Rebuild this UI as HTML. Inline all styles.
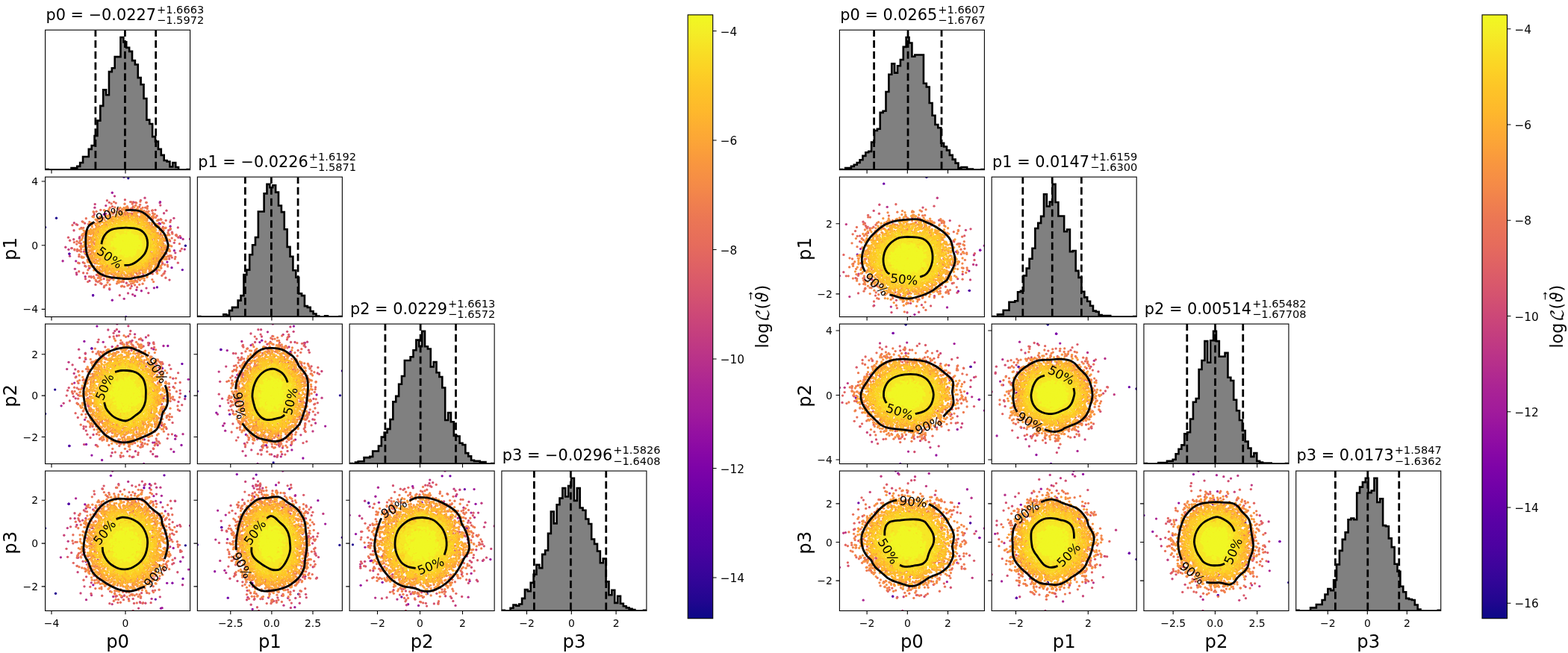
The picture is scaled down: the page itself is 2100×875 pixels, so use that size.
<!DOCTYPE html><html><head><meta charset="utf-8"><title>corner plots</title>
<style>html,body{margin:0;padding:0;background:#fff}body{width:2100px;height:875px;overflow:hidden}svg{display:block}text{font-family:"DejaVu Sans","Liberation Sans",sans-serif;fill:#000}.k0{marker:url(#m0)}.k1{marker:url(#m1)}.k2{marker:url(#m2)}.k3{marker:url(#m3)}.k4{marker:url(#m4)}.k5{marker:url(#m5)}.k6{marker:url(#m6)}.k7{marker:url(#m7)}.k8{marker:url(#m8)}.k9{marker:url(#m9)}.k10{marker:url(#m10)}.k11{marker:url(#m11)}.k12{marker:url(#m12)}.k13{marker:url(#m13)}.k14{marker:url(#m14)}.k15{marker:url(#m15)}.k16{marker:url(#m16)}.k17{marker:url(#m17)}.k18{marker:url(#m18)}.k19{marker:url(#m19)}.k20{marker:url(#m20)}.k21{marker:url(#m21)}.k22{marker:url(#m22)}.k23{marker:url(#m23)}.k24{marker:url(#m24)}.k25{marker:url(#m25)}.k26{marker:url(#m26)}.k27{marker:url(#m27)}</style>
</head><body>
<svg width="2100" height="875" viewBox="0 0 2100 875">
<defs><marker id="m0" overflow="visible" markerUnits="userSpaceOnUse" markerWidth="40" markerHeight="40" refX="20" refY="20" viewBox="0 0 40 40"><circle cx="20" cy="20" r="16.5" fill="#20068f"/></marker><marker id="m1" overflow="visible" markerUnits="userSpaceOnUse" markerWidth="40" markerHeight="40" refX="20" refY="20" viewBox="0 0 40 40"><circle cx="20" cy="20" r="16.5" fill="#310597"/></marker><marker id="m2" overflow="visible" markerUnits="userSpaceOnUse" markerWidth="40" markerHeight="40" refX="20" refY="20" viewBox="0 0 40 40"><circle cx="20" cy="20" r="16.5" fill="#43039e"/></marker><marker id="m3" overflow="visible" markerUnits="userSpaceOnUse" markerWidth="40" markerHeight="40" refX="20" refY="20" viewBox="0 0 40 40"><circle cx="20" cy="20" r="16.5" fill="#5102a3"/></marker><marker id="m4" overflow="visible" markerUnits="userSpaceOnUse" markerWidth="40" markerHeight="40" refX="20" refY="20" viewBox="0 0 40 40"><circle cx="20" cy="20" r="16.5" fill="#6001a6"/></marker><marker id="m5" overflow="visible" markerUnits="userSpaceOnUse" markerWidth="40" markerHeight="40" refX="20" refY="20" viewBox="0 0 40 40"><circle cx="20" cy="20" r="16.5" fill="#6e00a8"/></marker><marker id="m6" overflow="visible" markerUnits="userSpaceOnUse" markerWidth="40" markerHeight="40" refX="20" refY="20" viewBox="0 0 40 40"><circle cx="20" cy="20" r="16.5" fill="#7b02a8"/></marker><marker id="m7" overflow="visible" markerUnits="userSpaceOnUse" markerWidth="40" markerHeight="40" refX="20" refY="20" viewBox="0 0 40 40"><circle cx="20" cy="20" r="16.5" fill="#8808a6"/></marker><marker id="m8" overflow="visible" markerUnits="userSpaceOnUse" markerWidth="40" markerHeight="40" refX="20" refY="20" viewBox="0 0 40 40"><circle cx="20" cy="20" r="16.5" fill="#9511a1"/></marker><marker id="m9" overflow="visible" markerUnits="userSpaceOnUse" markerWidth="40" markerHeight="40" refX="20" refY="20" viewBox="0 0 40 40"><circle cx="20" cy="20" r="16.5" fill="#a21d9a"/></marker><marker id="m10" overflow="visible" markerUnits="userSpaceOnUse" markerWidth="40" markerHeight="40" refX="20" refY="20" viewBox="0 0 40 40"><circle cx="20" cy="20" r="16.5" fill="#ad2793"/></marker><marker id="m11" overflow="visible" markerUnits="userSpaceOnUse" markerWidth="40" markerHeight="40" refX="20" refY="20" viewBox="0 0 40 40"><circle cx="20" cy="20" r="16.5" fill="#b7318a"/></marker><marker id="m12" overflow="visible" markerUnits="userSpaceOnUse" markerWidth="40" markerHeight="40" refX="20" refY="20" viewBox="0 0 40 40"><circle cx="20" cy="20" r="16.5" fill="#c13b82"/></marker><marker id="m13" overflow="visible" markerUnits="userSpaceOnUse" markerWidth="40" markerHeight="40" refX="20" refY="20" viewBox="0 0 40 40"><circle cx="20" cy="20" r="16.5" fill="#ca457a"/></marker><marker id="m14" overflow="visible" markerUnits="userSpaceOnUse" markerWidth="40" markerHeight="40" refX="20" refY="20" viewBox="0 0 40 40"><circle cx="20" cy="20" r="16.5" fill="#d24f71"/></marker><marker id="m15" overflow="visible" markerUnits="userSpaceOnUse" markerWidth="40" markerHeight="40" refX="20" refY="20" viewBox="0 0 40 40"><circle cx="20" cy="20" r="16.5" fill="#da5a6a"/></marker><marker id="m16" overflow="visible" markerUnits="userSpaceOnUse" markerWidth="40" markerHeight="40" refX="20" refY="20" viewBox="0 0 40 40"><circle cx="20" cy="20" r="16.5" fill="#e26561"/></marker><marker id="m17" overflow="visible" markerUnits="userSpaceOnUse" markerWidth="40" markerHeight="40" refX="20" refY="20" viewBox="0 0 40 40"><circle cx="20" cy="20" r="16.5" fill="#e87059"/></marker><marker id="m18" overflow="visible" markerUnits="userSpaceOnUse" markerWidth="40" markerHeight="40" refX="20" refY="20" viewBox="0 0 40 40"><circle cx="20" cy="20" r="16.5" fill="#ee7b51"/></marker><marker id="m19" overflow="visible" markerUnits="userSpaceOnUse" markerWidth="40" markerHeight="40" refX="20" refY="20" viewBox="0 0 40 40"><circle cx="20" cy="20" r="16.5" fill="#f3874a"/></marker><marker id="m20" overflow="visible" markerUnits="userSpaceOnUse" markerWidth="40" markerHeight="40" refX="20" refY="20" viewBox="0 0 40 40"><circle cx="20" cy="20" r="16.5" fill="#f79342"/></marker><marker id="m21" overflow="visible" markerUnits="userSpaceOnUse" markerWidth="40" markerHeight="40" refX="20" refY="20" viewBox="0 0 40 40"><circle cx="20" cy="20" r="16.5" fill="#fb9f3a"/></marker><marker id="m22" overflow="visible" markerUnits="userSpaceOnUse" markerWidth="40" markerHeight="40" refX="20" refY="20" viewBox="0 0 40 40"><circle cx="20" cy="20" r="16.5" fill="#fdac33"/></marker><marker id="m23" overflow="visible" markerUnits="userSpaceOnUse" markerWidth="40" markerHeight="40" refX="20" refY="20" viewBox="0 0 40 40"><circle cx="20" cy="20" r="16.5" fill="#febb2b"/></marker><marker id="m24" overflow="visible" markerUnits="userSpaceOnUse" markerWidth="40" markerHeight="40" refX="20" refY="20" viewBox="0 0 40 40"><circle cx="20" cy="20" r="16.5" fill="#fdca26"/></marker><marker id="m25" overflow="visible" markerUnits="userSpaceOnUse" markerWidth="40" markerHeight="40" refX="20" refY="20" viewBox="0 0 40 40"><circle cx="20" cy="20" r="16.5" fill="#fad824"/></marker><marker id="m26" overflow="visible" markerUnits="userSpaceOnUse" markerWidth="40" markerHeight="40" refX="20" refY="20" viewBox="0 0 40 40"><circle cx="20" cy="20" r="16.5" fill="#f6e826"/></marker><marker id="m27" overflow="visible" markerUnits="userSpaceOnUse" markerWidth="40" markerHeight="40" refX="20" refY="20" viewBox="0 0 40 40"><circle cx="20" cy="20" r="16.5" fill="#f0f724"/></marker></defs>
<g>
<rect width="2100" height="875" fill="#fff"/>
<g transform="translate(0,0)">
<clipPath id="c000"><rect x="60.6" y="40.2" width="194" height="187.4"/></clipPath>
<g clip-path="url(#c000)">
<path d="M60.6 227.6V227.07H64.48V227.6H68.36V227.6H72.24V227.6H76.12V227.6H80V227.6H83.88V227.6H87.76V227.6H91.64V227.6H95.52V225.02H99.4V225.02H103.28V222.87H107.16V217.93H111.04V209.98H114.92V209.98H118.8V199.89H122.68V194.95H126.56V182.06H130.44V161.65H134.32V141.89H138.2V120.41H142.08V127.28H145.96V96.13H149.84V91.19H153.72V76.15H157.6V76.15H161.48V49.94H165.36V56.39H169.24V63.91H173.12V68.85H177V81.09H180.88V86.46H184.76V104.08H188.64V113.32H192.52V132.01H196.4V160.58H200.28V165.95H204.16V183.13H208.04V189.58H211.92V199.89H215.8V207.84H219.68V214.93H223.56V216.43H227.44V223.52H231.32V217.93H235.2V223.95H239.08V227.6H242.96V227.6H246.84V227.6H250.72V227.07H254.6V227.6Z" fill="#808080" stroke="#000" stroke-width="2.6" stroke-linejoin="miter"/>
<path d="M127.91 227.6V40.2M167.44 227.6V40.2M208.68 227.6V40.2" stroke="#000" stroke-width="2.78" stroke-dasharray="10 4.8" stroke-dashoffset="-0.9" fill="none"/>
</g>
<rect x="60.6" y="40.2" width="194" height="187.4" fill="none" stroke="#000" stroke-width="1.1"/>
<path d="M69 227.6v4.9M168 227.6v4.9" stroke="#000" stroke-width="1.1" fill="none"/>
<text x="61.5" y="26.6" font-size="20.83">p0 = −0.0227</text>
<text x="210.01" y="17.64" font-size="14.58">+1.6663</text>
<text x="210.01" y="32.34" font-size="14.58">−1.5972</text>
<clipPath id="c010"><rect x="60.6" y="237.15" width="194" height="187.4"/></clipPath>
<g clip-path="url(#c010)">
<radialGradient id="u010"><stop offset="0" stop-color="#f0f724"/><stop offset="0.17" stop-color="#f0f724"/><stop offset="0.33" stop-color="#f1f426"/><stop offset="0.5" stop-color="#f3ee27"/><stop offset="0.67" stop-color="#f6e626"/><stop offset="0.83" stop-color="#f9dd25"/><stop offset="1" stop-color="#fcd025"/></radialGradient>
<ellipse cx="169.88" cy="327.56" rx="31.74" ry="27.46" fill="url(#u010)"/>
<g transform="translate(60.6,237.15) scale(.1)" fill="none" stroke="none">
<path class="k0" d="M0 674l149-123 963-534 766 904"/>
<path class="k2" d="M1081 1874l-27-1874"/>
<path class="k3" d="M323 1029z"/>
<path class="k4" d="M640 1586z"/>
<path class="k5" d="M1498 1478l339-234"/>
<path class="k7" d="M550 978l342 377 802-140"/>
<path class="k8" d="M788 501l-159 335-89 196 357 619 645-521 91 9 181-325-275-478"/>
<path class="k9" d="M897 211l642 416 136 34 53 325-270 501"/>
<path class="k10" d="M810 492l714 129 47 536-283 369-87 67-339-87-451-379-176-1 1705-295"/>
<path class="k11" d="M679 645l-143 690 520 297 166-119 90-222 555-322-22-136-310-488"/>
<path class="k12" d="M663 410l149-26 117-127 726 514-125 358-30 122-329 323-580-353-193 11 23 75-92-247-16-88"/>
<path class="k13" d="M387 616l74 188-3 17 62 179-248-59 146 343 174 108 517 166 273-4-28-65 139-213 249-259-197-249-67-24 112-258 133 66-547-101 158-171-668 84-18 155"/>
<path class="k14" d="M430 642l53 40-99 34-3 120-30 118 125-64 57 303 505-73 50 301 68 42-159 122 667-206 63-497 56-72-6-132-96-99-167-3 28-197 82 71-315 23-146 23-91-24-90-36 201-98"/>
<path class="k15" d="M417 634l79-37 34 23 50 12 78-133 200 7 22 52-23-216-29-27 240-10 142 38 68-31-18 87 8 66-100-50 307 27-49 198 113 58 38-27 74 45 24-12 24 37-28 117-51 83 41 157 36-19 80 71 31-159-3-199-377 48-144 400 19 85-73 153-377-93-68-20-32 66-70-33 5-86 24 7-98 17-75 29-32-220 36-130 58-87-244 26-27-103-21-41 358 346 936 109"/>
<path class="k16" d="M364 645l158 110-17 37 162 47-15-363 256 16-10-97 48-46 195-15 17 155-56-7-29 21 35 23 240-45 22-88-18-50 79 108 64 69-15 24 65 22 71 17 57 20-51 425 37 41 169-107-235 329 20 60-176-53-205 107-28-21-86 63 22 45-92-87-30 0-158 91-73-18-113-35-103-39 18-69-28-46-51-3-59-20 4-111-3-90-24-74-35-13 193 214"/>
<path class="k17" d="M547 556l-14 183 31 105-98 10-42 9-3 36-33-24 5 94 37 2 50-3 0 32-39 150 103 49 74 147 29-11 70 12 18 6 16-20 54-16-98-16 20-55-1 147-19 13 33 18 52 36 25-13 202 19 39 4 142-22-1-114-41-18-129 11-62 13 14 28 8-104 389 35 13-99 59-101 105-165 51-83 22-12 68-20 6-59 46 19 8-3 5 14 37 105-55 177-6 25-96 102-59 100-20 22 11-595 38-42-59-113-109-14 4-21-7-50-2-39-81 17-16-54-60 19-11-57 3-43-52 19-54 12-7-23 18 57-19 58 1 75 110 7-39 52 13 29 186 112-74-385-436-8-34 24-4 118 41 0 56 59 9-113-246 20-57 20 2 172 70-59-96 322"/>
<path class="k18" d="M506 602l5 80-20 9 89 55 37-26-24-118 42-71 10-66 81 74 57 10 5-103 78-35 65-3 99 25 39 11 34 0 23-1 20-18-39-10 4 91-91 26-10-45-120 56-192 42-64 350-43 0-8-14-117 8-14-48 5 105-2 54 32 28-1 9 15 3 65 32-41 43 48 91 83 109 21 27 153-1-33-53-21-3-6-24 95 141 94-14 72 33 5-72 52-25-7-27 92-21 53-20 33-9-14 83-19 31-67-2 17 25-27 8-46 23 158-13 44-11 58-88 70 31 17 30-53-139 155-44 13-50 37 5 36 3-22-78 29-40 18 7 5-15 17 1-17-60 24-66 43-81-102-68 11-34 33-54-63-12-45 10 16 26 4-95-20-11-51-32-6 76-33-20-8-6-28 45-9-99 1-15 31-61-92 19-3-38 15-19-20-33-3-19-58 5-69 14-25-45-14 90-133-110 346 622-7 25 21 12 58 63 44 56 36-125-955 21 44 92"/>
<path class="k19" d="M462 697l74 34 25-4-70 55-8 136-4 28 47-16-10 147-21-2 61-16 35 40-21 39 27 58 45 8 33 43 48-9 50 4 27 11 41 45 49 4 28-22 44-33 42 10 12 44-14 51-4-1-12 66-18-15-97-35-36 47-87-39-15-19-27-2 18-45 27-9 11-99 68-15 130 4 257 93 56 5 35 45 10-8 9 62-59-4-43 14 17-48 228-110 35-63 38 26 21-66 22-48 41 11-2-27 5-121-31 4-3-22-9-15 5 55-17 13 93 3-36-163-59-13-20-31-36 1-7-33 83-66 70 94-164-194-27-42-33-11-14 3 22-19-76-32-24-15-25-15-31-10-12-6 13 34-52 3-11-44-21 12 34-39-6 125-1 45 89-74 71 115-6 17 42-3 19 456 31-12 28 15-13 24-817-2 36-78-79-24-13-1 1-136 21 3 1-84 35 1 39-39-11-27-41-100-7-6-36 22 63-57 11-16 24-5 31-11 59 46 78-26-51-114 12-22-54 15 169-27 12 47 27-16 48 39-13 36 41-122 17-12"/>
<path class="k20" d="M648 538l27 32 28 40 35-18 3-61 67-5 17-5 21 4 62 6-4 15-51-84 124 14 56-3 3-32 28-9-11-20-49 0 41 84 44-4 28 9 16-14 54 0 35-3 28-17-10-26-65 14 18-47 9 147-33 7-58-16-44 1 199 2 53-18-14-23-24-19 70 15 41-2 3 4-2 4-24 46-5 25-17 0-23 73 17 38 110 43 82-19 24 3 8 102 22 31-6 40 4 49-28 21 3 18 43-7-10 40-6 51 23 6-18 30-29-4-10 3-1 15-4 0-2-45-37 65-16 30-21 10 18 34-29 19 9 9-13 22 42 27 2 9 11-50 19 5 14-57-140-4-8 56-42-12-28-25-25 5 5-19-2 66-37-11-5 31 3 19-22 22 15 28 33 13 22-7 11 6 87-70 37-151-14-62 111-158 123 2-8 47 2-125-28-63-122-133-15-12-5-2-64-14-609 24-58 12-41 5-9 14-34-35-6 67-26 28-1 31 24 0-62 46-4 9-7 11-26 0 5 9 3 36-25 17-19 7-18-28-30-31 14-24 40 2 15-36-34-14-20-5 14-47 93-16 20-32-8-55-3 243 13 68-19 57-14 7-12-10-4 30 3 35-2 81-14 9 65 11-13 34-14 21 49-3-4 52 73 18 24-7 16 7 57 4-10-31 10-27 22-3-56-74-53-25-25 15-8-3-80-29 38-61-15-18 89 13-169-81-15 6-24 21-26-39 301-120 11 504 24 19-9 11 30-11 68-7-8-13 29-12-31 70 68 14 21 10 47-23 7-28 8-41 33 8 32-18 18-7 32-3 21-18-42 70-5 37-8-3-30-4 19 30 43-6 16 14-80-205-405 93 25 28"/>
<path class="k21" d="M593 626l26 24 45-23 31 13-8 31-4 25-12 1-22 4-5 5-8 44 33 1-63 8-7-4 1-21-20-15-15 26-6 17-11-1 61 7-32 34-9 12-14 51-31 10 0 36 41-15 45-20 15-18 1 55-7 3-19 29 23 31 17 1 0 38-11 0 5 56-24 9-28-1 4-18 7 83 22-1 5 4 55-2 14 12 8 1 24-43 4-27 8 4-46-44-2 176-4 17 21-6 27-25 11-9 27-25 65 43 31-4-1 21-18 13-11 25-27 9 60-2 5 4 58 5 23 19 17 27 28-7 16 1-24 31 95-5 7-31 12 8 24 6-7-49 38-5-14-16-56-5-23 48 109-2 50 28 9-6 18-75 51-21 10 46 36-26 17-48 12-21 11-22-7-16 21-5-15 85 27 29 15-8-24 39-43 26 5 13 107-122 14-21 11 11 22 13 3-101 2-47 20-15-13-16 38 0 15 2-18 34-23-88-14 8 97-14 15 16-3-56 13-25-62 23-21-61 5-46-22 8-36-9-12-64-21-5-43-27-33-21-12-27-10-20 19-4 20 26 55-11 11 2-19-14-23-47-20 8-52-3-11 25-9-5-15-85 0-15-23-43-36-40-60 25-22 9-20 33 46-3 5 21 17 93 63-57-229-47-37-17-24-13-19-1 3 14-21-31-21-12-38-18-32 30-19 30-30 14-50 52 29 29-55 4-34 19-20-11 32-52 55 80 34 88-11 96-96-14-35 12-141 142-19 55 76 173 265-35 119 74-137 113-15 3 69-751 166-133 12-35 64 16 376 224 20 76 24 35 21-12 20 31-3 31-107 61-81-111 28 271"/>
<path class="k22" d="M609 711l3 29 1 1 32-18 39 16 17 19-15 50-28-18-24 18-6 14 20 6-10 14 6 10-18 41 2 21 48 1 3-19 0-14-76-10-22 20-12-70 10-58 147-83-27-36 66 11 17-10 16-33-50-7 2-11 98-22-9-29 48 46-2 42 50-18-22-44 17-33 36-7-2-23-8 1-10 2 68-10 20-11 1 79-21-17-21 0 4-8 24 57 76 21 18-64-18-30 34-23 14 10 43-13 27-2-10 25 75 1 16-9 1 18 4 17-5 13-22-9 52-6 2-16 2-7 4 51 8-7-20 37 1 39-26 2 50-11 12 34-26 23 93 22 18 8 10 1 7-2 20-13-6-30-19 13-3-2-29-32-24 108-4 7-7-13 56 48 16 16 15 4-7 14 32 17-1 38-9 2 16 16 0 25 7 7 7 4 7 25 5-4-10 22 18 18-42-4-4-32-43 28-22 23-7 36 21 4 29 9 10-16 0-20 28 13 7-5 6 26-3 13-11 24-25 20-14-10-22 6 22 22-36 20-15 0 5 32-17 4-10 12 15 6-62 3-22 14-17-4-19-7-39 3-45 17-24-4-15 13-49 5 4-42-24 13 30-48 5 137-104 12 12-46-14-12-57 12 9 9 0 19-7 6 4 4-12-18-29-29-52-28 15-24-50-19-10-39-36 18-20 7 5 27-1 15-11 20-14-33-7-15-36 18-25-26-7-53 5-24-43 22-1-49-6 0 20-18 1-23-30-10-21 9 8 64 133-21 6-1 43 8 2 118 17 27-2 37 6 11 38-7-3-4-116-15-2-105-15-131-35-4-7-24 3-24-30-18-15-8 167-236 425-115 261 214 30-2 1-29 8 6 4 53 13-8 15-12 28 1-34 41-8 21 3 11 7 19 10 7 5 36 28-48-80-22-79-11-38 72-17 152-17 9-32 162-12 0-16-11-303-46"/>
<path class="k23" d="M702 647l1 48-5 10-8 12-8 8-9 22-7 27-5 14 40-14 24-14 1-44-8-26 21-10 13-17 21 16 21-15 7-10 13 9 19 5 18-20 16 0 3-11 3-34-6-11 4-24-28 10 0 29 4 9-27-3-31 12 3 72 9-8-17 21 23 22 40-25-115 91-46 49-4-1 5 16-6 33 0 3-14 41-3 22-39-2 8-36 13 10 56 39 3 14 3 35 9-6 27-10 32-2 0-15 18 50 9 60 7 35-37 0 0 29-16 2-15-13-6-20-18 33-3-88-12-6-7 12-18-5 17-26-19-30 71 46 42 131 7 10 17-32 14 52 12 3-7 30 41-17 20-24 30 9 0 23-8 4 3 8-21 11 56-25-2-12 44-29 35-9-4 32 15 0 19 16 22-10 31-2 12-11 17-23-7-14-51-2 12 87 6 25 28-21 4-17 11-14 12 9 3 6 0-24 25-20 25 11-2 31 23 2-13-68 67-5 3 31 51-7 13-14 16-3 1-20-9-23-5 2 12-15 18-8 41 3 3-7-8-12-3-6 5-17-45-2 27-47 6-18 23 8 5 6 5 3 18-11 0-23 22 16 27-3 3 4-25-28-3-25 7-16-8-14-16 15 55 8 7-51 15 1-20-29 5-8 6-23-51 21 1 16 12 28-2-110-9 1 0-25-7-13-8-6 2-21-7 42-4 14-9-1-3-23-19-16 16-44-16-17 2-4-48 1-17 13 0-31 21-15-13-31-35 1-6-8 13-15 4-3-38 0 3 7-11-22-17 3 9-21-27-2-18-8 7 24-44 1 4-18 2-13-13 0-3-3-6 4 2 7 30-15-9 54 14 30 36-10 54 51 76 43-4 71 20 52 3 9 14 6 72-72-36 273-5 45-26 57-20-9-92 8 2-19 6 35-43-43 75-120-15-18-178 297-124-7-21-27-27 13-1 26-113-118-18 11-23 15-71 37-47-339-7 6-86-79 300-243-1-17-8-3 27 13 17-7 14 20 16-5 1-21 36-8-18-23 41-1 25-2-1 27-21 14-18 20 114-11-3-19-7-2-8-21-5 1 31-8-41-27-179 35 2 5-47 2"/>
<path class="k24" d="M783 662l-3 34-11-1 35 0 19-15 41-3 12-2 13 4 14 0-5-11 1-26 24 4 0 5 13-10 11 0 0-33 23-1 6 2 6 19 10-8 23 4-7 15-12-43 3-17 38-26 12 47 14-2 18-8 31 7 5-17-11-4 26 8 6 27 22-2 18-22 12-12 4 24 4 21 24-17 4 48 46-11 17-9 4-8-8-17 17 36 31-4-4 34-25 8-5 13 8 9 26 1 6 5 13 2 7 2-12 4-10 7 13 14 20-9 2-3 16-8 6 18 14 6-2-14-37 22 2 14 15 45 25 0 10-7 8 5-5 12-15 14 39-27-13-27 0-20 23 5 26 78-19 26 6 11 7 25 8-4-42 5-18 1-2 16 1 12-22 5-3-15 13-10 38 24-3 18 6 6-2 11 5 10 0 14 2 9 1 12-66-1 0 17 13-1-26-4-7-21 28-23 28-4 9-22 44 7-19-40-100 24 10-70 22 181 2 13-3 18-12-10-21 10-18-2-1 11-15 8-6 13-2 13-4 18-6 7-11-14-3 2-2-8-9 18 4 23 20 4 10 15-47 10-23-3-13-8 0 17-16 1 5 17 34-10-1-31-1-16 9-27 15-33-53 23-5 26-5 13-32 9-1 7 10 11-26 15-12 10-3-29-8-1 18-17-34 69-38 3-19-27-18-3-7 0 30-14-20-24-44 23-9 36-30-8-2-13-5-6 7-16-12-19 26 0-49 6 7-23-34 14-15 9 4 6 14 7 22 15-72-16-8-12-10-28-3-26 4-21-27 16-5 0-20 13-9 11-17-2-7-29-4-20 25 1 0-17-12-24-1-12 7-16-23 4 2-27-10-28-12-9-20 1 8 9 6 15-17 4 12-54 5-22-30 6-7-18 13-20 7-1 0-24-4-17 1-21 27-7 29 11 2-20 36-15-13-35-19-4-8-5-2-9 7 2-19-7-17 12-9 10-12 2 5 30 23-14-8-55 9-20 13 8 24 15 40 25 38-43 9-63-15-12 26-22 39-1 40 97-7 86-159 64-26 25-7 73 34 23 20 25 18 72 54-19 18 2-139 2-30 7-8-5 7-13 10 83 75 25 2 3-15 16-116-232-14-10 18-64-12-63-4-13 619-71-15-70-21-89-96-27 204 572-6 20-1-1 75-67"/>
<path class="k25" d="M768 729l35 8 37 1 20-3 9-1-5-18 26-7 4 1 13 3 7-5 14-27 10-7-8-23 24-4 6 8 4-14 15 12 3 9 5 3 17-7 15 10-2-23 17 0-2-25 12 2 6 12 16-7 2-10 15 14 2 8 19 5 20 0 8 5 10 2 21-2 19-2 3-10-11-2 11-12-27 2-4-21-33 11-19 5-3 40-25-2-2 9 5 10-19 21 85 10-5-27 38 8 10-26 19 4 4-9 12-9-8-11 9 43 15 9 6 6 10-5-2 24 23-1 4-14 2-17-16-22-24 5-33 62 62 8 23 3-5 12 7 4 12 3 14-12 16-4 2 15-13 16-5 5 6 32 14-5 10-8-2-3 7 6 18-12 3-5 17 0-1 18 0 30-22 0-25-6-9 15 32 34 21-9 0-10 19-5 15 20 9 4-17 11-14 4-14 14 0 12 7 3-8 25-15 18 9 18-19 3 31 15-11 15-3-1-1 28-13 10 4 14 0 14-20-9-15-2-2-17-26-3 8 24-18 0-13-5-30-11-19 17 29 17-14 24 9 15 13-6 7-9 15-10 17-3 7 2 8-21 5 4 12 2-2 37-34 17-59 17-10 10-33 0-5-10 12 1-12-21-8-6-14 8-15 8-13-8-2-6 10-6-14 26 7 18-3 14-17-18-7 4-22-3-2 8-14-25-18 15-17-12 6-15-19 2-9 3-3 5-17 4-23-5-4 15-5 17 36-2 21-3 15 23 21-4-14-80-12-1-35 7-6-30-28-8-2-18-3-44-71 2-62 1-12 10-1 13-8-1 3 14 21 2-1 10 7 13 8 0 27 8-7 14 10 21 5 5 4 3 5-1-7 14 19 2 18-2-8 16-3-43 10 3 20 17-75 12-21 6 2-21-25 0-20-44 8-13-17-8-8-25-3-28 5-44 1-6-10-14 7-20 5-9 0-29-27 4-2 29-20 20-6-35-2-40-6-18 17 5-1-16 7-8-12-19 35-11-9-14-3-17 17 7 22 1 8-11 13 4-4 10 1 15-8-2-22 32-12-1 7 36-16 2 31-9 16 13 0 10 16 11-19 45-1 9-10 38-33-6 78 3 25-20 32-4 9-4-88 52 65-205-10-21 54-38 32-68-95-1-4 8-28 8-26 6 220-92 96 29 113 127 10 8 18 2 16-2-6 18-20-6 47-54 20-19 27 62-16 174-6 59-13-5-1 25 16-3 18 15 52-72 19 6 16 4-3-48 0-3-225 195-33 47-1 9"/>
<path class="k26" d="M847 756l13-4 2 16-8 15-4 14-12 0-4 9-1 21 29-2-1-14 15-12 17 23 21-2 14-7-3-12 8-9 7-16-15-10-5 4-1 12-24-5 5-14-8-13-6 4-6 6-7-27 32 5 7 16 10-31 7 7 14 2 20-16-2-28-5-3-24 17 52-1 5-5 3-24 4 4 38-2 2 17 12-5-3 23 5 5 21-3 12-7 4-1 21 5 2-13 5-3-8-12-12 3 34-10-13-21 9 57 0 12 13-2 7-3 14 6 3-10 6-20-3-21 34 8 10 27 7 9-23 2-6 10 5 9-8 12 9 16 22 3 2 11-9-26 29-5 11 2-5-9 3-12-8-5 22 12 2 53-8 8-3-14 28 17 6 11-5 15-2-1-14 0 14 20 13 12 8 0 4-4 6 17 23-9 10 0 17 2 1 6-1 15-24 4-6 9-6 14 12 1-4 8 3 11 9 1-22-2-9 2-16-1 1 24 7 18 12-3 8-5 5-16 16 20 1 17-25-2-10 28-7 6-2 12-8 4-12-2-4 4 2 14 19 4-34 19 6 20-41-6-5-2-4-6-10 7-22 1-3-2 2 13-29-5-18-1-2 9-6 9-18 5 3-17-1-3-1-15 16 1-2-18-11 1 25 2 3-8 23 2 10-4 2-10 8 4 2 17-9 0 28-23 10-4 9 2 2-8 10 11 10-2 2-23 16-15 13 2 0-7 8-3-15-29-17 14-24-2 0-9 5 21-4 8-21 11-10-42 34-43 12 0 8-15 17-6 26-10 49 11 16 5 10 30-12-87-32-5-2 1-25-24-7 5 11-30 7-4-160-28-7-13 21-23-36-6-32 12 2 23-16-3-5-31-23 15-22 8-7-18-16-6-12-12 9-12 0 47-10 1-2-11-20-9-3 17-9 1 30 18 16 10-24 64 58 5-16 20-4 95-11 29-14 10 6 36 13 1-4 23-11-5-22 8-6 0-5-9-29 5 3 14-24-8-22-2-15-9 28-5 15-5 5-12 5-23-30 7 1-29-4-9-11 1 0 4-4 19-27-8-10 0-1 12 8 11 3 9 3 9-14-5 2 16 4 18 52 19-11 17 31 3 5-5 22-2-1 29 2 12 7 7 14-29 20 0-4 8 1-18-8-5 26-11 11 8 3 9 25-8 9-2 1 18-6-2 13 0 14 2 8 14-19 14 42 0 34-7 21-16 48-7 12 7-7-63-140 13 8 27-52-12 9-17 8-14-115 69-18-7-3-136 21-6 1-11-7-10-29-19-10 6-6-1-3 23-18-2-3-11 7-1-22-9-10-12 2-17 23 6 1-26 9-24-2-22 20-1 15 13-13 16 18 9 11-2-79-3-3-7 0-11 14 0-42-8-4-3 10 36-5 38-1 2 0 16 7-2-3 20-2 10 2 7 21-12-9 47-2-1-35-85 254-266"/>
<path class="k27" d="M955 760l16 6 15 16 1 4 4 14-12-2-13 6-6 15-8 26-1 13 14 7 6-13 5-2 0 7 6 24 11-3 0-5 14-7 10 6 6-7-4-17 7-13 8-3 20-6 18-2-1 19-3-1 2 6-12 1 11 11 10 7 1 3-1 5 6 10-3 12 14-7-1 18 12 0 6 7 7 0 4 16-9 16 15 6-7 25 26 2-2-9-3 18-3 0-11 11 10 13 2-1 14 12 7-20 20-7-2-12-5-15 0-11-1-3 2-11-4-22 17-8 22 2-3 8-8 18 2 10 10-1 3 20-10 22-1 21-18 5-2 14 9 5-27 2-23 0-6 7-11-8-4 0-12-7-4-17-26 1-15 0 9-18 8 1 6-5 13-10-6-16-17 10-8-7 2-7-10-6-1 15-17-3-9-12 5-25 11 3 1-13 17-1 23-2-6 10 0 13-67 0-5-7-6-4 7-8 4-31 10-15 28-6 4 9-13 27-5-1-1-3-47 3-28 0 8 10 2 13-6 17-1 16 15 1-1-6 9 7 9 2 2-18-13-5-7 43 0 13-7-2-4 13 3 10-1 20-13-1-30-14 4-19-7-10 28-11 2-7-7-47-11 0-2-12-10 1 6-15 6 2 15-9 17-7-38-15-3-1-9-15 11-17-2-14-6 2-4-2 62 0 11 2 19-12 5-12 3-21 13-11 7 21 2 2 22-9-4-18 28 13 5 8 17 0 2-7 11 0 8 2 14 17 2 6 15-1-8-12 3-27 13 6 11 12 25 3 15 2 4-3 8 0-2 27-6 12-12 5-2-12 0-17-32 11-10 7 5 8 10 5 19 9-12 13-1 17-5 13-5-3-9 2-20 4-4-7 4-13-7-12-4-15 8-2-17 0-14 6 2 18-1 10-6 14 16 3 12 9 4 2-1 4 0 10 7 23 81-11 0-13-18-14 1-24 0-10 21 8 5 14 13 5 15-2 3-8 9 13 7 3-9 30 3 5-13 1 2 20-25-6 12-88 5-2-5-10-17 5-1-24 39 29-117-8-66 3-8-23-1-5 16-1-6-21-14-8 43 13-15-47 5-5-1-6-6-13 27-13 0 30-67-27-65 64-53-14-63 89 6 22 9 0-1 7-15 21 143 67 1 8-4 10 11 6-21 2 9 10-24 2 39 12 37 2 0 24-12 2 38-6 56 0-110-65"/>
</g></g>
<path d="M167.9 281.9C170.4 281.7 172.8 281.4 175.3 281.4C177.8 281.4 180.3 281.4 182.7 281.9C185.2 282.3 187.7 282.9 190.2 284.1C192.6 285.3 195.4 287.4 197.6 289.3C199.8 291.1 201.8 293.3 203.5 295.2C205.3 297.2 206.3 299.3 208.0 301.2C209.7 303.0 212.0 304.4 213.9 306.4C215.9 308.4 218.3 310.5 219.9 313.1C221.5 315.7 222.7 319.3 223.6 322.0C224.5 324.7 225.2 326.9 225.1 329.4C225.0 331.9 224.0 334.4 222.9 336.8C221.7 339.3 219.9 342.0 218.4 344.3C216.9 346.5 215.2 348.0 213.9 350.2C212.7 352.5 212.5 355.4 211.0 357.7C209.5 359.9 207.3 361.9 205.0 363.6C202.8 365.3 200.1 366.9 197.6 368.1C195.1 369.2 192.6 369.7 190.2 370.3C187.7 370.9 185.2 371.3 182.7 371.8C180.3 372.3 177.8 372.9 175.3 373.3C172.8 373.6 170.4 373.8 167.9 373.7C165.4 373.6 162.9 373.1 160.4 372.8C158.0 372.6 155.5 372.5 153.0 372.2C150.5 371.9 148.1 371.6 145.6 371.0C143.1 370.5 140.6 369.9 138.2 368.8C135.7 367.7 133.0 366.2 130.7 364.3C128.5 362.5 126.5 360.0 124.8 357.7C123.0 355.3 121.7 352.9 120.3 350.2C119.0 347.5 117.5 344.3 116.6 341.3C115.7 338.3 115.4 335.4 115.1 332.4C114.8 329.4 114.7 326.4 114.7 323.5C114.7 320.5 114.8 317.3 115.1 314.6C115.4 311.8 115.9 309.2 116.6 307.1C117.3 305.0 118.0 303.5 119.6 301.9C121.2 300.3 124.0 299.0 126.3 297.5" fill="none" stroke="#000" stroke-width="2.8" stroke-linejoin="round"/>
<text transform="translate(146.3,287.1) rotate(-18.0)" y="6.1" text-anchor="middle" font-size="16.67">90%</text>
<path d="M166.4 355.4C168.9 355.3 171.3 355.6 173.8 355.0C176.3 354.4 178.8 353.2 181.2 351.7C183.7 350.2 186.6 347.7 188.7 345.8C190.8 343.8 192.5 342.0 193.9 339.8C195.2 337.6 196.2 334.9 196.9 332.4C197.5 329.9 197.7 327.4 197.6 325.0C197.5 322.5 197.0 319.8 196.1 317.5C195.2 315.3 193.9 313.2 192.4 311.6C190.9 310.0 189.3 308.8 187.2 307.9C185.1 306.9 182.2 306.4 179.8 305.9C177.3 305.5 174.8 305.4 172.3 305.3C169.9 305.2 167.4 305.2 164.9 305.3C162.4 305.4 159.9 305.6 157.5 305.9C155.0 306.3 152.3 306.6 150.0 307.4C147.8 308.2 145.8 309.4 144.1 310.8C142.4 312.3 140.8 314.2 139.6 316.0C138.4 317.9 137.6 320.1 137.0 322.0C136.3 323.8 136.3 325.5 135.9 327.2" fill="none" stroke="#000" stroke-width="2.8" stroke-linejoin="round"/>
<text transform="translate(147.1,345.0) rotate(36.0)" y="6.1" text-anchor="middle" font-size="16.67">50%</text>
<rect x="60.6" y="237.15" width="194" height="187.4" fill="none" stroke="#000" stroke-width="1.1"/>
<text x="51" y="248.16" text-anchor="end" font-size="13.9">4</text>
<text x="51" y="333.8" text-anchor="end" font-size="13.9">0</text>
<text x="51" y="419.44" text-anchor="end" font-size="13.9">−4</text>
<path d="M69 424.55v4.9M168 424.55v4.9M60.6 243.06h-4.9M60.6 328.7h-4.9M60.6 414.34h-4.9" stroke="#000" stroke-width="1.1" fill="none"/>
<text transform="translate(22.4,333.45) rotate(-90)" text-anchor="middle" font-size="24.3">p1</text>
<clipPath id="c011"><rect x="264.37" y="237.15" width="194" height="187.4"/></clipPath>
<g clip-path="url(#c011)">
<path d="M264.37 424.55V424.02H268.25V424.55H272.13V424.55H276.01V424.55H279.89V424.55H283.77V424.55H287.65V424.55H291.53V424.55H295.41V424.55H299.29V421.32H303.17V422.61H307.05V416.15H310.93V411.84H314.81V411.84H318.69V402.59H322.57V396.13H326.45V368.13H330.33V361.67H334.21V341.21H338.09V328.29H341.97V317.96H345.85V283.5H349.73V283.5H353.61V259.38H357.49V246.89H361.37V251.2H365.25V248.19H369.13V257.66H373.01V275.53H376.89V284.15H380.77V307.19H384.65V330.88H388.53V343.8H392.41V362.32H396.29V371.79H400.17V393.33H404.05V396.13H407.93V410.12H411.81V411.84H415.69V417.01H419.57V420.46H423.45V423.47H427.33V424.55H431.21V424.55H435.09V423.26H438.97V424.55H442.85V424.55H446.73V424.55H450.61V424.55H454.49V424.02H458.37V424.55Z" fill="#808080" stroke="#000" stroke-width="2.6" stroke-linejoin="miter"/>
<path d="M328.42 424.55V237.15M363.4 424.55V237.15M399.09 424.55V237.15" stroke="#000" stroke-width="2.78" stroke-dasharray="10 4.8" stroke-dashoffset="-0.9" fill="none"/>
</g>
<rect x="264.37" y="237.15" width="194" height="187.4" fill="none" stroke="#000" stroke-width="1.1"/>
<path d="M308.8 424.55v4.9M363.9 424.55v4.9M419 424.55v4.9" stroke="#000" stroke-width="1.1" fill="none"/>
<text x="265.27" y="223.55" font-size="20.83">p1 = −0.0226</text>
<text x="413.78" y="214.59" font-size="14.58">+1.6192</text>
<text x="413.78" y="229.29" font-size="14.58">−1.5871</text>
<clipPath id="c020"><rect x="60.6" y="434.1" width="194" height="187.4"/></clipPath>
<g clip-path="url(#c020)">
<radialGradient id="u020"><stop offset="0" stop-color="#f0f724"/><stop offset="0.17" stop-color="#f1f525"/><stop offset="0.33" stop-color="#f2f227"/><stop offset="0.5" stop-color="#f4ed27"/><stop offset="0.67" stop-color="#f6e626"/><stop offset="0.83" stop-color="#f9dc24"/><stop offset="1" stop-color="#fcce25"/></radialGradient>
<ellipse cx="168.24" cy="529.2" rx="31.74" ry="35.53" fill="url(#u020)"/>
<g transform="translate(60.6,434.1) scale(.1)" fill="none" stroke="none">
<path class="k0" d="M131 880l-131 323 1875-234"/>
<path class="k3" d="M323 1634z"/>
<path class="k4" d="M623 328z"/>
<path class="k5" d="M1319 382l249 212 265-59"/>
<path class="k7" d="M549 1613l1192-117"/>
<path class="k8" d="M693 30l-170 203 1119 61-88 657 5 193 265 480-1064 200-137-64"/>
<path class="k9" d="M1393 259l58 79 137 661 329-257-176 799-19 172-257-123-145 284"/>
<path class="k10" d="M776 242l808 52-43 220 399 391-613 643-485-109-627-342 176-307"/>
<path class="k11" d="M962 0l27 103-93 202 406-85-761 251-11 812 148 339 763-32 57 185 62-416 284 117 27-472"/>
<path class="k12" d="M314 512l-23 93 95 58 27 46 124-310 223 38 119 52 596 44-127-355-148-41 359 936-53 551-27 151 205-98-476 29-42 78-381-338-143-247-59-91"/>
<path class="k13" d="M450 341l-48 267 41 347-37 42-160 65 341-159 57 581-124 131 375 111-14 43 219-62 341 37 314-240 29-461-143-46-114-346-67 19-114-103 78-241-260-104-51-195-181 68 27 64-117-80"/>
<path class="k14" d="M365 548l78 86 18-181 76-62 167-149 265 52-10 36-26 63 188-27 29-125-38-77 30-70-184-20-43 48 115 145 285 31 68-15 68-36 71 338-247-58 437 204 3 113 94 88-134 101-107-24-154 185 385-32-386 546-232-214-163-56-472-8-31-27-23-544-176-4 63 117"/>
<path class="k15" d="M715 210l-9 166 66 57 176 124-259 121-53-8-97 91 39 321-71 86-70 86 78 119 30 4 89-4-71 108 41 43 83 101 370-15-46 173 173-3 58-27 31-102 16-35 6-95 225 57 116-43 62-58-74-73-47-51 128-30 126-237-26-196-145-43-3-48 25-197-20-51-88-16 206 121-349 393 22 158-74-954 2-99-96 54-150 27-40 31 60 88-292-180-564 717-13 69 42 69"/>
<path class="k16" d="M524 504l55 106-22 121-52 21-79 106-66 46 9 29 71 68 0 73-35 122 186-52-18-45-3-104 172 538 249 64 54-21 81 38 75-19 102 48-57 82-202 46-38-7-69-46 59-255 91-6 399 82-40 130 5 5 197-194 15-197-81-109-97 57-51-330 74-103 51-161-72-101-63-96-130-6 46-74 119-48-4-44-6-12-191-50-85 79-80-35-38 26-47-17-92-90 219-33-332 172-60 68 1063 408-137 154 62 80"/>
<path class="k17" d="M538 455l12 149 164-51-9-39 27-90-48-24-49-26 179 14 26-46 78 0 0 49-102 73-24-13 320-57-33-51-36-29-12-67-44-92 212 26 79 14-65 123-32-15-34 20 86 67 25-10 248 110 59 24 10 192-47 68 16 28-99-70 305-5-7 65 15 114 41 76-89 26-34-11-42-19 13-14-64 162 190-28 5 51-82 97-81 136-208 46-23 135 109 3-1 35-18 8-8 18 67-29-234-4-181 44-126-3 19-27-158 16-151 17 29-98-42-67-24-149 78-17 16-10-36-59-76-59-26-33-78 61 2 42-69 99-51-290-30-157-35 9 30-62-30-49 84-9 4 82-43-158 253 14 240 729 319-89 238-101-325 501"/>
<path class="k18" d="M667 330l118 42-101 113-5 8-37 17-17-2-9 7-47 122-70-2-56 4-9 130 81-25 45 32 54 5 25-76 86 107-108 177-49 74-134 9 29-109 0-45-40 17 90-34-1 260-24 52 114 45-33 47 38 50-7 24 55 37 37-78 26 6 61 19 47-61 128 50-18 70 45 127 1 25 54-2 35-12 3-79 34-22 115-11 28-56 54-60 76 45 26-77 62 43 43 20 45-30 5-13 24 33 2 88-116-8-89 83-14 97-34-9-28 24-24 22-116-42-22-17-12 91-65-10-48 55-118-54-75-136-42 12-22 10 17-40 742-259 14-47 57-19 36 38 13-4 24 17 3-38-12 75-31-28-72-122 70-107 60-37 26-11-44-90-40 14-11-125 59-61-43-59-60 10-21-67-15-23-5-68-42 17-33 57 33 35-90-61-34-27-42-3-37-21-69-50-37-18 1-126-26-44-60 23-52-19-30-51 42-64 26 17-155 24 145 148 210 28 25 7-5-70-26-31-54-37 154 180 33 28 72-105-18 565-34-4 33 88 270-137-658-261"/>
<path class="k19" d="M607 473l15 54 36 19 0-43-13 83 4 110-1 93-93-12 11-23-107 1-4-67 7 270 84-49 23-19 65 8-34 36 65 82-30 48-97 15-36-16-4-3-21 57 5 5 109 41 43 49 89-28 12 124-41 1-12 63-61-41-39-20 183 17 34 12-1-56 20 130 46-10 12 34 13 70 4 28-60 7-5 23-74-36 6-14-38-29-13-37 231 23 73-28 50-7 28 21 11 81 2 17-50-42-24 10 154 61 56 48 31-87 7-46 91 5 60-8 69-9-33-43 19-73 36 7 12 8 46 21 9-35 10 7 1-38-28-68-82 37-182 5-124 115-54 212 392-603 115 6-37-82 51-42 8-122-32-4-18-10-40-45-57 47-34 33 20 59-57-101-2-9-11-68 11-30 64 10-40-71-13-51 32-55 7-27 21-1-95-1-4-38 58-54 82 151 5 33 50 56-322-38-19-49-4-47 35 13-39-150 3-46 0-25-17-14 47 9-5 46-136-14-42-15-35 19-55 24-34 39-76 28 7 22-98 46-12-5-33-67-1-20-52 14 6 12-9-38 110-10 17-10 99-126 154 209-369 229 950 470"/>
<path class="k20" d="M566 575l3 13 30 27-6 27 16 73 25-14 15 62-36 9-3 34-43-11-1-3-12 4-37-7 3 61 17-10-59 36-9 35 22 51 17 2 3 15 31-36 7-15 6 77 2 8 6 31-33-5-4 96-31-17-27-22 187 4-9-35-29 92 78 2 16-3-4-20-1 137-41 7-5 46-20 23 52-2 22 20 5-42 38 61 63 24 5 54-40 6-56-25-32-31-96-82 12-47 193 1 104 62 53-19 77 73 20-8 5 95-25-9-40 68-43-42-21 77-25-12-25-8 6 39 67 1 94 11 60-11 26 9 6-12-14-31 1-32 43-12 9 19-19-40 17-44-27-36 57-10 3-14 77 23 45-6 1-7 0 66 62 29 8-73 13-2-4-22-32-57 101-7 21 7-4-83-10-8 92-60-24-31-12-18 1-23 8-16 7-2 36 12-18-85-38 27-42-46 9-54 61 11 9-84 28 1 29-21-29-77-35-118-20 2 1 17-10-55-115-18-22-54-10-51 22 0 59 4-19-29-45-47-28-56-51-1-5-20-4 118 32-5-112-31-22-20-25 87-13 9-59-17-10 59-122-37-40 22 8-61 20-70 41-3 39 23 34-31 18-113-1-49-62 30-46 44-58-8-14 14 26 43-19 32-30-14-56 6-16-13-15-31 25-9-64 58-7 20-43 83-42-14-25 25 1 57-24-18-16 2 80 57 1 31-24 24 26 32 54 0 15-22 32-29 18-27-40-42 81-6-168 180-114 129 5 91-95-262 809-95-30-321-119 9 46 986-94 23 127 161-13 50 54-9 24 31-29 31 239-106 44-62-102-299 209-83-4-57 5-13-822 553"/>
<path class="k21" d="M737 461l6 25-21 12 2 80-12-1 10 29-22 0-10-2-16-4-19-1 23-16 8 56-14 27-23 6-44-1-28 40-13 33 30-3-51 65-2 2-45 21 64 35-12 45-24 20-16 4 44 26 12-12 2 75 13 11 4 32 10 9 11-8 14-6-23-49 54-55 16-60 24-29 8-93 13-40 34 5 11-59 68 5-2 38-21-107-3-104 55-90 10-35 53 7 18 31 26-40 73-11 16-25-29-7 42-16-5-22 42 7-3 17 24 40-35 13 26 28 3 23 25 93 6 8 123 5 23 24-46 11-6 71 143-7-12-16-21-24 57 15 25-19 15-33-8-14-47-3 5-44-32-42-12-24-44-1-20-35-27 6-12 0 2 23 10 33 32 28 31 25 146-6 15 81 4 51 10-3-39-12-20 19-9 13-25 32 70 26 23 30 32-29 22-22 5 48-6 77-9-3 32 46-2 4 16 17 35-9 10-16 12 85-18 12-5 82 7 54-20 21-23-2-60-34-7-12 12-9 17-57-6-24 2-7-43 31 69 19-77-122-24 1 21 240-66 13-67 2 25-31-2 149 62-1-15 83 51 12-7 22 39-32 3-9 3-24 18-126-5-9-111 229-41-32-11-19-22-20-23 10-9 38-14 10-17-10-13 43 0 35 2 15-14 3 2 22 9 0-35 3-16-10-29-16-15 56-10-8-13 19-26-8-3 28-17 15 3-71-40 23 36-90 14-5-45-49 112 22 22-29 86-64-43-52 50 200 10-5 28 14 50 0-25-27-126 116-265-87-5-34-35-5-10-5-19-13-6-3-3 5-1-40-25 9 10-40-40-23 13-30 0-19-20 12-19-19-10 4-31-7-8-16-43 22-37 5-5 10-22-8-26 10-5-21 14-17-22-11 14-19-18-13-5-40 3-47-19-3-56 6-32-48 179 26 5 27 43 39 192 2 62 103-22 45-18 31-11 108-98-50-53 0 13 16 2 3-64-10 8-19 0-30-24 20-18-48 89-20-7 179 37 8 9 8-113-547-115-78 412-335 8-44-4-55 192-64 3-52 5 5"/>
<path class="k22" d="M686 541l35 18 23 9 9 13-6 29 0 11 3 15 6 33-19 44 2 4-37-5-18-3-12-26-13-46 23-43 17-4 59-49-5-12 1-30 13-34 69 16 17 9 20 11 0-37 17 12 11-4 20 1 5 14 4 8 13-30 16 6 25 35-7 20 3 21-55 25 1 6-75 26-24-28-26 32 38-82 56-83-13-38 58 24 48-3 32-7 25 27 49-2-5-48 12-7-36-6-4-24 62 51 19-12 37-4 9-25 52 68 37 12-8 11-68 17 0 28-40-1-16-25-80 17 37 47 135 11-3-26 118 7 23 14 16 19 12 6 24-2-6 22 27 10 36 19-21 23 3 13-11-1-67-9-16-5 29-16-16-18-42-4-18 32-19-7-9-31 22 71 21 79 102-6-10-22 36 4 7 31 21-16 6-25-7-17 36 24 12 84-21 3 8 22 0 25-16-4-16 13-3-28-14 2 2-9-26-26-39 39-22 13-3 66 1 36 48 22 20-17 11 33 19-16 10 5 42 0 6-9-17-5 34-25 6-52-31-14-15 13-21 26-18-16 111 15 6 89-24 21-32 3-11 24 0 7-48-3 0-22-8 5 3-13 19 58-32 37-5 3 18 14 7 23 47 5 0-17-18 42-23 45-36 8-20-1-16 29-29 25-14 18-5-4-45 3-26-20-9 1 58-15 5 87 0 25 2 14-3 23-9 14-40 5-28-20-23 17-1-39-3 2 23-28 34-2-9 14 99-43 19 9 9 10-27 66 64-122 32 1 1-32-12-3-24-62-47-50-5-110-203 155 25 48-38 56-26 3-13 50-4 14-8 47 37-7 9 51 29 3-93 36-25 34-67-2-23-48-4-31-19-15-2-21-32 9-52 0 9-40-55 6-12 28 4 11-4-72-9 7-7-28-26 14-7-3 2 15-6-2 11-55 57-12 25 15-26-61-8-84 32 1 130 26 147-36-55 226-19-3-53-12 17 51-6 26 40 15 11-9-163 12 3 19-21 11 49-130 7 0-223-98-42-18-30-15-8-13-17-13 40 0 7-12 1-7 28 13 10-50-45-14 8-58 45 10 24 22 3-127-47-31-42 4-8-35 6-22-52-16-16-19-5-7 14-21-19-9 10-20 27 5 7-3 11-26-8-67-26 5-8 25 106 68 88-13-187 118-4 41 27 17 24 22-3 9-59-1 5 19-7 8-9 6-23-32-20 4 24-123-24-28 82 303 7 9 737-715"/>
<path class="k23" d="M749 567l3 33 15 5 7 22 7 4 9 1-14 13-16 16-10-2-22 12-1 21-18-33-7-5-13 9-4 55-2 10-14-14 44 32 14 9-14 20 29 5 24-18 11-7 9-8-1-7 11 17 12-40-47 17-33 85-9 42-10-8-22 9-29-3-5-11-12 30 45 22 37-2 41 26-68 15 2 7-10 11-17 13-10 13 0 5-39 7-20 32 9 63 52 15 15-24 4-9-24-3 3-26 67 54-3 97 14 1 0-7 23-6-3 35 15 5 15 0 18 3 17 2-19 16-36 1-1 25-36-3-4-1 14 25 0-51-21-16-22 15-19-36 0-17-32-30 160 3 27 8 31-9 47 83-13 78-39 13-2 8 15 21 8 12 31 3 21-25 21 34-9 10-3 5 10 10 14 8 17-12 9-19 24-3-35-17 10-13-6-12 0-35 87 53 28 3-20 38-15 5 9 16-13 12-10 17-13 1-10 20-11 11-11-46-24 8-58-2-1 3-76-40-24-57-8-25-16 4-23 25 19-296 10-20 23 9-56-31-17-15 61-175-136 6-55-33 255-92-41-60-1-43-3-46-17-10 2-9-29 13-4 2 75-13-4-19 20-6 13 32 19 9 13-14 6-13-9-6 12-36 10-9 5 18 4 8 4-39 22 2 9-5-21-21 24-18 24-12 1 36 14 21-3 11 14 14 9-4-48 3 13 43-16 37 68-19 8-20 20 15 38-12 0 58 2 30 69-31 26 7 32 14 25 24-6 6 10 4-10 18 51 9 11-7 16-20 47-5 3 27-27 24 9 13 15 45 28 7-7 11-12 22 34 22 11 30-1 29 19-14 18-6 12-12 17 10 5 32-13 21-24 13 4 18-16-8-21-5-37 0-41 11 28-60-7-12-69-43 32-66 74-6 27 11-27-66-69-92-52-8-19-2-15-13 6-35-8-16 2-42-33 21-2 5-22 9-18-10 10-14-15-13-23 3 1-12-2-25-22 8 7 35-62 3 14-41-38 1 15-50 134 44-17 99 3 5-28-9 65 16 72-9 6 15-9 70-275 43-126-85-16 6-41-24-5-110 623 435 9 61 30-7 5 28 1 34 9 12-36 23-4 40-8 13-34-12-14-5-17 6-12 17 15 19 47 17 11 15 10 15-21 14-8-6-7-17-12 47-11 22-8 12-11 1-15-4-1 44 19 8 7-27 32 28 4-55 10-14-116-14-6-3-12 59-8 13 8 12-38-27-12 55-22 12 4 32-6 20-21-25 44-4 27 19 6 46 17-9-54 10-60-7-44 17-5-4-5 31-27-1-1-50-9 3-17 0 45-52 19-24 12 2 2 4 8-17-24-34-8 6 71-1 8-12-19-123 157 9-33-87 115-16-13-13 8-32 7-18 14 2 14-14-62 14 15-53-48 384-213 48"/>
<path class="k24" d="M866 532l4 12-8 18-23 5-14 29 2 11 31 13 22 7 10-12 12 3-5 21-21 9-6 34-32-19-4 43 27 22 7 16-55 6-44 10-3-21 4-8 7-19 5-2-21-6-19 1-9-2-37 30 15 26 21 34 28-5-16 29 14 17-4 12-18 2-14 13-8 24-1 7-21 18 1 24 11-10 28-1 19 21-20 54 10 15 8 18 8 14 9 2 6-8 23-12 8 2 34 2-24-54-100 5-8 14-13 9 18 17-17 19-8 8 10 13 9 19 7 20 18 19 6 16 0 9 7-5 15 5-2 5 27-10 1 27-2 15-6 12-4 17-5 19 27-30 3 0 14-22 17-15 2 59 19 4 11 3 14 19 1-40 22-1-14-18 38 38 36 39 56-3 1 29-16 21-7 20 42-2 21 4 18 16 23 2-6-22 4-16-22-2 28-38 21-55-60-14-31-57-65 35-23 135 4 9-12-14-15-9-12-8-20 3-16-10 0 50 26 31 42 11-5-27 45 47 29 9 9-21 10-6 0-20 3-6 17 6 80 8 16-4 3 10-22 20-25 3 4 8-11 2 2 16 29-80 2-3-2-9 78 4 0 13 22 7 7-6 4-19 12-4 24-8 10 18-21 27-67 7-3 3-6-11-3-1 27-59 7 4-15-30-35 14 97-8 20-12 29 6 11-1-5-7-2-6 13-22-25-12-9-48 15-45 43 1 26 4 12 8-2 4 7 4 5 1 0 25-13 17 3 7 2 14 23 4 10 7 13-26-29 1-28 32 2 38 19 3 6-5-62 0 14-15 3-74 43-50 44-10 5 0 7 26 18-64-26-26-4-15 8-13 6-5-12-55-31 1-2-30 13 2 23-5 14-16 6 5 7 18-39-32-41-6-10 6 6-20-14-16-6-32 1-13-1-31 25-5-3-10-1-26-8 4-14-16-19 3-4 8-12-29 7-36 10 7 9 11 14-7 24 6 8 13-21 0-25-47-7-27-16-29-33 9 5-58-23-1-12 5 21-31-83 20-8-5-32-1-18-2-17-1-11-12 28-8 13 0-10-13 42-1 17-16 18 85-11 20 28 0-3 33-27-7-53-50-21-13-46-6 16 36-11 20-83-14-5-27-1-31 3-23 12-21 17 5 35-11 7 18 3 2 18-8-4-27-41-12 13-15-53 24-39 12 0 8-33 18-7 5 13 20-9 17-11 16-39-2 0-7-8-1-4 0 13-51 22-7 59 58-18 41 1 14-4 33-20-12-17 14-23 1-112 1-1 6-6-10-6-5-6-33 32 18-15 183-129-8 6-42-9 172-16-10 23 44-2 10 11 33 54 25 16 5 13 10 14 13 0 36 11 152 37-12 7-6 10 8 403-17-24-89 16-22 54-19 40-2 35-13-14-18 0-10 4-36-17-6 56 9 19-29-24 74 36 24 0-226-8-10 0-31 22-7-5-9 17 6-1 27 23 2-32-55-121-5-21-73-19 12-16-17-104 403"/>
<path class="k25" d="M858 617l0 56 30-7 3-1 5-13 17-11 18-10 0-16 39-3-12-14-2-12 15-13 9 20 25-3-4 16 0 26-12 21-4 8 35-10 18-17 14-6 2-17 10-20 5-2 7-17 7 0 0 45 18 1-3 18-24 0 39 12 13-6 17 20 20 7-1-25 2-11-9-3 8-27 12-7 18-9 13-3 26 3-31 31-11-1 0 9 14 10 3 13 18 23 28-11 11 13 5 17-18 15 41-2 13 5 6-17 0-13-8-1-6 3 6-31-29-9-13-18 4 119-17 6-4-4-12 51 26 8 47-6 0-22 10-4 14 9 16 7 21 3 3 6-12 11 0 7-13 10-21 4 35 21 10 9-2 10-11 28 15 12 16-14 35 4 15 26-31 55-19 2 0-15-18 7-5 24-16-7-21-7-11 4 3-15-18-15 52-25-12 80-7 11 3 51 46 4-5-16 2-8 16 6 8 13 18-24-8-26 16-3 4-7-45 5-8-10 11-15-7 119-21 2-15 11-19-8-26-13-6 57 10 12-21 1-19-7-18 24 1 22-16 0-1 17 7 5-23 14-3 11-12 8-13 0-12 4-13-2-11-6-10 7-4 1-13 2 4 23 2 13 3-2-17-7 36 1 3 21 4 22-26 2-10 12-51-31-18-24-8-2-14-3-14 15-8-2-3 15-13 12 1 10-3-33-29 3 0-14-18-3 3 10 0-33 19 5 27-18-6-26 16-9-3-10-37 6-6 9-3 14-35 2 9 16-11 15-24-2 5-14 4 28-30-21 7-23 6-9 2-9-13-1-13 3-2-6-12-33-15 2-9 13 1-27-6-29-2-30 4-20 8-14-19-7 8-13-14-7-37-3 0 7 12 13 11 20-4 18-18-13-35-7-17-34 0-11-3-26 8-50 23-9 14 1 0-13 12-4 13 2-12 21-11 17-15 5 21 37 41-15 40 5 20-1 19 19-3 33-21-1 6 17-18 21 7 10 52-17 7-48-77-51 0-119 22 2 9-21 12-18 3-32 19 13-29-43-18-10 3-13-18-11-20 0-27 10 0 24-1 5-25-4 4 16 4 7 2 16 4 4 10 14-14 11-7 11-22 1 0 11-14 11 22 18 6 23-38 13 4-89 13-54 26-44 45 26 17 39 4 24 6 12-21-16-28 34 2 34 6-212 0-22 30 13 9 7-5 27 24-12 37 0-13-18 31 3 2-10 15-7 10-4 9 23 32 14-12 18-14 10-63 18 145-21 95-9 19-14-49-22 4-25-1-73 20 8 19-56 40 10-87-16-58 0 10 11-13 11 5 21-1 4-32-16-51 58 81 219 255 8-5 20 12-118 14-14 1-15 4-11 12-7-1 20 6-55 47 150 32 1-5-27-73 345-6 10 10 6-6 7 16 3 5 14-18 19-4 15-5-1 23 6-13 16-49-4-5-4-10-6-6-7 1 31-5 45-40 12 7-33-41-23-18-5-58-1-5 1-29 6-11 21 3 12 18-5-59-22 1-27 25-13 27-13 18-18 30-27 25-30 1-78 46 115 2 40-8 1 97 2 18-26-13 90-55-132 8-16-220-4 0 67-10 7-84 6-7 29-135-92"/>
<path class="k26" d="M887 685l11 44-16 12-10 13 5 12 8 10 8 2-5 10 11 18 8 18 14 18 30-2-5-32 8-22 10-5-6-7 20-6-5 20-59-5 11-14-9-14-2-14 4-21 4-12 7-3 3 10 17 5 39 4 4 16 36 4 11 11 15 5 13-10 37 1-5-28-12-12-1-6 4-5 28-3 21 2 0-13 6-4-9-12 17-24 20 17 22 7 17 1 13 7 0 23 14-9-1 21-9 17-11 5-5-17-21 7-20 2-3-19-8-3-9 2-22 11 22 30 23 9 17 11 14-3-4-20 27 2 11 14 5 1 11 12 13-9 21-13-7 36 3 9-9 2 1 28 0 6 2 19-2 11-7-5-5 11-10-19-31 3-5 15-2-33-16 1-6-23-15 2-12-15 42-7 10-6 3 2 5 16-17 6 38 2-10 14 61 3 7 16 7 5 14-4-2 15 6 13-14 8-13 8 10 11 5 12-1 17-11 5-17-6 4-7-17-23 2-13 2 66-1 20 5 13-23 0-21-7-11 20 50 5 36 0-4 4 10 1-4 7 6 5-24 2 2 14-23 2-9-3-11 26 6 11-3 11 3 10 11-5 14 11 23 5 9 0-8-20-19-14-11-9 36-7 27 6 16-38-17-52 3-12-25-10 6-7 18-34-3-16 11-28-55-61-159-27 22 85 19 66-3 25-28 33 17 108 7 24 5-3 25-2 10 4 15-1 11-6 4-10-7-6-6-19-14 7-20 53-9 8-16 9-15 1-6 4 0 3-7-1 0-5 3 39-3 6-22-2 2-2-7-7 3 18-5 25-10 7 14 12 9 5 6-12 4-23 15 9 18 1-5-8 2-3 12-15 13 6 13-17-8-19-14 0-21 18 6-58-49-8-3-8-2-16 16 12-36 13 1 43 9 4-37 5 5 21 9 15-10 10-26 4-5 2 12 13 31 0-60 8 18 19-32 12-39-38-6-18 2-13 17-14 6-13 4-20 0-9 5-3 3-3-2-22-36 13-30-3 3 19-1 11-1 4 10-6 1 13-5 5-10 21-6 4-5 7-6-15-3-35-11-3-15-5-7-11 3-9 23-6 16-12 10-16-1-14 17 9-3 24-23 24-26 36-43-30-6-33-12 10 12-50 11-12 12-18 9-7-2-8-2-10 4-14 3-6-3-7-7-11-21 1 0-2 2 13 12 7-32-1-11-11 5-32 1-14-15-6-19 1 9 12-8 25 2 29 6 14 28 24 10-1 6-3-22 29 76 0 1 3 19-4 16-20 15-13-27-7 3-8-14 10-3 3-9-9-2-24 5-1 8-20 2-18-17-20 10-27-9-13 21 2-22-36-2-12-15 1-10-7-7-21 4-15-17-15-16-12 0-17-4 45-9-4 22 18-21 38 3 5-13 10-4 32-9-3-4 8-23-27 62 9 13-9-6 33 9 26-4 6 2 11 13-15 30 26 40 16 24-30-19-20 67 0-25-52 15-27-2-20-118 30-71-26 126-103 39-57 22-3-2 12 28-1 0 20 20-11 10-9-17-9 2-26 2-12 9-5 10 9 30 3 3-6 13-5-25 26-8 11-53-9-15-8-23 0 36-47 185 31 12 35-14 15-7-7-8 0-99 378-28 25-20 4 1-15-8-27-65 9-61 30-7-1-6 7 92 61 43 9 27-3-12-27 26-8-26 73-4-4-4 0-84 47 217 9 30-24-1-2 41-55 25-13-6-20 15-14 15 0-8-17 38 21-23 23-21 34"/>
<path class="k27" d="M940 778l22 19 16 4 1-8 14-6 0-15 23 8-7 8 14 3-6 24 9 12-1 11-2 10-19-2 2 22 9 3 10 9 4 15 8-1-20 3-18 2-19 6-8 19-3 1 9 7 20 6 4 17-13 18 10 17 5-2 10 9 10 19 5 3-2 8 9 10 12-2-7 13 22-4 0 15-2 9-11 12-29 7-3 8-2 6 7 8 26 16-7 8 10 16 0 25 18-2 15-16 15-5 12 10 15-2 6-14 6-23-3-35 5-22-10-19-9-17-15 10-14-6-13-11-17-4 2-15-14 0-17 8 9-26 2-23 19 6 8-14-2-9 4-11 4-17 5 4-21 3-9 13-18 6 1-17 6-10-29 8 9 45 64 2 14-1 5 5-3 13-6 10-12 3-4-2 22 18 27-8 13 2 2 3 19 1 2 9 0 14-7-1 14 13 4 27 20-9 5 21 19-15-10-20 17-3 13 0 13-5 14-5 3-21-21 4-9-13 5-19 18 10 18-9-12-36-15-5-18-6-8-7-4 18 2 17-31-3-11 8-12-4-3 16 13 7 13 8 6 11-5 12 9 3 21-11-51-5 28-29-6-41 14 0-1-29-8-12 2-10-4-3-2-5-3-16 9-19 1-5-23-8-17 8-9 4-9-3-1-11-12-11-3 0-4-4-11 3-3-16 1-11 13-8-2-7-5-15 14-11-11-14-11-16 16-15-44 27-12 7 1 19 4 14-6 10 1 17 7 2-8 9-9 9-13-10 1-5-7 6 3-33-11-20-8-4-19-10 58-25 24 34 10 18-2 10-9 39 2 9-9 3 0 17 15 7 1 7 0 8 20 1 11-2 0 19-23 3 2-10 0 25-3 11 3 21 6 0 12 13 9-7 10 1 0 8 19-7 4-33-11-1-22-2 9 14 17-41 9 5 21 12 24-11 8 8 12 1 23-4-6-15-19-16 32-15-12 67 16 10-117-57 10-10-32-20-16-3-1 6 17-42 7 1 26-2-2-14 17-6-20-16 34-15 9 61-34 2-113 34-2 16 3 14 6 1 4 10 12-3-9-18 21 79 43 34-17 76-8 0 5 6-7 14-11 5-14 11 2 9-12 2 3 15 7 7 17-15 5-1-3-6-19-50-4-4-69-5-26-2-16-2 3 8-4 15 7 11 12 1 13 3-2 9 0-19 15 7-43 8 16 18 8 19 10 11-30-7 43 43-7-150-10 5-5 7-16-6-5-7-6 3-17-14-6 1 10-15-6-19-11-21-11 7-7-14 6-19-13-3-23-5-13-6-6 10 17 19 4 32-10 11 41 37 5 44 6-2 50-66-9-12-4-36-8-7 0-27-4 2-11-11-8-6-11 10-3-31-10-7 28-16 26 7 0-19 4-19-12 4-15-9-17-12-4-2-7 20 79-9-38 69-71 14 273 190 57 54"/>
</g></g>
<path d="M221.2 516.0C222.0 518.7 223.1 521.3 223.6 524.0C224.1 526.7 224.3 529.3 224.4 532.0C224.5 534.7 224.8 537.5 224.4 540.0C224.0 542.5 223.1 545.1 222.0 547.2C220.9 549.3 218.9 550.8 218.0 552.8C217.1 554.8 217.1 556.8 216.4 559.2C215.7 561.6 215.1 564.5 214.0 567.2C212.9 569.9 211.7 573.1 210.0 575.2C208.3 577.3 206.0 578.5 203.6 580.0C201.2 581.5 198.3 582.8 195.6 584.0C192.9 585.2 190.3 586.1 187.6 587.2C184.9 588.3 182.3 589.5 179.6 590.4C176.9 591.3 174.3 592.1 171.6 592.5C168.9 592.9 166.3 593.0 163.6 592.8C160.9 592.6 158.3 592.1 155.6 591.2C152.9 590.3 150.1 588.7 147.6 587.2C145.1 585.7 142.7 584.4 140.4 582.4C138.1 580.4 136.0 577.5 134.0 575.2C132.0 572.9 130.1 570.9 128.4 568.8C126.7 566.7 125.3 564.8 123.6 562.4C121.9 560.0 119.5 556.9 118.0 554.4C116.5 551.9 115.6 549.7 114.8 547.2C114.0 544.7 113.7 542.0 113.2 539.2C112.7 536.4 112.3 533.2 112.1 530.4C111.9 527.6 111.8 525.1 112.1 522.4C112.4 519.7 113.3 517.1 114.0 514.4C114.7 511.7 115.5 508.9 116.4 506.4C117.3 503.9 118.3 501.6 119.6 499.2C120.9 496.8 122.7 494.5 124.4 492.0C126.1 489.5 128.0 486.4 130.0 484.0C132.0 481.6 134.0 479.6 136.4 477.6C138.8 475.6 141.7 473.5 144.4 472.0C147.1 470.5 149.7 469.7 152.4 468.8C155.1 467.9 157.7 467.3 160.4 466.7C163.1 466.2 165.7 465.7 168.4 465.6C171.1 465.5 173.7 465.7 176.4 466.4C179.1 467.1 181.7 468.4 184.4 469.6C187.1 470.8 190.0 472.4 192.4 473.6C194.8 474.8 196.7 475.7 198.8 476.8" fill="none" stroke="#000" stroke-width="2.8" stroke-linejoin="round"/>
<text transform="translate(210.8,496.0) rotate(58.0)" y="6.1" text-anchor="middle" font-size="16.67">90%</text>
<path d="M154.0 498.4C156.7 497.8 159.3 496.8 162.0 496.5C164.7 496.2 167.3 496.3 170.0 496.5C172.7 496.7 175.5 496.9 178.0 497.6C180.5 498.3 183.1 499.3 185.2 500.8C187.3 502.3 189.3 504.3 190.8 506.4C192.3 508.5 193.3 511.1 194.0 513.6C194.7 516.1 195.1 518.9 195.3 521.6C195.5 524.3 195.4 526.9 195.3 529.6C195.2 532.3 195.3 535.1 194.8 537.6C194.3 540.1 193.6 542.4 192.4 544.8C191.2 547.2 189.5 550.0 187.6 552.0C185.7 554.0 183.3 555.2 181.2 556.8C179.1 558.4 176.9 560.4 174.8 561.6C172.7 562.8 170.8 563.9 168.4 564.0C166.0 564.1 162.9 563.2 160.4 562.4C157.9 561.6 155.5 560.7 153.2 559.2C150.9 557.7 148.7 555.6 146.8 553.6C144.9 551.6 143.2 549.6 142.0 547.2C140.8 544.8 140.4 541.9 139.6 539.2" fill="none" stroke="#000" stroke-width="2.8" stroke-linejoin="round"/>
<text transform="translate(139.9,518.4) rotate(-66.0)" y="6.1" text-anchor="middle" font-size="16.67">50%</text>
<rect x="60.6" y="434.1" width="194" height="187.4" fill="none" stroke="#000" stroke-width="1.1"/>
<text x="51" y="479.8" text-anchor="end" font-size="13.9">2</text>
<text x="51" y="535.2" text-anchor="end" font-size="13.9">0</text>
<text x="51" y="590.6" text-anchor="end" font-size="13.9">−2</text>
<path d="M69 621.5v4.9M168 621.5v4.9M60.6 474.7h-4.9M60.6 530.1h-4.9M60.6 585.5h-4.9" stroke="#000" stroke-width="1.1" fill="none"/>
<text transform="translate(22.4,530.4) rotate(-90)" text-anchor="middle" font-size="24.3">p2</text>
<clipPath id="c021"><rect x="264.37" y="434.1" width="194" height="187.4"/></clipPath>
<g clip-path="url(#c021)">
<radialGradient id="u021"><stop offset="0" stop-color="#f0f724"/><stop offset="0.17" stop-color="#f1f525"/><stop offset="0.33" stop-color="#f2f227"/><stop offset="0.5" stop-color="#f4ed27"/><stop offset="0.67" stop-color="#f6e626"/><stop offset="0.83" stop-color="#f9dc24"/><stop offset="1" stop-color="#fcd025"/></radialGradient>
<ellipse cx="364" cy="528.96" rx="28.27" ry="35.53" fill="url(#u021)"/>
<g transform="translate(264.37,434.1) scale(.1)" fill="none" stroke="none">
<path class="k0" d="M1911 957l-893 900"/>
<path class="k2" d="M0 902l1940-274"/>
<path class="k3" d="M869 1641z"/>
<path class="k4" d="M315 344z"/>
<path class="k5" d="M637 528l610-153-814 836"/>
<path class="k7" d="M537 682l113 801 271 143"/>
<path class="k8" d="M737 275l126-54 428-191 306 919-182 850-348-20 26-154-839-435"/>
<path class="k9" d="M399 355l436-110 76 1272 401 33-47 138-459 186 907-504"/>
<path class="k10" d="M717 285l722-32-636 1290-430-112-29-67-42-264"/>
<path class="k11" d="M595 234l-15 245 361-372 69-107 216 308 28 1314-135 155-163-209-594-236-91-122 1311 119"/>
<path class="k12" d="M288 640l310 73 165-267 390-57-5-247 80 25 439 824-171 198 50 249-405 222-108 113-189-83-197 76-16-164"/>
<path class="k13" d="M852 76l154 86 76 168 85-10 9 157 96 137 393 20-206 358-81 43 167 243-160 209-506-1 19 141 94 121 141-2-409-58-117 17-84-803-191 99-29-229 81-202 234 89 670-557-43-64 227 203"/>
<path class="k14" d="M716 129l99-53 46 93-89 75 164 27 6 110-65 10 230-102 199-45 122 11 6 25 13 27 43 44-126 221 245 87-113 281 60 63-112 57-11 103-224 242-124 89 122 209-504-257-226-246-32-98 80-78-236-83 192-547 193 162 529-454"/>
<path class="k15" d="M606 294l-12 98-80 4 31 56 78 67-19 163-92 35 31 45-66 166-62 129 60 281 92 52-22 130 96 127 215 102 219 8-9 22 33-138 158-103 1-9 7-47 151 113 47-20-19-241-75-94 43-142 152-21 46-20 5 133-38 27 54-545-121-80 17-25-129-6 23 105-204-145 35-277-51-36 15-35-239 68-184-41 54-60-42 358-28 70 7 890 175 41 541-1117"/>
<path class="k16" d="M611 284l5 26 56 19 114 50 106-74 68-42 46-61 95 48 122-108 179 120 26 29-80 63 44 178-9 89 56 168 143 60-62 178-95 22-67-113 70 333 13 114-13 23 12 27 87-76 40-75 48-699-457-109-457 62 12 80-93 118-155 25-6 39 8-101 25-81 0-54 102-114 175-278-216 848-28-28-78 43-40-15 15 139 36-7 140-22 220 157 46 170 33 54-29 126-6 54 71 22 1-57 2-4-126 91-65-142-78-11 19-65 40-101-268 27 63 111 592 26 62 164"/>
<path class="k17" d="M646 368l-23 99-31 1-34 14-10 37 22 44-54-8 99-30 27 36 27 33-103 42-12 29 39 14-31 117-26 28-59-15-82-37 24 213 99 3-1-87-55 145-5 45 21 79 111-37 21-24-6 100-52 110 18 21 87 71 95-42 43 9-108 174-45 70 356-13 3 36-2-103-63 1 151 55 8-2 12 27 90-45 68 3-2 24-1-131 61-114 120-78 15-2 11-18 7-17 20 59 54-129 26-46 0-59 12-63-72 27 54-122 9-36 10-101-24-129-37-19-49 99-7-1-9 93-85-241-31-40-18-43-26-21 36-45-33-43-51 9-45-3-5-72-69-14-1 90 27 51 222-64 11-46-60-81-127-72-75-25-149 31-68 124 26 28-161 7-10 28 198 1371 480-302"/>
<path class="k18" d="M664 333l78-54 32 77-24 93 20 42 0 43-86 3 26 46-78-77-47-38 13 187-17 25-60-53-2-15-43 20-6 3-26 85-24 43 7 200 0 33 26-7 6-10 7 67 40-5 5 4 1 18-32 23 69 18 5-61 16-71-16-133 79 19-10-89-98 398 23 66 8 71 51 8 48 1 129 0 15 31 32-80 2 238-21 29-53 3-91-38-96-79 1-39-42 16 409 32 89 99 43 35-11 55-22-9 1 49-15 6 97 51 2-106 21-45 39-34 25 11 9-5 7 21 17-16 50 23 29-110-44-20-24-2 26-116 99 1-7 35 74-1-4 11 16-133 10-5 24-6 17-68 3-132-39-16-33-14-33 70 88-129 45-46-15-40 62-61-56-109-13-2-10-67-12-34-9-19-6-15-47-6-49-11-69-5 7-15 3-21-25 99 4 29 2 40 94 40-10 93-62-11 133-33-298-205 14-25 65-92-78-76 14-34 8-4-93-20-1-52-19-41-36 17-23-35 3 108-55 54-3 37 38 9 47-2-57 111-77-43-39-23 41-178-35 1421 326-6-18-23 192-361"/>
<path class="k19" d="M702 357l20 3-10 59 58-19 35 3 35-26 1 55 31 25 18 6 86-58-15-26-10-13 58-5 55 13-32 64 63 68 83 24 44 61-16-144 3-17 5-23 50-54 7-34-138-3-4-39-60-52-63 46-43-7 5 37-76 17-137-12-82 181-74 61-69 35 28 108 96-31 24-6 68 85 69-152 9-21-24-15-190 301-89-4-68 10 27 76 19 81 52 0-12-28-19 79 10 40 31-18 22-38 30-31 6 81 29 68-35 44-11 56 20 3 26 27-54 23-22-8-27-13-54-88 113 217 24-2-33 21 123 46-23 33 47 18 80-26-14-18 92 16-19 105 157-37 9-79 35-37 17 78 24-14 0 38 47-36 56-2 21-49 66-3-9-68-9-47-38 2-34-31-43-9 39-43 56 23 37 33 26-57-9-104 46 18 19 24 11-57 56 6-7-51-21 2 35-19-117 25 2-135 38 36 29-96 36-37 20-20 20 84 32-27 2-175-16-5-12-5-9-5 0 36-44-45-41 3 65-41 69-7-93-61-2-37-51-74-88-44-44-6 66 321-21 129 41 475-183 27 16 57-77-105-139-8-116 53-96 5 11-54 18-4 361 274"/>
<path class="k20" d="M682 433l-10 31 31 32 21 23 38 46 67 50-3-111-8-7 6-49-35-20-4 1 5-20-25-3-20 31-32-30 82-75 48 46 38-36 0-19 41 47 79 15 63-26 21-5-8-38 1-27-18-4 37 20 74 3-13 75-51 18 28 107 54-31 40-50 57 86 11 76 21 37 63-15 11 6 3-43-20 13 55 2 4-9 11 86-43 7 6 37 17 6-12 12 2 43 21 10 9-15-16 66 2 35-5 8 40 3 3 20 51-26 1-59-146 45-17-120-5-201 19-32-343 7-21-11-76-18 58-226-375 272-7 31-22 23 55 40-78 37-5 21-5 16 34 13 0 27 28 18 72-14-42 80 5 53-48 28-14 20-4 3-61 6 0 24 10 7-25 10 10 10-23 26-4-62 9-41-36 0 5-75 0-40 35-14 19-18 30 117 58 135 10 63-9 17-26 19 3 7-3 56-10 7-17-34 53 12 9 10 29-3-3-62 12-46 15 195-49 40-24 4-11 53 40 39 42 31 25-47 11-44 29-13 38-30-2 96-30 7 17 24 9 55 12 42 23 14 4 9-5-40-66 22 16 43 12 2-50-85-14-10 169-8 30-4 86-9 47 28 88 27 80-6 19 18 10 19 32-19-29-49-15-65 32-11 23-9 75 31 24-83-3-49 15 8 38-6 17-37-26-43 60 3-31-96-24-55 68-23 20 13-41-40-24-48-131 111 10 14 27 172-64 27-149 61-60 8 110 80-106 139-37 35-17-16-21-10-18-7-6 17-49 10-10-11-13 1-19 7 69-50-426-265-15-65"/>
<path class="k21" d="M758 396l48 2 20-12 7 2-7 37 1 10-1 21-16 39 31 11-74 1-49-10-20-32 27-27 11-7 21 17 19 136-27 39-11 1-9-7-42-18 21-24-21-30-25-3-6-5 0 36 4 59-22 47-2 12 1 26 37 58 30 2-141 7-14 26-4 50-10-3 30 8 4 9 29-1 2-14 28-9 1 96 5 28 21-19-59-4-43 1-8-26-21-2 54-13-34 146 40 31-4 19-15 46-9 0 52 13 44 76-1 21-54 14 7 22-7 32 39 15 20 7 5-26 43 57-18 28 2 2 39 4 15-23 7-4 6 13 51-7 20-15-16 49 42 3 36 25-18 33-11 10 1 15 46 0 3-18 36 15 7 37 27-14 8-32-28-44-16-32 26-10 8 1 52 4 62 18-7 9-17 21-14 15 21 33 20 19 20-25 19-80 21 5 27 17 29 1-8-28 30-59 62-54 27-6 12 2-17 18-8-50-9-19 2-19 31-30 49 7 38 1-3-39 0-21 1-48-30-24 6-22-37 27-11-7 21 21-48 10 21-80-4-14 40-44 31 16 5 19 53 2-9-71 6-17 16-7 19-26-35-8-61 1-18-28 64-33 11-5 4-9-162-8-9-62 38-8 23 14 26-54-34-47 0-41-23-28 8-32-24-3-9-59-37 26-42 29-5-87-21-29 2-28-30-20-21-24 5-8-90 2-4-27-71 15-16-2 25 17-11 48-28-2-32 31-9-55-27-64 144 119 51-38 35 31 2 73 41-33 102-44-2 186 16 29 126-8 24 24-361-23-73-95-143 52-249 10 3 5-56 157 100 284 85 6 14 118 11 15-13 43 115 108 22 28 33 69-8 136-28 5-66-85-60 4 1 17-29-45-90-53 519-82-3-31 22 5 33-19-8-52 27 299"/>
<path class="k22" d="M642 586l17 53 13-10 3 30-43-3-1-2 35 44 10 15 22 18-11 23-34-6-4-12-15 0-39-2 7 11-14 22-6 0 20 31 13 17 9 29 52-7-8-17-9-21 9 101 12-9-123 4-1 34-5 39 28 36 25-11 10-38 24 115 4 2 31 5 11-10-8 48-17 10-8 28-11-6 20 41-11 18 33-3 11-38-105 0-10-37 41 110-6 24 45-16 50 28-6 15-3-3 31 2 39 12 42 2 14 15 2 58-11 31-23 15-19 14-6 16-28-26 39-28-4-15 14 2-38-45-31 29-40 13 4-35-4-8 110-70 93 57 4 49-15 13 4 29-17 9 12 39 22 2-44 17 53 45 81-2 26-20-5-23-3-30 19 11 14-28 21 16 2-1 48-9 20-4 47 6 36-16 29 0-4-25 17-9-14-15-39-11-36 35-41-30 3-84 126 1 13-12 36 12-6 12 25 7-7-56 12-16 26-34 21-14-1 30 10-73 25-33 2-27 9-24-5-51-28 3 1-13 7-7 6-41 19-28 3-42-15-43-3-28-13-4 39 2-6-64-20 17-15 3-2-11 1-34-13-17-8-22-9 5-2-54 32 25-92 11-15 0-7-7 0-28 22 0-30-30 0-24-6-14 9-13 11 1 0-17-32-3-3-11 11-22 40 8 19 49 5 31-79-17-29 23-40-59-16-71-14-23-7 6-2-22 0-32 46 9 20 70 16 16-89-14-15-26-24 18-2 58-30-25-52 7-23-11-23-16-50-10-35-7-36-9-6 22-25-1-19 25-3 16-40-22 2-6-44 65 53 37-1 4 34-7 9-6 12-7-2 32-16 7-9 16-63 8-6 62 141-89 62 0 3-172 7-26-17-12-13-14-26 33-39 12 149-1-18-37 44-23 27 37 72-43 22 325 133-11 20 23 6-1 12 25 29 7 22 49 10 97 2 21-14 17-25 13 12 89 8 38-38 65 3 32-13-3-2 24-21 54 5 128 28 2-10 30-240 6-12-16-19 11-56 32 19 52-11 20-31-123 3-20 17-22-6-13-23-3-210-286 708-42"/>
<path class="k23" d="M692 607l50 0 2 0-2-4 13-6 29-1 19-11 55 1 6-28-7-12-16 1-29-11 12-52 26-4-9-14 28 10 9-3 3-12-4 28 19 10 17-7-9 36 17 19 26-17 9 3 14-14-5-24 1-34 16-4 8 10 21 2 12-13-22-16 5-32 14 5 34 10 26 17 21 28-25 18-26-12 16 64 8 8-10 11 67-1 3-21 21 16 13 15 9 34-6 10-4 59 46 2-3-15 24 10 2-21 29 4 23 8 34-2 8 2-15 25-2 9-7 11-5 12 28-13 18 11 12 32 6 2-9 15 10 9 2 23-5 10-14 18-14 9-10-19-14-19 28-21-51-7-23 13-24-23-34-64 11-62 23-52 23 2 1-8-30-31-27-3-12-2-14-37-24 0-7-7-11-3-12 0 14-32 86 38-109 104-134-2 1-34 5-17-65 45-36-21 3 56-33 7-39-3-24 26 4 33-46-4 1-33 18-17-51 19-16 28-8 16-17-10-20-10-16 45 41-5 24 13 4 15 11 37-26-2-13-4-8 7-3 3 3 27 7 32 4 25 8 36-42 24 7 20 6 5-13 30 3 14-24-2-23-22-18 2 3 30 54 21-1 19 14-8 29 19 37 7-12 43-17 13 11 16-37 15-11 22 8 25 10 23-3 7 12 15 17 10 19-14 6-37 26 20 25 23 18 8-3 22-18 16-29 4-27 22-14 8-15-26-8-8-3-11-50-67-16-50 15-28 26-14-5-8 8-17 11-9 3 1-34-1-5-26 71-72-86-58-4-27 2-18-28 0-10 28 65-62 3-28-17-58 140-1-38-52 111-211 17 8 63-65 19-2 331 243-73 136 150 20 16-9 18-2 0 5-7 18-6 42-15 6-16-23-46 23-9 54 22 11 9-22 26 20-3 26-9 14-41-1-7 53 17 33 16 19 19 15 10 17-7 7-6 2 9 6 1 12-20 1-7 16 0 14-4 1-15-2 3-10-19-34-36 37-9-5-2 43-33-6-5-56 70 71-1 14 5 12-14-2-2 45-10 11-28 10-22 16-3 26-14 9-16-2-9 11-24-2-1 22 2 11-20 14 8 26-2 12-37-44 8-20 2-11-30 40-4 5-34-2-9 13-7-28-12-12-21-14 1-41 13 5 33 17 35-59 44-2 69 8-7 18 11 8-1 9-34 3 63 24 88-143 20 7 28-22 9-14 30-92-10-56-34 9 7 9-13-42 54-77 2-13 29-38-211 85-281 311-31 41-34-5-25 1-3 21 27 3-10 15-11 31 26 13 23-34 8 1 7 11 22-10-7-13 28 45-3 16-114-121-47 12-16 3-5 4"/>
<path class="k24" d="M839 519l24 19 18-2 1-4 11-5 3-6-12-11 33 7 12 8-4-21 16-9 2-11 8 58 1 3 20-15 5 43 9 4 1 4-57-3-5-15-11-3-13-9-21 10 0 15-3 3 14 10-9 30-17 2-5 39-15 13-28-1 10-22 0-16-15-12-16 2-8 34-10-5-5 11-32 1-6 12-11 3 29 15 3 23-7 8 18 6-7 11-24 18-13 37-14-9-12 2 2 9-2 28-3 36 17-2 1 32 0 29-3 3-13 21-9-5-14-21 5-11-21 6-3-31 10-21-16-21 11-34 99 34 31-13 18 18 18 43-25 114-23-12-57-18-40 8-6 2-1 16 3 12-5 12 0 7 30 2-2 10 8-20-11-16-41 3-11-8-13-64 107 93-5 34-27 5 4 16-18 4 3 9-7 32 5 11 11 16 9 1 10 11-1 35-14 13-2-27 27-53 6-10 60 6-31 31 26 64 24 27 30 5 1 16 14-5 17 31 17 16 15 15-6 7-6 17 1 8 20-3 17-6-6-12 38 0 8 2 6 26-16 12-8-2-7 10 47 1 14-22 29-6 1-11 15 21 26 4-5-26 16 5 20 5 7-19-14-8 2-15-8-11 17-9 19 15 22 16 17 17-15 33 1-95-5 2 12-22-4-27 23-24 38-5 2 11 5-1-3 17-13-2 7 21 15-1-4 14 11 7 8-25-9-45 5-7-19-11-11-22-11-22-9-26 15-10 5-8-27-4 8-28 10-18 11 8 13-3 26 12-13 25 31 6 5-9 7-9-1-35-9-25 28 2 12 19 0-50-17-7 23-32 2-9 7 1 1-25-19 13-31-19-5-28 31-11-6-16 14 1-4-6 8-6 5 3 14-14-29-2-30-10 12-62 9 5 3-34 7-11-43 1-30 14-24 1 2 30 4-70 17 1-6-15 45-7-24-42-25-19-35-7-5 13 3 9 1 9-3 7-5 13-3 34-2 20-50 21-26-38-14-83-4-14-1-24-14-9-13-5 42-3 9 7-7 21 32-11 17 6 5 8-9 15 16 24 28-46 6-24-2-13-13 11-24-5-1-19-44 6 5-20-34 17-38-8 0-18 28-10-50-10-1-20-3 52 12 68 34 39-163 11 1 42-128 19-64 20-4 2 31-97 100-36-17-23 527 184 18 126-9 88-114-47-67 53-29 50 34 110-4 30 78-4 11-10-3-16-1-14 16-7 10 18-39 4-19 0 37 54 12 31-83 39-2 33 3 25 9-6 8 10-78-103-2-14-12-10-140 5-33 63-11 36 50 26 10-9 3 19 29-39 5-24 18 12 9 119-7 16-38 0-133-24-42-58-36 8 1-26 9-17-66-12 11-33-39 2"/>
<path class="k25" d="M777 685l-6 12 22 10 5 13-4 23 23 5-3-17-1-29 0-24 2-15 39 6-11-30 62 12 11-16 6-20 18-5 5 14 7 5 21-15 4-3 9 10 0 17 13 20 12 4-5 9-1 26 11-68-3-29 1-7-4-11 0-9 18-8-7-11-6-10-18 2 42 3 8 26 24-2-4 18-5 2 13 12 4 14 2 14 6 6-8 12-11-3 1 17-2 6 9-2 13 1-9 14 18 15 41-22 5-17-12 1-13-4-9-14-5-23 14-7 14 15 2 2 8-23 19 32 6 13 2-1 29 25-2 3 8 36 21 13 16 9 2-17 0-12 31 23-8 25-5 3-9 15 7 20-23-3-5 23 31 16 18 13 10-5 2 20 6 0-22 18-8 3-2 7 14 3 5 27 8 11-21 3 12 20 5 23 3 16 7 18 6-30-35-2-23 1-3-8 7-13 3 51-12-1-10 6 32 1-2 8 4 23-28-4-4 11-4 4-12-13-4 2-1-15-26 9-11-45-18 8 7 112 6-2 26-18 31 12 3 35 1 15 13 0 14-35 3-36-11 0 6-8 31 4-75 56-8 6-3 48-7 16-12 1-21-9-8-14-4-4-12 6-4-16 36-3 3 11-8 47-4 11-18 5-11-8-6 22 3 17 17-12 29 1 16 1 14-44 17-33-109 32-8 27-1 22-11 2-7 1 3 3-28-2 0-25-36 4-16 16-3 19 9 18 11-9 6 14-4 11 15-5 6 9-1 24-19 1 4 11-44-31 0-22-10-12-9-2-8 6 5 16-2 3 1-37 13-5 3-8-6-19-1-25-7-15-52-2-46 8 3 23 0 9 8 3 1 25 4-2-24 5-10 28 30-2 22-12 28 7-6 6 3-24 2-9 10-4-28 69-64-90-20-10-5-10-24-6-17-2-10 8-12-7 7-15 9-14 3-14-11-13 11-12-3-4-20-6-8-28-8-10 0-5 10-10 8-7 9 10 20-5-12 26 6 13 22-1-1-5 21 19 12-3-1 18-28 13-4 3-60 17-2 7-21-63 7-20 1-21 17-51 22 2 1 6-7 7 2-41-1-12-6-18-17 0-5 21-3 0-8 1-16 12-13-41 20-14 5-3 13-45 6-19-9-5 0-22-14 9-5-28-2-1 19-9 9-3 8-20 9-22-13-14 9-12 5-23 13 13 6 4 12 10 13 1 10 11 23 15 3-31 9-4 6-23 29-41 26-9 28 54 21-3 3-143 8-7-1-12 15 9-33-2-5-10-50 24-11-7 153 21 9 7 69-65 52 145 6 5 4 39-24-2-12-10-3 32 14 14 15-13 23 3 15 15 5 5 3-28 6 1 0 87-26-9 59 19 8 3-2 16 24-72 0-1 9-12 25 11-535-5-4 22 0 31-5-4 13 5 31-4 28 39-16 29-48 10-7-37-12-17-3-8-36-60-8 8-12-8 224 228-7 21 18 99-43 6-44 58 178-13-7-24-10-2 67 29-3 91 2 11 7 1 14-9 14-8"/>
<path class="k26" d="M839 693l-4 18-5 11 24 7 20-1 6 3 24 2 1 16-29 11-2 25 13 6-26 10 10 15-30-8-5 11-5 8-5 3 10 3-6 17 16 4-36 1 15 23-31 2-2 14 4 8 12 5 8 12-13 5-4 16 12 18 0 29 9 0 16 7 21-3 3-46-5-12-5-16 4-6 8-12 21-44-25-76-10-5 1-2-4-18 7-48 11 2 34 1 5-6 9-1 3-8-14-1-17-12-3 1-21-9 31-13 26-9 12 11 8-6 14-1 19-2 5 15 8 13-3 15-8-6-15-3-16-11-7 32-15 5 32 10 23 0 3 14 9 14 8-8 5-21 2-16 28-10-4-13 13 5 15 3 0-22-20 1 4-28-23-19-15 25-33 66-7 46-15 4 30 6 57-11 16-11 2-8 10-19 9 3 12-4 4-20 6 34 0 16-1 8 22 2 4 11-13 1 3-24 11-29 10-1 5-13 25-2 6 0 4 13 9 16 22 8 4 38-18-3-4 15 3 12-20 7-15 4 3 18 18 6 8 6 3-13 6 35 8 0 17-1 16 9 1 17 8-1-3 6 14 11 18-9 0-1-27 32 2 4-3 29-13 20-8 10-9-25-22-6 6-24 7-3 18 8-2-26-27-14 8-13 4-6-40-15-1-17-21-3-6-23 11-39 12 2 6-15 51 40 37-3-6 23-2 11-14-3-86 33-15 5 2 40 32-14 7 2 11 16-6 19-19 21-12 2 20 32 32 13 0 19-4-4 10-1-20 2-8 23-4 5-8-11-18-12-2 40-27 1 5 20-2 8 0 11 9-7 13 12-3 12-16 10-8-3-1 10-22 4 5 9-3 7 0 29-14-5-12 13 2 4-6 9-18 5-20-1 5 16-29 3 1 15-11-5-2-34 13 5 5-11-26-17-8 7-14-16-18 8 6 15 3 25 8 8-24-3-17-1 1-6 7-8-21-1 0 7-3-35 4-19 4-6 3 2-19 2-22 13-12-10-16 4 7 12 11 11 18 5-55-3-14-17-11-57-6-6 6-18 14 5 19-9 12-8 23 2-3 14-3 8-3-3-8-1 9 15 9 21 19-9 6-28 36-6 12-10-24-10 19-21 9-41-49-9-56 7 5 10 7 5-5 26-9-2-20 11-17 10-6-20 1-4 11-8 7-2 5-8-22-13 12-19 7-2-22-28-10-20-11-14-18-4 3-20 10 1 9-3 5-28 1-24-3-3 7-48 19 4 12-7 16-5-25-10-11 0 37 139-75 30 233-7 44 45 4 86 5 24 1 19-7 9-14-15-4 4 4 27-3 18 29-9 14-9 0-8 4 22-23 24 0 4 10 49-18 16-9 12 53-39 8 5 15-24 5-11 0-27 13-20 25-8 6 4 17-2 7-18-13-1 3-8-2-31-2-11 10-13 10 9 4 0 6-16 36-39-33 116-51-46-56-14 10 39-95-9-8-9-17 64-13-7-27 6-19 20-3-54-1 129 210-32-60-373-50 5 43-65-22-77 112-39-27-28"/>
<path class="k27" d="M889 759l24 9 10-27 32 23-2 24-6-2-7-4-1 22-3 13 14-3 25 3 3 19-1 13 0 16-11 4 18 5 8-10 6 4 7 13 7 8-4 7 13-2 0 7 14 10 1 11 11-9 8-2 5 3 16-1 6-14 14-7 6 12-3 15 5 24 13-2 1 12-13 4 9 11 3 2-1 18-7 11-12-13-3 24 2 18-3 14-11 2-14-3-6 16 5 16-2 13-9 15-6-29-17 10-13 0-8 11-4 28-26 0-5-14-8-18-9 8-15 2 6-17 16-10 15-4 9-1 0-27-12 7-3 6-21-6 1-20 10 0-1-6-10-15 11-10 17 9 9-7 4-14 14 0-5-10 9-2 11 3-4-15 9-10-5-6 20 0 17-10 8-2 2 15 7 25-21-1-7 0 0 14-5 12-3 3 8 17 4-3-11 20-12 4 0 11-4 14-22-13 2-29-3-5-13 3 32 3 59-2 29 7 15 1 13-17-4-20 37-3 0-16-30-23 8-16-17-4 2-29-8 0 41-8-61-22 4-10-3-11-4-10-18 1-2-15-5-6-9 6-7-15 12-5 19-6-5-7 26 2 18-4-14 33-20 2-5 42-24 5-8 13-7-19-3-20-9 9-16-11 12-19 5-9 7-1 4-36 14 0-8-14 10-24-36 7-17-2-9-19-7-1-19-16 8 48 12 13 6 14 9-3 4 16-7 5-2-1-16-7-1-8-15-11-15 10-4 55-21-2-4 23-5 20-2 12-3-1 14-4 10-1 12 9 12-5 20 7 11 20-22 1 3 13-13 3-1 7-6 0 0 11-7-5-22 2-12 8-11 8-8 21 2 14 1 23 1 2-11 8-16 2-7-7-2-24-16 4-1 4-7-4-13 12 14 29 3 13 4 4 19-8 13-1 0 26-18 0-28 4 0 13 46 7 33-4-5 13 12 8-17 12 39 3 3-1 18-4 22 10-6 9-10 9-34 0 6-49-18-60-5 3 10-38 2-3-13-23 21-10 4-18 25 16 21-41-35-16-24-2-25-1 9 13-30 1 2 11 6 4-19 4-4-3 2 13-15 11-10-12 8-13 7-27 2-3 8 11 11-10 4-32 7 4 1-11 5-8 5-5-4-21-16-1-3-5-4-16-13-4-28-2 8 16-2 9 10 2-7 31 18 0 8 9 31-59 5-3-5-8-1-3 7-5-3-7-16-6-2-7 97 32 1 3-4 9 15-6-1-6 32-43 65-19 7 4-80 112 3 9 37 109 19 67 30-2 18 2-40 40-17 12-9 16 3 34-38-3-4-8-146-156-50-31-6 1-2-25"/>
</g></g>
<path d="M315.6 521.6C315.9 519.2 315.9 516.9 316.4 514.4C316.9 511.9 317.7 509.1 318.8 506.4C319.9 503.7 321.5 500.9 322.8 498.4C324.1 495.9 325.3 493.6 326.8 491.2C328.3 488.8 329.9 486.1 331.6 484.0C333.3 481.9 335.3 480.3 337.2 478.4C339.1 476.5 340.8 474.4 342.8 472.8C344.8 471.2 346.9 469.8 349.2 468.8C351.5 467.8 353.9 467.1 356.4 466.7C358.9 466.3 361.7 466.3 364.4 466.4C367.1 466.5 369.7 466.7 372.4 467.2C375.1 467.7 378.0 468.5 380.4 469.6C382.8 470.7 384.8 472.3 386.8 473.6C388.8 474.9 390.7 475.9 392.4 477.6C394.1 479.3 395.9 481.9 397.2 484.0C398.5 486.1 399.1 488.4 400.4 490.4C401.7 492.4 403.7 494.1 405.2 496.0C406.7 497.9 408.1 499.6 409.2 501.6C410.3 503.6 411.1 505.7 411.6 508.0C412.1 510.3 412.3 512.8 412.4 515.2C412.5 517.6 412.5 519.9 412.4 522.4C412.3 524.9 411.9 527.7 411.6 530.4C411.3 533.1 411.2 535.7 410.8 538.4C410.4 541.1 409.9 543.9 409.2 546.4C408.5 548.9 407.6 551.2 406.8 553.6C406.0 556.0 405.3 558.4 404.4 560.8C403.5 563.2 402.5 565.9 401.2 568.0C399.9 570.1 398.3 571.7 396.4 573.6C394.5 575.5 392.1 577.2 390.0 579.2C387.9 581.2 385.7 583.9 383.6 585.6C381.5 587.3 379.6 588.6 377.2 589.6C374.8 590.6 371.9 591.4 369.2 591.5C366.5 591.7 363.9 590.9 361.2 590.4C358.5 589.9 355.9 589.5 353.2 588.8C350.5 588.1 347.7 587.6 345.2 586.4C342.7 585.2 340.3 583.3 338.0 581.6C335.7 579.9 333.5 577.9 331.6 576.0C329.7 574.1 327.9 571.9 326.8 570.4C325.7 568.9 325.4 568.3 324.7 567.2" fill="none" stroke="#000" stroke-width="2.8" stroke-linejoin="round"/>
<text transform="translate(320.9,543.5) rotate(81.0)" y="6.1" text-anchor="middle" font-size="16.67">90%</text>
<path d="M385.2 512.5C384.4 510.5 383.9 508.3 382.8 506.4C381.7 504.5 380.4 502.4 378.8 500.8C377.2 499.2 375.2 497.9 373.2 496.8C371.2 495.7 368.9 494.7 366.8 494.4C364.7 494.1 362.5 494.3 360.4 494.9C358.3 495.4 356.0 496.3 354.0 497.6C352.0 498.9 350.1 500.5 348.4 502.4C346.7 504.3 344.9 506.5 343.6 508.8C342.3 511.1 341.3 513.5 340.4 516.0C339.5 518.5 338.9 521.3 338.5 524.0C338.1 526.7 337.8 529.3 338.0 532.0C338.2 534.7 338.9 537.3 339.6 540.0C340.3 542.7 340.9 545.5 342.0 548.0C343.1 550.5 344.5 553.2 346.0 555.2C347.5 557.2 349.1 558.8 350.8 560.0C352.5 561.2 354.4 562.0 356.4 562.4C358.4 562.8 360.5 562.7 362.8 562.4C365.1 562.1 367.7 561.3 370.0 560.8C372.3 560.3 374.5 560.0 376.4 559.2C378.3 558.4 379.6 557.1 381.2 556.0" fill="none" stroke="#000" stroke-width="2.8" stroke-linejoin="round"/>
<text transform="translate(388.7,537.6) rotate(-77.0)" y="6.1" text-anchor="middle" font-size="16.67">50%</text>
<rect x="264.37" y="434.1" width="194" height="187.4" fill="none" stroke="#000" stroke-width="1.1"/>
<path d="M308.8 621.5v4.9M363.9 621.5v4.9M419 621.5v4.9M264.37 474.7h-4.9M264.37 530.1h-4.9M264.37 585.5h-4.9" stroke="#000" stroke-width="1.1" fill="none"/>
<clipPath id="c022"><rect x="468.14" y="434.1" width="194" height="187.4"/></clipPath>
<g clip-path="url(#c022)">
<path d="M468.14 621.5V620.97H472.02V621.5H475.9V619.57H479.78V618.28H483.66V618.28H487.54V613.12H491.42V613.12H495.3V611.83H499.18V604.53H503.06V604.53H506.94V597.44H510.82V585.63H514.7V579.61H518.58V574.88H522.46V562H526.34V538.37H530.22V530.85H534.1V514.74H537.98V503.99H541.86V482.94H545.74V482.94H549.62V478.22H553.5V469.19H557.38V455.66H561.26V464.25H565.14V443.84H569.02V464.25H572.9V467.47H576.78V491.53H580.66V485.09H584.54V499.27H588.42V505.07H592.3V519.46H596.18V563.07H600.06V552.97H603.94V565.22H607.82V583.91H611.7V584.55H615.58V593.79H619.46V595.94H623.34V607.11H627.22V611.4H631.1V616.77H634.98V617.85H638.86V617.85H642.74V619.14H646.62V619.14H650.5V621.5H654.38V621.5H658.26V620.97H662.14V621.5Z" fill="#808080" stroke="#000" stroke-width="2.6" stroke-linejoin="miter"/>
<path d="M515.92 621.5V434.1M563.15 621.5V434.1M610.5 621.5V434.1" stroke="#000" stroke-width="2.78" stroke-dasharray="10 4.8" stroke-dashoffset="-0.9" fill="none"/>
</g>
<rect x="468.14" y="434.1" width="194" height="187.4" fill="none" stroke="#000" stroke-width="1.1"/>
<path d="M505.5 621.5v4.9M562.5 621.5v4.9M619.5 621.5v4.9" stroke="#000" stroke-width="1.1" fill="none"/>
<text x="469.04" y="420.5" font-size="20.83">p2 = 0.0229</text>
<text x="600.1" y="411.54" font-size="14.58">+1.6613</text>
<text x="600.1" y="426.24" font-size="14.58">−1.6572</text>
<clipPath id="c030"><rect x="60.6" y="631.05" width="194" height="187.4"/></clipPath>
<g clip-path="url(#c030)">
<radialGradient id="u030"><stop offset="0" stop-color="#f0f724"/><stop offset="0.17" stop-color="#f1f525"/><stop offset="0.33" stop-color="#f2f227"/><stop offset="0.5" stop-color="#f4ed27"/><stop offset="0.67" stop-color="#f6e626"/><stop offset="0.83" stop-color="#f9dc24"/><stop offset="1" stop-color="#fcce25"/></radialGradient>
<ellipse cx="168.24" cy="730.4" rx="31.74" ry="37.06" fill="url(#u030)"/>
<g transform="translate(60.6,631.05) scale(.1)" fill="none" stroke="none">
<path class="k0" d="M0 768l139 874 1739-644"/>
<path class="k3" d="M315 442z"/>
<path class="k4" d="M630 763z"/>
<path class="k5" d="M1323 227l271-169 250 1386-367 276"/>
<path class="k7" d="M878 63l-333 1152 1158 287"/>
<path class="k8" d="M532 448l174 746-64 334 989-25-82 338 262-627-265-794-148-244"/>
<path class="k9" d="M1398 229l55 107 287 68-24 630 204 286-355 516"/>
<path class="k10" d="M410 368l491-368 427 191 230 142 49 206-419-3 752 197-1732 425"/>
<path class="k11" d="M675 491l-132 144 964-38-396-453-200 1540-362 42 876-13 414-186 5-370"/>
<path class="k12" d="M764 239l-123 279-95-16-150 134 27 88-126 41 9 178 313 722 277 120 580-442-12-86 208-241-129-795-53 0-284 193"/>
<path class="k13" d="M252 862l188 300-15 111 10 83 206-78-24 220-143 141 554 49 245 77-23 75 287-152 200-519 30-434-121-158-199 58-29-216 62-16 9-93-507-133-352 808"/>
<path class="k14" d="M394 567l57 26 12 82 37-14-163-25 14 460 199 322-26 130 196-230 225 364 78 9 33-19 61 44 59-2 92 43 75 15-53-137 84-143 153-50 245-85-51-122-53-338 134-174-65-323-265-229-57 21-118-52-135 55-91 298 105 1380"/>
<path class="k15" d="M659 311l170 27-44-138 165 24 55 50 254-85 80-12-80 299 314 10 115 16-9-100-66 240 93 44-6 152-12 84 122 141 0 21-109 165-108 85-157 75 3 198-24 159-226 8-128-105-103 6-88-61-8 162-248-132 99-151-61-89-93-151-54-42-78-48-127-10-16-110 56-295 203 146 69 81 100-101-26-292-151-42-17-13 1294 216"/>
<path class="k16" d="M654 270l115-29 83 52 132-103 76 60 64 35-20 76 98-58 11-93 86 158-8 26 151 19 26 263-7 44-20 43-14 120 20 16 63 115 99-199-26-53 2-46 77 42 1-107 60 202 103 225-211 169-196 114 35 79 16 160-109 32-82 69 32 65-8 8-86-178-1-149-318 88 33 104 41 126 77-39-288-54-159-119-88-91 25-149 38-26 15 57 164 42-183-241-73-23-63 4-60 107-4-263 40-222 36-92-7-21 314-181"/>
<path class="k17" d="M627 348l-74 120 6 78-93 28-11 22-47 85 134 31 121 110 71 10-84 65-10 242-110-50-5-34-76 49-24-151-21 0-39-16 8-80 54 416 274 88 31 80-60 134 294 6 75 41 46 4 15-75 51 103 74 115-219-7-29-38-61 18 447-109 81-87 79 46-80-218-209 102 469-284 74-175-3-30 24 6-32-46-10-132-1-2-164 29-65 121-5 15 80 53 1-374 46-65 52-5-41 126-177 4-91-130-44-6 15-67-92 19-55-98-21-39-87 12 23 53 18-138-211 29-17 111-87 6 19 32-10 127-113 34-3-124 284-26-224-227 628-34 76 190 148 15"/>
<path class="k18" d="M578 457l-7 27 28 6 127-31 24-15 9 61 5 14 26 59 45-128 9-96 78-48 40-82 210 60 75-31 36 2 16 7 107 31 24 16-37 43-48 27-95 13-19-48-73 102-55-49 58 150 141-20-19-32 88 41-10 11 89-5 4 20 30 77 71-16 23-8-16 114-18 52 13 97 60 22 44-23 8-29 8-64 26 10 29-40-111-13-32 216 115-9-28 181-50 9 6-27-82 9 37 82 59 6-17 58 1 27 31 23-70-1-31 7-23-57-62 142 24 59-104-25-82-14-13 16 2 37-50-25-104-2 24 76-2 127-4-1 31 13 28-15 39 4 16 26-34 1-114-14-9-43-28 62 27 52-177-20-1-116 20-1 46-17-5-127-91 76-75-25-86 47 1 22-57-141-36 27-11-144 45-43-72-119-36-25-10-5-27 16-120-2 6-13 39-38 16-53 28-130 51-3 52 17 35-25-64-105 35-37 17-23-26-66-142 54-35 45 76 53 147 262-173 217-38-13 85 60 826-4 27 298 57-15-6-583 9-165-5-431-45-13"/>
<path class="k19" d="M632 451l47 12 22-47 20 0-7-20 42 18 68-33-13-59 48-5 123 2 33 85 38 13 39 48 69-45 4-16 30-22 5 41-59-50-36-24 175-41 14-18-5 98 18 14 54-49 87 106 36 25 53 93 0 50 21 20 13 34 55-53-131 1-22 64-41 104 89 19 39 23-26 33 47 39 42-75-32 207-3 73 41 20 13-7 18 19 9-34-41 106-51-40 11 106-101 12-3-64-19-19-12 37 2-120-46 18-107 95-63 176 52 62-1 33 17 30 28 24-37 27-47 1-60-30 16-46 13-5-39-22-140-19-22-4-98-29-29 13-73 53-7-6 1 24-10 2-3 14-63-29-17-42-30-12-64 1 40 41 61 71 23-120-2-83-96 14-61-8-35-45-32-24 61-70 49-10 36 44-8 14-24 42-157-167-6-11-28-114 111-14 42-21 121-48-21-191-23-82-5-6-26 18-37 28-46-12-17-53 16-54 43-11 39-9 12-48 70-25 29 60 60 7 8-32 72-75 137 56 192 25-24 44 140 1-88-112-545 122-22 13-180 196-40 46 5 56 461 692 2 46 63 6-16-44 143 6-5-19 49 64 243-145-17-35 41-8 4-75 50-5 84-6-89 120"/>
<path class="k20" d="M684 476l9 30 23 25-8 10 91 0 16-1-35-44 15-20-16-72 84 11 14-5-14 35 10 15 33-79-25-28 0-2 51-16 46 10 54-31 38 24 9 47 55 0 17-16 1-8 46-31 41 7 14-12 36-13-28 61 82-14 26 9 48 39-12 22-50 18-8-6 6 39 17 28 16-11 17 47 23 31 11-56 8-54 56 96-3 35 4 77-26 8 84 1-11 48 42-3-24 36 42 38 13-7 45 83-4 59-85 5 6 97 15 45-28 26-12 72-31-12-40-24-33 14-43-27 83-74 154-26 8 53-74 167-14 60-21 56-14 40-23 49-79-1-52 38-59-10 3-31-16-9-56-15 4 142 65-32 30 68 124-101-38-203 4-41 2-465 50 3-98-176-49-22-5 66-43-158-98-24-14-20-12-9 12-27-76-7-49 45 2 12-16-19-56 9 13 16 130 76 33-11 396 18 23 31-843 18 6 16-34-4 1 54-37-74-61 11-19 22-15 5-51 27 15 16-28 9 3 54 16-2 16-25 8 7 11-6 46-1-3 110-15 5 24 22 25 19-3-68-87 1-28 13-32 31-33 85 16 23 6 50-22 30 25 26 17-14 47-52 9-59 4-20 15-12 16-6 21 114 22-15 18 16-43 33-24 75 8 45 27 28 19 34-11 31-16 41-44-4-3 24 5 28 39 68 48-36 49-8 6-3-1-21 24 50 7-3-17 36 40-6 9 29 8 33 2 3-18 4-16 2-64-10 150 18 16 47-17 18 38-38 2-59-31-28 0-32-20-27 80-63-141-20-39-161-67 5-15-3 62-73 317 322-3 126 16 16 30 9 38-9 34 8 34-12-10-26-36-43-19 16 4 119-98-14-29 20 26 59-130-52 79-89 5-25"/>
<path class="k21" d="M697 531l21 73-11 24 11 37 9 8-1 59 1 32 4 20 48-28 20-50 57-53 8-10 2-77-23-48-62-8-1-36 9 74 76-99 61-12 25-4-5-49-24-15-24 35 106-12 41 82 54 14 20 20 22-26-9-16-36-17 66-57 25 10 11-18 13 57 35-15 50 24 35-30 1 65 1 54 1 8-18 16 71-29 27 66 39 36-12 41-68-32-128 22-5-160 23 4-82 47-50 42-41-28-59-23-11-4-39 89 12 88-306 0-12 14-10 6-12 38-49-20-29-23 21-24 8-37 5 147 14 2-41-1 2 55 4 10 17 8 8 20-11 25-10 28-3 35 15-2-9 36-35-24-11-1-9-10-9-10-31-21-6 50 24-138 123-6 40 1 23 17-22 23-31 22 22 31-12 27 114-9-56 107-64 30-52-13 14-18-55 33-21 17 2 55 38-15 38 14 3 69-1 9-46-20 109-42 30 72-5 17 15 12 7 20 18 1 39-6 6-35-59-4-50 54-17 7-33 24 69 47 69-5-6 21 19 22 30 3 24 4 25 24 11 34 32-9 15-18 6-21 61 23 18 35-33 58 129-13-7-56 5-33-31-38-1-98 150 48 15 63-36 3 7 10 8 40 23 5-4 20 31-1 1-51 17-66 60-5 15 1 8 29-19 10 15 47 21 4-41 19-145 37-22 8-17-16 7-92 291-13-58-64 16-21-3-49-15-41-15 6-28-4 38-47 47-11 22-18 25 58 20-14 22 13-3 7 41 0-11-82-7-3-2-30 26-19 2-20 6-22 0-15 21 24 39 14-19-49-1-102 12-16 17 35-115 2-7-33 41-25 30-21 35-26-107 3-16-64 33-19-5-23 24-86-9-64-18 11-33-78-38 350 39 124 1 51-55 13-56 36 73 150 14 69 42 8-612 49-88-22-11 45-2 7-18 70 50-161 24-50-56-60"/>
<path class="k22" d="M706 579l16 24 0 40 21 2 41 10 13-12 0-42-6-36 9-13-28 16-7-3-1-28 9-12-23 23 122-6-6-28 1-23 10-14-10-23-33 25 65 26 18-14 19 1 16 2-9 22-10-7-4 32-17-6-17 19 90-7 24-31 45 0 1-23 29-8 29-6 37 12 14-16 24 17-4 23-12-2 52-37 7-18-3-5-11-6 43-5 10 38 48 28 31-5-6-27-4 52 0 13 37 6-20 22 32 20-1 5 31 2 18 1 27-4-4 23 11 4 4 30 8 27 16 21 5 8-11 23 0 8 31 29 14 4-12 26-46 4 7 47 8 38 29-17 14-19 32-18 8 57-27 12 6 15-22 22-11 4-13-2-12 9-13 37 0 28 16-4 17-5 22 1 2 11-13 43 23 9 0 56 5 9-19-1-19-11-23 0-27 15-9 7 11 39 8 9 26 11 23-1-45 51 24 37-48 9-10 28-30 2 1 9-26 10-24 8 1-40 12-8-18-17-43 6 16-38 12-35-52 4-5 129 12 9-20 10-8 20 12 24 18-17 18-17 12-9 4 16 8 21-4 16 1 15 22 1 22-7-5-14 3-7 4-37 38 19 28-27 8 6 22-50 0-246-80-31 193-1 2-88-59-260-13-4-31-71-74 20-1 26-33-4 2-22-55 43 13 52 80 2-150-77-4-75 7-20-49-9 12-28-21 67-35 9 8 23-82-21-38-55 2-29 20-92 35-7-111-5-11-9-10 18-19 14 9 13-58 12 15 129-109 1 42 58-82 44-52 28 4 11 9 9 4 11-30-40-32-21-10 34-20 4-22-21-20 1-43 24 33 72 5-1 13-13-1 61-30-6-45 0-9 75 62-27 39 14 23-12 41-55 11-39-41-34 96 101-47 88-113-4 8 39-27 0 44 53 26-4 1 37-2 25-26-4-14 8-27-7-17-3-25-11 47 41 8 50 41 0-1 17-23 15-2 21 34 7 26 1-2-7 5-39 13-3-5-42 19-18 22-61 11 163-2 40 54-5 22 29 1 14-12 53 49 0 41-5 8 41 19-12 29 10 17 42 31 2 3 37 7 1 17 5-14 15-3 17-19-2-6-16-24-24-67-6-22-33-22-28-49 23-25-16 1-25-15-14-17-5-2-16-23-13-2-28-73-1 19-22 0 56 5 8 16 27 69 16 19-191 51 0 85 23 5 280 141 28 20-6-6 35 49-11 8-76 12-6-24-2 54 3 9 10-8 26 70-20 26-15 2 37-1 9 14-13 40-58-172-16-12-47-35 14-41 18-2 22 14-6-32-5-13-15 27 57 12-114 102-42-44-637 181-83"/>
<path class="k23" d="M769 576l7 28 32 17 13 22 10 33-32-4 0 11-34-24-31-12 3 39-13 11-16 18-12 28 1 6-18 22 9 40-21-2 2 38 5 16 5-1 14-29 19-3 20-2-15 57-15 47-37-6 1-25-7 49 25 13-2 34-4 9 2 14-14 3-27 25-19 3-16 17-6 20 38 78 40 34-6 18 43 29 11 15 28-4-4-13-4 1-5-44-6 4 25-44-11-15-32 3 15-32-44 6 7-60 70 18 88-3-12 148 17 12 3 9 18 11 30 18 1 34 12-2 1 19-6-4-14 14-6 49-7 11-6 8-9-4-3 0 5-33 41 22 16-7 32 0-1 31-11 16 0 4 2 19 20 5 0-20 3-4 30 11 25-14 5 29-11 18-62-3-20 19-26-57-41 24-37-46-25-41 6-27-18 0-1-7-24-10-11 21-5 7 11-83-2-6 24 11 15-13 29 13 154 99 68 1 20 8 9 3 25 0-16 31-4 47 20-8 1 15-4 7 39-4 24-8 15-19 19-2-8-20-22 4-23 3 62-18 39 9 15-13-4-6-20-14 34-23 43-11 9-5 24-14 8 25 8 13-9 23-34 38-40-13-29 26-18 42-32-122 52-72 45 7 15 0 13 1 22-20 0-21 16 4 29-6 15-12-2-38-1-19-15-3-9-8 12-21 34 6 4-3-2-17-18-25-8-24 6-10 33 13 27-7 1-31 1-19 14-32-15-29-15-24 3-65-2-32-4 3 22-14 0-3 30 3 0-28-29-22-32 1-5 12-11 5 2-52 19 6 24-10 5-3-16-8-15-29-24 8-6 2-13 32-18-17-11-49 4-5-29-8 1-19 15-23 7-20 29 27 3 31-75 12 1-52 12-44 11-13 12-24-67 17-7 5-8 22 13 9 11-9-31 20-19-19-4-34-19-22 26-26 19-6 11 31-39-57-32 18-21 21-10 0-6-29-23-18-24 27 1 16-28-8-10 1-2-4-11-1-22 12-12 11-14-10-13 2-14 1 7-10-15 1-1 36-39-7-13-12 8-29-44 10 5 25-7 10-25 34-39-12-9 18-23-13-2-15 4-20 21 1 46-45 1-16 7-20 147 22 35-19 17 109 37-6 25-7 10 16 15 17 41 22 29 26-28 41-40 36-120-82-61-21-25 40-9 28-28-73-34 21-98 141-57 145-6 10-111 35 748-11-12-62 8-16 29-9-14-34-51-27-9-15-8 6 112 108 49 2 8-12 33-13 4 92-14 78-9 46-5 2-1 38-1 23-14 15-19 0-7 7 13-34-17-25-6-54-9 143-2 17 10-1-93 5-29 13-21 27 101 13-138-99-205 144-22 60-7 1 13 7 17 95 124-1052"/>
<path class="k24" d="M888 539l15 26 10 3-17 18-7 19-16 6-11 5 3 14-15-1-2 28 2 20-7 12-13 16-2 15 12 4-3 9-22 16-15 10 2 10-16 1-27-7-17-5 3 28-10 13 11 19 20 3-1 22-14 17 26 20-2 31-12-1-45-6 3-28-19-18-3-56-8-6 24-9 59 8-2 6 26 8 3 16-16 2 50 17-11 17-28-131-1 1 13-49-7-15 30-26 57 8 7 1-4 12 18 18 45-4 1-32 15-31-8-21-8-18 7-15 17 15 10 1 19-5-6-12-12-33 66 31-9 19 12 14 4 13-18 3-27-7 58-13 9-16 4 43-17 30 2 34 29 1 7 31 19-5 4-39 52-6 2-42 3-6-30 20-20-23 6-21 68-11 8 0 12 18 20 2 3 9 6-12-13 33 20 16 28 12 17 6 8 15-9 18 1 33 26 3-5-11 5 40-14 23-20-1 5 8-3 28 51-12 16 0-1 18-2 0 24 20 16 28 26-7 24-25 12-1-21 69-10 28 11 12 13 1-2-10 14 2 8 30-16 28-17-7-5 17 12 13 10 29-18 11-23-4-21 31-23-15 6-30 3-50-25 1-2 12 46-5 4 10-14-37-11-23 14-22 1-21-3-5 22 23 9 31 14 4-92-18-74-64 114-87 12-5 19-12-7-34-24 1-4-9 1-12 1-4-17 13 7-45-42-68-22 18-13-37-56-44-48 4 55 132 17-13-94 84-193-12-15-22-47-6-65-1 5-23-105-8-8 19 106-117 19-15 54 10-6 15-8 23 28 163-84 202-2 82-10 25-49 15 6 23-24 27-7 12-3 12-5-19-1-9-7-35-5-3-12 5-34-1 14-24 42 2-31-38-5-11-4-27 17 3-31-20-12 8 7-33-13-9 3-21 14-1 39 1 6 5-85-4-4-14 1-44 21 150 16 18 2 95-15 4-13-20-8-13-24-22 91 78 16 25 22 7 1 19 5 1 11 0 6 25 22 13 12-6 4-18-11-20-5-28-5-7 28-27 16-9 53 66-39 44 1 17-5 14-3 6 4 29 5 19 12 3 10-31-7-37-46-11-2 46-7 39 88 2 13-4 8-2 0-13 7-16 19-3-12-17-14-5 36-3-2-25 19 54 9 29 1 12-17-3 15 26 0 20-14-1-40 5 9-61 74-21 1 44 25 5-4 17 11 5 14 19 16 13 7 0-2-3 30 4-3-12 31-2-1-9 9-2-5-23 11-7 3-4 4-1-3-18-5-12 10-10 15 6-2 24-4 28 6 22 14-4-4-6 21-26 9-9 22 2-1-8-8-8 3-12 18 2 3-9-4-24-7 7 30 7 4-1 23 2 2 8-31-34-15-10-26-13 38-32 26-19 18 2 6 9 31-7 8-3 7-12-5-38-12 0 34-6-12-21-12-24 37 3 25-23 7 82-13 9-39 63-43 33-34-93-40 0-35-33 61-17-4-61-90-11 10-24-2 264 0 31-34-40-96 18 10 31-2 32 19-13 62 83 79-45-222 33-311-231"/>
<path class="k25" d="M890 626l19 35 8 1 14-3-1-16-1 33-9 8-7 16-27 1-1 5-4 29-4 8-24 8-11 10 12 15-2 21-12-6 3 18-6 17-23-4-1-8-3-27 5-29 36-28-6-25-11-5 17-22 97 13 7 38-2 15-9 20-10 31 41-4 44-4 13-16-48-23 25-38 2-6-3-15-13-12 14-16 25-13-10-12-11-14-3-9-12-12-17 16-8 12 4 22-15 2 70 28 21 3 20 0-1 24 27-4 24-21 4-26-14 0-7-11-23-2-10-12-23 5-2-16 1-31-21 1 67 6 5 21 16 3 4 9 12 11 12 11 8 1 5-9 16-14 15-2-1 17 16-1-9 21 3 22 11-5 13-18 3-6 25-3-5 33 19 24 28-5-4-15 0-5 20 1 21 5-29 28-19 9 7 23 10-4-1 12 17-9 5-6 1 31 17-13 25 10 1-20 22-8 1 23-16 28 4 8-14 26-4 13 13-3 13 26 7-2-32 7-27 13-14 47-58 0-2 60 18 45 15 58 10 16 13 2 7 10 5 19 2 4 6-8 16 16 13-3 1 21-21 9-1 7-23 1-12 5-10-20 6-9-16-20-8-2 12-8 38 41 19 35-3 6 30-10-2-76 8-6-3-16 12 0-32-4-5 2-11-11 8-14-7-8 8-36 20 2 2 2 9-27 20-1 2 21 25 1-5 7 17-13-8-28-1-8-9-11 13-9-23-13-2 0-45 1-14 3 1 24 1 13-18 11 52-15 0-65-9 3-5-1-3-15 18-3 6 5-15 160-153 20 5 10 20 86 0 15 16 7 2 15 18 15 4 18-17-2 4 12 17 10-1 14 20-25-71 0-6 11 3 21-25-1-23 0-9-16-25 9 11 13-4 32 16-1-45 3 0 8-20-3-23 1 4-25 9 5 13-16-26-9-26 7-7 7-4-16 6-15-38-2-16-2-12 6-19-5-21-9-24 7-23-19-1-18-5-3-9-16-7-19 21 0 28 0-6 12 17 12 59-19 42-4 36-1 45 42 4 27 8 51 7 40-16 5 8 13-89-34-12-6-8 6-8 8-1 6-25 3 0-14-18-14-15 5-8-5 48-15 13-11-4-14 25 9 15 23-149-26-19 12-9-22 13-28-2-8-26-50 13-20-30-8-18-7 4-10-18 2 0-33 11-14 6-20 5-16 31 12 14-17 1-27 21 11 2 5-10-36-87 36-22 10-10-17-2-25-11 0-1-14 17-2-10-12 7-11 13-9 9-8 7-22-30-2 0-18 0-3-27-25-8-9-7-22 20-6 17 3 17-9 2-18 14-2 2 7 23-11 13 19-19 21 5 54 39-19 77-8-47-54-30-47-109 4 18 32 3-63-53 140 10 41-1 32 21-3-7 63-33 6 2-36 43 66 38 6-14 22 4 16-10 36 11 16 6 36 16-4 10-19 69-37 15 13 150-133 23-241-33-107 110 31 13 18 16-28-5-35 39 21-7 43-2 40 45-41 23 7 0 100-26-4-22-221-64-36 1-2 26 637 33-3 18 22 8 7-25 67 18 21"/>
<path class="k26" d="M898 717l11 18-2 3 14-5 1-4 16 17 15 6 2 4 1 5 27-6 23 7-2 25-11 14 5 7 17-4 24-9 10 3-5-31 31 0 17 1-10-22-2-3-1-23 18-7 20 7 4 5 11-11 18 1 9-11 9-1 4 1 10 3 17-2-2 14 15 8 6 0 29 2 3 7-17 12-3 2-13 15 0 3-12-11-19 7 1 17 2 18 10 4 8 9-11 13 21 1 10 3 1-23 7-7 15 12 8 14-1 9 29-6-5-12-12-9 1-12 21-2-21-21-16 6-15-6-68 0-1 27 13 12-19 30 4 17 33-12 12 23 17 4 2 8 0-28 46-1 5-6 16 8 20-6-3 15 11-4 5 1 3-20-9-15-11 7-6 49-22 6-5 3 13 6-5 6-7 12 15 11 3 17-10 7-12-9-4 27-34 1 1-49 21-18-2-20 7-5 55 32 29-1 7-8-9 30-5-3-18 19-4 29-14 0 10 12-4 9 5 17-10 10-20-6-7-4 2-20-14 6-26 18-1 44 15-1 5 20 11-1 21-3-1-13 19-2 3-14 7-2-17 5-7-10 16 37 2 2 1 0 31-10 18-38-25-18 3 111-16 31-11 17-20 12-16-15-13 4-6-1-8-14 0-4-9-10-14 19-7-2-8 7 1 14 8 14 11 23 23-4-53-2-9 6-7-9 9-23-8-15-4-22 12-12 9-7-33-4 5-15-28-2 4 32-38 1-6 24 19 0-38 8-4 28 12 11 15 9 22 9 9 5 3-3 2 13-12 8 3 18 20-4 8-2 3 17 20-1 12 12 14-28-2-18-4 0-26 9-15-18-5-14-16-10 10-18-61 47-10-3 1 13-1 11-5 14 1 12 22-6 0 16 15 7 15 1-25-44-35-16-28 5 2 15 10-1 4 5-24 22-24-14-9-11-8-3-5-19-13 5-3-17-4-8-5-21 8-3-26 2 8-20 11-4-28-4-9 14-9 5-1 8-11-17 5-11-12-6-5-11-14-8-10-2 6-12-6-13 5-17-2-13 19 11 16 11 13-24 5-7-12-10-18-15-12-1 7-14-23-13-4-19-28 1-1 20 4 8-8 3-19 3-3-16-5-14-14 1 0 20-4 22 8 7 22-4 11 42-1 9 20-7 7 3-3 33-3 3-17-7-17-5 44 42 14 51 9 0 58 9 6-1-17 18 28 6-4 16 68-12-4-5-10-28 27 4 25-12-9-11-33-8 2-10-9 3-10-6 26-7-99-35 20-32-11-13 9-10 61-36 37 5 3-11 68 39 49-51-3-23-10-90-20 3 9-16 26 0 12-9 20 23-76-31-61-42 17-20 15-14-30-8 52-13 4-11 19 3-13-29-5-24 15 2 11 7-45-13-52 3-13-6-4-13-8 3-13 4-8-2 3-12 6 4 21-11 8 7 14-24 28-10-51-17-21 3-21-8-17 30-14 13-10 12 12 11-15-38-44 70 7 12 0 7-21-4-6 8-5 8 18 6 6 23-2 13-7-5-18 13 5 12-17-4-9 5-2 11-9 8 3 18 15-1 1 5 3 13 23-6 4-6 17-2 9 2 1 13-2 4 13 11-1 23 11 24 35-7 22 0 28-9-37-39-90 10-7 43-15 15 16 16 11 18-58-22 0-8-13-6-15-7 7 22-26 6-9-2 7-53-1-16 5-21-2-11 14 19 20-9 0-15 8 41-6 12 11 10 4 10-77-19 56-130-7-11 46 3 2-45 3-11 53 61-1 13 4 2 33 0-3-17-20-11 32-19 57-35 140-53-15-25 51 1 23 39 5 385 7 14 15 6 2 6 23-7-2 23-3-1-367-281-7 4"/>
<path class="k27" d="M1013 754l37 24 18 6 5 8 10-14-6-9 33-4-8 24 2 8 8 15 11 24 11 1 3-14 19-5 14 11-1 13-7 21-4 2-5 20 14-3 0 12-6 3 17-3 15-20 13 10 0 18 13-10 18 11-4 14 3 6-10 3 1 15 4 15 28 2 3-1 13 14 1-38-7 4-74-4-9 10-3 10 12 6 4 12 8-5 8 11 0 22 22-3 2-2 4 16 12-7 13 12 7-4-8 38-6-5-13 8-11 5 1-15-12-11-4-7-17-6-13 3-2 18 16 16-6 7 10 5-14 20-5 3 11 6 2 13 31 12 13-4-16 22-45-2-27 9 5 22 7-6-3 19-17 2 0-12-9 8-9 5-30 2-4 3-6-4 20 14 4 5 20 11 0-74-20-5-16 1-5 6-1-12-4-2-13-9 4-20 24 2-1-14-9-14 0-14 9 3 9-13 14-10-1-13 9-6 15-5 6-6 0-5 14-1-6-23-4-27-2-8-32 6 3 23 9-1-25-5-16 14-13-5-16-2 4-8-1-21 7-12-18-1-8 9 1 2-6-3-3 14-2 29 12-5-3 19 0 10 16 2 10-2-3 13-5 2 20 10 14-6 4-28 18 9 18-10 2 42-7 12-3 15-10-1-1 6 26 6 7 2-1 7 9 6 11-19-7-12-6-17 28-53-61-72-11 1-13 7 5-21-18-5 2-8 4-26 6 0-23 0-4 11-17 7-10 3-2 3 10-19-25-2 1-2 5-18-6-7 17 3 3-30-15-4-1-1-33-1-8 4 13 10-22 9 9 17 2 14 10-5-7 20-23-7-7-9 6-7-18 23-4 10-13-9-17-14-8-1 19-10 13-16 12-21 17 81-1 29 16-3 18 2-5-13 18-2-1 21-2 36-19-6-5 11 3 18-11 3-14 6 30 1-11 12 3 4 27 4 10-4 0-23-8-3-6 42-5 6 11 3 10 16 9 5-17 14-10 13-12-3-13-1-2 8 2 26 5 11-2 4 5 5-10 8 6 21-20 1-16-25 5-13 18-5-13-20-6-17-8-1 2-22-9-4-9 17-17-14-9-7 8-11 1-5-8-14 30 9 20 4 7-1 4 2 17 5-7 15 17 10 13 49 16-7 0 15 8 15 1 16-12-2-6 3 39 6-1-18 13-6 4 3 22-32 28 3-6-14 20 2-83-17-14 11 4 20 3 72 9-3-2 14-49 10-67-67-30-13 12-19 1-6-49-52 2-50 4-28 27-5 9 8-4-29 1-27 0-26-29 27-13-2 10 17-17 9 76 4 20-12-1-20 4 43-2 8-18 17-12 14 22 18 12 4 100 28 9 12 17-118-27-43-13 7-40-16 76-47-1-20 22 20 16 7 4 9-10 14 97-34-9-11-46-75-18 3 44 422"/>
</g></g>
<path d="M220.4 749.2C221.2 746.5 222.1 743.9 222.8 741.2C223.5 738.5 224.1 735.9 224.4 733.2C224.7 730.5 224.7 727.9 224.4 725.2C224.1 722.5 223.5 719.9 222.8 717.2C222.1 714.5 221.3 711.7 220.4 709.2C219.5 706.7 217.9 704.4 217.2 702.0C216.5 699.6 217.1 696.9 216.4 694.8C215.7 692.7 214.8 690.9 213.2 689.2C211.6 687.5 208.9 686.1 206.8 684.4C204.7 682.7 202.3 680.7 200.4 678.8C198.5 676.9 197.5 674.8 195.6 673.2C193.7 671.6 191.6 670.0 189.2 669.2C186.8 668.4 183.9 668.5 181.2 668.4C178.5 668.3 175.9 668.9 173.2 668.9C170.5 668.9 167.9 668.5 165.2 668.4C162.5 668.3 159.9 668.1 157.2 668.4C154.5 668.7 151.7 669.2 149.2 670.0C146.7 670.8 144.3 671.9 142.0 673.2C139.7 674.5 137.6 676.1 135.6 678.0C133.6 679.9 131.7 682.1 130.0 684.4C128.3 686.7 126.8 689.2 125.2 691.6C123.6 694.0 121.7 696.3 120.4 698.8C119.1 701.3 118.1 704.1 117.2 706.8C116.3 709.5 115.5 712.1 114.8 714.8C114.1 717.5 113.7 720.1 113.2 722.8C112.7 725.5 112.3 728.1 112.1 730.8C111.9 733.5 111.8 736.3 112.1 738.8C112.4 741.3 113.0 743.7 114.0 746.0C115.0 748.3 116.9 750.3 118.0 752.4C119.1 754.5 119.5 756.5 120.4 758.8C121.3 761.1 122.1 763.7 123.6 766.0C125.1 768.3 127.2 770.5 129.2 772.4C131.2 774.3 133.3 775.6 135.6 777.2C137.9 778.8 140.4 780.5 142.8 782.0C145.2 783.5 147.6 784.8 150.0 786.0C152.4 787.2 154.7 788.3 157.2 789.2C159.7 790.1 162.5 791.1 165.2 791.6C167.9 792.1 170.5 792.5 173.2 792.4C175.9 792.3 178.7 791.5 181.2 790.8C183.7 790.1 186.3 788.7 188.4 787.9C190.5 787.1 192.1 786.6 194.0 786.0" fill="none" stroke="#000" stroke-width="2.8" stroke-linejoin="round"/>
<text transform="translate(208.1,770.8) rotate(-48.0)" y="6.1" text-anchor="middle" font-size="16.67">90%</text>
<path d="M155.6 695.6C158.3 694.8 160.9 693.5 163.6 693.2C166.3 692.9 169.1 693.5 171.6 694.0C174.1 694.5 176.5 695.3 178.8 696.4C181.1 697.5 183.2 698.8 185.2 700.4C187.2 702.0 189.2 703.9 190.8 706.0C192.4 708.1 193.7 710.7 194.8 713.2C195.9 715.7 196.7 718.5 197.2 721.2C197.7 723.9 197.7 726.5 197.5 729.2C197.4 731.9 197.0 734.7 196.4 737.2C195.8 739.7 195.2 742.0 194.0 744.4C192.8 746.8 191.1 749.5 189.2 751.6C187.3 753.7 185.1 755.6 182.8 757.2C180.5 758.8 178.1 760.3 175.6 761.2C173.1 762.1 170.3 762.7 167.6 762.8C164.9 762.9 162.1 762.7 159.6 762.0C157.1 761.3 154.7 760.1 152.4 758.8C150.1 757.5 147.9 755.9 146.0 754.0C144.1 752.1 142.5 749.9 141.2 747.6C139.9 745.3 138.7 742.8 138.0 740.4C137.3 738.0 137.5 735.6 137.2 733.2" fill="none" stroke="#000" stroke-width="2.8" stroke-linejoin="round"/>
<text transform="translate(139.9,713.2) rotate(-51.0)" y="6.1" text-anchor="middle" font-size="16.67">50%</text>
<rect x="60.6" y="631.05" width="194" height="187.4" fill="none" stroke="#000" stroke-width="1.1"/>
<text x="69" y="839.9" text-anchor="middle" font-size="13.9">−4</text>
<text x="168" y="839.9" text-anchor="middle" font-size="13.9">0</text>
<text x="51" y="675.4" text-anchor="end" font-size="13.9">2</text>
<text x="51" y="733.2" text-anchor="end" font-size="13.9">0</text>
<text x="51" y="791" text-anchor="end" font-size="13.9">−2</text>
<path d="M69 818.45v4.9M168 818.45v4.9M60.6 670.3h-4.9M60.6 728.1h-4.9M60.6 785.9h-4.9" stroke="#000" stroke-width="1.1" fill="none"/>
<text x="157.6" y="868" text-anchor="middle" font-size="24.3">p0</text>
<text transform="translate(22.4,727.35) rotate(-90)" text-anchor="middle" font-size="24.3">p3</text>
<clipPath id="c031"><rect x="264.37" y="631.05" width="194" height="187.4"/></clipPath>
<g clip-path="url(#c031)">
<radialGradient id="u031"><stop offset="0" stop-color="#f0f724"/><stop offset="0.17" stop-color="#f1f525"/><stop offset="0.33" stop-color="#f2f227"/><stop offset="0.5" stop-color="#f4ed27"/><stop offset="0.67" stop-color="#f6e626"/><stop offset="0.83" stop-color="#f9dc24"/><stop offset="1" stop-color="#fcd025"/></radialGradient>
<ellipse cx="363.44" cy="728.88" rx="28.27" ry="37.06" fill="url(#u031)"/>
<g transform="translate(264.37,631.05) scale(.1)" fill="none" stroke="none">
<path class="k0" d="M1905 994l-552 656"/>
<path class="k2" d="M0 989l1940-98"/>
<path class="k4" d="M324 756z"/>
<path class="k5" d="M788 50l446 191-595 1176-230 284"/>
<path class="k7" d="M529 45l127 1443"/>
<path class="k8" d="M1052 189l-190 244 753-37-207 446-673 661 3 350-505-506"/>
<path class="k9" d="M835 239l474 94 404 377-1310 204 902 912"/>
<path class="k10" d="M273 530l106 60 334-49 51-195 37-149 343-197 168 327 132 1085-1079-79"/>
<path class="k11" d="M750 101l-162 500-16 23-328 296 140 445 567 333 52 27 210-22 367-598-334-622"/>
<path class="k12" d="M743 202l14 28 117 0-35 171 303 88 73 52 306-52 164 85-137 713-392 514-481-108-371-489"/>
<path class="k13" d="M643 144l-39 242-286 284 10 124 65 17 239 516 93 140-56 136-133-128 464 17 88 131 45 48 181 33 55 68-119 62 146-559 57-226 89-79 80 185-143-590-312-266"/>
<path class="k14" d="M447 464l66 402-222 98 199 217-54 261 305 109 19 171-98 5 56 65 104 81 52-158 149 29 52-46 384-2-7-43-74-195-12-233 55 9 1-25 55-108 9-214 64-5-98-246-207-59-155-420-246 27-4 21-29-66 389 1061 400 231"/>
<path class="k15" d="M784 184l3 17 14 44-62 56 299 109 205 164 286 22-72-132-34-141-170-136-45 11 283 674 115 7 9-44-39 278 14 20-137-67-31 348-9 8 179 19-227 210 9 35-82-81-32 165-203-29-90-87-201 60 35 113-196-339-102-94 1-21-89-93 154-55 30-361 4-183-92-111"/>
<path class="k16" d="M635 280l57 43 31 72-91 49-166 89-40 26-36 243 89 19-2 122-81 22 31 148 93 9 17-46 89 23 18 3-25-178-22-51-3-166 75 33 68-99 90-355 7-36-2-11-8-48 18-23 214 100 48 167 169-31-16-179 193 316-16 89 4 101-53 14-20-5-19-10 40 268 191 34-9 47-4 131-68 160-43-22-13 96 4 133-68 29-131 16-34-30-65 58 90 80-234 25-16 21-57-1-84-60-155-3 101-142 99-125-399-31 22-23-2-134 1009-358 25-346"/>
<path class="k17" d="M532 452l20 12-9 24 38 11 75 25 0 49-83 60-30 45-24 5-8 50-81 0-12 39 29 4 10 63 116-28 124-112 27-238 24-85 22-90 85-1 25 62 103 39 23-120 165 72 15 116-99 39 148 94 87-164 139 58 37 36-20 42-7-5 90 160-64 119-54-23 31 98 84 11 24-1-11 17-9 110-32 36-64-40-30 96 58 50-115 18-38 44 50 60 23 77-110-5 54 82-3 24-27 31 62 94 149-226 26-107 13-28-666 237 49 96 37-3-6 178 69 4 24-34 45 25-342-107-74-9-2-8-50 25-59-117-68-288-38-78 77-52-166-64 221-627 303 221"/>
<path class="k18" d="M551 420l49 88-44 107 20 33-72 10-20-18 62 93 0 18 38-20-19 157-40 3 13-25-60-7 5-28-24-34-11 184-15-13 54 57 29 8 73 54-1 16-56 102-67-1-8 0 1-52-34 4 0-71 93 270 87 47 27 4 53 1-2-92-51-4 15-39-9 250 108-66 111 4 62 10 145-5 22 100 66 25 28 5 66-36 64-25-7-56 97 10 96-55 17 7 4-180-39-27 7-44 24-5-41-36-1-45-36 29-64 10 68-151 21-3 34-7-25-46-31-24 6-130 45-18 25-33 31-42 19 106-55 9-107-127-9-127-19-30-1-33 52 23 1-63-97 74-13-4-76 91-39-153-41-18 83-79-122-63-43-6-14-24-134-2-38 6-24-7 3 52-47 49 8 18 53 45 80 31 12-91-52-145-191 110 145 283 334 728-32 106 157-92 112-58-200 358-2-2-25 34-70-15-82-11-45-51-22 9-28 0-27-3 22 29 27 89 17-4-145-37-58-22-44 12-34-2 33-43"/>
<path class="k19" d="M593 474l11-9 54 23 24 6 32 38-48 45-89 94-46 50 31 61-21 27 57-5 15-26-7-30 55 11 42-30 90-40-12-209 20-92 23-11 32 32 7 2 42 42 75-32-13-18-33-31 8-47-42-4 102-18 20 17 133-25-17 116-11 63-24-22 101-69 60-10 47 24-26 91 58 48 1 54 47-34 34 15 16-9 3 151 67-56-3 182-48 56 21 45 15 14-32 111-34 27-21 21 24 51 42 35 0 43-6-5-7 1 0 54 16 3-14 15-32 36-62 36-44-5-12-35 8-60 2-23-36 26 26 127-11 76-28-2-17 1 4 46-28-9-36 23-62 3-35-13 1-40 77-19 18-61 142 86-22 32 86-59 82-84 35-206-120 38-278 37-48 356-60-34-56 5 22 22-119-2-1-22-21-59-23-7-28 8-13 47-83 27 6-65-37 24 7-107-22-9-42-21 1-30 31-18 67-11 6 21-3 45 77 38 12-105 112 151-26 169-79-3 349-17 68-40 171-727-43-77-20-166-112-27-35 133-505 95-111 27-65-3-9 18-24-41 13 101 50 25 29 49-5 46-52 63-13 23 66 109-3 66 78-87 38-72 12-777 51-19 11-46"/>
<path class="k20" d="M744 364l46-45 22 11 26 42 6 41-3 24-64-2-24 12 9 39-8 51 34-8 4-12-101-12-27-33 51-9-3-33-52 112-79-8 24 54 91 79 60-31 29 26 27 10 107-18-31-48 7-56 34-14-1-73 8-30 31-13 41-14 51-11-26-29-18-18-16-9 2-11-31 26-10 4-40-23-5-6 12-8-8 62 63 78 41 18 19-40 35 23 1 30 46 40 41-43-3-9 0-75 21-9 10-37 56 3 25 78 16 10-63 0 24 47 1 11 3 23 6 0-35-2-4 36 18 96 63 19 16-44 36 30 26-16 13 66 29 20 28-25 7-23 19 16-48-104-78-23-40 173-23 98 130-19 36 70 47 14-6 20 6 59-66-6-21-24-35-41 6 103-19 26-27-11 29 56 9 0 36-20 3-2 56-6 8 60-14 144-32-17-6 1-11 23-10-8-8-42 6 129-31-8-14 20-73-10-8 27-57-25 103-52 3 115-5 32 8 32-73 52 2 15-4 1-21-15-74-2-3-8-10-25-42 8-28-6-35 14-25 7-2-36-40-43-59 5-56 59-70 24-14 41-10 39 155-8-13-38 26-12 123-3 12 17-4 10 21 33-67 19-59 45 199-83-35-131 9-11-335 2-19-44-41 0-34-11-9-5 1 33-12-7 8 27-43 8 4 29-12-81-7-12-33-29-4-15-8-8-8 10-3-32 82 6-5 12 1-49 41 27 6 50-25-134-51-20-1-31 26-9-1-21-42-17-62 17-19-26 2-89-17-25-24 31-11 5 1-60-10-8 37-44 52-25 28 13 6-24-29 67 33 26 6-4 79 0-40-151-8-51-75 8 11 23-8-54-1-19 14-17-44 43-9-1 15 81-49-15 32 385 7-2-7 16 90 19 219-193 497 82 113 248-373-1082-12-25"/>
<path class="k21" d="M641 523l48-9 6 64 40-8 6-14 45-8 12-85 5-51 15 8-54 7-27 55-12-12 128-24 57-16-7-28 53-4-12-14 41-18 58 4 13-4 13-2 3 73-18 17 54 3 4-41 50 12-1 29 11 33 8-2 21 29 3 23 10-68 29-29 37 61 11 42 36-10 3 1 42 73 18 1-7 9 23 29-50-3-8-6-4 16 5 14-27 57-27 6 31 38 63 38 31-9 11-17-8-61-19 114 57 7-25 41-21 35-1 4-38 1-60 29-108 18-22-211 47-109-95-126-117-11-13-3-39 22 33 37-129-37-1 97-70 25-160-36-23 10-8 15-36-2 8-57 44-8-5 26-26 96-27 9-19 6 21 33-12 23-3 39-6 34 6 28 9 7-23 34 12 71 21 23 19 51 12 25 7 18-13 5-47-8-8 2-21 14 25-55 87-12 40 94 23 27 1 79-27-1-4 27-13 31-25 35 77 10 3-27 45 32-13 45 1 37 14 13 5-30 27-27 13 43 34-9 61 8-31 75-30-4-13 34-50 17-16-21 30-33 26-23-102-17-10 0 215 64 6 22 33 0 0 11 25 3 10-36 4-19-33-21 68 54 9 26 41 6 8-42 1-24 12 8 29-18 14-23 3-20 25 36 62-14-7-20 3-25 54 11 6-5 60 3 4-79 9-29 43-8 18 2-21-93-29-26 0 55-44-72-16-47-33 26 2 176-67-15-28-28-43-20-11-10-12-43-158 80 113 138 9-3 168 41 18 3-307 122-318-394-20 10-87-28 105-282-2-11-23-179 35-13 789 248 4 9 33 31-16 20-32 12-18 23 36 144"/>
<path class="k22" d="M748 480l10 15 17 21-30 7-8 5-13 14 1 22-15 5 1 7-25-6 17 64 3 5-10 12-11 5-23-7-24 4-6 14 27 14-5-52-1-8 86 29-27 40 65-6 31-44 13-11 78-15 62-18 5-59 20-28 14-8 7-14 23-2 18-13 37-14 28 6 22-8-12-17 17-38-78 1-25-10-24 24-15 36 0 11-24 17 4 9-46 16-21-26-19 4-27-15-18-21-13 30-20 22-22-8 44 50 30-26 22-83 11-26 38 46 1 9 149 67-3 4 50 29 12 14 22-24 24-12 31-32-9-13 3-16 76 28-4 55 20 4-2 25 39 5-55 24-23 86-6 37 62-20 7 4 25-14 0 39 37 10-2 25-17 2-16 9 6 8-1 16 0 28-29 4-61 5 35-64 11-6 12-8 80 5-18 50-15 42 25 25 6 31-10 38-24 20-4 8-5 25 8 18 27 7-1 36-16 31-45 7 3 10 23 49-10 12 53-21-91 58-2 64-2 38 30 21 27 19-71 25-24-3 10 27 2 30-20 6-19 6 1-25-8-13-13-4 11-23-18-17 22-17 18-44 0-20 16-1-11-23 3-10-9-19-41 34-11 40-10 109 4 31 1 17 17 26-41 9-27-22-25-3-14 43-60 6 0-15 3-19-38 5-15-2 7-26-56-6-24 5 8 46 15 9 6-4 7-25-68-1-10-10-4-7-11 2 5-27-33-8 14-23-52 27-28 18 14 15 7 15 20 4-56-79-20 14-20-23-24-41 5-8-21 19-28-43 19-61-1-13 11-20-27-5-7-35 0-30 20 2 44-6 7-21 4 55-6 9-7-11-8 65 35-10-10 34 8 12 49 93 119-25 53 46 26-22 108 20-12 25 98 6-128 93-47 18 151-442 129-35 5-147 133 84-280-333-392 63-89 106-37 4-27 7 16 27-3 24-3 12-18 4-30 8-11-8 30 47 45 2-8 18-17 15 14 32-55-10 94-36 18-4-3-23-26-29-28 4 30-35-72-65-4-31 42-134 27 417 4 10 29 2-9-19 35-15-69 77-18 19-4-39"/>
<path class="k23" d="M775 509l-3 46-1 25 9 15 13 2-25 10-17-4-7-18-2 35-13-4-7-4-11 0-28-10 5 29-7 10-8-13 1 56-5 5-23-1-2 33 9 40 8 34-4 18-6 25-6 9-5 0-13 11 3 27 41 26 21 10-16 34-28 7-10 11-14-7-35-2-3 14-2 50 28-3-1 21 14 5 9 7 12-32 56-43 5 109-30 8 18 28-29 7-35 12 6 16 23 27 3 1 10 16 31 41 15 0 4-5 23-6 16-38-24-18 9-20 72 49-2 125-16 28 1 8 12 22-1 10 22 9 26 2 17 10-33-41-4-23-73-11-32-9-11 8-15-17-4-35 2-23 22 3 21 40 20-7 5 3 0 70 29 50 20 14 10 15 1 7-17 7 24 14 89 7 25 12 25-36 9-9 3-3-2-37 8-11 12 23 20 34 10 10 11-22 27 1 6 4 11-17 10-5 0-20-14-10-26-17-19 12-11-33-76 12 7 10-41-2 11 63 20-11 9-98-13-19-83-38-197 12-71-185 20-317-17-24 79 1 21-5 11 14-5-50-20 6-5-36 38-24 0-12 21 14 19 0 12 5 12-34-5-8 9-7-49 14 22 105-6 11-80 64 208-202 26-5 9-12 9-60 15-14-2-13-5-2-22-15-17-10-11-2-4 10-9 14 26 2-41-25-15-7-22-4-7 8-4 29 1 2-1 21 7 4 17 18 143 24 22-3 71-13 7-35-15-14-8-19 13-5-6-17 35 10 13 53 2 29 27-32 40-1 8 9-4 6 6 22 21-3 6 23 11-9 27 11 10 5 11 3 3-14 3-11 8 46 5-4-15 20 15 33-4 5-49 11-24 10-54 9-65 3 175 64 3 45 48 1 9-2 14 33-13 20-8-1 11 19-2 17 3 33-12 21-18-8 30 24-1 19-1 7-5-2-13 4 41 20 3-54 6 0 1-18 2-12 22 13-34-75-61-12-86-14 15 202 82 7 29 2-13 14 10 13 8-2 17 25 5 3-3 38-17 38-6 6 20 16-10 35-20-13-29 12 1 30 1 28 31 1-76 15 6 18-30 11-17 29-2 2-23 4-16 1-9-18-19 4-17 15-4-4 26 21 3 14 35-3-4 20-63-5-24 34-19 18 53-145 5-18 40 8 4 31-18-62 5-15 22 1 46-3 0-19 27-32-1-15 14 26 33-74-9-39 2-21-42 11-72 85-25-13-34 64 94 56-1 94 21 10 5-27 98-641-160-246-11-6-4 10 1 10-17-6-127-77-16 8-52 34-14 13-9-17-16-6"/>
<path class="k24" d="M793 572l25-1 2 15 14 10 21 0 0-18-2-23 14 1-4-18-33 9-5 71-21-6-13 3-9-1-22 32-13-10 12 60-32 1-4 34-4 21-14-10-23 24-7 9 0 22 23 0 20 0-4-6-3 15-21 9 8 16 4 25 10 10-28 10 8 12 8 10-27-1 8 24 0 18-11 11-11 7-6-11 10-17-2-52-28 1-1 108 9-7 22 35 2 20 25 11 3-21 12-7 4-14 13-12 10-23 8-18-13 88 10 21-24 9-13-6-17 3-13 12-7-4-8-5-1-4 27 50 13 10 24 6 20 5 15 15-7 33-1 26 29 11 24-7-9 35-10 12-6 16-15 11-17-6 11-11 6-30-41-5 2 48 60 21 4-4 20 8 7 5-7 28-2-1-8-2 14 25 26 9-11 21 36-6 0-2 27-1 12-5-8 22 16 13 18-6 13 1 21 1 9 0-17 22-25-6-32 6-1 8 81 18 56-7 4-26 8-12-10-7-14 11-12-32-17-11 5-6-7-18 4-15 9 3-2-21 32-8 32 16-6 51 41-2 11-3 13 4 0-10 23 9 10-9 18-5 0-16 7 2 11 2 3 41-34 13-32 29-24-35-47 30-89-59-5-11-11-6-32 13-9-22 26-22 29-16-34-70-115 22 11-62-119-8 8-28 6-67-3-6 84-20-118-63 55-218 15-53 26 21 31 2 14-7-33-36 39-57 26-15 4-10 38-32 7-15 4-7-14-10 8-12 39 14 12 4-18 11-3 14 37 14 51-1 12 0-3-19-29-6-20-16-11-12-8-36 68 13 15-5-1 12-20 13 76 10-3 5 8 11 5 3-2 7 15 9 21 12-7 8 23-12 3-22 14 13 18 0-13 17 25 7 9 21-5 7-27-2-5 23-20-15-1-18 9-5-5 63 37 2 21-17 24-1 14 0-7 7-16 38-14-7 48 7 8 28 16 15 2 36 23 23-6 20 2 16 7 0-19 1-22 16 8 10 13 21 17-5 12-5 0 49 26 17-1-38-31 68-24-8-4 28-27-20-78 14 24 61 5 71 3 13 4 32 22 17 9-1 4-9 21 1 0-10 20-6 10-17-6-11-12-12-1-15-6-19 10-39 30 3-5 7-48 71 11 69 0 14-5 12-28-5 45-13 6-10 19-15 4 27-59 73-13-6-26 12-19 12-51 2-20-8-9 26-35-44 11-63 10-5 43-19 18 30 15-5 34 40-152-175 5-58 119-153 12-58-27-20-9-20-9-7 28-12 4-20-30-16 79 32-1 12-1 27 24 46 52-70 18-26-59-99-24-19-155-14-21 1 5-30 28-38-18 135-146 69-65-81-16 680-29-11-2-6"/>
<path class="k25" d="M769 688l-19 25 31 7 8-2 1 17-12 1 40 1-11-21-1-15 6-9 15 8 5-17-4-23 25 1-1 10 20-13 16 13 15-19-3-13 14-1-29 0-41-9 7-10 24-30 1-7 61 6-1 15 5 0-8 18-5 1 19 7 13 14-7 13-4 30-20-11-13 6-5 41-30-2-11-25-13 39-3 60-54-4 2-19-21 4-13 1-14 18 3 12 5 10-17-14-10-13-6-20 1-4-1-9 2 73-1 13-7-2 28 0-5 24 2 14 6 21 8-6 30 0-7 15-4-33-5-21 29-3 14 61 10 2-82-6-6 23 10 8-39-7 5-8 4-10 7-26-16 70 0 12 7 7 11 26 6 17 17 3 4 32-5 22 6 14 8 20-20 9-6-14-11 3-10-5 7-22-9-21 4-8-2-20-5 5-14 1-7-3-3-92 80 55 42 3 0 18 2 12 17 55-42 5-19-22 1 71 12 3 0 30 1 20 6-5-30-10-1-3-5-38 40 94 7-6 10 10 27 2-1 8-2 12 5 13-23 5-8 9-19 11 7-29 37 26 10 8 0 4-13 6 28 4-5-27 39-11 24 5 19 16 11 4 16-1 11-7 1-6 23-2 9 11 3 13 2 11 1 10 6 20 4-1 2 7-8 18 39-17-11-17 2-13-4-9 10-15 11-5 8 2 5-27 28 6 6-6-7-8-14-29 33-17 23-11 20 7 4 24 1 24-17-4-5 17 18 21-11 14-35 0 1 11-14-5-5 14-15-6-1 23-12-4-4 27 42-14 2-58 83-10-3-22-2 2-6-21 18-8-4-9 9 0 17 0 3-17-9-10-16 0 35-33 11-6 6-21-3-10-7 2 0-15-8-14 13-4 11 7-6-38 13-12 3 0-7-17-20-7 5-5 2-16-10-17 8-17 23 9 0-24 13-4-9-22 6-13 4-4-27 9-18 4-4 14-11 10-30 23 4 28 37 31-6 36 5 7-21 2-12 9 9 19 10 5-40 7-36 55 125-5-1-30 28-103-16-20-18-116-5-7-9-3-5 20-28-17-27-25 11-29 27-15 22-5 9 12-17 21 21 19 32 2-6-64-16-6-4-8-18-4-17-6-18 8-3-33-11-2 2-30 2-17-32-6-1-15-8-22-23 4-13 1-3 6-2 29 5 0-1 30-13-12 38-3 13 71-2 15-14 31 0 7-18-20-20-6 2-162 13-15 7 3-8-19-8 2 3-18-26 17-22 1-14-4 2-8-19-6-11 14-13-13-19 0-15-1 0-11-4 18 1 20 7-4 18 4 19 12 13 18 47-23-11-59-20 9-2-17 3-25-29 7 7 8-31-3-39 41-12 167 282-28 4-11 25 19-58-86-9-20-9 5-52 361-42 14-15 25 25 23-94 151 22 43 2 3-104 38 5 23-6 31-11 2 36-2-70-16-8 4-13-15 15-17 13-14 15 14-25-124-10-9-7 12-25 4 392 39-3 14"/>
<path class="k26" d="M853 697l3 1 12 4 37-3 0-8 7 5 2 16 14 15 10 7 8 11 11-22 10-5 20-1 6 10 12 10 3-29-10-15 25 3 10 12-2 15 8 11 12 11 24-1-2 5 18 1 23 0-2-4 8 8-12 11-1 23-24 3-6-3 8-6-3-10-28-3-13-6-1 15-23 14-3 16-20 10 2-27-11-10-56-9-22 1-2-22 10 1-27-7-10-4-3 9 6 7-23 7-10-4 5-8-24 8-6 12 10 18 1 18 15 4 7 0 8 13-8 16-32 1 2-18-20 12-20 0-1-7 7-2-1-22 14 7-33-17-25 68 51 6-1 16 3 36-17-8-7 3 1 10-3 14 19 11-1 14-11 8 26 8-2 9-5 12 3 24-12-2-10 3 11 14-11 16 10 10 5-3 6 8 1 10 0 24-11-9-11 20 17 22-11 16-3 16 21-3 8 8 12-2 4-16 1-13 10 3 17-8 1-21 1-13-27 1-3 9-12 4-4 4-1 30 41 12 13-7 15-10 10-14-8 40 5 9 8 1 0 13-1 12 15-5 27 3 14 15 11-4 3 5-8 10 7 23 6 12 13-2 12-3 0-10 5 4-1 19 23-7-3-19 13-12 12 2 7-9 29-1-6-16-7-13-6-1-11 1-2-13-26 21 5 10-35 0 0 14-5-4 16-30 0-29 2-2-28-11-14 0 1-26-8-5-23 16 7 8 11 23-28 13-6 47 4 6-15 8-6 14 21 8 17 8 10 6 2 19-44-3-43-36 9-10 0-13-13 0-16 14 0-52 1-14-15 3 55 40 56 22 37-60 6-6 48-39 61 27-1 7 11-17 17 7 10-15 12-8 10 2 0 10 6 2 17 18 15-14 15 8 1-26-26-10-8 2 9-11-1-14-17-4-19-4-2-14 1-29 11-15-1-8 14 10-3 19 16-3 4 8 18-13 0 33 4 3 8 10-40-11-37 27-14 10-4 4 1-29-23 12-18-17 7-11-17-54 58 4-12-29 38-4 0-11 10-16-5-10 13-6 2-24-20 0-8 6-11-15-3 28-29-9 9-30 6-20 19-23 6-25 30-7 13-21 15 10 14-8 14 36 7 6-51 6 0 6 4 18-5 11 0 17 19 3 11-8 8-4 1-4 11 18-23 9-11 8-11 26 39-2 22 3 1-28-20 57-20-10-3 18 11 16 9 12-35-5-16-5-3-9 0-6-8 5-6-107-1-15 3-27-12-57-12-5-4 4-1-15 2-12 13-8 13 0-6 13 15 13 32-17-1-14 1-26-16-34-29 19-4 16-3 1-5-2-12 16 1-72-13-6-25 2-16 6-9 4-6-3 2 12-9-4-3 14 18 8 21-14 13-4-34-37-15-21-26-7-2-6-20 4 7 32-26-4-31-3 9 24-28 10-20 88-28-6-11 3 8 8-20 3 1 81-1 11-20-19-3 37 0 33-18-13-19 9 8 24 8-8 14 43 44-1-31 35 4 31-13 2-7 14 2 11-74-50 0-24-9-16-8-15 6-20 177-61 22-7-13-33-16 15 158 47 8-97 18 15-82-92-188-34 266 485-1 4 11 9 28 2 0-9-6-10 17 29 0 8-10 13-11 10-55 2-4-4-7 7-13 3-11 11 14 10 17 8"/>
<path class="k27" d="M869 812l35 1-7-17 30 2 3 13-10 15-1 24-22 2 1 16-4-1 13 14 8 13-8 13 5 12 9 10 15-9 0 19 1 15-8 11-3 14-2 15 18 8-1 16 9 4 1 8-1 25 21-7 8 13 11 11-3 12 4 7 11 12-16 7 2 5 10 10 7 3-10 8 20 18 6-34 12 8 5-13-12-14-7-13-5-6 16-1 11 7 9-4-2 13 0-31 9 8-16-23 4-18-17 5-28-3-10-5-5-17-6 1-9-10-8 4 1-24 8-3-8-20 15-5 11 4 14-1-3-8 2-9 11-1 3 10 22 5 24-3 5-15 8 4 0-17-16-6-12-2 0 9-6 1-11-12-14 2-11-6-6-21-12-2 0 14-14 5-5 11 4 12 22 0 5 42-5 21 17 5 6 18 23-10 23 4 1 4 2-16 9 2 23-3 1-11-2 22 6 24-1 7 11-10 13 4-14 25-7 8 13 3 1 11-3 14 1 16-19 2-12 1-19 7-15 16 28 7 11 0-3 8 18 0-28 8-12 4 2 4-10 5-19 0-17 17 3 21-51-6-6-5 6-11-14-15-17 6-2 4-12-9-1 20-10-33-24-1 7-20 6 4 3-18 4 1 8 7 21-6 18-6-2-23 2-19-28-13-11-14-13-4-5-4-2-18 0-18-2-4-24 13 1 15-15-4-12-17 0-12 0-14 1-13 0-14 18-2 7 0 1-10-2-17-16 8-15-12-3-11 13-4 2-21 21-6 15 17-2 14 15 25-7 10-5 17 15-4 1 13-31 8-55-9 8 51 3 28 34 15 1 5 10-15 7-7 5 16 2 13 8 3 13 0 7 14 6 4 8-6-43 3-16-2-5 29 22-6 1 1 33-98 20-55 2-24 0-59-3-10 5-9 4-10 4-1 12-4 11-8 4-13 8-4 14-11 29-7 12-8 8 18 13 10 5 28-12 3-9-10-11-13-20 1-18 16-20 13-14 5 50 0 5 1 15-5 10 8 13 7 0 17 26 1-3-8 8-25-2-17 17 8 7-6-3 20-5 5 30-10 2 37 5-1-18 4-9 3-3 20-2 6 9-4-15 35-15-5-4 8-23 5-7 10-5-2-8-6-21 6-19 64 13 14 53-14 14 8 10 0 36 45 4-106 0-9-6-7-3 16 40 2 1-58-7-49-56-69-23-15 7-42-26-14-20-2-16 7-16 10-19 9-10-11-14-16-7 28 5 9 7 21-12 6-6-4-1 24-14 7-47-7-25 18-8 2-30 9-5 26 188-1 25 7-12-95"/>
</g></g>
<path d="M316.4 737.2C316.3 734.5 316.0 731.9 316.1 729.2C316.1 726.5 316.4 723.9 316.7 721.2C317.0 718.5 317.5 715.9 318.0 713.2C318.5 710.5 318.9 707.9 319.6 705.2C320.3 702.5 321.1 699.9 322.0 697.2C322.9 694.5 323.9 691.7 325.2 689.2C326.5 686.7 328.1 684.3 330.0 682.0C331.9 679.7 334.1 677.6 336.4 675.6C338.7 673.6 341.2 671.3 343.6 670.0C346.0 668.7 348.4 668.1 350.8 667.6C353.2 667.1 355.6 667.5 358.0 667.3C360.4 667.0 362.8 666.3 365.2 666.0C367.6 665.7 370.1 665.3 372.4 665.7C374.7 666.1 376.7 667.1 378.8 668.4C380.9 669.7 383.1 671.7 385.2 673.2C387.3 674.7 389.5 675.7 391.6 677.2C393.7 678.7 396.1 680.1 398.0 682.0C399.9 683.9 401.3 686.1 402.8 688.4C404.3 690.7 405.8 693.1 406.8 695.6C407.8 698.1 408.4 700.9 408.9 703.6C409.3 706.3 409.3 708.9 409.5 711.6C409.8 714.3 410.3 716.9 410.5 719.6C410.7 722.3 410.7 724.9 410.8 727.6C410.9 730.3 411.0 732.9 410.8 735.6C410.6 738.3 409.9 740.9 409.5 743.6C409.1 746.3 408.7 748.9 408.4 751.6C408.1 754.3 408.3 756.9 407.6 759.6C406.9 762.3 405.7 765.1 404.4 767.6C403.1 770.1 401.5 772.7 399.6 774.8C397.7 776.9 395.5 778.7 393.2 780.4C390.9 782.1 388.5 783.9 386.0 785.2C383.5 786.5 380.7 787.5 378.0 788.4C375.3 789.3 372.7 789.9 370.0 790.5C367.3 791.0 364.7 791.3 362.0 791.6C359.3 791.9 356.7 792.3 354.0 792.1C351.3 791.8 348.4 791.1 346.0 790.0C343.6 788.9 341.5 786.9 339.6 785.2C337.7 783.5 336.4 781.5 334.8 779.6" fill="none" stroke="#000" stroke-width="2.8" stroke-linejoin="round"/>
<text transform="translate(324.4,757.2) rotate(62.0)" y="6.1" text-anchor="middle" font-size="16.67">90%</text>
<path d="M357.2 694.5C359.1 693.4 360.9 691.4 362.8 691.3C364.7 691.2 366.5 692.7 368.4 694.0C370.3 695.3 372.0 697.4 374.0 699.3C376.0 701.1 378.5 703.0 380.4 705.2C382.3 707.4 384.0 709.9 385.2 712.4C386.4 714.9 387.1 717.7 387.6 720.4C388.1 723.1 388.2 725.7 388.4 728.4C388.6 731.1 389.0 733.7 388.7 736.4C388.5 739.1 387.7 741.9 386.8 744.4C385.9 746.9 384.8 749.3 383.6 751.6C382.4 753.9 381.1 756.1 379.6 758.0C378.1 759.9 376.5 761.8 374.8 762.8C373.1 763.8 371.2 763.9 369.2 763.9C367.2 763.9 364.9 763.5 362.8 762.8C360.7 762.1 358.5 760.8 356.4 759.6C354.3 758.4 352.1 757.1 350.0 755.6C347.9 754.1 345.5 752.5 343.6 750.8C341.7 749.1 339.9 747.1 338.8 745.2C337.7 743.3 337.2 741.6 336.9 739.6C336.6 737.6 336.9 735.3 336.9 733.2" fill="none" stroke="#000" stroke-width="2.8" stroke-linejoin="round"/>
<text transform="translate(341.2,713.2) rotate(-53.0)" y="6.1" text-anchor="middle" font-size="16.67">50%</text>
<rect x="264.37" y="631.05" width="194" height="187.4" fill="none" stroke="#000" stroke-width="1.1"/>
<text x="308.8" y="839.9" text-anchor="middle" font-size="13.9">−2.5</text>
<text x="363.9" y="839.9" text-anchor="middle" font-size="13.9">0.0</text>
<text x="419" y="839.9" text-anchor="middle" font-size="13.9">2.5</text>
<path d="M308.8 818.45v4.9M363.9 818.45v4.9M419 818.45v4.9M264.37 670.3h-4.9M264.37 728.1h-4.9M264.37 785.9h-4.9" stroke="#000" stroke-width="1.1" fill="none"/>
<text x="361.37" y="868" text-anchor="middle" font-size="24.3">p1</text>
<clipPath id="c032"><rect x="468.14" y="631.05" width="194" height="187.4"/></clipPath>
<g clip-path="url(#c032)">
<radialGradient id="u032"><stop offset="0" stop-color="#f1f525"/><stop offset="0.17" stop-color="#f1f525"/><stop offset="0.33" stop-color="#f2f227"/><stop offset="0.5" stop-color="#f4ed27"/><stop offset="0.67" stop-color="#f7e425"/><stop offset="0.83" stop-color="#fada24"/><stop offset="1" stop-color="#fcce25"/></radialGradient>
<ellipse cx="565.09" cy="729.42" rx="36.55" ry="37.06" fill="url(#u032)"/>
<g transform="translate(468.14,631.05) scale(.1)" fill="none" stroke="none">
<path class="k0" d="M1041 1645l-998-657"/>
<path class="k3" d="M255 429z"/>
<path class="k4" d="M1576 763z"/>
<path class="k5" d="M1348 68l194 178-157 1168-688 275"/>
<path class="k7" d="M1240 68l-960 1138 160 287"/>
<path class="k8" d="M84 845l213 357-147 331 635 254 824-311 278-291-198-742-720-22-124-216"/>
<path class="k9" d="M0 593l393-170-45-81 170 365-310 316 1375-105 86-673-745 1559"/>
<path class="k10" d="M383 222l88 364 656-215 299-34 203 223 1 814-352-1374"/>
<path class="k11" d="M134 602l135-124 170 666 136 244 63 332-293-20 1245-9 194-487 156-465-266-116-221 8-377-511"/>
<path class="k12" d="M205 402l47 603-107 245 0 30 172 57 151-50 353 362 598 155-162-1172 271-140 196 68 44-128-291-180-78-11-548-14"/>
<path class="k13" d="M167 637l-11 177 113 209-64 190 212 55 7-112-191 312 356 129 174 200 160-118 42-51 223 141 97-92 431-198-19-422-126 85 325-98-93-293 15-60-220-277-161-100-172 94-196-243 277 653"/>
<path class="k14" d="M583 197l154 43 279-49 100-35 347 520 131-9-12 440 30 96 22 19-1 70 25-129-142 20-14 204 104 72-14 45 111-42 92-270 39-31-32-153-457 417 21 279 21 40 118-60-373 95-72-230-201 95-106-35 0 264-254-176-66 12-218-430 549 62-308-654 31-39"/>
<path class="k15" d="M682 241l136 119 121-41 110-125 33 8 15 11-23 211 281 190 30 222 88-18 65 49 15 10 148-13 79 117-66 216-187-69-113-64-62 326-113 104-72 149 185 40-330 90 12 37-156-89-32-94-125-44-47 77-98-240-160-96-52-79-101-80 52-91-25-105 120-84 41 30-84-98 24-64-116-28 312-48-3-170-4-9-51 39-376 678 13 23-19 63 844 101 628-708 33-97 7-36-240-296"/>
<path class="k16" d="M331 442l172-22-35 139 160 177 63-308 28-174 68-31 23 90 166-34 60-28 125-67 147 122 81 37 101 40-227 82 322 228 3 57-40 1 85-22 17 154-23 46 36 46 90 7 21-36-132 112 21 68 8 213-163 25-112-76-96 117-179 39 61-174 56 318 32 26 157 29-444 52 2 73-236-21 9-19-24-24 35-38-72-84 173-54-364-104-100 10-24-49 14-74-68-22-52 45 46 91-127-151 264-39-108-150-106-194-87-1 9-77 84-56-42-54 396-420 805 721"/>
<path class="k17" d="M314 494l36 152 14 67-49 11 15 141 26 54-22 50-46 31-29-37 26-47-134 2 266 20-98 186-20-4 7 315 365 8 35 96 36 33 102-5-39 51 195 1 153-28 132 29 11-91 81-74 36 32 28-94 47-57 12 12 73 32-8 77-32-222-19-39-49 33 4-169 66 64 200-133 0-31 23-41-102-84-81-39-19-160-30-74-1-36 69-2-18-66-58-74-150 61-31 14-35-13-12 36-33 24 60 35 19-5-175 11 25 35-88-71-4-39-22-115 138-55 105 10-362-43-10 205-385-24 1-43 0-43-58 115 2 102 36 69 91-62-40 234 48 226-95 576 402 129 10 4 239-10-6 36 146-499 89-445-30-47 18-109"/>
<path class="k18" d="M359 546l24 9-26 30 111-57 63-6-25 39 98-19-3-74 61-58-15-28 58-15-37-43 87-42 59 11 84 19 117 9-7-54-24-53-38 220 16 87-35 21-38-52-28-10 281 6-40 51 112-87 127 2 5 13 26-30 36-33-11 138 55-4 47 2 41 41 21-20-9-56-50 121 114 8-18 134 58-20 19 10-42 64 96 39-15 17 51 163-172 31 9 29-18-136-178-104-7-99 2-25 10-38-3-34-50-17 15-24-216-256 56-88-683 112 116 190-36 42-25 147-46 15-27-56-21-1-6-11-111 41-44 9-27 51-42-18-20-29 67-62 51 235-12 139-66 36-29 28-1-127-51-59 355-108 24 458 31 20-34 73-7 35-94 21-43-14-39 0-3 2-24-18 3 44 48-137 8-6 29 10 35-30-170-2 403-4-57 156 15 107-87-15-16 64 15 27 126 10 66 51 89 4 3-86 36 8-4 13 19 4 38 26 29 15 16-70 99-11 131 14-1 4 32 23-60 35 1-223 66 54 62-61 34-53 75 15 6 21 60-26 66-139 25-3-196-15-30 21-2 308 10 27"/>
<path class="k19" d="M404 504l-29 72 0 10-12 92 47 71 1 25 32-23 19-5 47 79 12 7 42-126 35-34 45 6-45-67-17-42 35-16 15 0 2 12 83 23 31-2-12-70-43-2 33-91 13-2 82 20 6 41 95 27 2-154 23 22 41-69 97 17-24 65-21 28-18 4 68 34 11 34 29 44 27-70 46-37 28-22 11-70-109 41 212 19 136 47 5 174 43 8-93-42-104 54 9 49-66-96-96 0-332 72-125 100-201-102 17-65-41-22 30-45 34-26-3-22 11-44 26-27-95 59 285-138 46 13 56-19-296 687-178 26-26-48-13 90 78 48 43 42 56 23 20 51-10 47 89-15-27-71-203 49-44-16-36 69 80 34 39-43 36 32 15 109-9 33-13-1 4 7 112 0 64-18 32 47 47-56 5-19 76 80 13 26 23-15 39-18-12-49-9 108-56 6 28 71 18 1 75-26 10-95 66-9 108 14 9 43-49 102 187-84 39-23-21-25 46-34 4-10 27 3-98-27 209-32-37-42 57-87 18-17 38 10 20-52-95 0-2-23-88 21 30-75 4-40 25-42 63-34 12 3 12 60 39-98-32-49-91 18-8-176 18-63 90 80 14 30 19-48 15-1 24-4 19 58-48 41 102 102-45 45-1381-21 0-36 89-135-18-82 309 807-10 21 59 6"/>
<path class="k20" d="M545 460l30 3-4 11 57 3 2 16 0 125 9 20-6 31-4 41-11 15-42-50-82-36 2-23 7-6-71-30 22-27-70 164-44 3-21 78 4 47 56-33 64 7-24-52 93 23 13 58 54 167-128 56-52-23-15 37-35-45-21-33 20-53 23-22 22 42-81-47 9 191 9 77 14 13 28 14 48-3 24 23-44 9 27 27 29 18 63-30 0-67 13-33-61-32-111 38-44 54 214 104 3 43 15 33-25 54 21 23 54 35 5 11 12 11 62-43 21-23 21 4 0 32 80-8 18 22 62-15-22-60-13 2 28-18 50 154 96 1 30 24 46-10-4-29-4-40-30 9-11-40-20 5 4 143-84 22 176-62 38-43 24-29 4-13 16-13-8 37 18 17-8 63 14-174-3-13-9-37-26 24 107 33 9 39 21 45 33-13 7-9-30-73-36-54-24-31 119-36 17-107 59 49 3-98 5-15-5-41 19 7 38-11 1-23 61 8-23 24-18 19 2-119 67 35 20 37-2-137 35 24-61-131-18-61-43-1-22 40-18-7-13-97-10-45-1-13 45 4 47 69-99-154-56 25 9-78-40 1-22 13-57-8-38 6 13-56-18-22-19-35-28-6-7 25 17 48-59 48 7 55-50-23-99-9-103-14 8-38-4-11 14-43 8-13-29-42 11-44 5-30-54 12 5 30-47-24-27 50-19 47 15 29 3 24 35 31 22-49-9-26-71 94-41 56-78 5 147 77 261-1-40-234-5-73-12-18 6-40 13 7 17 3-1-16 18-20 38 61-12 57 23 3-151-39 26-54-262 49-35-4 12 48 692 65-93 137-8 211 20 5 11 102 131-28-47 129 26 362-729-70-53 20-196 86"/>
<path class="k21" d="M476 576l-2 7 14-4-17 35-1 32 4 43 9 55 9 11 28 19-45 27-43 17-18-3-4 14-5-3-2 19 1 26-16-82-36-13 77-20 16 1-1 172-20 26-25 26-23-4-3 23 20 30-5 47 2 68-18-12 85-24 17-23-5-19 31 13 27-60 57 10 8 105 8 11-34 7-117 14 1 39 36 1 14 99-3 3-21 42 50-4 16-16 40-4 1 10 32 23 14 64 55-11 19 2 6 48 18 16 14 8-29 24-5 38 29-13 4 24 32-35 15-18 17-47-26-16-19-91-33 4-28-49 4-45-25 1 57-9-176 26-19 174 25 13 83 43 19 2 8-25 183 10-5 14 14-31 81 10 3-36-1-39-44 12 91 48 32-16 9 27 1 52-57 2 12 69 175-41-7-18-10-81-35 11 74 6 7-3 21 1 29 21-6-78-30-17-49 10 18 27 33-102 81-28 42 0 29-25-2-23 18-13 15 14 17 8 40-21-16-49 53-4-2 19 20-10-7-23-34-54 11-13-71-1-42 2-6 52-58 105 54 126 37-24 34-42 9-264 94 9 2-17 0-44 49-12-4-7 13 48 26-5-53 47 6 11-68-112 5-37-69 7 25-51-4-76 35 10 27-10-3 30 61-28 22 91-224-19-21 16-29 4 2-36 16 67-32 17-22-160 48-31-21-64-11-28 1-39 46 7-6-25-6-125 50 9 9 5 15 21 74 67-10 95 43 5-57 65-44 21-205-231 0-22 22-24 25-24 28-31-45-13-79-20-7 3-27-7-8-23 40-25 29 0-126-17 3 77-7 35-11 50-3 34 70-33 53-10-211-89-56 16-11 29-54 20-36-18 15-33-40-32-6-16 2 108-12 2-15 34-63 7-24 19-27-10-17-28-14-51-37 67-32-9-16 83 9 15 74 92 103-120 60 15 35-53 74 93 65-32 48-251-284 92-199 415 9 18-173 115-3 22 484 510"/>
<path class="k22" d="M442 690l7 4 33-21 41 8 4 2 6 11 16-20 30-6 8-12-6-19 17 1 16 11 41-4 2-36 16-21-4-7-11-33 11-44 13-1 23 3 14 14 2 11 0 8 42-16 35-2 22-13-18-26 7 70 30 11-17 27 26 12-4 41 54-54 33-34 17-26 24 6-1 5 13-19 3-39-11 1 14-32 41 0-1 5 33 6 13 8-1 6-17 20-19 5-9 14 4 31 85-27 16-19-2-10 42 24 23 6-14 25 1 5 18 10-11 24-36 19 14 25 32 14 0 12 26 7-6-26 69-3 3-28-7-4-12-2 1 12 18-33-9-35-10-28-29-17-11-12-10-4-47-15-9-20-78-19-4-12-54 3-19-16-70 10-21 47-54 78-132-42-28-14-9 132 56-6-15 47 13 20-41-2-16 33-57 22-74 16 1 17 25 35-55 41-11 36 18 15-5 16-3 30 6 17 19 18-53-2-18-6-16-17 28-9-37-33-22 0-7 60-6 31-53-12-4-41 31 5 18 107 50-18 31-4-1 15-11 59 26 2 31 2-20 55 5 35 0 12 13 13-4 6-53 23 6 63 39 32 20 8 52 28 25 0 3-19 2-17 19-24-14-38 7-52-13-54-16-2-12-41 8-106-125 115-1 2-19 7-7-10-46 15 50-310-3-9 8-11 20 4-1-31 19-56 12-9 4-75 15-44 12 3 66-20 165 92-357 84 264 517 4 52 6 42 12 52 8 13 5 19 41 2 0 44 69-10-1-15-25-14 0-2 2-32 24-12 34-42 17 8 9 16-6-42 11-49-27-6-8 10-89 32-1 46-7 5-116-6 10 22-35 2-27 10 2-23 86 69 171 26 16 12 38-18-11-12 4-5-15-15 20-23 37-24 1-46 69 11 9 18 18-28 15 9 5-29 25-44 104 11 1 50 11 0 24-5 3-62 42 27 16 27 29 1 10 30-61 17-70 11-25 34 9 17 26 18 26-23-89 12-22 18-20-37-9-27 48 2-16-32-77 46-12 38-5 14 21 18 18-39-34 102-41-23-50-31 229-15 27-250-53-13 124-22 27 4 1 20-8 5-16 18 49-13 18-31 9-5-15-35 52-20 26 5 41-1 6-31 17-48-36-16-8-23-3 44-36 25 25 88-3 25-34 10 21 32-45 24 5 11 19 17 84-117 12-183 18 10 21-37 15 11-10-34 0-4-13-8 39 15 5 69-100-36 6-97 3-59-36-20-5-83-15 1 39-2 5-70-28-2-14-18-1 37-33 8 1 29-12 7-25 28-29-1-12-53 8-48 25-2-80 5-16-132 105-10 29 47 12 11-5 201-5 4-22 76-12 50 24 118-28 21-62 63 4-315 232 72"/>
<path class="k23" d="M603 599l75-21 5-1 45 10 24 13 0 2 27 1 32-1 20 17-4 44 51 20 46 51 76-93-3-12-3-26 13-63 19 2 6-18 14-11 2-5-3 51 57 13-4 20 47-3 29 21 13-9 17 22 23 12 7 9-3 26 31-2 23 2 11 21 39 1 11 16-6 12 18-4-3 13 18 4 1-28 5-22-18-13-34-10 0-42 30-25 23 37-105 18-35-29-4-10 13-9-16-13-36-28-1-51 10 4 25 7-80-6-9 17-19 2-24-15 8-8-107-34-33-24-18 5-3 61-41 18-15-5-1-10-5-7-23-25 43-3-69 41-16-15 2 32-16-5-36-6-9 13-2 10-15-23 40 38 5-4 59 15 14-7 7-12-173 79-8 39 39-6-14 38 13 30-42 11 8 19-54 21-68 15-3 9-6-30 14-15-5-50-37 25-19-12-10-9-5-21-12 73 3 4 39 10-8 10 21 46 2 6-34 6 1 12-27 20-2 21 31 15 18 1-8 41-32 28-20-15-16-2-1 8-12 3 32 25 18 40 5-1 3 40 11 21 4 25-5 6-28 20-15 15 77 27-3 46 32-2-7-7 6 31-2 12 21 10 8 13 10-25-12-24 8-10-1-37-1-21-16-23-30-26 1-2-7-18 2-49-28 2 2 3 50 18-24-98 44-49-25-44-96 47 218 90 25 95-53 14-23 21 1 98 7 14-5 32-15 20-56-4 90 47 36-10-6-17 52-23 11-4 0-29-26 3 26-44 34 28-25 80 56 14 20 1 13 11 3 30-7 0 29-19 21 1 10 5 11 8 6-16-9-24-3-45-46 4-13 8-12 8 7 8-46 57-6 13-37 25-39-42-22 11-18-166 305 48-19 45 14 64-11 32 18 7 10-7 6 25-1 20-17 9-66-10-9-28 18-2 18-25 122 18-8 20 28 4-4 4 54 7-4-22-11-24-35-32-22-5 16-16 68-7 7 16 10-8 10 13-5-42 9-55-26 3-9-14 34-24 5-2 9-1 26-16 23-7 23-2 1 30-7 2 23 15 17 10 2 32-11 39-34 12-4 14-21 5-3-9-10-2 28-25 3-25 72-62 18-24 7-1 11 33 15-66 11 0 11-18-26-9-10 9-13-14-20 18-32 16-39-19-21-24 33-29 31-22 13-18 29-16 22-1 14 7 27-11 16-2 20-2 33-7 2-39-45-5 14-26-12-17 10-33-2-6 11-2 18 12-7 10 30-25 11-63-7-16-27 14-26 2 2-20-25 13 10 26 3 24-15 15-13 12-26-11 16-18-35-32-35-3-3-11-35-24-24-21 101-7 2-10-15-15-5 5 15 45 45-46-10-38-47-18-145 1-22-99-111 0-12 26-272 165-168-153-67-38 883 181-62 158-16 4 33 37-99-10-9-27 39 154 27-8 39 30 42 14-3-34 11-24-256 108-5 225 27-16"/>
<path class="k24" d="M651 653l16 23-3 16 10 1 10 7-15 28-22-1-3 20 12 5 10 12 10 25 20 22 28-10 9-23 17 3 3-40 4-13-27-4-22 37 6 72-53-11-53 13-18 27 0 23-14 7-5-21-9-11-7-38 5-5 1-6 2-14 8 0-12-5-20-1 10 12 46-2 13-15-5-19 0-16-1-16 0 140-14 35-38-11-2 33-1 48 30 10 0 4 10 8-38 25-15 14 6 25-3 18 13-6 12-20-21 49-21 18 6 14 2 14 18 3 41 13 13 2-4 20 3 18-19-7-7 11 20 21 22 5 0 15 18-2-3-19 13-6 12-4-9-14 16-27 50 4 7-19 12-22 3-23-22-6 4-28 27-12-83-9 3-22-16-12-1-13-1-13 5-26-5-56-13-2-119 35 6 36-25-3 17 41 68 88 7 0 16 28 22 9 6-22 6-17 45 6 8 23 12 93 4 20-25 54 11 23 46-4 26 43 18-14 19 9 12-13-6-10 14 0-7-19 19-1 25-1-1-7 43-9-4 36 14-6 15 18 18 2 6-1 5 2 4-27 54-7 14-28 29 7-5 13 13 27 19-4 17 21 9-8 25 8 1 10 17 7 1-36 12-5 9-7 23 8 2 12-15 18 45-31-10-19-18-21-29-11-18-7 14-58 56 20 17 19 7 6 23 2-17 35-12-12 36-82 5-2 28 3 7-9 10 13 3 7-22-43 8-21 22-17 20-22-21-21-21 0-32 8-15 9-1 43-8 14 0 17-45-20-58-25-38 16-7 224-23 10 6 31-11 12-26-10 4-19-57-6-4-17 1 46-21 1 5-13-18 6-4-12-29-26-9 8 6 48 57 16 154-39-12-12-284-17-10 2-11 6 5 17-27-21-20-3-7 23-68-39 141-2 27-18-76-52-35-15-14-71 56 9 7-186 72 58-177-97 65-192 113-17-40-67-2-26-35 6 8 11-13-46-3-23-14-2-17 22-17 7 33 10 8-76-4-12 1-10 34 43 45-7 4-13-10-13-11 6 47-12 17 18 3-41 6-9 11 8 0 4 11-17 29-5 18 10-8 8 21 0-5 15-4 5 13 20 11 24-12 31-29-13-37-9 0-13 11-31 9-1 78-10 11-1 24 6 7 7-4 14 7 17 18-4 4-10 13-9 26 7-9 21-10 9-27 17-38-20 21-75-5-21 26 32 91 14 19 11 33 15-2 2 4 21-5 7 15 11 22-2-9 32-11 2 15 11 12 23 10 7 4 27 13 28 10-9 16-16 11 8-22-24-18-52 12-18-111 31-21-44-7 1-27 6 7 16-22 6 31-69 14 171-57-13 132-10 23 26 11 39 13 12 21-6 23 8-7-28 46 38 26 4-24 30 9 16 15 11-26 15-10 21 3 13-5 21 5 12 0 17 9 12 23 16-37 25-6-6-15 7 22 13 1 13-7-2 24-3-44-57 1-19-24 12-7-32 18-13 17-20-9-23 15-38 10-18 2-8-88 11-22 13 0 10-30 7-47 14 33 81 45 28-12 16 44-49 2-48-4-16-59-114 206 165-552-315-7-25-10-88 11-13-24-27 144 13-290 68-2 2-6 24 0 32-22-7-178 197-16-12 114 429"/>
<path class="k25" d="M655 709l-3 27 27 3 24 6 10 0 6-15 1-7-24-2 54-2 14-9 7-20-16-11-23 17 47 26-3 18-2 25 22-17 26 5-21 27 6 17-6 59-35 9-69-16-19 1-12 3-9-4-9 8-2 11-3 10 26-6 4 11-11 10 5 20-23 4-25 0-10-14 17-8-7-34 2-15 10-6 3-29-7-5-18-4 0 11 34 2-2-41 9-7-15-7 28 28 4 3 43 4-5 16 36-22-51 108-24 46-14-9-5 18-3 7-11 4-19 6-3 18-3 3-14-17 3-41 10 0 5 11-40-2 0-34 29-57 51 119 22 2 28 6 29 7 24-23 28 79 26-14-99-1 4 9-13 36 13 32-1 10-22 3-18-23-29-7-11-21-11-22-2-31 15-11-62 34-14-4 48 45-11 13 22 3-7 16-23 8 51 5 11-2 0 17 2 11 23 3 0 26-5 7 9 10-1 6-3 2-13-5 23 17 12 4-1-27 15 13 24 12 8 3 1 26-17 2-11-12-5 20 10 20 18 16 33-20 2-9-7 0 11-22 1-23 16 30 11 13 30-1 4-13-9-4 6-8 6-7 7-1 9 31 13 28-6 20-19-1-1-10-22 4-3-8 9-7-31 3 5 22-41 13 86 8 34 25 22 4 13 10 4-53 14 6 9 12 30 3 3-12-2-10-12-7-21-13-8-1-18 4-14-3-14 3 101-13 26-2 4-10-12 27 43-4 5 12 11 2 20 0 13-11-3-17-13-4-8 12 47 2 6-21 9-6 5 2 25-22 10 1 15-18 24 13 6 1 0-7 10-14 5-10-28-3-5-21 6-27-4-21 26-1 23 1 12-7-7 21-22 3 33 27 9 10-2 4 18-32-17-56-9-17 21-7-4-14 32 2 0-28 0-13 9-1 1-15-12 0-10 17 28 16 9-2-1 36 23-15-52 30 10 19-71-56-13-7 3-15 19 3-7-13-2-36 9-8 7 6 14 18 23-32 26-4 12 10-16 8 46-3-9-13-42-43 2-3-26-1-7-24-10-3 0-14-8-7-5 0 8-5-13-14-10 1-12 23-20 2-2-33-11 11-4-57 29-1 1-14 25 9 11-1-4 16 8 11 33 28-7 9 27-13 3 40 5 3 29-24-86 77-57 34-13-9-28-12 7-10-24-14 16-23-11-93 20-49 0-14-12 1 11-25 1-8 13-13-6-13-19-7-2 19-28 8-10-11-15-12-27-1-15 3-20-4-5-13 5-27-23-12-13 2-12 28-3 4-15-5-13 6 12 23-27-3-60-2-26 10-18 4-3-24-13 9-15 2 3-22 16-34 34 1 8-2 10 4 13 7 16-2 16 3-12 13 26-31-2-19-14-5-6 0-2-2-8-15-18-9 59-6 13 4 31 12-10 10 19 1 24 18-64 7-95-3-87 0 0 14-19 22-19-17 94 94 65 11 18 23-4 11-53 31 207-64 9 8 32 5-47-45 17-59 26-7 11-1 12-3 8-19-5 45 37-1 8-4 21 5 19 26 1 12-13 6-4 11-4 12 16-3 11 11-4 12 9 7 3 4 31-7-10-26-5-5-15-11 5-18-45 71 0 264-54-13 10 92-6 43-51-5 7 52 10-3 23 7 22 79 39 2 7-7 10-4-3-13-20 36-61 14-16 5-14-8-9 33 30-6-65 16-12-5-20 4-1 12-14-3-11 6-6-17-17 4-2 0 6-19 31-12 34-4-19-83-84-4 12 139-129-242-76-23-9-12-29 2-14 48-8 17 31 3-61 68 3 8 576-12"/>
<path class="k26" d="M710 782l-16 40-17-1 17 39-3 9 12 3 4-6 10-1 5 4 19-4 3 34 5 10 9 14-28-3-6-6-9-11 4-11-24-2-7 31-15 5 26 6 9 0-4 18-10-7 4 20-20-7-4 35 5 9-11 3-18 0 12-23-2 49 19 4 8 3 4 30-15-1 4 13 6 7 26-19 25 8-3 16 40-5 0-9 3-14 11 2-9-15-28 9-24-14-2-34-11 4-20-6 19-31 11-24 9-3 14-3 59 0-1 18 26-16 7 6 5 4 2-26 18-10 15 6-8 21 16-43 2-11-27-5-25-19-27-5 4-19-5-31 23-1 16 13 13 8-5-28 2-6 2-17-10-19 2-30 4-4-27 6-27-14-25 7-14 33 8 18 6 18-18 5 2 12-22 2 6 8 15 16 27-7 20-47 2-4-7-4 22-3 4 6 51-21 15 2 9 11 10 6 3 17 8 6-27 2-15 13 5-81 12 3-14-18 5-10 15-4 3 5-1-15 14 3 13 12 9-1 6-9 1-3 6 19 14 13 0 16 14 2-2-10 19-1-5-11 12-10 3 0 4-1 7 4-1-15 12 3 2-16 3-9-11-22 8-12-57 3-24 14-25 14-14-18-6-12 66 44 11 12 17-2-6 47-2 23 24-13 14-11 8-7 20-13 0-11 24 7 18 16 6 18 17-2-1-27-2-14 22 4 12 14-5 18 4 27 12 0 12 10-25 2-8-5-11 18 22 7-10 17-10 22 12 17 13 11-9 20 34 4 0-9-1-9 9 4 9-7 8 8-10 8 7 15 9 7 7 17 4 15-12 0-18 1 5-12-39 5-5-15 34 46-3 14 15 9 1 13 2 17 1 8-19-3-4 32 3 13 10 12 16-6 3 18-8 1-1 7 15-3 18-4 3-28 2-28-18 7-3 10-22 0-22 43-11 1-5-13-10-4 4-5-5-3-3 29-6 15-22-6-23 5-8 19 8 10-20 12 3 14-28-12-5-5 8-22 11-13 10-22-15-15 0 111-19 2-27-5-21-5-15 7-5 7-10 8-13-5-6-6-13 3 0 11-11 2-2-6-24 2-15 8-2 5-4-18 8-12-7-16 19 0 13 4 21 4 23-9 33-2 7-11-19-9 8-11-12-28-13-4-73-6-10-20-29 8-31 21-12 20-9 6-3 7 0-16-5-21-12-10 4-11-14 30-9 7-6-12 13 24-8 11-8 19 0 23-21 0 45-5-3-8 15 1-7-12 32-2 6 14-6 12 13 0 9-20 3-20 0-5 26 37-30 32-38-9-4 28 59 12 23 3 18 6 4-10 3-7 14 5-5 12 15 1 12-22 12 11 12 1 13 13 4-2 14-12 7 3 1-16-5 1 28-11 12-5 25 10 2 12-4 14 18 1 26-11 6-11 6-10 25 1 2-4-3 13 8-25-14-25 16-19 6 1 1-7 1-11 15 5 19-1-1 20 2 15-1 9-30-22-22-33 59-14-43-84-14-19 44-20 57-12 18-2 8-31-12-4-22 5 50 5-9-27-5-4-10-9 14-8-33-14-11-11 1-34 10 0 8-2-5-12-24-27-5-4-13 5-6 16-17 2-5 4 7-12 11 36 28-72 7-9-111-7-19 18-13-8 5-23-19-1 2-12 1-5 5 73 18 3-4 17-24 4-18-38-11 10-13-4 0-26-51 0 2 46-5 40 70 48 45-20-156 51-108-28 7-24-33 9-23-28-47-45 23 158 9-1 11-10 14-7 10 20-32 18 91-2 20 37-59 11-163 6 13 32 298 181 8 10 46 7 25-17-2-7-16-20 59-26 22-19-12 78 181-263 27 19-120-328-68-12 23-31-187 70-5 20"/>
<path class="k27" d="M756 869l38 7 1 22-26 3-3 16 7 29 13 17 10 2 4-29 25-33 11 2 15-6-10-16-7-7 21 0 3-6 6 7 16 2 12-2 5-12 10-1 12 7 16-6-3-14 1-16 13-12 3-11 30 9-2 16-1 9-6 17-14 1-10-8-5 41-20-2-15-4-7 16-6 5 13 3-7 9-3 20 17-1 8 0-4 8-5 11-26-7-7 6-11-5-9 4 4 18-15-4-1 20 20 6 4 6-2 7 7 4 15-3 11 12 10 5-2 15 2 13 21 8 2 7 8-11 16-6 2-16 5-18-2-11 7-9 4-13-7-2 15 0 0 21 20 0-6 8-1 17-6 5-3 25-20 8 7 21-5 8 8 7 9-16 11-6 3-3 11-6 12 10-4 9 3 13 10-4 8-8 7 23 3 9 1 12-24 7 2-22-14 1-9 5-3 10 1 4 8 16 23 15-5 6 16 4-7 16-36 17-40-32-18-19-11-5 1-11-11 15-29-2-21 4-10 5-1-11 14-9-11-21-7-3-31 4-18-17 4-20-21 7 3-17 19-28 4-1 9 12 3-1 18-7-3 18 15-2 5 4 3 4 23-7-8-24-2-3-11-16-35 4-17-8-13-19 3-13 0-8 16-3 7-27 3 52-52 5-6 1-18 14-9 2 24 13-26-51 1-18 141 6 6-3 7 15 20 1 4 11 2 25 22-8 2-36-7-10 4-9 0-5 2-5-6-14 20 5 9 13 11-9 9 0 20 0 0-8 19 1 4 19-17-4 6 21-22 2-7-13-2-51 0-5 12 2 9-8-1-18 15-5 3-3-3-5 22-2 2-1 4 6 14 3 4-16 24-9 0-8-5-2 8-16-9-15 24-11 23 13-10 18-5 7 8 28-25 6-10 14 4 30-4 7-18 1-5-8-12 10 7 19 4 11-14-6-3 10 14 23-1 20-4 18 18 0 3 5 9-5-4-22 7-12 15 4 20-3 10-3 11 3 0 11 7 8 4 29 13 6-1 8-32 8-6 1-13 11-15-7 1-16-8-7-25 4-7 0-6 24 9 4 8-1 5 22 12 2 1-13 14 13-6 11-18 8-6 2 35 7 19-32-13-71-3-2 2-58 2-8-2-15 5-2 1-33-7 5-1-10-11 14-17 30-2 12 7 11 45 2 24 16 2-2 4-28 30 58-158 7-2 19-7 14 16 8-31-19-14 4 12-26-2-16 25-11-12 36-28 63-19 30-33-8-8-2-12 0 4-8-15 5-15-6-1 20 4 6-7 7-16-25 32-31 30 0 7 67-60 43-44-5-19-88 90-122 20-61-8-8 34-9 14 4-10 14 8 11 36-3 21-17 15 2-15-60-15-11-8 4-5-17-11 3-4-14 2-17 1-43 3 3-18 0-11 14-14-11-6-13-31-3-19 59-6 9 12 19-32-4-3 12-10-23-27 18 6-51-23 98 62 44 94-44 21-12 4-4 0-15-8 5-5 4 63-31-4-19 0-8 3 0 20-3-22-26-11-6 5-16 108 141-56 270 8 18"/>
</g></g>
<path d="M548.4 671.0C550.9 669.8 553.4 668.1 555.9 667.3C558.4 666.6 560.8 666.4 563.4 666.3C566.1 666.3 569.0 666.4 571.8 666.8C574.5 667.3 577.3 668.2 580.1 669.0C582.9 669.8 585.7 670.7 588.4 671.9C591.2 673.0 594.0 674.5 596.8 676.0C599.6 677.6 602.6 679.2 605.1 681.0C607.6 682.8 610.0 684.8 611.8 686.9C613.6 689.0 614.9 691.0 616.0 693.5C617.1 696.0 617.4 699.2 618.5 701.9C619.6 704.5 621.4 706.8 622.7 709.4C623.9 712.0 625.2 715.0 626.0 717.7C626.8 720.5 627.2 723.3 627.7 726.1C628.1 728.9 628.8 731.8 628.5 734.4C628.2 737.1 627.1 739.7 626.0 741.9C624.9 744.2 623.1 745.7 621.8 747.8C620.6 749.9 619.7 752.1 618.5 754.4C617.2 756.8 615.8 759.5 614.3 762.0C612.8 764.5 611.1 767.1 609.3 769.5C607.5 771.8 605.6 774.1 603.5 776.1C601.4 778.2 599.2 780.2 596.8 782.0C594.4 783.8 591.9 785.5 589.3 787.0C586.6 788.5 583.7 789.9 580.9 790.8C578.2 791.7 575.4 792.4 572.6 792.5C569.8 792.6 566.9 792.1 564.3 791.5C561.6 790.9 559.2 789.4 556.7 788.7C554.2 787.9 551.9 787.5 549.2 787.0C546.6 786.5 543.5 786.5 540.9 785.8C538.3 785.1 535.9 784.1 533.4 782.8C530.9 781.5 528.2 779.8 525.9 777.8C523.5 775.9 521.3 773.5 519.2 771.1C517.1 768.8 515.2 766.3 513.4 763.6C511.6 761.0 509.7 758.1 508.4 755.3C507.0 752.5 506.0 749.7 505.0 746.9C504.0 744.2 503.1 741.4 502.5 738.6C502.0 735.8 501.7 733.0 501.7 730.3C501.7 727.5 502.1 724.7 502.5 721.9C502.9 719.1 503.5 716.3 504.2 713.6C504.9 710.8 505.9 707.9 506.7 705.2C507.5 702.6 508.5 699.5 509.2 697.7C509.9 695.9 510.3 695.5 510.9 694.4" fill="none" stroke="#000" stroke-width="2.8" stroke-linejoin="round"/>
<text transform="translate(527.5,681.0) rotate(-29.0)" y="6.1" text-anchor="middle" font-size="16.67">90%</text>
<path d="M595.1 743.6C596.0 740.8 597.1 738.0 597.6 735.3C598.1 732.5 598.3 729.7 598.1 726.9C598.0 724.1 597.6 721.4 596.8 718.6C596.0 715.8 594.8 712.7 593.5 710.2C592.1 707.7 590.4 705.6 588.4 703.6C586.5 701.5 584.1 699.2 581.8 697.7C579.4 696.2 576.9 695.4 574.3 694.7C571.6 694.0 568.7 693.7 565.9 693.5C563.1 693.4 560.4 693.6 557.6 694.0C554.8 694.5 551.9 695.2 549.2 696.4C546.6 697.5 544.1 699.2 541.7 701.1C539.4 702.9 536.9 705.2 535.1 707.7C533.2 710.2 531.9 713.3 530.9 716.1C529.9 718.9 529.5 721.6 529.2 724.4C528.9 727.2 528.9 730.0 529.2 732.8C529.5 735.5 530.0 738.5 530.9 741.1C531.7 743.7 532.8 746.2 534.2 748.6C535.6 751.0 537.1 753.5 539.2 755.3C541.3 757.1 543.8 758.4 546.7 759.5C549.7 760.5 553.4 760.8 556.7 761.5" fill="none" stroke="#000" stroke-width="2.8" stroke-linejoin="round"/>
<text transform="translate(576.8,758.1) rotate(-22.0)" y="6.1" text-anchor="middle" font-size="16.67">50%</text>
<rect x="468.14" y="631.05" width="194" height="187.4" fill="none" stroke="#000" stroke-width="1.1"/>
<text x="505.5" y="839.9" text-anchor="middle" font-size="13.9">−2</text>
<text x="562.5" y="839.9" text-anchor="middle" font-size="13.9">0</text>
<text x="619.5" y="839.9" text-anchor="middle" font-size="13.9">2</text>
<path d="M505.5 818.45v4.9M562.5 818.45v4.9M619.5 818.45v4.9M468.14 670.3h-4.9M468.14 728.1h-4.9M468.14 785.9h-4.9" stroke="#000" stroke-width="1.1" fill="none"/>
<text x="565.14" y="868" text-anchor="middle" font-size="24.3">p2</text>
<clipPath id="c033"><rect x="671.91" y="631.05" width="194" height="187.4"/></clipPath>
<g clip-path="url(#c033)">
<path d="M671.91 818.45V817.92H675.79V818.45H679.67V818.45H683.55V814.8H687.43V810.5H691.31V811.79H695.19V809.43H699.07V801.91H702.95V790.09H706.83V792.24H710.71V780.86H714.59V769.69H718.47V756.8H722.35V761.09H726.23V742.83H730.11V737.46H733.99V714.91H737.87V685.48H741.75V701.37H745.63V676.24H749.51V667.65H753.39V654.11H757.27V665.5H761.15V651.11H765.03V640.79H768.91V670.87H772.79V654.11H776.67V680.54H780.55V683.76H784.43V695.57H788.31V702.02H792.19V722.43H796.07V728.87H799.95V738.54H803.83V754.22H807.71V748.63H811.59V779.35H815.47V797.18H819.35V790.74H823.23V807.92H827.11V798.69H830.99V808.78H834.87V812.22H838.75V814.37H842.63V815.87H846.51V816.95H850.39V818.45H854.27V818.45H858.15V818.45H862.03V817.92H865.91V818.45Z" fill="#808080" stroke="#000" stroke-width="2.6" stroke-linejoin="miter"/>
<path d="M715.36 818.45V631.05M764.41 818.45V631.05M811.73 818.45V631.05" stroke="#000" stroke-width="2.78" stroke-dasharray="10 4.8" stroke-dashoffset="-0.9" fill="none"/>
</g>
<rect x="671.91" y="631.05" width="194" height="187.4" fill="none" stroke="#000" stroke-width="1.1"/>
<text x="705.5" y="839.9" text-anchor="middle" font-size="13.9">−2</text>
<text x="765.3" y="839.9" text-anchor="middle" font-size="13.9">0</text>
<text x="825.1" y="839.9" text-anchor="middle" font-size="13.9">2</text>
<path d="M705.5 818.45v4.9M765.3 818.45v4.9M825.1 818.45v4.9" stroke="#000" stroke-width="1.1" fill="none"/>
<text x="672.81" y="617.45" font-size="20.83">p3 = −0.0296</text>
<text x="821.32" y="608.49" font-size="14.58">+1.5826</text>
<text x="821.32" y="623.19" font-size="14.58">−1.6408</text>
<text x="768.91" y="868" text-anchor="middle" font-size="24.3">p3</text>
<linearGradient id="g0" x1="0" y1="0" x2="0" y2="1"><stop offset="0" stop-color="#f0f921"/><stop offset="0.03" stop-color="#f4ed27"/><stop offset="0.06" stop-color="#f8df25"/><stop offset="0.09" stop-color="#fcd225"/><stop offset="0.12" stop-color="#fdc527"/><stop offset="0.16" stop-color="#feb82c"/><stop offset="0.19" stop-color="#fdac33"/><stop offset="0.22" stop-color="#fba139"/><stop offset="0.25" stop-color="#f89540"/><stop offset="0.28" stop-color="#f58b47"/><stop offset="0.31" stop-color="#f0804e"/><stop offset="0.34" stop-color="#eb7655"/><stop offset="0.38" stop-color="#e66c5c"/><stop offset="0.41" stop-color="#e06363"/><stop offset="0.44" stop-color="#da5a6a"/><stop offset="0.47" stop-color="#d35171"/><stop offset="0.5" stop-color="#cc4778"/><stop offset="0.53" stop-color="#c43e7f"/><stop offset="0.56" stop-color="#bc3587"/><stop offset="0.59" stop-color="#b32c8e"/><stop offset="0.62" stop-color="#aa2395"/><stop offset="0.66" stop-color="#a01a9c"/><stop offset="0.69" stop-color="#9511a1"/><stop offset="0.72" stop-color="#8a09a5"/><stop offset="0.75" stop-color="#7e03a8"/><stop offset="0.78" stop-color="#7201a8"/><stop offset="0.81" stop-color="#6600a7"/><stop offset="0.84" stop-color="#5901a5"/><stop offset="0.88" stop-color="#4c02a1"/><stop offset="0.91" stop-color="#3f049c"/><stop offset="0.94" stop-color="#310597"/><stop offset="0.97" stop-color="#220690"/><stop offset="1" stop-color="#0d0887"/></linearGradient>
<rect x="921.2" y="19.9" width="33.5" height="808.8" fill="url(#g0)" stroke="#000" stroke-width="1.1"/>
<text x="964.7" y="47.74" font-size="15.3">−4</text>
<text x="964.7" y="194.25" font-size="15.3">−6</text>
<text x="964.7" y="340.75" font-size="15.3">−8</text>
<text x="964.7" y="487.26" font-size="15.3">−10</text>
<text x="964.7" y="633.77" font-size="15.3">−12</text>
<text x="964.7" y="780.28" font-size="15.3">−14</text>
<path d="M954.7 41.44h4.9M954.7 187.95h4.9M954.7 334.45h4.9M954.7 480.96h4.9M954.7 627.47h4.9M954.7 773.98h4.9" stroke="#000" stroke-width="1.1" fill="none"/>
<g transform="translate(1028.7,466.6) rotate(-90)">
<text font-size="22.2"><tspan x="0" y="0">log</tspan><tspan x="36" y="0" font-family='"DejaVu Math TeX Gyre","DejaVu Sans",sans-serif'>ℒ</tspan><tspan x="52.2" y="0">(</tspan><tspan x="61.6" y="0" font-style="italic">ϑ</tspan><tspan x="76.2" y="0">)</tspan></text>
<text x="75.6" y="-8.8" font-size="22.2">⃗</text>
</g>
</g>
<g transform="translate(1063.8,0)">
<clipPath id="c100"><rect x="60.6" y="40.2" width="194" height="187.4"/></clipPath>
<g clip-path="url(#c100)">
<path d="M60.6 227.6V227.07H64.48V227.6H68.36V225.02H72.24V225.02H76.12V222.87H80V220.73H83.88V217.93H87.76V214.28H91.64V208.91H95.52V204.18H99.4V202.9H103.28V190.65H107.16V174.97H111.04V172.82H114.92V150.91H118.8V148.76H122.68V122.98H126.56V99.78H130.44V85.39H134.32V97.63H138.2V88.18H142.08V80.02H145.96V62.83H149.84V49.94H153.72V57.46H157.6V75.72H161.48V73.57H165.36V73.57H169.24V73.57H173.12V111.81H177V116.54H180.88V138.02H184.76V154.78H188.64V167.02H192.52V171.32H196.4V191.73H200.28V196.45H204.16V201.39H208.04V207.84H211.92V213.64H215.8V218.58H219.68V225.02H223.56V223.95H227.44V223.95H231.32V226.53H235.2V226.53H239.08V227.6H242.96V227.6H246.84V227.6H250.72V227.07H254.6V227.6Z" fill="#808080" stroke="#000" stroke-width="2.6" stroke-linejoin="miter"/>
<path d="M106.78 227.6V40.2M152.22 227.6V40.2M197.22 227.6V40.2" stroke="#000" stroke-width="2.78" stroke-dasharray="10 4.8" stroke-dashoffset="-0.9" fill="none"/>
</g>
<rect x="60.6" y="40.2" width="194" height="187.4" fill="none" stroke="#000" stroke-width="1.1"/>
<path d="M97.3 227.6v4.9M151.5 227.6v4.9M205.7 227.6v4.9" stroke="#000" stroke-width="1.1" fill="none"/>
<text x="61.5" y="26.6" font-size="20.83">p0 = 0.0265</text>
<text x="192.56" y="17.64" font-size="14.58">+1.6607</text>
<text x="192.56" y="32.34" font-size="14.58">−1.6767</text>
<clipPath id="c110"><rect x="60.6" y="237.15" width="194" height="187.4"/></clipPath>
<g clip-path="url(#c110)">
<radialGradient id="u110"><stop offset="0" stop-color="#f0f724"/><stop offset="0.17" stop-color="#f0f724"/><stop offset="0.33" stop-color="#f1f426"/><stop offset="0.5" stop-color="#f3ee27"/><stop offset="0.67" stop-color="#f6e826"/><stop offset="0.83" stop-color="#f8df25"/><stop offset="1" stop-color="#fbd524"/></radialGradient>
<ellipse cx="152.88" cy="346.8" rx="34.76" ry="30.2" fill="url(#u110)"/>
<g transform="translate(60.6,237.15) scale(.1)" fill="none" stroke="none">
<path class="k1" d="M1165 0z"/>
<path class="k3" d="M1739 1522z"/>
<path class="k4" d="M711 1580z"/>
<path class="k5" d="M238 1039l355-949"/>
<path class="k7" d="M1883 980z"/>
<path class="k8" d="M1590 1531l-270-214"/>
<path class="k9" d="M1564 1001l171 258 205-339-499 828-436 96"/>
<path class="k10" d="M919 1528l-637-565"/>
<path class="k11" d="M638 402l336 142 826 502 33 133-1144 560-227-17-462-398"/>
<path class="k12" d="M89 634l165 667 218 153-338 150 813 270 845-701-483-892"/>
<path class="k13" d="M382 748l53 628 914 58-78 162 377-293 103 75-61-666-212-128-377 70"/>
<path class="k14" d="M534 371l-76 82-51 235 104 107 205-165 549-21 68-30-23 283 223 3 223-168-173 668-7 185-514 88 38 77-38 96-156 5 46-123-10-137-131 28-115 230-642-539 1062-866"/>
<path class="k15" d="M316 601l-44 188 0 76-56 489 114-2-79 206 204 171 305-77 70-155 88 70 304 161 287-302 76-415 225 14-4 88-133-325-407-398-379 140-31 37-326-76"/>
<path class="k16" d="M382 512l-43 108 11 33 11 20 17-4 77 2-244 53 88 100-15 331 12 62-46 104-161 6 95-164-129-120 426 546-20 79 309 89 88-95 598-126-35-65 7-111 99-505 88 40-247-280-152-25-141-33-196 31-72-15-52-207"/>
<path class="k17" d="M230 673l8 120-61-26 192-78 14-151 27 1 76 102 111-13 46 7 49 18-31 49-1-183 390 27-30 64 42 32 96 11 73-5 129-62 246 68-77 81 6 114 54 45 8 4 29 72 49-9-21 43-26 30 15-234-250 296 136 323 40 58-89 37-133 17-124-17-28-9-40 278-237-92-86-69-85-77-259 3 19-86 18 171-199-103 14-29 5-11 7-101 46-42-97-58-68 76-115-38 53-229 181 1-10-67 1305 338"/>
<path class="k18" d="M322 633l28 133-21 22-9 57-15 100-69-10-70-48-30 200-4 121 90 25-42 126 135-1 8 26 0 50-57 3 140 47 21 2 56-30-26-62 66 181-20 50 105-45 102 22 4 22 46 97 87-77 55 4 68-17 90-62 30-33 66 34-9 107-23 72 145-133 110-9 47-57 2-8 33 21-110-77-12-31 32-8-74 42-14 6-479 24 65 288 49-1009 49-70-65-96 8-83-136-79-63 113 29 54-107-34-59 63-48 44-116 1 92-94-164 483 53 75 1111 5 47 8 33-21 9-35 9 4-81-1-36-83 17-139 75-11 96 14-2-51 34 152-23 95 27 106 4 27-17 38-38-62-66-509-184 75-47 114-25-252 65-30 0-18-14-13-148 23-54-22-40-76-31 5-13-58 57-23"/>
<path class="k19" d="M220 824l79 6 58 17 7-92-24-47 97-24 40 41 13 34-14 20-20 8 0-21-24 27 48 168-101 13-140 81 9 34-45 47-30 32 8 25 44 111 7 86 104 14 1 15 7 20 36 21 18-101-68-32 98-91 55 177 42 64 44 13-10 56 58 26 13-10 58 81 87-68 55 39 18 57 53 16 49-31 94 13 4-22 18-5 45-21 5-13 10-92-102 23-19-7 16 84 10 115-125-238 409 47 131-22 36-177-27-30-19-50-2-50-61-38 174-30 98 16-5 58 9 52-107 55-30-81-54-240 209 19 37 11-48-127-80-148 13-33-145 26-30-10-10-89-29-51-21-37-137 33-133 3-15 6-97-19-53-30 3 134-9 21-14-5-55-40-29-40-45-65 64-58 7-50 134 3-3 13 19-2 86-21 39 413 257-34-540-86-234-45-8-4-19-5-50-81 148-20-24-108-181 1043-57 44"/>
<path class="k20" d="M314 763l56 24-6 38 83-16 56-76 8-14-25-32 78-14-8-16 45-10-17-92 74 3 98 13 49-24 52 25-6 25 33-73-1-17-8-33 107 35 13 0-16 26 61 47 3 56 82 47 19-19-3-90-14-29 85 14 24 32 2 35 30-12 69 22 79 25-15 42 51-19 10 76-40 137-41 75 115 17 85 37 67-19-1 79-52 55-13 91-36-6-93-22 26-47-41-59-115 1 76 78-48 80-11 27 20 36-46 1 14 66 12-4 1 32 31-17 50-6 69-60-17-25-8-36 99 67-28-261 67-146-377-154-42 6 22-37-7-30 88-5-226-205-292 134-149 116-44-5-12-9-154-36-33 23-7 188-15 68 34 13-13 33-13-1-60 4 5-25-31 55-19 27-5 74-15 42-29 58 75 26 83-22 6-22 18 3-14 93 55-18-7 92 8 18 152 25-22-82 7-57-24-15-93-186-66-27-54 27 10 27-52-273 474 520-36 122-58 30-63 77 119 59 102-45 68 8 26-12-3-79-66 1 19 39 19 105-34 20 170-91 29-29 38-29 20-28 28 18 11 21 48 20 11-31-1-41 54 4 63 33 19-7-105-124-75 51-129 60"/>
<path class="k21" d="M426 736l-60 89-3 31-20 14 31 51 0 68-29 12-23-27 5 86-22 14-32-30-16 8-3 71 1 26 53 20 14-32 17-10 24 34 4 28 57 30 45 26 15 69-7 42-14 30-2 36 12-5 5 31-57-8-45-33 1-71 29-13 23-23-71-21-45-10-29-25 5-9 110-135-2-25 9-45-7-13 64-58 40-11 2-108 14-11 76-7 15 11-40 32-1-121-6-79-6-44 46-6 47-26 1-3 124-14 22 83 6 40 45-1 46-92-35-62 103-17 50 9 9-7 25 56 33 47-9 51-52 14-22-57 5-16-21 6-19 7 175-10 9 28 57 14-24 30-7-107 47 28 78 57-13 40 2 15 9 26 49 7 19 44 2 37 23 3 22 22-14 21-9 51-15 63 53 33 29-46 28-88 52 44 43 44-22 89 14 22 13 34 6 12-43 15-25-50-13-22-38 45-10 56 64 30 0 24 8 26-41 68 5 25-2 18-14-12-33 35-54 15-31-50-5-12-6-32-30 28-32 29-28-6 22-54 15 100-18 19-8 8-28-1-1 7-15 7 8 31 3 36 14 14 7-23 38 3 6-9 9-26 19 9-159 36-34 32-43-36 3-21-34-1 0-11-44 21-47 7 13 13-28 25 3 76 24 27-85-21-43 10-42-16-8-34-25-4-21-9-26-13-12-13-26-12-10-25-24-12-15 27-32 19 30 67 145-51 9-21 31-46-12-49 43-12 32 94-9 41-141-81 4-31-31-71-41-17-85 1-4 45-25 3 2-16-20-16-20-6 29-69-12-17 15-63 17 5-23 232 564-16 0-29 317-97-7-42-49-67 9-82-19-17-30 5 6-48-20-373 74 1-184 72-133-45-342-24-63-13-29 81-118-110-10-23 1031 180"/>
<path class="k22" d="M377 857l35-12 11 2 16-8 10 5 2 14 21 9 10-17 29-13-16-18 6-33 36-12 63 4 9 40 12 11-75 11-13 21-6 26 26-12 40 32-99-14-12 28-58-2-31 2 6 13-27 72-26 14 10 38-27 2-44 5 25 81 19 11 7-22 56-10-17 66 14 28 46-4 14-2 0 45-9 27-4 9 20 40 50 2 9 4 10 8-2 28-10 20 4 38 32 62 30-6 31-3-12 40 31-3 0-2 31 13-1-39 27 4 57-6 42 42 1 8 6 53 66-7 26-35 8 8 19-29 11-38-27-7-51 5-8 7 12 10-8-56 147 8-10 45 25 32 6 29 24-1 24-21 16-11-6-43-22-9 60 19 41 0 5 12 16-20 13 2-3 38-56 22-19 3-10 18-6 5-130 25-13-7-16 0-21 34-203-73 8-11-33-153-44 26 6-73-59 36 1-93-20-7-32 23 58-62-172-54-102-237 138-135 53-91 53-23 57-3 30 15 39 17 10-28-3-29-8 7 28-13-5-15 16-21-45 10 116 11-8 10 49-12 18-3 49-7 5-8 13-6 30 2-6 57-12-1 43 3 37 16-4 25-13 16 51-69 49-13-1-34 12 9-15-35 45-2 6-4 15 31 12 40 37 1 34 26-6 7 1 43 6 14 35-20 38 2 2 25-12-44 28-6 42 48 16 42 17-7-54 15-28 5 9 29-60-22-113-13-44-79-12-43 4-121-77-3-16 5-84-7-23 25-22 7-26 2 6-26-45 16-18 4 1 12 83 69 10 42-49 40-100 30-49 13-43-34 398 169 225 35 87 3 20 30 24-21 18-7-5-40 14-35 15 5-21-29 58-14-1 86 19 37-15 21 11 50-35 1 35 40 40 14-20 42-37-2-7 16-3-41-32 18-37 44 2 53 26 6 1 34 20-2 5 8 5-79 57 14-153 7-16 5-28 24 41 42 19 42 26 24 11 38-46-14-20 38-18-66-25 15-22 91-49 9-9-15-32 4-14-23-18-2 8-31 54 9-27-58 55-215 100 13-8-54 16-56-29-7-22-9 6 25 45-157-79-241-58-34"/>
<path class="k23" d="M476 792l9-3 45 6 1 5-4 46 51-2 19 17-30 23-55 8-8 12-35-5-4-12-1-5-13 17-23 14-7 33 1 20-24 1-10-12 29 39 6 26 30 19 22-5 11-11-25-41-7-7 2-17-11-20 32-14 56 26 5-1 24 33-16 28-50 74-12 64-47-7 6-7-22-18 7-15-24-12 3-33 10 9-47 8-12-9 6-42 36 122 14 11 11 19 21 9 9 8-58-20-29 10 26 50 4 38 19-6 12 21 22-7 11-9 24-9 12-18 23 22 23-4 9 19-17 34-13-12-15 2-7-3-4 84 41 11 5-19-4-19 36 15 13-10 0-22 5-18 17-14 20 20-2 29-7-4-8-8 15 30 9 6 9 1-20 9 2 30-31-2-20-15 30 45 3 36 13-6 45 3 13 15 32 3 1-9 23 30 47-21 13 9 39 3-9 24-15 4 48 0 5-14 14 31-2 2 4 21-25 13 50-59 40-10 15-15 12-4 4-9 25 8 13-24 24-7 30 5 40 11 24-2 4 17-15-1 22-30 13-40 15 0 17 20 5-48 8 5 26-12 14 23 21-12 15 3 16 24 29-44 43-3 0-44-24 1-29-4 37-27 13-13-10-16 31 3 10-5-11-11 5-12 20-10-6-7 7 29 8-85-6-23-10-17-14-3-8 3-11-11-6-19 30 10 27-27 30 17 17-2 10-5 0 11 12-18-35-19 3-62 6-40 2-30-28 12-47-22-38-15-5-18-44-6 28-35 17-10 1-31-15-30 0-21-9-18 31 30 28-12-107 19-43 9-27-5-38 31-17-48 14-25-2-40 6-6-19 3-14-18 28-8-1-15 34 24 21 30 18-6 4 42-4 84 43-139-188-17-13 3-18 13 5-49 24-9 10 2-16-12-20-27-38 35-10 14-29 6 1-31 5-7 22 66 0 4-1 64 7 6 22-16 48 9 7 30-38 27-76-71-84-2-21 2-30-5-15-35-8-13 6-17-1-21 1-21-17 9 47-22 13 34 1 13 21-3 20-11 21 7-5 10-46 48-9-8-106 7-4-38-18 1-6-3 0-17-21 1 0-5-12-3-40 8-34-4 2 61-19 0 13 14 0 49-27-18-27 15 99-2 22 0 7-9 7-14-3-29-5-24-30 40 54 30 4 30 31 6 52-29-19-26-112 71-35 1 56 64-94 29-178-41 102 280 2 72 120 120 13 16-5 77 52-5 61-16-6 62 39-15 22 1 10-2 3-36-4-63 114-22 57 65 15-11 84 13 35-59 13 0-2-31 80 3 20 35 127-2-54-104 1-42 2-38 0-15 5-6-39-12 5-125 26-2 32 12-18 21 37 10 19-11 52 122-2 27-2 1-30-312 6-17-238 185-4 449-3 6-102 10-32 10-12-11 1 50-76-95-27 12-29-17-14 7 4-19-164-122"/>
<path class="k24" d="M482 868l62 3-3 32-6 20-10 12-20-2-15 4 1 35 12 1 22 2 1 13 5 28 22 4 18-14-9-41-3-37-9 2-38-10-16 73-19 28-27-5 3-14 6-25 1 75 15 7 6 12-10 18-12 11-6 11-25 7 0 12 10 17 20 10 1 16 11 5 16 5 4 25-14-4-9 16 26 4-14 16 20 12 10 22 15 10 29 1 36 4 4-21 2-11 14 24 41 20-9 17 28 21 30 10 9-12 9-8-4-13-18-14-17 2 2-11 50 66 29-21 30 9 20 3 25 18-5 67 30-14 13-15 17 18 4 15 8-7 14-7 2 21-1 6 2 16 27 12-1 4 7-7 3-30 34 7 22 8 7-6 6-7 27 2 10-11-1-20-27 2 43-16 9 7 9 17 20 2 20-9-1-16 31-3 10-37 21 11 2 5 30 8 5-18 7-5-5-15 23-12 11-1 21 4-5-33 26-11-12-20 4-27 25-13 28-5 4-33 2-12-4-20 11-40 39-13-3-31-2-5 1-40-4-5-4-20 30-1 11 46 1 66-2 34-51 45-72 16-8-35-24 0-16 6-29 1 1 66 5-3-13 5-5 2 40 6-2-20-16 40-1 24-56 13-33 14-23-10 0 38-58-51-72-17-11 92-10 12-4 84-29 37-71-15-7-30 16-7-26-19-76 1 2 11 11 8-41-2 1-25-6 1-2-12-15-15 11-17-53-4-19 5-7 4-9 3 5-21-23 7-4-11-35 14 4-48-14 1-3-5 2-7 15-5-55-6 11 41-9-151-22 3-7-14 14-30 38 29 98-31 14 0-55-105-114-16-12-8-1 39 15 22 21 3-53 0-4 10-32-56-16 14-3-2-26 3 17-27-1-16 14 141 175-244 13-19-4-27 11-17 3-20-8-3-5-29-14-9-22 1-7-17-4 32 7 5 13 21 5 25 62-31 15 13 19-1-4 27 41 1 9 17 14-58-15-29-27-6 5-21-1-12 0-8-14-15 46-10-8-12 43 2 9-2 15 1-5-12-4-11 8 0-18-12-5 20 59-5 10 1-4-8 0-11 3 46 30-15 1 36 1 16 24 3 2 37 8-88 29-16 2-17-14-8 35 0 7-8-6-19 12 71-6 22-30-1 41 44 10-7 34-20-8-33 10-26 21-24 36 62 27 1 20-1 9-10 5 1-10-10-18 3 5-12-2 41-20 18 7 8 14 15 41 4 10 4 15 3 29-1 23 4 2-8 11-4 2-9-9-28 1-21-50 27-3 3-21-22-4-7 8-29-22 66 1 60 20 7 35 6 30 1 6 25 27-1 1 30-10 5-7 19 37 1 0-15 21-3 10 5 2-25-3-19-17-4 8-12-18-2-11-27-9-20 19-1 13-21-21-8 40 33 12 48 38 27 3 18-37 24 1 27-7 7 7 13 2 5-3 23-13 4-11-17-19-24 20-21 8-3 67 9-32 74-56 16 13 37-51 1-11-63-49-47 17-77-43-1 65-63-139 4-51-49 3-10-231 4-12-118 63 1-239 76-1 19 21 30 7 13 7 20-32-14-15-3-91 5 104 627 32 9-2-26 19-7 8 9 2 18 12 13-3 17-2 8-25-10 388-9 0-15-7 1 27 6 11 0 141-54 103-128-223-41-13-22"/>
<path class="k25" d="M565 906l19 2 5 10 3 15 1 24-3 14 16 4 6 7 9-7 3-7-13-14 17-17-2-25 23 0-5-17 15-5 12 8 20-4 18-14 4-24-16-6 3-9-26 5-15 15-23 0-6 23-58 36-4 18 3 20 8 2-10 9-17 8 0 39 5-5 30 2 6 2 0-21-10 40-12 1-6 11 17 6 7 19-15 8-14-13-13 0-16-5-1-9-7-20-9-7-6-16 6-8-13-30 23 117 22 5 14-1-5 13 21 12 11 5 30-5 15-10-31-7 25-33-4-8 3-14-1-13-11-7 21-22 18-30-2-12 88-39-3-48 12-17 15 8 22 1-1-17-4-9-16-17 21-14-14-20 21-8 22 12 19 8-7 20 22 2 3 16-19 20-24-13-78-8-10-23 26-41 19-17 14 2 34 2 43 6 7-1 19 6 12-4 14-3 23 2 20 4-11 21 6 11-3 5-32 4-11-5-28 8 41 56 23-15 19 0 25 8-6-30 7-10 15 10 42 8 13 5 39 1-3-18-15-5 33 1 9 16-7 26-9 4-21 0-16 19-20 15-4 13 32 2 14-16 29-18 33-17 13 3-7-14 12-3 26 2-7 14 28 4 3-10 3-1 21 18 20-19 20-2 18 21-22 20 4 25-36 0 2 21 20 5-10 20 7 14-2 21-13 0-16-7-6 16 25 19 19 4-2 23 0 19-19-2 34-9 16-7-5 30 17-4 20 9 2 29-31 5 0-12-9 1-11-1-3 38 11-4-4 13-12 36-17 1-10 9-11 0-5-8-7 25 2 5 11-1 12 9 2-19 25 0 18 7-9 17 3 20 17 4-37 19-10 0 0 17-20-11-14-1-1 3-10 13-21-2-8 0 0-15-15-3-8-17 31 7 23-1-19-19-1-22 6-20-7-8 7-10-24-9-7-27 18 3 20 6 20-8 21-19 55 57 2 4 26-2 6-26 12-113-35-24-17-20-7-17-1-8 11-7 25-3-34-22 9-19-82-8 3-4-2-18 2-15-20-11-13 34 10 60-33 11 12 89-25 229 23 30 8 10 11-10 19-8 13 1-43 41-26 3-18 15-25-21-1-19 0-12-6-4 20 6-32 12-20-4-2 10 5 27-15 6-4-9-19-4-8 3-18-9 10-10 10-30 3-46-55 1-28 12-21 23-24 1-1 37-14 9-1-24-12 46-12-3-7 12-12-6-10 16-8 11-5-20-20-6-5-14-4-20-11-5-12 1-16-9 1-38 19 5 25 19 29 17-28 82-35-34-12-5-8-15-8-4-7 12-23-3 5-18 14-2-18-46-26 7-9-12-28-8-23-3-27 12-14-32 0-15 34-13 14 0-4-7-10-13-13 4-7-21-24 3-8-30 3-19 1-4-11-26 3-15-27 6 0-15-29-2 11 17-5 24-23 1 14 30 42-2-2-5-15-14 81 5-6 7 1 2-6 8 51 27-15 52 10 11 24-3 41 1 23 0-10 18-9-50-21-63 169 7 83 165-2 33-6 11-9-6-11 12-14-7 3 19 40-7 5-7 8 17 17 0-3 16 19 0 1-23 15 0 6 12 18-8 31 12 4-27 31-19-5-60 3-5-3-13-5 2-6 9 22-24-109 27-10 70-38 50-13 17-8 11-9-728 17-24 15 12 45 42-3 5 17-4 14 15 7 0 21-3 16-27 19 37 48 2 9-6-1 38 12 3 50 2 17-14-46-43"/>
<path class="k26" d="M658 912l12 3 8-1 14 11 5 15-4 7-7 17-7-4-23 2-3-5 8-25 10 47 16 11 19 0 20 16 9-25-6-19-11-2 3-17-3-12 12 5 17-11 6 18 14 15 32-9-9-9-3-9-9-10-5-17 0-11-10 3-22 0 4-12-41-5 1 36 83-10 19-12 8-14-5-5 9-23 27-3 2 9 1 20 2 14-8 3-3-4 22 0 10-24 7-10 5-6-11-1 13-18 7 41 10 18-1 22 21-10 10-1 19-8 2-8-30-2-7-35 10-8 24 6 5-18-14-5 33 16 22 18-4 14 8 3-11 18 23 3 10 2-8 17 12 12 0 10-31 0-19-31 61-25 12 1 4 0 12-13 6-7 24-7 16 16 22 17 7 1 6 0-1 10 16 2 2 12 9 4-1 19 15 11 15 5 6 9 20 4 6 14-43 5-2 2-21 3-15-14 3-13 18 2-38 1-2-24-9 5-20 4-27 11-15-3 10 26 42-2 15 15-1 6 15 18 13 3 16 8 8 7-6 7-16 21 32 5 17-2 17-2 0-15-11 3-7-16-5-21-10 6-9-14 34 3 32 39-2 6 13 29-12 16 9 16 11 7-38-1-8-7-13-14-11-4-4 5-14 1-1 9 19 13-10 20 3 7 20-3 7-2-2-2 16-3 26 24-49 9 0 11-46 1-8-23 0-31-8 2 1-30-9-9-9 18-18 25-8 11 5 7 8 19-9 14-11-5-14 15 7 26-4 13 16-5 9 19 18 1 9 11 11-7 4-11 24 1 13 16 4-44-26 3-12-9-18-7-6-4 7 21 36-17-1-61 11-64 40 1-95-50 12-103-21-16-31-11-8 20-29 0-13-58-17-9 7-12-13-9 0-25 9 4 17 10-76-35-103 7-36 15-12-1-2-13-17 17-19 38 1 16 46 39-3 6-5 17-3 12 8 22-7 83-10 0-6 25-54-38-62-16-17 6 0 11 9 14 4 25 1 14-29-1-3 14 1 6 9 12 7 9 10 17 2 17-8 0-8-8-25 0-7 9 21 7-12 21-8 9 0 32-12-11 36 6 18-10 14-2-5-8-19-4 14 40 10 8-6 17-2 12 40 0 16-3 17-1 20 5 1 11-5 14 17 1 10-6 6-21 10-1 3 11 20-7 0 20 4-4 11 20 0 19 6 0 2 19 9 20 3 10 6-19 16-30-1-16 11-2 1-17-23-1-10 16 13 10 1-54-4-20-17-1-46 8-32 5-11-7 0-23-19 16-17 6-11-5 3-13-14-8-13 1 24-25-10-10-8-12 30-9-8-60-14 0 44 9-120-1-12 2 2 7-22 9-23-1-13-1 6-22-15-17 3-39 7 1 17-17 24-17 26-1-2 16 4 4 0 7-10 2 28 7-50 9 4 18-1 11-13 57-7 11 63 88 92 47 1 36 3-1-10 0 60-8 16-9 5 59 93-5 9-23 41 2 3-11 8-12-16-5 6-12 13-7-3-19-5-8-12 3 20-13 7-2 6-25-17-5 61 8 23 2 16 20-7 12 5 7 22 0 21-2-2-14-17-7-49 15-9-5-26 0 2-2-3 23 8 24 6 14 16-4 4 0 12 7-9 26-34 5-14-10-17-6-6 2 9 20-20 11-12-9 44-43 46-30 32 13 46-6 17-18-66-137-45-155-87-32-22 4-7 115-13 16 32 172-260-274-25-7-45 1 607-76 4-19-26-22"/>
<path class="k27" d="M695 1016l16 19-9 13 16 9-8 12-3 15-10 2 9 20 3 20-7 1 0 21 0 13 15 2 12-11 9-15 7-4-9-5 0-36 18 9 10 3 7 7 11 11-8 31 1 9-5-1-6-6-20 14 0 8 8 10 8 8-2 10-18-5 6 23 35-10 12 8-4 8 27-8-1 26-10 2 26-15 22-16 7 5 8-5 1-9-22 2 1-8 0-17 8-15-14-5 0-10-8-13 27-5 4-15 16-10 20 4-3 13 14 8-11 17-1 16 1 3 8 7 16-3-1 14-10 8 0 15 24 1 5 5 0 13 13-2-3 20-3 3 4 7-14-3 30-3 1-34-4-17-3-5-5 3 4-20 8-5-4-18-18-2-3-1 2-10-9-12 27 4 0-14 23 1 0-17-7-8 3-6-9-6-11 10-5 4-9 13-28 3 1-8 15-16 2-18-6-1 16 8 1-22 23-2 6-11 3 2 1 22 13 19 21 0 3 7-3 13 0 21 7 5 24 0 13 2 8 4 10-10-4-20 7-5 14 12 5 5-1-37-7-5 17-4 3 15-8-31-11-6-5-18 7-6 8-6 6 7-3-29-17-8-3-4-1-13 6-14 5 3 6-36-22 6-52 13 4 10 3 11 21 9 0 7 20 19-14 17-14-2-8-9-13 2-2 18-2 2 2 15 15-5-1 17 4 8-3 14 14 3 10-8 6-12-8-6-3-19-57-3-8-1-15-14 2-13-9 3-10-5 5-23-22-3 1-5 3-24 9 3 23-1 3-6 2-17 16-13-5-17-19 7-8 0-11-15-6 34-10-4-11-8 6 26-21 0-9-18-9-1-12 2-15 3 2-27-18 9-23-1 11-14-6 42 2 18 25 1-9-12 31-1 13 22-2 11-20 1-1 15 0 18 2 17 6-4 7-3 15 3 9 7 5 16 14 1 2-14 3-12-13-20-4-17-10 4-22 9-33-12-6 3-8-8-3 20 2 7-11 13-6 7-10-5-19-5-11 0-1 6-18-6-8-13-13 6-1-13 5-13 6-10-1-7 5-5 29-5 3 11 14-3 5 7 8 18-1 10 7-3-31 2-1-6 7-6-23 5-11 55 29 3 3-4-7 12-10 16 9 13 22 0 7 15-4 6-10-3 1 27-10 12-7 31 5 16-17 0 43 4-2-18-5-10 52-17 16 10-2-23 3 51 13 8-5 25-7-5-10 7-4 29-4 5-21-2-2 23 22 10 0 1 20 1 31-5 6 5 14 1-24 13 0-31-11-4-10-26 18-2 8-5 2-79 25 14 42-11-6-13 20 7 7-3 23 9-8 11 12 15 11-6 11 7 4 13-5 9 6 18-21 6-4-11-7 17-13-3-11 14-13-21 0-22-8-15 17 0 8-5-12-5 21 26 12-8 39-6 6 7 0-29-15-1-9-8-7-43 3-15-34-43-15-51 13-19-1-6-17-7 20-17-52 73-66 15 7 12 1 1-25-1 8 17-19 13-6 3-21 2 2 13 1-40 7 0-21 5 4-25-2-8 28 6-1-19-123 15 2 5 5 19 20 9-3 10-71 25-27 0 1-5 6 20 6-67 50-38 3-4 66-89-84 270 320 68 84-74 35-1-14-23-1-19-19 2-2 6 22-86-5-15 16-15 10 33-2-95-12 7"/>
</g></g>
<path d="M94.8 364.0C93.7 361.6 92.3 359.3 91.6 356.8C90.9 354.3 90.6 351.5 90.5 348.8C90.4 346.1 90.7 343.5 91.1 340.8C91.6 338.1 92.2 335.5 93.2 332.8C94.2 330.1 95.7 327.3 97.2 324.8C98.7 322.3 100.1 319.9 102.0 317.6C103.9 315.3 106.3 313.2 108.4 311.2C110.5 309.2 112.5 307.3 114.8 305.6C117.1 303.9 119.5 302.1 122.0 300.8C124.5 299.5 127.3 298.5 130.0 297.6C132.7 296.7 135.3 296.2 138.0 295.7C140.7 295.2 143.3 295.0 146.0 294.7C148.7 294.5 151.3 294.3 154.0 294.1C156.7 293.9 159.5 293.5 162.0 293.6C164.5 293.7 166.8 294.1 169.2 294.7C171.6 295.4 174.0 296.6 176.4 297.6C178.8 298.6 181.2 299.6 183.6 300.8C186.0 302.0 188.4 303.3 190.8 304.8C193.2 306.3 195.7 307.9 198.0 309.6C200.3 311.3 202.5 313.2 204.4 315.2C206.3 317.2 208.0 319.3 209.2 321.6C210.4 323.9 211.0 326.4 211.6 328.8C212.2 331.2 212.2 333.6 212.7 336.0C213.3 338.4 214.4 340.8 214.8 343.2C215.2 345.6 215.5 348.0 215.3 350.4C215.0 352.8 214.1 355.3 213.2 357.6C212.3 359.9 211.1 361.9 210.0 364.0C208.9 366.1 207.7 368.5 206.8 370.4C205.9 372.3 205.7 373.7 204.4 375.2C203.1 376.7 200.8 377.7 198.8 379.2C196.8 380.7 194.5 382.4 192.4 384.0C190.3 385.6 188.3 387.3 186.0 388.8C183.7 390.3 181.3 391.6 178.8 392.8C176.3 394.0 173.5 395.1 170.8 396.0C168.1 396.9 165.5 397.7 162.8 398.4C160.1 399.1 157.5 399.8 154.8 400.0C152.1 400.2 149.5 400.0 146.8 399.7C144.1 399.4 141.2 398.7 138.8 398.1C136.4 397.5 134.3 396.5 132.4 396.0C130.5 395.5 129.2 395.3 127.6 394.9" fill="none" stroke="#000" stroke-width="2.8" stroke-linejoin="round"/>
<text transform="translate(110.0,380.8) rotate(41.0)" y="6.1" text-anchor="middle" font-size="16.67">90%</text>
<path d="M168.4 371.2C170.8 370.1 173.6 369.5 175.6 368.0C177.6 366.5 179.1 364.5 180.4 362.4C181.7 360.3 182.8 357.7 183.6 355.2C184.4 352.7 185.0 349.9 185.2 347.2C185.4 344.5 185.3 341.9 184.9 339.2C184.5 336.5 183.8 333.6 182.8 331.2C181.8 328.8 180.5 326.7 178.8 324.8C177.1 322.9 174.8 321.1 172.4 320.0C170.0 318.9 167.1 318.5 164.4 318.1C161.7 317.7 159.1 317.7 156.4 317.6C153.7 317.5 151.1 317.4 148.4 317.6C145.7 317.8 142.9 317.9 140.4 318.7C137.9 319.5 135.5 320.9 133.2 322.4C130.9 323.9 128.7 325.9 126.8 328.0C124.9 330.1 123.2 332.7 122.0 335.2C120.8 337.7 120.1 340.5 119.6 343.2C119.1 345.9 119.0 348.5 119.3 351.2C119.5 353.9 120.3 356.9 121.2 359.2C122.1 361.5 123.3 363.5 124.4 364.8C125.5 366.1 126.5 366.4 127.6 367.2" fill="none" stroke="#000" stroke-width="2.8" stroke-linejoin="round"/>
<text transform="translate(147.1,374.1) rotate(5.0)" y="6.1" text-anchor="middle" font-size="16.67">50%</text>
<rect x="60.6" y="237.15" width="194" height="187.4" fill="none" stroke="#000" stroke-width="1.1"/>
<text x="51" y="304.8" text-anchor="end" font-size="13.9">2</text>
<text x="51" y="399" text-anchor="end" font-size="13.9">−2</text>
<path d="M97.3 424.55v4.9M151.5 424.55v4.9M205.7 424.55v4.9M60.6 299.7h-4.9M60.6 393.9h-4.9" stroke="#000" stroke-width="1.1" fill="none"/>
<text transform="translate(22.4,333.45) rotate(-90)" text-anchor="middle" font-size="24.3">p1</text>
<clipPath id="c111"><rect x="264.37" y="237.15" width="194" height="187.4"/></clipPath>
<g clip-path="url(#c111)">
<path d="M264.37 424.55V424.02H268.25V424.55H272.13V421.33H276.01V421.33H279.89V415.74H283.77V415.74H287.65V404.79H291.53V404.79H295.41V403.28H299.29V391.25H303.17V389.75H307.05V369.34H310.93V359.67H314.81V346.79H318.69V332.82H322.57V305.97H326.45V298.88H330.33V289.86H334.21V260.21H338.09V276.54H341.97V270.52H345.85V246.89H349.73V270.95H353.61V289.43H357.49V289.43H361.37V310.27H365.25V307.47H369.13V337.12H373.01V336.04H376.89V362.9H380.77V371.92H384.65V390.82H388.53V398.34H392.41V403.71H396.29V409.73H400.17V416.6H404.05V417.68H407.93V421.97H411.81V423.05H415.69V423.05H419.57V423.05H423.45V424.55H427.33V424.55H431.21V424.55H435.09V424.55H438.97V424.55H442.85V424.55H446.73V424.55H450.61V424.55H454.49V424.02H458.37V424.55Z" fill="#808080" stroke="#000" stroke-width="2.6" stroke-linejoin="miter"/>
<path d="M306.01 424.55V237.15M345.46 424.55V237.15M384.56 424.55V237.15" stroke="#000" stroke-width="2.78" stroke-dasharray="10 4.8" stroke-dashoffset="-0.9" fill="none"/>
</g>
<rect x="264.37" y="237.15" width="194" height="187.4" fill="none" stroke="#000" stroke-width="1.1"/>
<path d="M296.7 424.55v4.9M393.5 424.55v4.9" stroke="#000" stroke-width="1.1" fill="none"/>
<text x="265.27" y="223.55" font-size="20.83">p1 = 0.0147</text>
<text x="396.33" y="214.59" font-size="14.58">+1.6159</text>
<text x="396.33" y="229.29" font-size="14.58">−1.6300</text>
<clipPath id="c120"><rect x="60.6" y="434.1" width="194" height="187.4"/></clipPath>
<g clip-path="url(#c120)">
<radialGradient id="u120"><stop offset="0" stop-color="#f0f724"/><stop offset="0.17" stop-color="#f0f724"/><stop offset="0.33" stop-color="#f1f426"/><stop offset="0.5" stop-color="#f3ee27"/><stop offset="0.67" stop-color="#f6e826"/><stop offset="0.83" stop-color="#f8df25"/><stop offset="1" stop-color="#fbd524"/></radialGradient>
<ellipse cx="151.2" cy="529.36" rx="34.76" ry="27.74" fill="url(#u120)"/>
<g transform="translate(60.6,434.1) scale(.1)" fill="none" stroke="none">
<path class="k0" d="M887 7z"/>
<path class="k3" d="M1756 573z"/>
<path class="k5" d="M221 991l593 881"/>
<path class="k6" d="M717 123z"/>
<path class="k7" d="M1869 1012z"/>
<path class="k8" d="M1578 1413l-283 346"/>
<path class="k9" d="M1537 265l-59 492 233 172 229 231-951 349"/>
<path class="k10" d="M903 250l18 1460-646-582"/>
<path class="k11" d="M0 854l440-366 178-45 269-52 69 95 853 30-36 461"/>
<path class="k12" d="M541 258l616 234 645 223-587 940-782-75-203-542-162-186 41-57"/>
<path class="k13" d="M428 725l-59 729 712 112 49-34 198 105 301-251 13-52 112-491-291-289-111-160"/>
<path class="k14" d="M409 675l42 497-40 316 80 60 307-11 206 177 265-346 33 20 196-177 80 26 180-481-178-304-1544 601"/>
<path class="k15" d="M228 581l-32 389 77 405 3-1 235 229 76-58 160-110 91 78 162 25 198 44 360-253 243-224 23-398-161-113-160-120-195-110-157-80-82-19-261 33 5 59 57 110 36 46-281-207"/>
<path class="k16" d="M347 439l-40 45 133 12 15 222-72 31-38-5 22-70-31 187-62 59-28-96-62 136-143 0 26-45 131 387 103 35 157 14 406 9 266 57 56-45-47 142 13 42-105-41 415-93 120-100-74-180-90 4 20-472-84-142-89-70-226-168-99 54-65-32 1 179-34 15-29-65-244-107-29-23"/>
<path class="k17" d="M307 529l34 15 22 160 12 65 5 58-61-2-154 35 1 36 35 137 74 41-62 85 21 91 129 48 19-85 81 56 3 177 154 95 197-6-4 50 59-45-29-41 47-14 70-32 22 61 264-13-66-224 136-111 53-204 79-116 78 10 3-148 116-40 60 12-33 99-11-189-84-25-174 60-48 60 7 66-40-305-82-56-63-27-36 85 79 48-191-24-108 37-106-11-88-22-54-19-31-11-45-13 27 74 42-8-170-112 39 306-46 69-32 318-362-15 778-716 697 665 13 14 31-20 18 56-39 63-99 200"/>
<path class="k18" d="M394 487l32-21 9 107 74 84 107-74 8-57 52-76-19-57-37-15-57 25-11 16 196-54-34-37 144 14 21-10 43 64-31 32 10 146 101 11 146-62-31-55 64-26-25-57 173 31 31 180-73 8-96 30 96 166 178-69 41-6-29-66 92-41 15 0-11-23 11-37-7 254 50 102 32 98 1 7 29-7-1-24 17 49 2 72-47 75-164-55 0-56-7-1-3 162-111-52 2-12-69 89 24 43 15 40 15-10 3 41-62 39-87-81-5-61-75 207-33 19 0 32 40 0-98-70 15-53-87 34-42 7-121-31-85 126 240 31-481-84 26-151-56-16-52-85-25-2-73-46 25-108-3-36-24-25-20-78-58 21-55-124-3-6-28 16 169 9 8-80 9-25 9-26-81 53-1-123 133 246-260 147 517 152 121-728 211-124"/>
<path class="k19" d="M381 586l-9 94-38 29-1 73 26 33 78-3 15-43 26-34-41-20 0-6 15-88 49-17-9-25-31-16 40-59 46-71 20 15 40-12 2-4 60-26 59 3 104-15-36 80 64 71 128-10 61 19 38-30-5-44 131-16 27 20 37 33-26 33 9 73 33-20 134 20 29 28-58 19-12 12-48 56 31 41 51 213-46 93 119-1 81-23-14 73-24 66-22 57-21 18-74-1 17 69-277 3-59-5-70 17-28-55-10 152-6 33 89 21 27 34 10-66 4-37-63-5 99 55-241-82 3-11-77 80-58 3 16 22-7 12-42 5-42-35-9-10-38-10-24 16 34 16-41-76-22 16-9 6-42 1 34-99-12-45-29-6 0-11 51 0 42 79 76 35 56 37-301-60-5-53-17-33 33-54-102-33-6-79 14-14-48-17-28 45-106 32-7-249-24-16-8 1 64 4 9 2 63-7-11-47-81 4 12-23 88 151 52 43 112-188 47-21 26-110 11-97 104-98 24-13 334-113 396 166 13-10 212 260-26 80 56 19-37 50 12 19-10 12-1216 429"/>
<path class="k20" d="M543 447l40 31-12 58-17 27 7 41 31-31 58 36 90-36 97 57 70-148 40 6 31 26 23-7 11 12 1-45-10-5 51 10 20-10 32 44 40-25-19 70 64-19 72 33-24 55-27 47-65-25 199-33 2-9 4-1-7-45 57 85 0 89-1 11-56 63 90 58-21 28 116-9 36-2 6-48 16-41 17-34 27 76-118-40 1-57 29-45 36 250 53 51-160 114-31 13 11 79 9 8-55 6 31 39-38 56-73 17-63 32-48 12-6 19 26 19-94-5 4 56 3 5-39-19-20 33-92 8-29 37-19-79 2-31 30-1 8-20-32-5-39 3-20-62-4-29-64-26-46 13-22 87-81-2-2 53-56 8-2-32-43-2-12 2-27-2-29-17 9-18 44-15-12-80-93-20-19-7-19 32-27 13 3 4-13-11 72 43-89-143-12-62-7-8 8-15-11-67-14 4-31 6-11 20-11 59-4 8-49-107-33-76 70-13 38-43 20-76-49 8 8-54 93 19 34-23-11-31-7-20-29-1 22-63 55 28 10-73 0-21 23-28 24-22 140-116 58 28 105-20 92 1 30 20-502 372-33 138 102 48 108 184 16 9 161 300 9 5 99-63 155-5-30-93 112 24 41-53 48 4 91-124 71-27-11-186"/>
<path class="k21" d="M563 508l-2 22 17 1 14-6 24 11 5 0 0 33-25 16-19 16-53 9-9 10 2 18-33 4-2 22 7 24 14-4 52 16-16 75 41 9 83-46-14-144 31-2 22-20 98 5 14-3 0 83-36-15 128-9 18-12 17 15 48-54 2-5-9-6-1-38-7 2-14-34-21-11 69-4 21 12 3 20 38-13 16 15-9-42 27 106 38-9-2 41-20 42-54-37 167 1 28-13 17 15 12 38-5 35-15 8 92-12 5-50-28-17 0-2 30-25-11-30-71-6-31-1-39 18 146 185-3 21 112 3 56 27 3 8 36 7-8-66-25 145-21 0 43 35-72 15-9 42 26 6-4 32 3 14 29 10 3 18 17 4 31-20-128 0-15 99 43 20-89-43-17 16-16 68-7 1 9 24-18 4 11 14-2 17 20 19 28-41-99 64-87-3 9 23-22 6 1 26-38 3-14 6-11-41-30 0-33-3-13 36-27-19-56 22 31 43 1 13 41 1-67 15-56-18-55-6-2 23-17-41-21 19-49-17 0-36 25-24 7-39-52 15-32-50-59-1 6-36-38 5-17 77 28 14 44 39 4 6-10 8 18 33-175-63-46-25 19-37 59 17-11-58-90-2-8 2-53-30 5-21-18-21 8-10-31-30-26 8 2 33-17-5 1-76 11-70-46 15-27-7-22 8-4-55 2-27 47 10 16-33 36 3-7 13 73-31-19-55-16-46-6 0 16-27-15-21-36-14-30 31-25 47 74-120 41-5 25 3 3 51 41 29-2-170 16-24 13-22 50-36 93-95 227-20 31 75 17 30-476 108-26 418 13 14 13 38 14 11 734 92 48-14 52 9-11-30 0-22 5-54 86-26 53-153-72-44-76 4 179-186 5-5-262 632"/>
<path class="k22" d="M484 595l-4 25-22 24 33 18 9 19 44-8 5-39-2-47 7-9 23 2 18-29 75-15 9-51 12-8 24 6 16 7-6 16 9 5 21-6-8 25-12 18 5 13 4 2 25-7-4 42 46-12 18 16 2-48 22 0 32-9 50 2-1-28 19 53 6 39 15-11-26 30-35-13-18-12-98-74-1-11 0-17-90 108-15-8-5 30-20 3-11 30-15-5-28-5-8 26 6 38-14 4-34 26-47 5 21 29-49 6-32-61-90 48 13 79-22 10 3 41 48 7 16-15-2-3 15-12-22-17-79-27-18 100-18-10-30 74 26 32 60-25 16 2 3 49 43-30 8 4 8 41 22 50 10 54 11 16 29 6 14-13 6 23-5 26-17 4-2-13-23 10 58-7 33 5 9 32-5 32-17 14-45 0 23 28 71-35 4-2 53-1 12-4 16-8 29 53-13 25 52-7 14-4 2 21-23 23 56 23 22-25-11-17 35-7 1-26-9-3-18-7-15 1-38-24 85-33 12-20-3-49 11-13 35 75 8 20 29 20 26-2 10-6 25-26-11-11-10 86-17 2 3 35 30 6 15 6 22 7-48 1-36 16 2 8-67-27-23 9 16-60 32 3 91 5 15 6 46 2 52-25 25-24 33-15 22-30 33-12 8 17 2-65 72-13 19-1 1 52 12-97 24-25 8-47-44-11-8 39-44 21-21-14-29-10 180 1 18 2 6-36 26 14 43 4 11-105-19-9-31 1-17-14-7-22 21-32-13-24 12-27-35 5-29 5 5-16 6 59-18 75 30 14-4 14 34-13-99 11-54-52 25-156 20-36-31-12-22-13 28-33 13 11 42 3 19 21 20-13 3-22 9 82 71 10 3 0 14 36-27-88-231 24-31-24 6-79-17-42-2-18 8 3 5-38-20-33-12 5-19-6-12 21-7 10 27 24 82 2 39 13 8 26-12 26 17-85-190-45-22-10-2-17-73 10-5 21 77 78-581-40 28 244-71 198-6 12-76-60-6 154-57-8 89 51 1 27 198 35 20 120 460-65 23 5 304-126"/>
<path class="k23" d="M500 659l35-2 46-6 4 25-14 1 3 6-4 22 33-10-11 36 46 8 16 29 13-67 41-9 41-53 13-19 23-2 29-23 54 1 7 39-18 7 58-45 6 1 31 7 8-21-26-19-36-5 84-18 42 20 3 16 12-10 20-4 4 17 14 10-6 7-18 7 9 34 3 81 11-2 124-13-10-43-7-22-21 12 8-42-21-4-16 4 32-24 8-6 15 19 27-12 22 22 3 44-2 6 29-1-7-9 4 55-25 22 69-32 12 0 4 4 12 64 4-1 34-29 52 19-6 15-13 21-4 20-29-1-3 19 7 27 23-5-4 14-41-15 3 37 13 22 15 3 4 46 6 27-3 4-32 6-8 27-10 6-9 7 31 30 5 60 14-1 3 7-26 14-23-4-5 0 5 15 1 29-28 18-14-9-28-16 6 57-3 4-18 3-33 9-16-7-21 11-25-8-13 1 7 23-14 22-7 3-11-3-1-27-26 21 0 18-25 17-15 34-21-6-63-6 10-11-25 18 6 18 3 15-32-35-5-5-22 13-1 12-24-18-12-9 13-16-36-1 8-20-2-15-40-7-5 0-5 28-37-21-3-6-23 39-24-15-12 2-10 6 7 18-13 18 28 2-47-17 4-8-20-3-15-16-1-18 18-10-8-19-26-6-9 0-1-16-13 23-10-7-2-3 2 20 22 10 13 60-61-33-17-59-1-29-6-31 0-41 12-6-4-12 5-7-17-13-6-30-17-5-26 2-4 26-13 29-28-18-4 3 6-50 2-27 9-24-7-34-22 12-18 16-18 14 18 18 6 21 3 12 3 3-20 11-24-92-19 4-1-22-7 6-3-19 36-4 4 5 30 2-20-33 40-15-22-24 40-7 2-17 7-46 0-26 26 3 10 14 11-1-2 14 3-50-20-8 14-20 14-4 29 10 21 71-48 46-7 37 39 84 13 4-61 28 7 134-22 24 111-23 47 11 7 10-18 29-9-6 103-24 25 6 7 14-54 54 73 90 45 26 22 12 56-95 67-40 55 35 54-48 64-42 23 2 56 9-37 87-48 39-19 1-6 20 210-119-22-106 14-26-38-4 15-34-67 10 37-132 10-15 12-14 40-47-75-26-67-10 251-29 34-11 8 67-22 32-18 27 8 31-12 15-6 2 11 6 7 5 7 17 5-5-10 30-30 85-269-544-3-5-13-20-129 72-200-57-1-3-23 3 2 15-14-42-23 12-22-4-16 17-17 15-16 36-32 10 4 7-6-31-30 22 14 26-41-9 138-28 5-16-231 137-22 14-40 85-1 8-6-11 0 29-32 26-6 6"/>
<path class="k24" d="M609 640l22 41 12-2 19-4 1-12 27 2 0 7 22 4 12 6 20-6-8-10 31 0-16-35-19 5 5-25-7-3-14 10-8 27-10-47 86-1-2-11-3 39 30 2 10-1-4-14 7 32 17-7-6 23-17 21 11 71 155 7-5-22 1-7 29 15-20-82-36-14-5-4 23-18 36-12 15-5 21-1 2-17 34 19 3 0 4-3-2 25-3 30-20 2-18-9-15-11 103-1 1 4-9 6 11 15 17 15 28 3 6 5-13-33-5-27-6-6-45-41-4 107 16 43-5 23 31-2 56 28 31 9 13-21 8-8-2-27-11 8 2-48-7-5-15 11-9 7 42-30 9 3 43 58 7 12-9 32 0 16-2 2 11 17 0 36 19 7 11 6 6 0 30 15 9-30 9-26-55-1-9 12-39 2-6-6 1 46 11 8 25 9 6 30 4 17 10 3-6 22 1 9-8 18-28-4 10 46 4 10-9 22 9 15 23-11 1-12 36-4-10-25-9-12 24-14-3-5-5-49 27 3 3 5 4 14-10-66-29 8-1 4-62 4 6 19-61-55-44 10-2 31-8 135 24 32-3 8 4 27 0 6 15-2 5 5 0-14-1 29-1 26-4 9-1 2-30 4 0 6-24 0-4 6 7 2-20-8-2 17-6-3-5 1-3 53-9-4-13 7-8-15 1-17-21-16-10 9-15-11-26-9 2 32-8 22-14-3-27-3-9 3-50 1-16-4-10 8-23-6-4 12-12 29 47 1-7 11 29 13 9 0 31-18 15 3 6 5 25 9-7-26 8-9 25-5 28-7-1-23 102 0 21-27-14-44-86-20-10-29-46-3-189 58-14 35-2 2-13 22 3 4 31-8-65 13-6 20-15-11-14-16-11-3-11 4-8 38-18 4-22-18-10 6-2-24-8-8-12 6-13 8-27-9-12-46-20-5-10-7-5 25-18-3-11-15 0-30-5-8 19 4 30-15 16 19 28-15 28 0 7-29 4-4-26 11 7-30 35-8 7-9 2 98 15 9-32 4-7-11-21 27 51 11 26-11 62 4 24 75-21 31 150-46 296-205 15 10 14-15 14 21 4 25 44 7-80-70-666 0-6-59 20-1-28-18-33 1-30-8-6-1-7 14-35 2-15 1 0-18 1-22 9 6 17 0-8-19-8-29-12-18-2-32 5-4 17 6 9 16 12-7 1 31 35-7 0-11 12-16 5-21 15-3-4-37-18-4-13-17-25 4-8-23 32-30 42-12-2-6 12 28 24 1 5-9 2 32 12 10-26 5-25-6 17 32-59 18-61 3-12 0-18 17-37 33 6 40 8 10 2 2 24-2 6-11-3 26-10 15-29 17 8 27 10 7-3 9 28 20 9-6 1 22 6 5 15 19 0 15 22-8-2 23 9 14 17-1-1 13 13 15-17 13-9 1-23-3-2-21 6-95 12 0 8-26 6-84 34 8 14 163 19 8 53-360 8-22 7-10 7-25-48 7 267-65 38 21 11-57 3 0 5-29-26 0-28-9-12 3 0 17 100-8"/>
<path class="k25" d="M601 735l4 36 4 30-7 2-8 9-6 6-7 4 2 4 11 6-23 12-10 9-11 4-12 2-18-1-10-3 9 45 19 12 17-2-1 12 6-29 0-16 6-5 2 12 36 5-4 10 4 24-23-10-19 44 2 16 28 6 8 3 10 8 23 11 3-26 3-13-22 73 0 19 6 16-6 19-3 15-7 1-11-1 3 17 14-8 2 24 14 15 13-1 10-11 5-5-9-9-7-19-4-21 29-2 24 37 17 21 0 8-5 4 13 7 1 21 16-8 19 1 22 5 6 28 8-4-23 4 13 16 12 17-2 4 9 14 37-14 10-3-3-8-18-2 14-19 10 2-14-14 0-18-43-42-25 14-20-27-44 45-40 5-5 6 7 21 7 18 4-4 21-4 4 1 6 8-8 20 61-2 94 14 41-15 8-17 0-8 5-2 1-20 45 1 24 13-38 10-1 17-14-11-3 34-7-2 26 19 45 2 2-29 12-11 29-2 1 12 22-10-3-32-10 2 0-31 22 3 2 8 12 4 14-13 1-3-10-24 43-5 11 3 3-21 22 2 9-9-1 26 17 1 16 12 2-28 12 0 12 15-3 5 1 25-45-1-1 2-11 0 1-13-9 1-18 6-21 9 5 9-9 10-10 5 1-12-9 19 29 6 17-9-29-89 51-26 25 5 13-1 5 4 1-14 15 0-4 8 29-6 19-6 4-32 8-20 10-9 0-20-15 4-12 6 2-19 8-14-2-26-5-7 12 0 14-1 1 23 33-10-9-13-14-27-12-5-1-3-6-30-5 2 2-26-13 3 26 5 5-16-9-11-2-11-28-6-2 15-32 10-5 10 27 17-1 18 4 5-20 8-3 11 2 14 14-2 4 28-20-7 15 54 5 27 7-1-9 27 53-12 16-26 8-31-11 98-54 43-68-14 3-36-10-16 13-68-65-9 29-76 17-118 12 8 16 5 17-6 1-15-14-22-12-19-22-3-3 2-11 3-4-11-5-6-5 4-12-19-1-23-4 3 16 1 13 16 20 7 8 2 26 12 22 9 0 68 44-7-1-8-1-20 12-2 44 59-166-70-17 12-29 16-48 16 3-71 27-1 0-18 1-17-13-13-8 6-3-3-1-13-10 3-23 2-18-4-17 5-11 1 1-17-7-14-15-4 23-19 26 13 11-1 50 7-28 52-19 5-25 2 9 13-18 6-33 16-7 6-4-29-1-5 19-17-16-17-24-5-12-2 3 11-15 1-7 6-14-4 8-10 3-9-6-1-1-11-9-5 4-23-17 40 1 6-12 4 1 18-16 10-1-22-8 6 0-16-12 9-30-1-2 6 1 10-26 0-12 16 2 10-35 1 10-16 6-21 7-48 7-7 26 5 1 9 9 19 32-20 30 4 14 75 31-6-6-12 26 0 19-10 2-36-31 79-54 10-3 16 48 42 20 8 6-27 86-1 14 265 10 88-104 31-83-61-140-52-109-26-27 6 3 4-20 7-15-10 1-15 4-3-2-7 22 7-47-3 4-13-11-5-17 14-2-31 2-34-15-6 3-7 9-7-8-40 38 63-9 101 7 10 19 2 13 10 6 5-1 21 6 6 19-14-1-24-3 74-4 11-57-64-4 0 55-321 64 17-1 42 40-13 8-10 4-34-6-7-5-23 22 10 9-20 0-15 2 2-16 2-29-27 4-14-17 27 47-45 28-11 15 94-46 97 370 427"/>
<path class="k26" d="M731 698l20 35 8 20 8 5-7 18 10 4 2 2 19 7 2-30 5-4 8 0 2 11 1-22 14-5-9-17-11 4-3-15 17-3 20 7 0 7 16 4 34-15 24 1 19 15 19 0-14 23 5 19 8 13-12 12 25-29 7-6 1-9 4 19 20 12 9-1-5 28 31-5 17 12 17-8 4-32 21-2 10-3 11-6 6-16-36 0 2-17-31 5-7-9-6 1-25 2 4-8-13-15 21 41 9 6 9 3 15-6-30 19-1 72-9-1-16 1 55 21 43-6 1-17-4-14 5-22-8-9 3-5 25 9-8 10 28 7 9-3-3-18 8-10-10-8-12-5 37 1 13-10-11 44-7-3 21 18 11 2 14 1 6 5 9-3 25 0-37 19 1 27 0 5-12 5-6 10-9-4-2 9 0 11-5 9 4 8-3 8 1 19-13-4 5 18-14 3-7 0-3-11-23 7-20 12 4 29 2-1 22 10-3 6-11 20 4 22 19-7 11-11 14-7-5-11 3-7 6-1-1 4 9 5 6 12 8 10 0 11 10-23 7-5 6 14 22-21-18-23-10-13 1-9-12 0-15-3 12-14 4-16 29-10 8 20 9 13-18 8-27 37-28-14-5-10-28 0 2 5 5-72 21-11-5-21-2-15-7-7-6 15-11-2-8-7-8 2 2 17 10-35 29-8 6-9-19-11-27 0 64 26 60 33-218 17 51 51-24 52-45 14-12 70-19 26 2 5 10 11-1 16 6 6 7 12-4 7-8 9 21 1 7-18 3-29 4-13 10 23 18 13 5 9 0-50-9-5 20-8-5-9 19-2 0-14 17-1 5-6 9 14 10-5 7 10 4 20-12 1 35-2 2-42-12-1-3 6-56-20-9 3 15-27-17 83-5 20 9 4 8-8-108 33-6-6-8-7-15-2 5-7-15 4-1 10-26 1 7-13-27 5-5 12 3 10 9 5-23 10-3-2-12-2 0-25 8-6-17-1-8-9 1-12 4-8-3-5-20 16-27 5-10-17-7-10-14-4-5 15-6-5-15 12 1 11-12-7-3 3-18 8 7-23-29-24-1-1-1-4-9 15-3 0-6-28 7-17-3-21-19 5-23-5-4 27 1 3 8-2 11 2 51-1 18 0 18 5-10-31 2-30-17-3 8-28-32 5-6 8-12 10-11 5 1 7-4-27-12 5-2-21-10-33 0-18 11 5-28 3-20 6-3 23 16 2 3-54-8-9 31 3 11-17 4-7 9 7 17 10 1-23-13-23 8-8 0-9-6-5-21-6-9 9 4 4-7 11-2 29-6 7 16-11-32-11-10-4-9 2-14 9-2 45-3 21-17 16-8 6 2 52 8 10 26-4 46 2-28 58 41 52 144-36 41-2 4 13 30-17-9-39 30-4 32 70 4 5-17 14-10 11-51 28-21 0 0-4 2-4-29-2 0 20-12 1 10 12 15 3 46 3 80 0 33-10-7-7-3-6 16 38 5 12-19 7 45-14 17-6-259-256-52-4-43-5 36-52-1-46 6-12 4-18-2-16 11-7 6-5 10 11 13-18-28-10-12 8-13-7-26-7-3 22-6 14-30-6-17 30 112 2 13 16 14 9 6-34 56 0 0-16 6-11 4-20 20-7 5 30-3 11 33-50 11-4 1-11 12 14 4 8-10 10-34-107-73 26-10 20 1 2 1 25-51 17-27-12"/>
<path class="k27" d="M761 808l6 8 7 2-6 11 17 3 16 6 14 7 11 0 0-18 17-10 19 2 3-1-2-7 1-17-1-18-18-2-21-7-28 49-43 0 4 44-7 15 11 15-2 9-6 4 2 22-18-8-7-7 1-16-22 1 0 15 3 10 2 14-22 5-7 11-2 9 10 15-2 11-15-1-23-14-4-19 3-26 12 2 17-8 11 2 27 42 9 12-4 8 17 4 4 11 13-4-3-16-7-2-13-7 2-22 9-2 31 5 4-7 21 7-7 15-4 16-3 21 13-5 21-11 15 1 7 8 5-15-6-17-16-1 10-12 13-15 2-13 16-1 0 10-4 13 0 16 14 6 2-11 12 9 3 13 12 7 6-16 18-4 18 0-2 19-10-6 27 5-2 12-6-3-6 16-18-2-23 13 4 7-2 9 10-1 4 12-1 9 19-5 12 4 3 11-1 4-18-1 6 25 7 25 12-11 7 17 27 0 9-32 0-19 23-4-3-9 18-2 0-23-11-13-4-9-8 3-5 7-20-5-5 0-11-2-10-5-2 19-5 4-19-5 37 20 7 11-14 12 3 16-57-3-3 13 5 15-31 4-14 5-23 11-36-6-4-26-11-21-12 5-17 6 1 9-14-4-28 1 1-29 12-12 12 9 19-1-2-13 19-1 4 2 27-3-6 14 13 1-4 7 0 6 20-4 10-3 1-27 5-8-2-17 21 0 0-12-3 0-8-1 21-3-5 30-4 35 18-3 3-2-6 11-14 21-15-1-29-68-5-12-18 11-30 2-6-1-24 7-13 3-16 7-3-11-6 2-22-8 55-7 23-46-1-57 0-12 16 17 13 10 15-3 2 1-10-13-5-21 7-11 9-2 8 9-1 12 23-7 0-2 17-6 1-6-11-7-16-11-32 0-20-6-4 17-14-26-42 11-1 5-23 4 168-11 0-11 0-4-18-6 47-1 3-8-8 16 22-5 13-1 16-1-1-16 12-3 5 12 6 15 7 3 3 24 11 2 3 7 8-9 2-2 22 1 8 7-18 8 5 6-10 8-5 19-10-3-11-12 1-11-23-4-9-4-5-6-1-10-4-9-5-10-16 21-5 16 12 2 2 25-13 4-16 2-7-18-12-5-6 6 3 32 13 7 26-2 10 4 12-5 8-1 16-16-6-12-11-6 6-7 22 51 15 2 6-5 28-3 0 15-4 9-14 4-19 1 9 10 6 13 20 0 8-6 20 3 8-5 6 14 4 10 14 9 10-9-6-23 5-23 2-17-5-11-18 14 4 5-16 1-8-13-7-16-23-5-5 5 21 28 9 20 17-60 19-6 14-3 7 6 5-12-35-1-19 0 9-18 4-19 9-5 4-9 8 14 1 16 33-30-63-19-13 11-14-12-12-1 2-10 12-14 15-19-48-12-25 26-6 3 13 8 8 5 5 17 15 2-61-29-8 3 4-19-1-31-42 21-14 16-4 4-1 20 36 1 9 0-26 49-5 1-32 109 106-14 9 35 14 36-1 9 42 35 13 11 0 10-27 6 42-43 2-27 43 5 6-94 16-10-4-10 8 36-200 180"/>
</g></g>
<path d="M199.6 558.4C201.5 556.3 203.3 554.0 205.2 552.0C207.1 550.0 209.5 548.4 210.8 546.4C212.1 544.4 212.9 542.3 213.2 540.0C213.5 537.7 213.0 535.2 212.7 532.8C212.5 530.4 211.7 528.0 211.6 525.6C211.5 523.2 212.2 520.7 212.4 518.4C212.6 516.1 213.3 514.0 212.7 512.0C212.2 510.0 210.7 508.1 209.2 506.4C207.7 504.7 205.5 503.2 203.6 501.6C201.7 500.0 200.0 498.4 198.0 496.8C196.0 495.2 193.9 493.5 191.6 492.0C189.3 490.5 186.8 489.2 184.4 488.0C182.0 486.8 179.7 485.6 177.2 484.8C174.7 484.0 171.9 483.7 169.2 483.2C166.5 482.7 163.9 482.3 161.2 482.1C158.5 481.8 155.9 481.8 153.2 481.6C150.5 481.4 147.9 481.1 145.2 481.1C142.5 481.1 139.9 481.3 137.2 481.6C134.5 481.9 131.9 482.4 129.2 483.2C126.5 484.0 123.7 485.1 121.2 486.4C118.7 487.7 116.3 489.3 114.0 491.2C111.7 493.1 109.6 495.3 107.6 497.6C105.6 499.9 103.7 502.4 102.0 504.8C100.3 507.2 98.8 509.6 97.2 512.0C95.6 514.4 93.7 516.8 92.4 519.2C91.1 521.6 90.1 524.0 89.5 526.4C89.0 528.8 88.9 531.2 89.2 533.6C89.5 536.0 90.2 538.5 91.1 540.8C92.1 543.1 93.4 545.1 94.8 547.2C96.2 549.3 97.9 551.6 99.6 553.6C101.3 555.6 103.3 557.3 105.2 559.2C107.1 561.1 108.9 563.1 110.8 564.8C112.7 566.5 114.3 568.3 116.4 569.6C118.5 570.9 121.1 572.0 123.6 572.8C126.1 573.6 128.9 574.0 131.6 574.4C134.3 574.8 136.9 574.9 139.6 575.2C142.3 575.5 145.1 575.7 147.6 576.0C150.1 576.3 152.8 576.9 154.8 577.1C156.8 577.4 158.0 577.4 159.6 577.6" fill="none" stroke="#000" stroke-width="2.8" stroke-linejoin="round"/>
<text transform="translate(179.6,570.1) rotate(-22.0)" y="6.1" text-anchor="middle" font-size="16.67">90%</text>
<path d="M162.0 554.4C164.4 553.9 166.8 553.6 169.2 552.8C171.6 552.0 174.3 551.1 176.4 549.6C178.5 548.1 180.5 546.1 182.0 544.0C183.5 541.9 184.5 539.3 185.2 536.8C185.9 534.3 186.5 531.3 186.5 528.8C186.5 526.3 185.9 524.0 185.2 521.6C184.5 519.2 183.3 516.7 182.0 514.4C180.7 512.1 179.1 509.7 177.2 508.0C175.3 506.3 173.1 505.0 170.8 504.0C168.5 503.0 166.1 502.4 163.6 501.9C161.1 501.5 158.3 501.3 155.6 501.3C152.9 501.3 150.3 501.5 147.6 501.9C144.9 502.3 142.1 502.8 139.6 503.5C137.1 504.3 134.7 505.1 132.4 506.4C130.1 507.7 127.7 509.3 126.0 511.2C124.3 513.1 123.0 515.3 122.0 517.6C121.0 519.9 120.3 522.4 119.9 524.8C119.6 527.2 119.6 529.9 119.9 532.0C120.3 534.1 121.4 536.3 122.0 537.6C122.6 538.9 123.1 539.2 123.6 540.0" fill="none" stroke="#000" stroke-width="2.8" stroke-linejoin="round"/>
<text transform="translate(141.2,551.5) rotate(18.0)" y="6.1" text-anchor="middle" font-size="16.67">50%</text>
<rect x="60.6" y="434.1" width="194" height="187.4" fill="none" stroke="#000" stroke-width="1.1"/>
<text x="51" y="448.08" text-anchor="end" font-size="13.9">4</text>
<text x="51" y="534.6" text-anchor="end" font-size="13.9">0</text>
<text x="51" y="621.12" text-anchor="end" font-size="13.9">−4</text>
<path d="M97.3 621.5v4.9M151.5 621.5v4.9M205.7 621.5v4.9M60.6 442.98h-4.9M60.6 529.5h-4.9M60.6 616.02h-4.9" stroke="#000" stroke-width="1.1" fill="none"/>
<text transform="translate(22.4,530.4) rotate(-90)" text-anchor="middle" font-size="24.3">p2</text>
<clipPath id="c121"><rect x="264.37" y="434.1" width="194" height="187.4"/></clipPath>
<g clip-path="url(#c121)">
<radialGradient id="u121"><stop offset="0" stop-color="#f0f724"/><stop offset="0.17" stop-color="#f0f724"/><stop offset="0.33" stop-color="#f1f426"/><stop offset="0.5" stop-color="#f3f027"/><stop offset="0.67" stop-color="#f5e926"/><stop offset="0.83" stop-color="#f8e125"/><stop offset="1" stop-color="#fbd524"/></radialGradient>
<ellipse cx="346.16" cy="529.76" rx="31.04" ry="27.74" fill="url(#u121)"/>
<g transform="translate(264.37,434.1) scale(.1)" fill="none" stroke="none">
<path class="k0" d="M751 7z"/>
<path class="k1" d="M1940 869z"/>
<path class="k3" d="M360 576z"/>
<path class="k4" d="M333 925z"/>
<path class="k5" d="M1842 846l-1048 1026"/>
<path class="k6" d="M865 131z"/>
<path class="k8" d="M395 1389l203 365 631-509"/>
<path class="k9" d="M114 770l-45 729 847-1239"/>
<path class="k10" d="M1149 1703l-775-1462"/>
<path class="k11" d="M146 476l7 342 1219-326 146-28-234-80"/>
<path class="k12" d="M614 265l182 240-527 287-269 117 457 636 45 94 1139-693"/>
<path class="k13" d="M449 389l-106 258 168 62-220 392 326 267-95 138 377 154 350-112-89-108 29-109 138-759"/>
<path class="k14" d="M62 571l-11 79-1 13 130-112 47 34 103-35 202-101 329 119 374 103 46 358 213-98 52-86-90 328-118 224-227 119-239 207-522-199 2-291-173-130"/>
<path class="k15" d="M396 348l114-43 60-51 60 28-160 192 76 84 322-48 190-159 90-76-24 339 304 24-35-161-40 485-41 100-48 288-144 21-216-41-56 85-131 121 6 57-137-29-42-57-103-10-166-70-105-390-6-13 1359-125"/>
<path class="k16" d="M216 496l-24 204 212-25 119-191 114-42 59 34 61-116-42-64 145 34 21 103 198-117 174 184 46 49-29 45-21 74 5 78 51-5 48-121 202 229-154 182-53 137 16 170-27 37-10 11-156 112-86-164-342 87-187 66-122-94-112-52-177-135 707 363-356-1269"/>
<path class="k17" d="M259 486l78-16 21 20 54 90 53-2 38-55-9-66 13-124 110 175-33 173-351 46-4 207 135 23-256 122 364 405 63 45 71-35 4-3-4-57 268 130 44 47 137-90 115-41-37-55-12-173 150 3 29 151-62-373 48-186-6-87-47 7 96 1 70-9-18 71-3 59-13-348-82-18-14-51 1-17-44-4-17 59-86-76-11-62-111 54-88-65 4 136-185-95 441 327"/>
<path class="k18" d="M298 515l-3 67-24-17-25 20 46 53 9 108 19-7-81 35 18 37 31 80 40-6 19 42 62 20-182-46-91-83 22-64-50 264 165 272 18 38 64-10 34 63 81 26 2-92-16-8 3-18 44 48-28-145-58 41 215 229 77-23 2 82-27 37 207 5-34-72 168 16 8-70 5-34 74-36 95-32 4-91 57 19 40 15-3-40-12-56 17-13 23 6 47-63 57-9 6 51 21-117-72-40-107-16 33 76-32-195-93-38 182-94-60-135-31-92-153 66-60-131-53-32 10-36-58 4 6-46-59 4-101 5 5 43-32 41 2 12-37 45-15 10-32-139-83 72-59 47-34 56 32 46 47 18-226 4-9 8 122-224 384 72 5 16 254-83-3 1096"/>
<path class="k19" d="M349 518l40-38 65-11 12 12 9 95-25 41-53-28-73 106-10 33 32 28 93 15-64 107-97-1-15 10-21 14 62 28 23 103-149-76 94-136-34-35-5-11-44-64 62 518-11 30 54 19 49-2-1 5 81-7 83 32 15 14 3 43-28 12 98-36 13-10 16 119-28 27-20-4 141 0 1 27 19-8-3-50 22 8 20 56 24-18-16 62 65-19 20 17 23-6 7-40-17-9 95-15-5-54 56 3 8-38 53 14 25 2-5 15-33 1 61-100 14-27 12-51 95-2 6 58-36 2-21 45 1 12-32-14 122 0 35-19-10-76 114-100 15-82-38-36-55-12-51 13 130-75 30-4-10-60-101-29-22-113-19-1-3-55-9-129-74-32 3 90-3 5-94-9 21-64-56 14-17-16-22-59 12-73-51-21-38 4-3 30 32 98-4 10-115 1-58 19-89 3-20-35-88 29-33-61-4-27-30-9 71-8-9-61 166 2-18 57 381 226 35 55 28 137-215 443-66 23-262 67"/>
<path class="k20" d="M280 643l54 27 50-13 33-41 1-23 44 31 30-53 3-16-27-62 52-21 57-18 41 23 66-9-6-40 20 0 49 34 2 60 21-3 23-34 96-9 10-27 43-38 133 4 62 37 14 27 23 68 16 28 61 3 0 96-76 5 17 128 69-4 14 22 0 27 22 11 54 2 9 39 42 7-2 11-3 43 49 1-90 27-11 41 46 13-35 129-9 7-12 4-5 51 44-27-104-21-36 47 13 37-30 21-53 13 1 23-25-1-15-14-16 60 48 5-156 27-12 7-44 9 7 21-17 27 32 4-77-20 1 62 18 14-5-132 21 7-15-37-33-9 5-70-75 24-17 139-11 65-106-55-54-17-18-38-9-35 4-9-9-2-37 11-46-3-25 10 14-66 31 5 7-32-7-83-169 2-22-5-48-8-12-7-13-6 10 38 26-58-29-40 86 15-3-37 8-71-7-20-19-28-2 56-47-23-60 18-9-31-13-92 109-67-11-22 1-39 55 36-14 27 50-17 48-13-21 51-42 308-5 106 266 19 32-15-23 96-7 21 523-200 156-57-111-141-11 2 34-49 183-73-13-94-21-5-88-44 38-60-233-91 10-32-45 13-54 54-118-95-19 13-37 38-226 82 486 122"/>
<path class="k21" d="M380 617l3 6-5 40 17 0 31 31-16 52-21 16-28 23 14 27-40-6-1 49 20 39 15 3 15 71-12 29-98-4-26-26 40-56-16 149 39 9 11 43-22 10-48 4 12 47 47 11-4 35 24 2 20-4-13-21 9-37 22 17 25 24 13 13-4 38-6 20 10 11 10 32 26-61 32-26 4 57 24 50 21 21 37-11 6-15-13-17 16-17 81 49 19 1-9 21-10 15-28 5-15 23 22 17 20-4 42 11 23 2 41-15 20-86 42 10 23 44 69 9 4-3 29-11 18-13 15 9 25 1-24 36-33 17-21 2-18 22-79 21 73-168-2-7 140 48 37 5 24-18 10 6 15-28 33 17 39-72 22 19 74-3-19-57-25-5 7 19-77 0 15-84-53 12 18-45 105 31 56 26 5 42 18-166-20-28 4-23-39 8-62 37 152 22 8 10-4-97-5-37-77-38-25-1-13-35-21 7-16-21-17-24 89-16 5-12-29-61-47-3-20-21 16-30-51 1-24 2-15-40-11-15-19-14 6-22 44 5 2-36 15 69 24-13 27 3 49 27 12 14 6-29-210-9-33-7-17 0 8-29-8-34 30-6-13-29-1-28 28 21 12-53-112-1-36-2-11 43-17-5 12 70-43 15-37-2-73-20-65 10-4-75-37 32 0 88-28-27-53 35-66-18-18-2 12-14 12-20 15-39 9-13 4 2 1-18 7 7-15-27 2-13-45 67-52 41-16-8 77 91-24 138-184-77 4-5 64 390 109-11-24 73 252 122 251-696 34-22-7-45-145-82"/>
<path class="k22" d="M424 604l12-9 19 4 6 71 16 1 2-17 10 6 9-18 27-2 12 9 43-18 19-21 21 14 41-37 15-22-9-25 32-25 49-17 35-4-1 9 7 23 21 23-31 14 10 33 43-1 65 40 33-26 59 5 6-1 3-27-32-22 6-29 13 6 10-19 5-26 44 10-10 13 3 15-2 20 17-5 0-6-5 30-30-26-90-19 7-23-43 0-40-3-122 85 35 92 200-31 131-42-1-3 14-17 32-16-2-17 26 50-4 8-9 31 48 17 7 7 14 45 11-7 13-1 2 27 21-6 16 72-4 27-12 29-19-13-8 77 76-11 6-15 9-1 3 20-10 15-26 26 16 21-44 14-9 52 43-12 33-1 7-12-47 54-47 20-13 47 3 16-11 6-10-12 23 23 9 19 26 4 10-6 19-34-28-16-49 72 10 12-25 7-10 21-34-14-40-13-4-21 40-29-1-22-18-3-43-1 82-47 14-42-53-33-7-140 58-86-11-22 28 5-35-64-72 41 224 32-11 17-127 379-20 126-44-20-40 19 4 17-6 38 30-14-68-1-4 8-1 20-20-19-30-5-7-11-5 21-6 6-7 34-44-33 10-13-87 3-3 50 34-1-5 16 37 15-67 13-74-8 1-29 24-2-18-42-34-22-21 3 11 36 5 45-67-22 6-8-11-44-52-2 7-18-20 2-24-34-23-9-43-13-2-53-48-14-32-7 0-12-5 28-5 0 11 35-69-36 6-85 25 15 32 1 29 23 35-48-82-32-29 10-45-10 0-27 6-10 24-13 13-24 4-26-28-21-1-33 12-17 25-10 1-13 20 20 21-26 36-36 16-36-21-58 3-56-33-17-15 3-29 4-11-14-13 25 27 26-8 13-47 5-10-4-8 59-24-5-3-13 18 57 11 15 33-11 7 6-4-41 25-12 47-77-4-83-30 10 137-112-6-14 52 2-7 7 15 16 35-36 13-6-225 517-94-42 11-27-45 44 22 69 313 185 15 8 5 14-11 14-53 72 318-93 109 36 33-10 21 14"/>
<path class="k23" d="M379 701l-7 29 25-10 22 5 1 19 37 3 8-8-20-32-19-8 1-38 8-8 51-37 64 5 10-21 13-4-9-18 13-25 28 6 39 2-7-16 1 41 7 22-4 28-19 16-13-9-24 5-20-3-18 4-9 22-17 30-25-5-5 69-72 23-30 4 11 27-3 25-12 16-32 17 4-55-26-39 93 66 13-10-26 52-5 0 18 18 24-3-16 24-3 32-31-10-4-31-15 12 0 1-40 14 1 3-16 10 58 25 22 17-4 61 8 12-4 17 24 2 22 2-12 46-13 10-39-4 11-13-4-27-10-8-6-11-10-12 17-18 0-4 117-4-18-49 3-57 3-62-17 260 21 34 30 15 23-5-9 55 17 21 7-6 23 8 14-3-6 37 47 21-3 8 10 1 42 18 20 4 4-27 19-1 4 16-20-41-30-3 3-5-50-16 2-44-30 1 20-26 10-34-50-27-13-31-122 71 5 14 22 16 5 38 310 41 24 24 20 12 21-14 13 31 13 9 21-10 6-22 11 1 9-11 35 5-14-29 26-4 20 2 3-15-14-24-17-8-11-7-8-11-9-19-12 46-5 29 25 68-32 31-113-16-20-6-8 5-10 11-6 12 28 19 3-57 256-9-1-50-15 0 4-26 13-18 28 2-14-18-29-8-32 11 2 6 93-35 25-29 35-15 27 3 8 36 14 9 4-24 0-50-13-25 30-3 16 3 11 3 2 15 1 16-17-61 4-24 0-14 6-5-6-15 18-12 25 5-37-27-7 3 13-12-1-7 13-13 2-21-25 0 4-11 29-7-1-12-34-12-15-14-35-2-10 9-23-64-4-1 53 0 2-15 8-3 20 8 3-30-39-8 7-12-12-4-42 2-15 12-41-4 0-66 9-15 3-24-9-16 20-7 10 38 5 20 15 5 34-21-14-29 44 62-141-3-3-43-9-67 5-19-7-41-50 16-11 2-21 18 5 22-38 3-6-14 6-8-3-28-11-2 5-24 20 10-54-16-14 38 2 16 13 23-35 5 4 43-47-37-23-35-19 14-25 2-17 2-14 11 21 8 17-45 14-19 15-3-73-5 7 18-10 5-40 2 15 36 36 65 24 48 37-75 80-86-236 124-23-2-85-86 627 369 0 57 18 25 23-8 17 22-23 17-60 11 20 50 17 58-61 93-20 26 125-326 9-3 15-16 59-94"/>
<path class="k24" d="M471 668l12 29 0 31-9-4-15-2 11 18 36 9 2-18 13 8 4-20 12-11 13 10-5 14 12 2 17-25 14 9 20 0-10-30-23-8-12-24-6 4 22-15 18-3 30-13 11 11 21-31-7-13 28 8 0 15 20 15 5 23 17 2 6-13-9-33-16-22-21-21 53 1 30 59 40-14-7-18 16-4 30 12 1 2 3-34 35-3 3 17 3 39 20-18 27-17 11-26 12 53-20 9-6 8 7 28 26-22 12 5 49-14 14 10 10 21 8-8 12 2 14 23 9 6-28 6-11 14 14 31 2 2 5-2 11 3 17-5 14 0 16-7 10 15 18 0 2 39 19 15-27 17-24-1-1-29 0-17-13 22-14-5-3 25 7 34 3 13 14 0 25-9 30 6 22-1-3-5 12-17 18 3-14 68 1 22-13-4-14 22-13-13 4-24-13-5 12-20 2-4 7 0-48 16-36 9-15-1 10-13 34 77 27 12 13-12 29-3 0 19-10 3-2 10-2 11-20 2-14 41 3 20 13 2 0 3 5 0 18 11 16-25 10 6-52 34-31 0-13 3-1 12-7-41 16-13-7-22-9-26-12 6-36 24 1 79 29 28 2 33 5 36-18-5-1 36 23-7 13-38 36-4-15-25 44-44 9-1-135 61-15 12 13 29-22 6-1 9-21 17-33-3-23-8-18-1-9-11-20 8-9 11-23-1-21 8 1 7-12 20 0 9-17-10-18 34-29-7-4-21-8 2-21 7-12-10 10-12-18-14-9 1-2-4-11-11-34 9-9-5 9-22-19 0 1-30-18-2-38 6 2 5-17 4 1-15 1-11-6-12 25 5 5-10 4-27-6-7 20 1 54 9 8 13 10-1 83 64 10 16-10 13 4 6-24 3-8 59-50-9-70-68-2 0-29 8-7-15-3-12-26 5-5-10-1-26-11 10-19 1-8-39-5-13-26 1-7-2 3-19 16-10-6-18-35 2-7 4 1 7-6-17-15-24-7-11 4-9 11-6 11 11-27-19 1-18 1-16 0-25-10 6 21-15 11 7 7 19 0 13 5-53-14-9 11-12-7-29 7-12 16 10 21 6 18 0-18 29 0 18 7 70 19-6 0 30 31 0 46 28-15 26-7 7-101 54-12 4-16-31-49-175-14-8 41-35 10 1 9-44 1-11 35 16-24-57-28 5-13 5-11-24 14-14-13-19 39 1-5-8 23 10 18-12 12 23 50 23-15-148-5-1-6-3-6 7 3 6 15-56 160 69 84 14 21 5 13-47-2-29 25 2 1-11 17 3 34 31 73 61 17 16 9-8 17 2-17 34-32-9 83-8-1-80 0-71 7-4 1-13-46 10 0 1 126 110 123 213 0 53 0 6-238 199-53 16-20 0 33 22-18 45-17 18 8 18 11-1 8 11-47-15-12-10-3-1-33 37-3 16-8 14-12-135"/>
<path class="k25" d="M555 695l-7 39-7 15 24 7 14-6 23-7 3-9 11 27-28 15-12 14-18-4-10-6-13 0-8-13-5 26-15 10-11 19 0 21-31-3 1-6 8 27 8 2 11 35 8-4 1-2 3 4 6 8 7-28 3-23 5-26 3-9 13 13 11 7 14-30 9 6 12 14 17-2-10 20-24 34-21 3 9 43-37 4-16 21 4 8 4 23 9-7-15 36-7 5 16 8 12 28 8 29-27-1-11 9 19 6 8 26 9-9 17-5 3 1-1 23-22 4 2 19-10-4-23-27-1-4-23-36 11-20-1-23-14-9-10-5 1 20 24-49-3-61-14-3-6-35-13 70-10-7 143 79-6 6-2 16 3 7 2 3 31 5-4 19 2 9-6 21 32 10 11 9 4 21 15-2-2 17 13 13 25 1 0 7 4 9 5 2 34-1 5-10-12 29 9 11 16-1 12-19 12-15 6-5 7 14 32 4-6 29 11 4 18-5 13 17 7-32 26 4-4 11 10-26 8 6 9-20 5-18-26-15 6-29-1-21 29-20 31 64 15-12 17 14-5 7-9 15 20 1 6 9-5 6-22 7-6-3 55-20 9-18-25-15 26-26 6-16 8-13 10-3 27-4 4 14 8 6 13 8 31-19-14-65 8-9 8-6 37 0-42-38-11-5-11-5-6 0 10 22-18 3-23-12 0 45 4 29-10 12-29-32-2-44 12-31 30-39 19-6 11-2 8-14 16 8-10 17 7 7 9 30 16-6 9-33-24-71-2-22-19-21 2-28-47 11-7 17-4 18-4-1 27-7 12 8-1 33 11 2-13 25-1 4-3 4-30-4 10-33-30 2-5-13-7-5 6-40 8-2 9-2-9-16 8-12 2-7 9-12-3-7 1-13-32-3 2-30-23 5-8 5-3 8-7-4-16-13 6-15 7 0-5-19 13-3-4-17 12-2 6 12 5 4-3 10 5 3-56 2 2-16 3-4 12-7-1-19-67 2-13 14-15 3-4-13-25-4-6-16-6 47 10 6-1 18-25 10-18-10-6-14 8-8 2-26 16 11-51-3-15-13-24 8-5-1-3-9-4-14-41 9 2 15-8 15-19-4-5 10 0 17-21-3-12 6-15 5 2 3 9 21 36 15 22-1-7-15-7-13 25-21 11-9 14-3 4 5-2 6 5 11-8 3 0 29 2 29 52 3-14-42 3-11 0-28 28 8 5 6 92-14 30-4 17-6 13 19-1 8 10 11 1-28-44 15-3 15 8 15-23 8 8 10-40 0 114-11 40 19-11 12 44 1-27 42-32-9-9 10-316-22 1-19-12-2 19-126-181 141 78 368-13 20 23 9 32-6-3-9 22 34 48 33 18 15 20 5 26 16 44 15 10-7 8-16 17 17 30-72 9 4 28 0 163 0 25-21-9-23-12-11 24-7 20 21 13-111-402 117-24-23-6 120-16-15"/>
<path class="k26" d="M532 799l20-7 12-2 15 10 4-4 15 15 21-4-5-6 4-17-13-4 33 0 6 28 13-5 0 13 12-10 10-28 7-22 7-4 14-4 0 33 26-2 0-24 13 1 8 5 36 3-11 17-9 23 1-68 6-3 6 3 22-7 3-22 5 0 14 16 16 6 5-15 26 0 2 5 7-15 16 16 1 34 24 3 24 0-2-3 1-6-13-9 12-33 1 74 2 10 13-7 11 3 0 11 3 6 7 5 2 16-3 6 10 2 3-6 29 2 9 15-16 10-1 7 8 5 12 4-1 6 3 7 16 7 6 4 8 23-22 2-23-2-5-24-13 3-6 6-10-14 14-10-7-12-26-46-10-10-14 16-49 21 12 46-1-106 7-14-21 6-10-5-5 0-4 12-5 13-13-15-15 5 5 21-19-35 12-23 25 0-1 15-2-30-44 9 17-68-91 49-4 5-15-23-14 9-40 29-9 4-8-4-2-11-10 6 0 6-12-3 15-37-67 51-4 97 24-1 14-13 12 17 20 17 1-33-18-20 63 20 24-7-136 44-5 11 12 14 14 14-27 4 8 16-9 22 12 8 9 7 16 15 5 6 13 11 13-6-25 21-9 15-1 15 3 14 13-8 2 21 3 31 3 0 2 11 11-9-2-14 18 2 23 3 5 7 13 18 15 7 20 10 16 2-1 10-7 10-4 12-8 15-10-31-46-2-3-30-23 2 5-9-3-60-7-9 23 3-5-19-33 1-34 4-3 0-30-6 5-21-24-3 2-9-23-9 14-21 19-5 3 7 14 8 13 17 11 8 14-61 16-4-1-14-71 22-19-4-5-21-3-10 10 0 12-16-20-7 5-20-17-14 36-1 18 224 13-5 122 6 11 14 5 3 17-30 38-25 17 52-8 25 26-7 26 3-11 23 1 12 12 13 7-1 10-7 10 6 10-9-6-8 16-12-5-14 45-2 2-10 2-10 0 30 14-4 7 5-6 7 16 9 16-9 13-2-2-14 12 1 6 13 25 2 10 3-16-16 6-20-8-26-13-11-21-3 1-30-16-14-14-3 8 30-9 29 6 19 2-1 13 3 14-7 6-2 8 3 35-18 2-11 15-5-4 21 22-2 9-13-2-3-56-5-4-13-5-22-3 3 5-10 0-26 18-4 3-22-9-15-1-10 28 1 11 8-5 20 27 3 25-1-3-11-14-12-10-12-5-10 33-19-44-55-14-11-14-45-26 7 2-24 4 1 1 1-36-5 18 174 3 16 53 35-4 23-11 4 43-18 6-15-33 115-100 7-35 38-12-8 2 24 7 6 14 0 6 6 3 9-61 4-6 2 4-13-16 1-9 3-21 0-15 2-10-9-16-4-5-7-2-8-14 7-20 4 2 13 19 9 26 12 14 26 8-4 18 11 21-18 13-6-1-5 19-47 8-4-150-10 5-6"/>
<path class="k27" d="M634 840l14 24 10 4 12 0-1-21 1-15 9 4 11-11 17-7 6-2 5-21 21 4 22-1-7 10 9 10 4 12 8 0 6 8-9 4-4 5-6 8 1 14-2 7 19-3 4-22 23 2 7-2-4 10 6 2-13 6 0 25 0 5 17 0 0-2 18 5 5-13-10-5 18 13 0 13-5 11-4 23 8 4-28-1-11-5-24-2 2-3-19-2 2-4-5 16 0 7 27 3 7 6 1 21 11 1 3-1 8-10 10 4 6 12 13 5 11 3 3-10 9 8 12-8 2-18-7-8-5-11 12-18 5-4-6-12 0-25-3-8-1-15-1-11-12-6-3 18-2 19 7 6 25 6 14 3 7 5 7-6 2-6-2-28-3 2-8-5-14-2 25-10 20 0 23 6 9-3-8-29-33 5-22-3-17 1-17 2-5 0-2-15-21 4-16-4-7 1-2 1-1 22 17 5 0 9 15-14 30-38 17 6 18-8 4 13 3-33-30-13-20 20-43-15-16 15-27-6 4 24-3 17-13-3-32 12-19-8-1 20-2 1 6 16 4 18-17-1 5 7 4 15 20-7 2 25 1 4-8 11-7 3-25 8 0 14-15-9-8-1 8-14-10-15 6-7 1-14-10 1-14 3 6-12 10-6 9-6 6-12 4 26 0 25 9 5-51 1 3 20-8 4-3 9-3-1 9 13-15 12-19 2-10 0 2-14 1-17 13-26 5 1-2-24 9-8 8-11-40 3-8-8-12 4 17 22 68-48 3-51 67-28 19-4 41-16 9 162-23-5-15-11-11 1 6 76 3 3-25 6-15-6-12 3 1 13 12 8 13 2 14-4 22 6 8 8 13 1-5 12-3 3-5-1 22 1 2-5-6 13 25-6 7-4-4-9 10-11 7-6 1 24 0 9 13-11 12 7 6-10 8-8 20 1-7 9 12 12-5 14-28-3 10 17-23 0-23-1-6-10-9 19-16-7-4 24-20-3-3-5-16 10-16-1-5 25-20-3 2-15-17-1-4-14 2-17 6 0-3-11 10 3 7-13 11-17 9 4-2 27-2 4 16 7 24-12 38 40 12 1 13-13 29 2 8 4 0 11-11 5-14-2-5 16-27 5-13 12-15-12-24 10-92-44-15-4-5-1 3-13 1-14 8-11-11-14 13-11 0-13 15-1 2-12-3-16 11-6 14-13 15-2-55 13-2 5-9 4-14 20 2 8-17 5-17 2-2 11 17-33 2 83 58-24 13-25 100-36 39-33 7-37 45 5 7 0 11 13-6 21-18 3 4 6-1-23-4 47-18 6 54-3-4-8-1 25-1-1 22-6 3-23 13-5 22-1 3 1-2-12-8-6-1-27-5-8-4-7 8-3-14-12 4-11-21-17-22-10 13 37 7 16 5 5 9 7 2 18-11-6-6 14-1 12 39 35 8 15 11 9-15 10-27 12-12-7-3 3-4 13-11 11-8-1 0 13-1 7 86-155-2-11-5-54"/>
</g></g>
<path d="M298.4 552.0C297.3 549.9 296.0 547.9 295.2 545.6C294.4 543.3 293.9 540.8 293.6 538.4C293.3 536.0 293.0 533.6 293.1 531.2C293.2 528.8 294.1 526.4 294.1 524.0C294.1 521.6 293.1 519.2 293.1 516.8C293.1 514.4 293.3 511.9 294.1 509.6C294.8 507.3 296.2 505.2 297.6 503.2C299.0 501.2 300.7 499.3 302.4 497.6C304.1 495.9 306.0 494.3 308.0 492.8C310.0 491.3 312.4 490.0 314.4 488.8C316.4 487.6 318.0 486.5 320.0 485.6C322.0 484.7 324.1 483.7 326.4 483.2C328.7 482.7 331.2 482.6 333.6 482.4C336.0 482.2 338.4 482.2 340.8 482.1C343.2 481.9 345.6 481.8 348.0 481.6C350.4 481.4 352.8 481.1 355.2 481.1C357.6 481.1 360.0 481.3 362.4 481.6C364.8 481.9 367.3 482.3 369.6 483.2C371.9 484.1 374.1 485.6 376.0 487.2C377.9 488.8 379.2 491.1 380.8 492.8C382.4 494.5 384.0 496.0 385.6 497.6C387.2 499.2 388.9 500.5 390.4 502.4C391.9 504.3 393.3 506.5 394.4 508.8C395.5 511.1 396.4 513.6 397.1 516.0C397.8 518.4 398.4 520.8 398.7 523.2C399.1 525.6 399.3 528.0 399.2 530.4C399.1 532.8 398.6 535.3 398.1 537.6C397.5 539.9 396.6 542.0 396.0 544.0C395.4 546.0 395.2 547.6 394.4 549.6C393.6 551.6 392.5 554.0 391.2 556.0C389.9 558.0 388.1 560.0 386.4 561.6C384.7 563.2 382.8 564.4 380.8 565.6C378.8 566.8 376.5 567.9 374.4 568.8C372.3 569.7 370.0 570.4 368.0 571.2C366.0 572.0 364.3 572.7 362.4 573.6C360.5 574.5 358.8 576.0 356.8 576.8C354.8 577.6 352.5 578.2 350.4 578.4C348.3 578.6 346.0 578.4 344.0 578.1C342.0 577.8 339.9 577.0 338.4 576.5C336.9 576.0 336.3 575.6 335.2 575.2" fill="none" stroke="#000" stroke-width="2.8" stroke-linejoin="round"/>
<text transform="translate(316.0,565.3) rotate(30.0)" y="6.1" text-anchor="middle" font-size="16.67">90%</text>
<path d="M374.1 520.0C374.5 522.4 375.3 524.8 375.2 527.2C375.1 529.6 374.3 532.1 373.6 534.4C372.9 536.7 372.4 538.8 371.2 540.8C370.0 542.8 368.3 544.9 366.4 546.4C364.5 547.9 362.1 548.6 360.0 549.6C357.9 550.6 355.9 551.7 353.6 552.5C351.3 553.3 348.8 554.1 346.4 554.4C344.0 554.7 341.6 554.7 339.2 554.4C336.8 554.1 334.3 553.4 332.0 552.5C329.7 551.5 327.5 550.3 325.6 548.8C323.7 547.3 322.1 545.2 320.8 543.2C319.5 541.2 318.7 539.1 318.1 536.8C317.5 534.5 317.1 532.0 317.1 529.6C317.2 527.2 317.8 524.8 318.4 522.4C319.0 520.0 319.7 517.5 320.8 515.2C321.9 512.9 323.2 510.5 324.8 508.8C326.4 507.1 328.7 505.7 330.4 504.8C332.1 503.9 333.6 503.7 335.2 503.2" fill="none" stroke="#000" stroke-width="2.8" stroke-linejoin="round"/>
<text transform="translate(357.6,502.4) rotate(27.0)" y="6.1" text-anchor="middle" font-size="16.67">50%</text>
<rect x="264.37" y="434.1" width="194" height="187.4" fill="none" stroke="#000" stroke-width="1.1"/>
<path d="M296.7 621.5v4.9M393.5 621.5v4.9M264.37 442.98h-4.9M264.37 529.5h-4.9M264.37 616.02h-4.9" stroke="#000" stroke-width="1.1" fill="none"/>
<clipPath id="c122"><rect x="468.14" y="434.1" width="194" height="187.4"/></clipPath>
<g clip-path="url(#c122)">
<path d="M468.14 621.5V620.97H472.02V621.5H475.9V621.5H479.78V621.5H483.66V621.5H487.54V620H491.42V620H495.3V620H499.18V617.85H503.06V617.85H506.94V615.7H510.82V608.18H514.7V601.74H518.58V596.37H522.46V581.33H526.34V579.18H530.22V561.57H534.1V538.79H537.98V534.07H541.86V494.97H545.74V482.94H549.62V457.16H553.5V485.73H557.38V456.3H561.26V443.84H565.14V457.16H569.02V477.79H572.9V477.79H576.78V472.85H580.66V505.71H584.54V510.01H588.42V535.79H592.3V550.18H596.18V563.07H600.06V577.03H603.94V591.64H607.82V600.66H611.7V611.83H615.58V607.11H619.46V617.85H623.34V619.57H627.22V620.43H631.1V620.43H634.98V620.43H638.86V621.5H642.74V621.5H646.62V621.5H650.5V621.5H654.38V621.5H658.26V620.97H662.14V621.5Z" fill="#808080" stroke="#000" stroke-width="2.6" stroke-linejoin="miter"/>
<path d="M525.98 621.5V434.1M563.72 621.5V434.1M600.95 621.5V434.1" stroke="#000" stroke-width="2.78" stroke-dasharray="10 4.8" stroke-dashoffset="-0.9" fill="none"/>
</g>
<rect x="468.14" y="434.1" width="194" height="187.4" fill="none" stroke="#000" stroke-width="1.1"/>
<path d="M507.35 621.5v4.9M563.6 621.5v4.9M619.85 621.5v4.9" stroke="#000" stroke-width="1.1" fill="none"/>
<text x="469.04" y="420.5" font-size="20.83">p2 = 0.00514</text>
<text x="613.35" y="411.54" font-size="14.58">+1.65482</text>
<text x="613.35" y="426.24" font-size="14.58">−1.67708</text>
<clipPath id="c130"><rect x="60.6" y="631.05" width="194" height="187.4"/></clipPath>
<g clip-path="url(#c130)">
<radialGradient id="u130"><stop offset="0" stop-color="#f0f724"/><stop offset="0.17" stop-color="#f1f525"/><stop offset="0.33" stop-color="#f1f426"/><stop offset="0.5" stop-color="#f3ee27"/><stop offset="0.67" stop-color="#f6e826"/><stop offset="0.83" stop-color="#f8df25"/><stop offset="1" stop-color="#fbd524"/></radialGradient>
<ellipse cx="151.84" cy="727.84" rx="34.76" ry="33.09" fill="url(#u130)"/>
<g transform="translate(60.6,631.05) scale(.1)" fill="none" stroke="none">
<path class="k3" d="M1752 698z"/>
<path class="k4" d="M713 1680z"/>
<path class="k5" d="M254 429l560 166"/>
<path class="k7" d="M1875 895z"/>
<path class="k8" d="M1600 434l-816-403"/>
<path class="k9" d="M751 0l959 247 230 522-364 461-137 256"/>
<path class="k10" d="M1198 34l-289 1304-591 393"/>
<path class="k11" d="M671 300l-231 680-440 312 963 241 865-725-61-446"/>
<path class="k12" d="M556 72l240-25 215 30 149 127-604 475-67 492-205-11-204-335-27 7 790 1042 935-441"/>
<path class="k13" d="M408 284l-32 378 984-62-81-279 474 290-79 224-2 475-192-47-355 176-267 248-85 4"/>
<path class="k14" d="M400 486l302-254 260-105 43-4 87 306 497 481 16 230 136-8-408 102-106 245 32 45 230 38-353 122-204-126 10-144-826-142"/>
<path class="k15" d="M320 390l-12 217-43 83-61 88-13 9 62 149 233 225 138 181 24 272 200-32 182 82 102-242 367-457 157-104 151-20-5 362-226-647-668-266 9-123-285 15"/>
<path class="k16" d="M296 358l-45 157-54 186 153-10-68 89 12 210 77 23 70-15 12-30-77 215 17 147 25 3-193-176-115 71-30-236 724 370 21 117 58 15 175-2-13 171 47 2 307-157 72-102 28-85 121-140-262-422 76-193 72-140-233 5-518-172-51 1311"/>
<path class="k17" d="M182 583l171-79 117 49 13 43 32 96 9-308 19 2 40 43 14-202 237 42 112 159 385-35 26 7 50 18 119 109-21 57 116-19-39-83 2 373-17 139 59 18 43-82-5 213-28 141 0 26-46-72-61-6-20 75-171 130 2 175 71-61-231 95-25 17-221-21-6-68 119-91-13-88-338-55-19-77-154 31-113 35 23 34 74 70 91 59 70 100 101 111-328-555-80 48-18-3-83-16 27-211 31-52 40-42-143 6-8 47-43 68-54 13 1179-740"/>
<path class="k18" d="M350 449l-22 146-24 80 118 151 147-110-57-207 47-78 41 33 132-36 61-100 44-4-30-90 94 25 15 9 70 19-69 106 21 151-38 14 200 31 75-34 15-11 48-98-5-95-57 56 189-7 124 22-4 104 17 7-30 6 66-57 44 320-18 126 9 31-22 6 94-17 41-2 7 17 6 146-34-2-92-2-112 80-53-19-7 42-65-15-58 34 4 188 21 60 52-86 130 46 198-124-15-60-203-251-87 19-3-263 329 21-527 753-98-19 2-34-78 18 6 48-3 22 19 44-69-17-82 41-121-33-115 1 26-41-117-21 43-53 227 43 75-37-91-93-93-132-264 36-46-35-39 26 5 41 9-125 77-3 7-99-45-20-3 53-71 23-64-18 28 86 10-198-91-39-60-31-12 106 26 11-50-262 489-546 380 1430 76-31"/>
<path class="k19" d="M257 620l-12 21 74 28 107 13 13 41-14 15 46-120-3-151 36-31 88 67 19 49 87-61-4-24 31-107 45 33 97 32 22-10 117 16 1-43-43 98-44 59 72 119 216 111 158 3 53-41 9-103 24 9-60-8-28-54-37 29-27 1-33-88 88-26 15-91-10-25-55-19-91 38-98-60-13-2-19-33-247 17 10-60-213 20-32 702-166-45-21 4-45 8-65-1 10 57 47 50 10 49-39 61 41 63 53-36 4 75 74-2-33 96-26 0-16-10-26-30 218 34 51-68 137 54 28 23 0 54 74-44-10 155-81 34-28-64-63 18-38 5-27-32-46-18-69-15-15 39 69 53 4 4 32 17 82 40 169 62 123-43 0-132 140-6 20-40-52-38-13-19 31 164 47 2 83-47 31-15 36-44 83-75 70-14-100-71 19-50 38-20 32-73 67-7 18 47-29-168-75 50 57-190 47 34 94-68-2-18-14-12 23-79-32-19 44 257-434 339-748-205-282 17 4-100 5-5-42-1 19-124-7-58 125-16"/>
<path class="k20" d="M488 447l11 85 37-16 30 41 72 22 15-89-7-30 39-73 36-15-11-38 13-32-96 21 247 7-1 61-30 15 0 21-9 32-19-47-64 108-6 27 234-49 31-24 35-11 25 10-10-49-11-72-70 47-38-58 100 181 122-7 90-11-7 43 35 21-1 2 74 14 37-32 33-43 13 6 53 102 47 56 39 16 3 80 23-12-72 34-83 23-4 77-29 77-37 47 49 66 58 16 27 67-28 33-15 57 7 74-34 71-139 5-16 8 26 30-11 42-49-1-60-7-26 44-31-10-62-25-4 51-48 32-88 28-21 8 68-118 48-51 21-1-65-83 125-52 151-69 20-18 13-6 52 27 15-4 30 6-28 31 195-249 1-47 67 12-12 22-260-190 16-111 33-47-133 72-154-125 107-165-8-87 83 32 28 6-15 93-829 154-39 5-58-7-16-6 1-20-14 105-18 16-20-46-5-11 89 31 56 33 94 15-192 38 18 146-83-1-16 21-15 78-58-42 164 62 53-12 48-33 81 1-126 124 2 40 25 8 3 66 28 14 16-18 40 19 50-36 44 87 8 24-37 61 21 80 4 48-43-25 88-7 77-38 46 28-20-122-6-40-300-20-31-2-22-3-15 9-36-14 54-30-10-11-72-37-16-2-13-81-31 24 178 227 31 33"/>
<path class="k21" d="M410 598l0 30 21-1 1-50 62-15 19 13 12 24-4 12-6 10 38-30 48-34-32-61 13-33 3-15 59 28 5 15 14-54 15 2 22-50 55-7 19 31-4 23 39 0 9 41-28 16-56-9-3-10-40 79-152-35 7 164 25 0-53 50 38 42-67 16-2 66 46-21-128-4-17 24-47 0 5-20-19-40-27 26-27 29-29 7 4-46 17-22-14-20 51-14 5-45 62 24 3-50-1-28 32 21 38 32 6 312-61-36-64-4 2-4 17-45-60 74 102 58 25 19-45 14 5 11 33 46-21 47 70 30 14 12 58-4-16-49-4-96-25 3 119-98-3 214 1 55 9 39-33-8-2 30 8 7-14 3-10 2 4 17-16 9 56 4 39 19 46-20 58 9-2-29-32 67 24 33-17 23-5 1-15 36 44 22 1 7 52-14 1-12 40-26 7-24 40 56 11-2 6 16-38 9-8 34 130-4 44-28 21-22 34 0 42 0 9-2 64-20 18-26-28-20-6-27 12-19 19-47 61-36 34-31 54-7-4 46 37 24 38-25 91-81 15-38 15-15 6-55-18-12-32-23 50-23 4-43-14-35-31 0-11 5-15-67 1-4 32-8 61-74-129-30 32-36 9-44-46-55-14-4-60-7-12 34-4 10 18 2 10 0-15-94-40-19-8-36-59-5-23 14 26-49-39-17-41-13-11-6-50-12-20-30 55-22 53-43 40 50 38 13 37 1-1-8 4 31 120 74 11 86-153 29-33-42-149 28-21-95 38-26-106 4-9-3-82-33-27-47-46-4-15-4 3 15-58-94 111-36 39 50 72-1 29 6 47-11-94 45 371 415-6 44 23 64 19 60 1 46-23 102-10 47-50-19-9-24-27 10 8-29 27-13-50-61-2-108 182 233-223 236 0 6-190-5 9 49 4-1-30 5-8-8-84 5-4 37 38-122-108-23 197 195 4-4-556-249-9-20-32 37"/>
<path class="k22" d="M595 451l58 23-1 8 13-61 10 7 63 1 4-6 20-16 37-9 22 48 7 8 10-2 28-1 36-9 58 2 8 25 8-46 12-3 27 22 29-3-4 48 30 11 20-31 20-32 16-8 22 6 8-16-56 4-20-23 42 102 11 18 17 50 12 24 52-5-3 26 25-8 16 22 22-19-19-43-5-40-38-46-13-2 24-29-29 114-100-11-10-3-17 27-85-11-28 1-13-3-19 4-14-39-14-27-41 4 1 12-11 6-1-21-38 9-21 10 0 9-25-40-38-17 1 84 3 36-32 5-45 6-47 5-14-2-2-14 19-1-57 3 25-41-5-8-44 6-1 98 8 26-22-2-17 30 8 11-14 56-30 20-20-24-16 9-27-8-24-2-7 54-33 21-8 37 14 11-56 34 29 52 20 0 52-31 27-6 35-18 43-3 58 3 8 60-49 37 32 57-55 55-26 35-13-8-20-3-10 25 32 62 24 15 12-22 23-14-12-14 41-19 21-7 31 2 25 33-18 46 37 5-22 63-21-21-31-27-6-48-27 22-31 20-7 0 128 96 44 12 10 10 38 22 18 26 23 18 32 1 29-1 17-23 17 14 9 25 6 3-1-8 9 19 27-19 51-5-7-23 56-6 77-9 14 0 12-13 26-6 12-40 4-18 8 28 20 3 9-13 9-31 36 9 17 14 22 50 54-36-9-30 8-18 26 2 22-47 3-34 32 25 14 51 70-37-29-43 7-57-27-10-42 8-13 16-57 9 34-56 22-27-12-15-24-5 41-29-2-20 52 14 7-31-11-15-23-26-50 2-42-39-39-15 67-39 60-1 91-9 16-14-3-10-26 0 27-26 22-9 4 106-27 16 15 85-48 37 17 34 5 34 5 4-11 44-55-78-139 24-47 90-21 28-69-58 0 227 16-9-39 34-38 7-53 27-61 32-45 10-120-19-60-113 121-18 54-25 133 50-388-77 39-44-9-569-97-5-11-74-9 5-98-28-3-6-26 48-29 11 2 3 10 31 9-7-31 35 43 104-132 229 489-582 60-71 62-9 70 102 317 6 14 17 13 41 4 4-24 14-7 102 12 17-25 2 58 16 35 61 8 7 36-2-11-35 18-83-35-35-187 39-39 49 90 130 53-41"/>
<path class="k23" d="M445 708l3 0 0 2 6 5 17-19 5 35 23 6 35 7-1 3 34 10-4-55 6-12 25 0 0-30 13-31 22 11 21-26 14-3 18-5-5-29-5-16-7-14-11 7-5-13-23-8-5 30 23 14 73 8 27-20 24-15 34-1 2 9-15-34 1-51 34 19-72 7-29-22-17 29-11 15-19-43 215-2-1 36 7 7 21-12-1-14 18-1-1-18 18-4 49 11 5 54-11 12 34 3-19 20-33 1 3-47 68-11 41 0 3 12 13-1-3 6 12 2 22-19-3-4 12 42 77 4 13 6 9 13-12 36 7 32 16-4 28-16 1-5 22 2 8 31 10 27 6 3 2 44 50 2 20 3 21 19-30-63-22-19-87 0-44 24-15 34 11 34 55 19 21 12-2 15 68-4 12 37 14-1-3 15 46 4 15 26 7-5-24 33 6 8-40-6-19-2-30 20 0 23-7 16 2 33 37 3 38-23 3-9 17-9 10 16-16 67-17-1-11 49-6-1-15-5-8-12-35 2-24-2 6-13-9-22-6-85 17-7 19-85 3-2-224-3-42 163 38 173 88 17 20 8 9-22 18 50 2 27 9 18 1 27-24-12-20-11-37 26 0 19-6-5 3 14-19-6-25 1 3 18 4-36-31-5-10 48-32 4 0 10 1 7-16 1-11 12 26 20 15 13 26-25 16 12-120-2 33-64 24-49-115 67-12 11-20 1-1 12-24 3-9 4 5 21-20-2-1 11 6 25 9-5 20-6 21-9 7 7 15 61-101-52-43-11-9-15-22-32 26-23 32 11 8-19 27-24 56 21-136-22-39 19-35-2-1 14-19-1-22 7-5-40-1-6 3-8 25 6-5-21 19 5 7-15 1 44 14 44 7 33-23 8-87-66 8-47-3-8 21-2 4-19-1-22-8-22-19 7-9-22-9-6-16 22-17 4-16 7-14 0 11-19-30 1-13-36-14-2-12 5 56-2-10-34-8-17-14 10-27-23-32-10-19-16-15-6 4-45 18-7-24-31-12-12-3-18 35-1 13-11-17-53-36 0 1-21-12-2-10-7 14-19 26-16 10-19 17-20-3-14 0-16 15-14-17-30 2-2-30 40-12 17 22 5-29-32-22 45-20 1 30 21-46 24 14 108 10 10 11-11 15 56 13 35 102-7 23-1 28 26 31 48-11 41 22 0 4 17-5 97-27 25-5 4 264-12-57-63-102-108-88-148-89 49-20-130-3-34 58 13-22-64-5 0-5-145 21-5 19 14 0 20-11-63 2-4 18-32 51 118 105-11 59-93 72-25 75-9 2-27-5-5 148-102 33 6 99 48 20-11 12 14-4 10-3 114-8-7-25-1 4 39-27 0-26-29-27 12 195-74 41 551-3 38 0 16 50-6-9-30 8-15 20-7 9-6-5 127-27 9-17-9-3-3-11 14-23-1-2 37 16 0 10-4"/>
<path class="k24" d="M648 543l36-13 21 33 16 9-1 28 5 6 13 8 15-6 16-9 2 17 17-9 11-14-15-14-1-21-17 12-13-18 38-38 30-7 3-8-8 37 14 26 2 20 17-9 20-13-7-14 2 52-8 7-20 12 38-27 15-15 4 28 9 11 28-16 36 13 19-3 21-6-7-21-8-12-38 0-2-46 21-2-6 12 31 2 33 16 16 9 16 25 11 2 6 9-9 15 26-1-6 15-7 18-21-1 5 35 9-7 26-4 16-36 4-6 33-1 3 9 8 20-17 8-13-56 3-12 7-17-19-13-41 7 4 11-43 21-14 10-7-21 40-57 113 42-4 23 13 4 22-20-9 60 22-3-1 20 0 11 36 19 1 8-4 14-20 18-19 19 45-3-2 15-4 22-14-3-9 7-34 38 45 38-9 14 36 15 30 16 8-2 7-11 8-3-5-26 19 1 21-9-1-30-13 0-29 4-11 9-16-8 15-40 30 2-9-31-14-8-12 2-5-15 15-29 27 38 60 86 2 46-3 29 28 16-39 37-2 0-22-11-35-5-6-6 27-22 15-31 15 106-16 20-2 11-6 12-5 1-43 2 0-11-13 21 0-52 24 2-42-15-23 2 6-66-39 137 29 38 22 35 2 24 4 19 18 5-6 20-53 1-5 43 1 12 8 18 20 1 33 4-5-16-77-15 2-19-17 7-29-29-8 81 1 5 2 6-20-2-2-13-8 3-11-12 5-20-2 62-4 22-22-12-4-17-4-10-24-11-4-20-22 7-1 25 12 11 14 14 6 16-21 5 9 27-21 12-22 2-3 10-12 9-6-18 4-15-10 0 7-37 16 4 12-11-8-17-11-14-27 6-30-5 0 31-13-1 1 7-19-5-17-8-14-9-13-13-23 4 2-21-18 10 15 36 3 18-9-1-21-12-40 1-2-33-28 12-11 16-7-5-25 6-22-27-1-2-7 5-9 1-28-24-9-16 30-8-3-45-5-10-7 3-18-18 11-15-25 1-38-23-19-5-10-16-21 1 4 11-29-11 19-20-8-24-12-17-22 1 1 19-18-8-20-3 10-14 13-10 23-2 11-6 33-6 15 29 10 9-10 12 3 13 9 7 57-2 34-15-21-24 50-19-2-98-70 61-79-30-39-2-4-14-14-4-5-26-10 9-15-31-12-1-4-10 17-27 24 0-1-19-12-8 6-35 9-8 2-7 37-2 9-24-4-20-10-5-28 8-47 46 80 41 41-1 17-11 0-17 0-8-9 4 23-3 17-14-9-27-22 19-20-3-2 9-14 78 30 28-72-10-5 32 16 18-17 78-21-10-31-27-25-15 30 80 112 143 32 21-7 15 57 3 71 17 9-9 12 13 20 47 7-7 58-45 108-19-13-26-1 86-8 96-8 19 41-12 0-4 35-30 16-18 48 21 73-4-94 79-11-177 34-9 187 36 118-116 28 11 11-39-23-13-39-2 5-37 54 0 26 10 1-44 31 4 3 1-17-45-1 126-308-417-26 10-48-15-20-7-13-10 20 35-68 1 37-98-74-81-91 114-68-1-5-24-16-10-28 11-15-14 20-13-28-22-4-3-5 5 20-15-37 39-19 4-5-21-20-1 1 9 12 28-14 11 4 9-3 8 0 14 6 18 21 15-31 14-32 0 4-11 10-54-50 21 145-2-25-25 60 5 12 46-100 66 171 588 18 32 22-16"/>
<path class="k25" d="M612 688l26-2 12 16 20 3-2 14-14 11-7 11-8-3 2 19 14-7 14 15-9 10-26 15-33-5-9-5 7-7 10-11 0-18-1 1-31 3 8 18-4 54-2 2 6 13 7 19-10 7-11-5-24 22 4 8 5 32 20-4 2-10 26-6-7-19 17 2 2-18 9-14 22 4 15 20-20-51-30 7-9-17-68-1-4 7 11 10-25 36-14 5 6 29-11 44 1 17 19 1 25 5 5-3 26-1 20-5-3-23 27-2 0 34-1 42-51-3-3 0-4-24 4 53 6 7 2 10-9 16 20 1 30-4 25 1 12 42-3 5 8 5 14 7 3-25-50 4-20 1-14-7 18-10-9-44-56 9-32-3 12-28 17-1-25-12-3-11-16-9-9-17 47-35 183-4-7-125 3-17 5-28 8-69-1-10 5-19 6-8-1-8 37 1 1-10-8 22-2 9 6 19 14 1 7-14 4-7 22-16 14-8 6-18-21-17-12 7-2 18-14-47-20 1 3 10-15-2 83-16 13 0 24-11 40 7 26 3-1 27 3 11-14 7-10 7 6 8 17 0 30-1 12-4 23 6 0-13 3-6 24 15-11 20-14 4-6 10 3 13 32 7-10 12-22 25-36 5-17-14 3 33-17 34-1 2-46-59-2-48-30-1 10-18 2-16 2-10 29-1-4-19-14-8-33 42 81 20-2 10 34-28-2-62 7-2 64-10 20 38 13 15-5 24 24 7-4 29 25-13 15-4 14 8 18 10 9 7 1 16 18 6 7-12 15-1 7-23-23-7 0-6 7 69 0 13-8-6-6 12-4 26 10 1 17-12 13-18-3 43 21 8 7 9-6 13 12 18 32 5-5 7-6-31 10-3 0-8-6-23 7-14-2-26-26-19 6-10-28-14-92-4-16-4-11 11 34 25 7 31-25 4-39-10-32-12-17-10 7-71 81-40-23 217 2 49-24 25 27 96 69-18 33 9 9 12-2 20 24-1-1 7 24 2 19-6-3-21 16 2 0-18 32 5 4 42-13 18-25-7 4 27-11 20-7 3-17-8-6 4-25-1-20-2-1 10-8 12-4 8 37-2 7 1 3 18 18 11-3 12-4 2-29 5-9-20-9 31 6 9-20-3-11-5-25-1-2-2-17-6 6-18-44 12 6 28 14-5 6 24-2 14 14 1 28-2 0 17 20 1-2-26 14-8-41-4-4 50-47 6-25-1-8 3 2-31 20 9 3-22-6-12-24-2-16-13 8-11-2-18-24-8-9 23-6-2-59-17 10-23-34 43-15 7-3 10-6 20-11 22 7 16 1 11-8-3-18-6-17 0-27 3 0-14-8 7-11 17-14-9-7 6 6 13-12 3-15-1-25 4 6 8 11-33 12-13 0-19-8-15 13-6-18-21 3-7-24 30 2 8-7 7 10 23-24 6-4 8-9-48-31-1 7-14-20-2-21-7-12-15-23 7-17-37-2-22 19-2 19 22 16-2-2 8 19-4-1 23 18 8 25 1-13-18-4-21 8-24-26 111 147-3 9-1 6-25 36-1 6 10-19 14 10 66 9 9 13 1 30-11 5 2-6 23 27 7 11-25 15 13 8-40 21-10 22 11-12 20-5 2 9 11 16 0-30 28 1 6-46 16-39 11-74-33 6-11 9-8-56-1 9-11-6-50 111 1 8 8 22 9 26-33 63 9 6 10 8 2-132-86 243-106 43 15 23-14 25 3-2-59 16-26-6-27 11-13 3-36-2-4 5 0-1-3 14 6 5 5 2 13 17-4-12 39-69 22-26-34 14-22 4-12 6-11 7-2 2-14 21-6 55-14 13-15-33-61-43 2-16-5-88 67 44 48 5 5-166-75-38 4-198-104-12-33-41-7-44-16-3-2-13-23-13 10-10 10 3-38 14 0-59 74-48 397-9 10 19 26 715 8-29 46"/>
<path class="k26" d="M672 743l27-2 6 7 33 0-1-18-12-1 2-13 20 5 16 0 8-9 4-3 17 16 10 0 25-2 12 4 13-9 8-31-27 1-7 8-19-4 23-17 20-39 36 14 7 1 11 13 1 36 10 4 7 7-11 4 19 6 0-24 15-2 12 15 7 0-2 4 22 11 1 4 0 24-9-9 28-1 17 15 21 4 12 16 14 5 3-11 4 29 23-8 18-5 7-2-4 13 19 10 11-5 1 19-6 12-19 6-13-6-9-21 27 5 50 1-2-8-14-16 0-30-14-11-9-3-22 8-19-1-2 6 10 12-7-33 10-4 0-11-34 3 1-30-21-1-6-4-4 4 2 12 10 2-16 20 0 55-4 31-20-6 13 39 6 90 0 35 43 30 28-23 22-16 3-14-15-8-7-4-7-7 8-23-5-7 6-32 2-2 10 2 5 6 7 12 14 9 14 4 3 21-14 4-15 6-9-15 44 23-1 6 14-11 18 0 0-15 6-2-3-16-8-10-24-7 12-12 23-2 8 6 2-31-17 11-8-14-17-1-23 1 2 22-1 9 9-11 6-3 40-37 1-3 38 70-15 51 0 25-9 8-25 1-4-3 3-8-27 8 7 11-19-4-16 14-8 11-3 9 25 8 9-1 5-4 12-2 11 7-5 10 6 13-8 21-13 0 10 15-13 22 3 9-7 8-8 3 7 14-1 23 7-5 15 6 7-2-5 15 26-26-71 1-12-11-15 7-2-13-13 6-24-3-5 4-3-14-13-11-6-1 4-37-27-5-49-26-18-21 1-17 12-82-26-108-6-6 14-14-11-21-23-4-1-27-2-7-3-1 12 11-43-5 10-14-19-26 6-7 2-7 64-21-7-12 23 25 12-7 6 5 19 9 104-4 36 32 16 19 59 198-20 76 38 4 16 24-29 15 39 26-115 4 2 14-26-4 11 20-37 4 0 44-9 15-8 10-13-10-5-21-1-5-12 11-10-9-32-8 0 33 4-3-4 12 0 12-13 8 15 12 14-1 25 1-9 22 16 10 30-44 10 5 27-39-135 14-20-10-8 6-24-5-9-9-8-29-12 4-5-7 50 4-6 8 1 74-1 18-1 9 8 13 14-3-1-7 9-28-7-13 25 21 8 38-81-44-39 16-10 3-14-2 5-33-4-5-1-9-6-11-28 0 2-13-11-3-19-6-1 17-4 14 4 11 21 3 2 9 8-15 11-38 12-6 21 5 14 22-62-48-10-12-10-2-11 25-18 6-3 20-22 3-12 0-7-10 16-11 3-12-25-6 5-16 0-8-12 0-13-11-19 5 2 5 1-19-3-21 11-3 3 11 19-21 0-12 13 9 13-13-6-20-23-20 3-30-42 1-10-1-7 0-6-4-5-1-5 9-10-13 2-15 3-2 4-25-12 1-12-10-9 9-9 9 0 15-14 33-5 38-15-13 27 30 19-17 15-18 4-1 12 5 24-3 11 18-21 10-18-1 8 10-9 17-14-5 2-2 30 20 16-1 0 37-31 31 39 26 23-6 18 37 14 2-1 4 8-6 9 1-37 13 66 9-10-103-18 3-22-24-36-46-7-1 12-14-10-93-11-22-13-16-28-9 3-11-18 6-34 21-26-17 19-19 13-31 36-38 5-11 32-3 6-9 11 3 3-7-6-8-2 28-20 13-2 13-6-1 15 12 11 5 19 4 11-2 12 5 2 5 12 12 12-5-4-18-3-14 7-16 15 8 5 17 9-38-6-6 2-6-13-3-18 3-18-7-1 40-33 7-28 33-3 2 5 4 9 6 25 16 43 12-17 27-68 9-90 2-8-2 239 54 25 3-2 17 44 48-9 44-29-243-30-44 3-38 6-11-29 0 2-19 13-2-32 8-8 8-10-62-45 26 137 20 31 20 0 10 11 30 33-17 207 246 52 21"/>
<path class="k27" d="M693 851l9 5 1 14 0 24-3 16 14-2-24-5-8 5-27 0 5 39-5 14 40 11-2 5 6 21-9 10-16-2 59-3 11-1 18-3-3 17 12 4-12 15-3 19 14-5-6 20 19 6 15-10-3-13 12-13 12-11 14 5 8-6 16 3 10-16 10 1 8 11 9 1-2 12-12 1 5 14-12-2 0 6 19 5 17 2 4-6 6-18 8-18 0-15 3-24 8 2 17 5 4-6 11-5 3 12 7-5 23 0 12 5 21-5 5-2 15 8 2 16 4 5 7-10 15 1 0-6 4 0 10-4 9 6 16-6 11-2-1-13 6 0 6-26-53-7 6 21-22 2-13-11 9-23 1-25-9-17 19-4-6-7-12-17 3-21 5 1 14-13 4-3-20-9-6-16-28 3-6-2-27-3 2 13-2 12-19-2-11 0-1 14-8 0 9 11 7 9-1 15 26 0-11 11-1 5 18 0 3 8 0 7 13 1 3-4 7-9 3-18-11-3 6-8-8-5-17-12-18-33-20-6-2-5-6 13-16 11 2 20-16-12-18 4-4 18 15 7 13 4 14 3 4 24 11-4 4 32-21 7-3 15-1 21 15-5 18-7 16 13 14-12 12 2 11-23 18-6-1-8 48-11-8-49-38-25-39-53 6-8 5-7-20 10-4 4-29 2 11-17-33 4-8-1-14-2-24-8-30 6-8-24-24 4-5 13 4 8-7 2-15-11 3 30-1 14-4 6 4 16 12 6 2 11 8 13 9-3 15 3 6 13 15-4-2-13-5-12 5-14-17-9-5 5-5 7-4 1-3-32-4 3 40-7 9 1 3 7 14 16-3 65-13 0-6 10-14 5-9 12-5 12-8 0-13-1-15-11-10 4-8-7-5 9 4 7-18-6-5 12-13-1 0 19-2 7 23-4 12 3 14 9 5 4 7-6 0-16 8 4 13-4 6-3-7 13 4 9 13-4 13-2 5-14 7-10 9-8 0-9-6-3 14-16 20 4 9 8-3 13-9 15-1 25-14-2 11 17-35 4 2 3 0 16 10 3-32-7 5-11-5-10-18 2-1 8-14-3-14 3 4 12 17 7-8 45-9 19-15 1 11 18 0 16 3-3 15-10 20-2-7-12 32 14 5 3 15 0-9 9-12 4-8 20-6-1-6 6-3-10-24-2 1 17-19 27-18-43-1-4-4 8-20 6 3-26 18-14-48-4-2 17-8-1 0-36-23 9 5 5 0-51-3 0 10-51 8-3-14-6 1-16 17 5 12-13-4-20 14-8-11-14-3-3 4-19-22 6-5 45-26 25 64 23 25-8 2 32 4 23 145 3 1 28 13-2-2 9 0 5-14 10 1 12-10-3 16 15 11-2 28-1 5 1 6 5 3 20 13 3 25 5-7 20-3-41 2-14 12 7 2 6 2-20 3-23 1-5-3-11 15 3 9-5 7-1 0 21 22-5-1-22 17 14 20-15-2-22-7-4 11 54-29 19 6 9-5 23-20-32-14 8-66-9-7-6-15 2-6-7-11-18-2-13 12-26 24 0 7 11-9 10 4 18 20 1 10-32 7-15-13-2-37-6-35-3 49-66-11-23-147-19 7-18-19 3-3-4 3-5-20 12-34 6-7-17 14-4 6-7-4-23 8-2 5 5 3 4-30 4 16-50-71 38 187 274 4 19-2 9 9-3-20-3 32-8 14 2 10 15 26-3-6-19-9 2 9 50 10-8 9 0-17 30-35 10-36-29-22-1-6-19 185-124"/>
</g></g>
<path d="M180.1 675.5C182.3 676.7 184.6 677.8 186.8 679.2C189.0 680.6 191.2 682.3 193.2 684.0C195.2 685.7 197.1 687.6 198.8 689.6C200.5 691.6 202.1 693.7 203.6 696.0C205.1 698.3 206.3 700.8 207.6 703.2C208.9 705.6 210.6 708.0 211.6 710.4C212.6 712.8 213.4 715.2 213.7 717.6C213.9 720.0 213.5 722.4 213.2 724.8C212.9 727.2 211.7 729.6 211.6 732.0C211.5 734.4 212.6 736.8 212.7 739.2C212.9 741.6 213.0 744.0 212.4 746.4C211.8 748.8 210.4 751.3 209.2 753.6C208.0 755.9 206.8 758.1 205.2 760.0C203.6 761.9 201.6 763.3 199.6 764.8C197.6 766.3 195.5 767.7 193.2 768.8C190.9 769.9 188.3 770.6 186.0 771.5C183.7 772.5 181.6 773.3 179.6 774.4C177.6 775.5 176.0 777.1 174.0 778.4C172.0 779.7 169.7 781.3 167.6 782.4C165.5 783.5 163.5 784.3 161.2 784.8C158.9 785.3 156.4 785.5 154.0 785.3C151.6 785.0 149.2 783.9 146.8 783.2C144.4 782.5 142.0 781.6 139.6 780.8C137.2 780.0 134.7 779.3 132.4 778.4C130.1 777.5 128.0 776.5 126.0 775.2C124.0 773.9 122.3 772.0 120.4 770.4C118.5 768.8 116.7 767.2 114.8 765.6C112.9 764.0 110.8 762.5 109.2 760.8C107.6 759.1 106.3 756.9 105.2 755.2C104.1 753.5 104.1 752.1 102.8 750.4C101.5 748.7 98.8 746.8 97.2 744.8C95.6 742.8 94.3 740.7 93.2 738.4C92.1 736.1 91.3 733.6 90.8 731.2C90.3 728.8 90.1 726.4 90.0 724.0C89.9 721.6 89.9 719.2 90.5 716.8C91.0 714.4 92.1 712.0 93.2 709.6C94.3 707.2 95.7 704.7 97.2 702.4C98.7 700.1 100.3 698.1 102.0 696.0C103.7 693.9 105.7 691.7 107.6 689.6C109.5 687.5 111.2 685.2 113.2 683.2C115.2 681.2 117.3 679.3 119.6 677.6C121.9 675.9 124.4 674.4 126.8 673.3C129.2 672.2 132.3 671.4 134.0 670.9C135.7 670.4 136.1 670.6 137.2 670.4" fill="none" stroke="#000" stroke-width="2.8" stroke-linejoin="round"/>
<text transform="translate(159.3,672.0) rotate(5.0)" y="6.1" text-anchor="middle" font-size="16.67">90%</text>
<path d="M120.9 717.6C121.0 715.2 120.8 712.7 121.2 710.4C121.6 708.1 122.1 705.8 123.1 704.0C124.2 702.2 125.8 700.5 127.6 699.5C129.4 698.5 131.7 698.3 134.0 697.9C136.3 697.5 138.8 697.5 141.2 697.3C143.6 697.0 146.0 696.5 148.4 696.3C150.8 696.1 153.2 696.1 155.6 696.0C158.0 695.9 160.5 695.9 162.8 696.0C165.1 696.1 167.2 696.3 169.2 696.8C171.2 697.3 173.2 698.0 174.8 699.2C176.4 700.4 177.5 702.3 178.8 704.0C180.1 705.7 181.6 707.6 182.8 709.6C184.0 711.6 185.3 713.7 186.0 716.0C186.7 718.3 187.2 720.8 187.1 723.2C187.0 725.6 186.4 728.1 185.5 730.4C184.7 732.7 183.0 734.7 182.0 736.8C181.0 738.9 180.4 740.9 179.6 743.2C178.8 745.5 178.4 748.4 177.2 750.4C176.0 752.4 174.3 754.1 172.4 755.2C170.5 756.3 168.1 756.6 166.0 757.1C163.9 757.6 161.7 757.7 159.6 758.1C157.5 758.4 155.3 759.0 153.2 759.2C151.1 759.4 148.8 759.5 146.8 759.2C144.8 758.9 143.1 757.8 141.2 757.1" fill="none" stroke="#000" stroke-width="2.8" stroke-linejoin="round"/>
<text transform="translate(126.0,738.4) rotate(59.0)" y="6.1" text-anchor="middle" font-size="16.67">50%</text>
<rect x="60.6" y="631.05" width="194" height="187.4" fill="none" stroke="#000" stroke-width="1.1"/>
<text x="97.3" y="839.9" text-anchor="middle" font-size="13.9">−2</text>
<text x="151.5" y="839.9" text-anchor="middle" font-size="13.9">0</text>
<text x="205.7" y="839.9" text-anchor="middle" font-size="13.9">2</text>
<text x="51" y="680" text-anchor="end" font-size="13.9">2</text>
<text x="51" y="731.6" text-anchor="end" font-size="13.9">0</text>
<text x="51" y="783.2" text-anchor="end" font-size="13.9">−2</text>
<path d="M97.3 818.45v4.9M151.5 818.45v4.9M205.7 818.45v4.9M60.6 674.9h-4.9M60.6 726.5h-4.9M60.6 778.1h-4.9" stroke="#000" stroke-width="1.1" fill="none"/>
<text x="157.6" y="868" text-anchor="middle" font-size="24.3">p0</text>
<text transform="translate(22.4,727.35) rotate(-90)" text-anchor="middle" font-size="24.3">p3</text>
<clipPath id="c131"><rect x="264.37" y="631.05" width="194" height="187.4"/></clipPath>
<g clip-path="url(#c131)">
<radialGradient id="u131"><stop offset="0" stop-color="#f0f724"/><stop offset="0.17" stop-color="#f0f724"/><stop offset="0.33" stop-color="#f1f426"/><stop offset="0.5" stop-color="#f3ee27"/><stop offset="0.67" stop-color="#f6e826"/><stop offset="0.83" stop-color="#f8df25"/><stop offset="1" stop-color="#fbd524"/></radialGradient>
<ellipse cx="346.64" cy="726.4" rx="31.04" ry="33.09" fill="url(#u131)"/>
<g transform="translate(264.37,631.05) scale(.1)" fill="none" stroke="none">
<path class="k0" d="M751 1495z"/>
<path class="k1" d="M1940 1184z"/>
<path class="k3" d="M383 689z"/>
<path class="k4" d="M332 1701z"/>
<path class="k5" d="M1842 1102z"/>
<path class="k8" d="M391 453l833-409"/>
<path class="k9" d="M46 843l88 636 527-1238 437-241"/>
<path class="k10" d="M1085 46l75 580-205 1123-569-421"/>
<path class="k11" d="M178 322l-10 644 704-604 640 781-150 355-103 1"/>
<path class="k12" d="M781 54l20 140 122-98 192-25 549 721-1387 20 153 373-430 203 718 486"/>
<path class="k13" d="M315 345l223-48 7 319-67-10 696 45 87 19 54 553-92 454-847 10 137-243"/>
<path class="k14" d="M192 426l82 46-206 197-1 58 12 110 238 59 11 230-118 278 156 129 353-146 146 297 178-150 1-10 252-45 196-55-40-162-126-62 219-52-307-674 49-219-296-124-355-17"/>
<path class="k15" d="M362 299l204 91-142 262-11 40-166 244-106 240 398 174 304 291 9 5 493-81-90-151 129-231 37-62 101 24-198-549-453-332-43-62 36-37-705 365"/>
<path class="k16" d="M129 716l107-17 65 254-88 135 149 293 52-21 125 130 32 163 170-63 305 46 296-170 1-107-80-20-17 3 80-71-5-155 92-118 164-54-214-365-88-24-26 127-52 12-12 9-136-252-295-19 11-88-196-66 33 233-160 62"/>
<path class="k17" d="M227 498l131 47 50-31 99 25-12-112 67-18 32-8 9-4 2 17 2 96 30-230 110-39 245 62 18 201-125-2 291 79 106 1 12-149 0 318 110 108-41 209 12 74-99-21-102 7-20-150 72 327-31 36 62 111-1 28-104 108-234-31-95 79-82 27-8 58-95-62 4-96 11-90-88-88-50-5-78-69-40-82-16-20-36-2 22 223 84 85 69 105-73-604 73-221-170-48-75-18-19-59-160 246 1223 332 67 19"/>
<path class="k18" d="M562 269l-40 99-17 28-23 26 101 25 44 62 85 24 20-50 12-59 127-10 25-111 48-39 19 18 55 19 92 55 75-18 27 131 43-35 76 121 8 7 37-12 17 37-72 165 133 19 20 149-143-12-40 111-10 27 14 105 2 19-12 4-27-14-53 49 182 83 81-168-190 342-165-9-2-42 62 126-234-20-24 69-46-4-6-41-43 28-44 52-45 56-176-43-15-13-15-110-62 21-90-40-17-25-24-3 64-64 17 9-6-92-11-45 54 3 40 81 61-39 208 70-160 160 384 99-545-529-107 47-51-12-23-6-5 66-60 32-19-184-75-58 38-57 134-40 45-19 9 96-14 96-44-265-14-88 9-32 70 20 5-43-71-102 80-64 189 163 462-126"/>
<path class="k19" d="M295 535l10-1 44 22 7 51-4 61 16 38 34 36-83 24-47 8-25-86-27-34-68 99 96 261-23 70 9 127-34-7 42 118 23 12 76-10 47 74-14 77 53 37 46 23 89 13 2 20 15-52 10-20-2-26 62 35 15 34 29 38 55-1 57 4 4 54-54 32 109-66-23-65 16-18-119-14-22 19-124 97 23-270-110-81 4-30 4-220-96-30-14-83-74 64 30 168 125-623-21-25 14-105 63 32 55-7 6 34 38-25 54-29-13-65-73 18 140-51 57 2-28-36 24 107 80 17 15 54 51 85 52 30 16-59 31-12 24 77 188 3 6 73 105-40-51 177-6 3 1 114-40-36 197 18-1 31 14 20-42 151 17 39 9 44-59 100-57 36-48-28 19-45-95-10-23-58 1 144 19 59-9 16-2 39 23-1 8 10 5-58-33 131-153-166-92 245 333-517 11-6 37 12-259-332-44-364 167 53-607 120-33-3"/>
<path class="k20" d="M363 519l2 62 19-2-24 20-45 73 5 121-59-21 9 82 10 33-70 6 143 20-48 114-37-20-17 70 56 8-108-37-21 13 73 188 30-12 34 48-5 47 18 16 25-3 0-7 24-29 29-39 56-9 10-26 32-25 15 92-104 76 31 86 98 3 8 35 12 14 10 82 18-183 45 13-9 21 99-2-15-68 116 30 53 15-1 74-32-4-15 22 37 18-63 14 127 0-12-50 49-11 5 33 56 41 24-59-33-43-3-85 75 4 57-36-24-25 64 8 5-58 16-13 48-47 29-8-9-44-9-35-27-41 2-73 78 55 76 3 3 23-5 42-4-2-66 40 16 136-73 18-47 37 39 49-124 81-10-252 108-358 105-35 22-25-15-41 3-67-104-15-12-72-2-20-30-34-9-2-26-17 1 71-49 59 67 43-8 63 218 61 20-13-40 50 6 89-16 8 57-6 38-17-190-440-176 5-48-52-52 12-7-107-1-20 32 13 17 41-124-3-1 7-74 30-28-12-72-36 22-45-2-40-25 14 114 16-188 51-18 20 8 20-102-8-30-32-44 36 11 44 1 8 16-3-58-1 1-3 30 47 55 2-3 15-84 120-65 101 122 25 74 247-132 87-103 81"/>
<path class="k21" d="M530 420l-8 31 45 7 51 0 19-11 63 3 8 39 19 2 44 1-12-47 58 17 11-5 7 25 46-14-1-15 1-42-20-25-20 7-34-23-76-2-9-1-19 34-105-16-53 131 22 73 16 8 20-27-93 39-14-13-41-11-6 5-16-26 31-23-22 100 34 28 48 31-106 3-69-8-5 5-30 49 38 50 42-29-4 88 17 19-8 39-3 1-33-11-37 50 20 22-42 8 4 35 12 26 22-19-72 9-9 23-16 8 3 94 59-9 54-9 7 4 22 19 5 23-49 5-61 11 79 63 2 40 28 33 6 14 51-8 11 17 67-2 25 22 57 1-10-22-2-33-7-19 50 67 4 45 30 13-5 14-22 24-35-2 17 27 37-2 13 33 14 0 12 19-26 7 45-31 0-12-16-43 45-11 50 54-14 24-6 5 23 9 14 28 32-26-15-30 38-32 12-24 47 56-29 33 105-62 7 4-10-17 12-36 10-28-46-11-25 26 94 34 63-26-41-68 5-28-52-14 111-36 23 10-1-31 52 9 10 0 5-18-7 58-4 37-32 14 85-69 5-160-41-6-20 54 105-18-1-69 0-38-55-14-90-9-30 43-69 113 25 30 273-83 10-63 15-129 15-32-69 2-11 65-26-7-1-116 8 5 2-19-33-24-20-67-17 3 10-20-15-19-11-20-39 25 8-64-9-40 21-18-15-26 0-14-44-37-6-33-14 0-2-12-7 0-11 54-28-21-23 14 20 43 0 31 7 70 66-66 142-30-3 74-57-144-178-48-47-19-16 65-67 25 3-187-167 237-31-21-46 118-316-43-6-10 30-29-5-10-81 54-78 208 29 75 220 48-4 32-40 166 107-21-63 121 59 185 23 51 106-155 173 53 390-519-48-66 184 25"/>
<path class="k22" d="M464 530l50 34 2 16-8-1 18 16 31 15-20-52 46-6 3-19 43-5 8-8 13-27 40-8 1 20-20-46 6-18 31-16 27 0 30-14-8-10 18-17 13 12 18 15 21 6 28 20 1 6 3 10 4-20 33-14 13 29 9-1 22 9 9 15 9 13 14 16 0 20-8 14 34-18-8-39-63 1-7 23 14 1-35 1 4-35-55 15-25 15 8 21 0 24-63-19 103 69-12 44 65-15 54-21 55-42 11-52 24 10 18-12 15 46 7-5 25 12-19 21-21-6-8 68 0 18 4 41 46-1 42-30 29 15 8 20 11 30 12 9-31 14 1 65 0 25 40-16 41-7 10 12 36-3 14-7 5 38 17 8-25 28-42 1-18 8 9-29-3 84-40-5-14 66-51-3-23 42-33 1 44 41 49-7 13 8 2 10 24 32-46 34-24 39 11 67 21 30 39-58 5-17-133 38-1 49 10 30-32-2-36-6-1-31 13-1 12-4-52-27-15-21-49 34-2 29-3 74-8-5 35-8 61-2 29 12-33 26-15-12 1-49-41 92-20-3-12 7-4-16-12-12-10-10 2 56-32 19-19-93-36 15-24 19-21 12-19 24-13-9-43-9 0-32-5-16-27 5 0-46-19-2-6 3-21 33-37-45-22-13-22-1-11 13-9-20-52 9-13-7-1-25-39 3 22-29 3-54-5-11-32 16 4 19-26 17-31-21-39 2 17 30 20-105 4-15 17-4-7-44-11-45-1-46-6-27 10-17 11-43 4-35-40 23-24-8-38 5-6-15-5-2-7 2 31-29 3-1 43-30-10-16 2-18 15-24 24-11-4-20 5-28-41 2-20 41-3 17 67 49 39-67 12-94 14-11-69-17 14-31-39 61-32-17-80 177 41 123 53-4-9 80-16 5-4-8-4 1-25 75-12 20 56 34 107-215 4-24 12-2 238-236-76-103-7-22-82-66-12-4 42-37 393-34 96 25 107 113-13 37 14 13 11-2 11-13 33 25 26 33 10 39-5 12 38 35-14 33 39 8 2 4-6 13 22 160 1 33 10 6-34-5-2-7-33 85-56-171-18-2-32 43-70-186 34 407-53 47-223 61-28 41-107-16 0-29-140 27-34 111 8 34 51 15 24 11 15 53 141 0-20-99"/>
<path class="k23" d="M404 668l4 45-7 10 45-18 28-1-1-22 11 8 21 35-19 22-9 44 5 11-2 8-39-9 0-5-17-28-27 37-7 21-5 18-8 3-7-4-26-1 64-8 23 12-14 22-4 18-4 79 0 13-24 11-32 1-24 24-15-5 14-65 40 6 17 4 4-1 62 22 10 44 71-1 4 41-2 78-14 33-33 8-1 8-9-8-21 13-8 18-18-8-23 9 14 21 3 11 15-9 0 47 4 16 40 13 16-27 11 1-14-23-13-20 61 0 18-7 6 2-34 31-3 39 18 4 19-3 11-16 10 36 37-13 24 20 12-2 40 0-18 18-6 12-22 20 3 9-16 13 7 37 16 4 6-26 44 7 25-33 27-14 52 10-12 46-17 7-26 14-13-6 79-10 38 2 3 6 17 10 2-25 16-11 7-20-5-10-24-3 6-15 43 6 8-16 1-20 35 11 2 5 3-23 26-1-2 8 3 24 41-6 12 8 4-32 12-1 10-6 25 12 3-33-26-23 7-19-18 3-6 26-5-48 0-43-14-7-42 52-3 55 14 14 15 29 1 46 5 7-74-16-39 30 32 36-98-50-3-57 3-9 27-10-47-35-17-63 107 19 212-9-5-15-8-5 26-19 17-1-9-25 26 4 43 3 3-7 6 19-17-34 6-9 35-6-11-21-1-9-9-1-40-3-2-7-7-10-9-12 2 32-3 14 15 8-52-19-22-7-8-59 10-10-40 39 21 82 27 107 29-14 9 1-10-15 5 60-16-4 41-241 16-18 4-18 47-3-3-10-2-28-32-4 4-40 9 3 9-23 9-12 11 4 2 11 14 5 2 20-11-4-2 10 10 48 17 3-42 38 8-151-1-7-7-28-18 3-19-11-2-39 20 7 20-8-15-21 41 34 25 102-104-37-22-30-40-37-3-68-4-29 16-35 5-4 1 8 38 8-72-24-17-6-11-18-4-2-12-24-26 4 7-31-3-29-12 4-25-7-24-1-6 28-7 20 17 22-12 14-6 27 46-19 4 54-12 23 58-42 27-72-1-17 20-4 1-3 10 5 2 12-19 20 22-58 7-4-12-4-37-28-57-7-31 5-54 12-28 4-23-5-22 21-39-38-6-15-6 1 20-5-51-5-17 2-15-20-11-6-23-1 1-9 2-15 41 7 13-18 10 38 9 71-80 6-2-22-31 2-8 29-8-5 28 21 27 51 5-126-17-2-64-1 8-13 0-10-6-14-4-6-35 41 5 37-13 17-11 6-35 14 1 12 19 14-10 29-15 8-8 7-14-15-8-41 3-43 18 4-3 11 5-29 74 63-45 53-5 8 21 20 29 35-94-6-22 70-163 8 0 297 1 8 25-4 6-3-18-13 42-12-2-5-6 57 1 30-10 11-12-16-15 54-3 37 74-56 18-17-30-54 171-69 52 217 62 56 3 55 23-18-128 22-17 27-43-29-20 13-4-39 316 164 320-536-32-38-223-270 61-77 7-5-80-89"/>
<path class="k24" d="M459 705l6 14 20-9 7 7 14-6 11-21 21-13 6-12 1-10-2-21 18 38-3 23-1 42 12 14-1 24 8 44-9 22-59 31-26-10 1-30-13 8-23-6 5-15-21 4-9-7 14-7-26-13 34-38 6-8 40 26-1 12 30-31 97 33 0-86-8-21-17 1 14-28-7-12 4-26-3-16 19 10 15-11 16-1 39-4 4-24-22 1-17-26 9-21-46 36 105 23 19 12 34 7 14 11-12 22-12 12-48-31-41 33-5 51-22 28 95-175 15 11 22 1 8 10 7-28 6-18 8-19-23-7-14 37 35 56 18 2-3 24 24-30 1-9 19-4-2-13 4-10-7-10 18-19 2-15-7 2 28 0 4 27-3 25-6 13 4 11 6 27 20-19 4-20 11 1-1-7 14 10 5 23-7 4-10 31-2 17 8 10 17 10-6-30 16-6 6-10 18-25 6-3 4 11 13 5 5-28 8 7 15-10 2-22-30 9-56-20 81 72 9 0-7 9 24-34 50 46-3 56-16 6 1 27-6 2 15-10 20-12 12 3 11-7 14 16-1 45 0 25 8 7 7 7 10-8 5-6 15-26-65 9-14-32-2 70 1 32 10 28 1 15-4 2-29 6-6 28 9 7 9 32 26 29 13 4 0-10 19 3 0 8 19-11 4 2 13 6 32 6-2 18 4-41-13-35-2 0-22-2-14 5 0 17-3 9-10-9 5-50-22 3-18 2 28-21-6-13 5-25 3-21 49 19-2 53-12 15-22 92-20 22-19 32-4 9 5 4 27 1-1 42-1 18-18 0 4 9-13 16-30 2 6 8-1-20-17-2-10-30 21-6 7-13-42-11 17-60 12-22-47-26 20 187 15 24 18-2-51 7-21 18-7 5-11 17 23 12 23 23-49 8-21 3 0-18-1-11-22 19-22 10-11 20-2 3 2 6-6 3-14-2 11-15-26-5 8-17 17-12-59 6-23 13-44-12 7-35 18-2 6 2-12-16-10-32-25 16-55 5-21 41-27-1-4 12-8 16-2 19-14 0-1 14-12-10-3-17-23-5-13 4-14-12 1-25-3-21 10-7 21 11-5-30 25 11-82 16 11 18-4 28-21-13-4-6-13 1 1-10-8 32 42 28 59 2 7 2 81-11 32 1 3-9-7-16 3 57 19-5 5-15 16 2 16 32 10 18-17 6-26-8-14-4-26 6-9-7-3-19 1-7 55 63 21 10 33-17 4-8 3-34 25 18 19-30-1-3 26 2-9 11 22 13 33-8 28 12 30-45-114-11 122-136 81 65 7 8 1 8 61-42 42-154-151-307 5-49-45-21 6-6-17 43-51-12-33-12-17-32-339 305-9 34 11 32-29 9 19 42 30-11-82 4-32-27-13-17-27-6-24-2 3 9 1 14 8 5-11 15 25 13 9 21-6 15 13 1 1 9-28 12 66 24 11 23-17 10-16 5 6-18 36 25 13 4 1-13 7-28 18 9 5 30-62-224-12-21-3-23-23 21-7 34-9-3-10-14-10-6-8-20 7-20 15-33 12-14-21-21-8-8 17-13-69 208 10 45"/>
<path class="k25" d="M633 607l5 22-14 6 7 20 26-5 9 5-7 23-14-3-5 19-5 7-4 23-3 21-8 14-23 12-2 18-35 1 3-20-10 4-7-10-11-27-17-7-3 23-16 9-7 39 16 9 13 13-6 7-4 20-5 9-13-5-8 22-17 6 7 26 4 5-18-4-27 7 65 1-1-15 16-5 24-2-3-20 7-60-4-18 35 12 12 30 16 44-11 15 2 77 13 36-6 26-44 7 0 26 12-8-26 22-1 28-25-8-11-5-12 2 4 6 7 13-19-2-9-18-6-14-17 3 1-32-12-12 44 0-4-7 19-5 2 17 11-6-16 22 3 21-6 51 10 8-1 18 20-24 40 6-7 11 27 5 3 3-2-18-5-31 28 3 3-34-4 83 11 18 4 17-14-1 35 5 18-14 18 6 15-3 10 30 30 0-1-4-4 30 20 6 2-16 7 28 7 2 2 12 2 16-22 5-10 11-26-8-20-2-14 0 2-16-2-23 17 0-17-18-8-23-20 43 2 13 1-1-19-20-6 1-40-35-12-33 56-18 13 0 109-14 54 40 8 56 14 11 1 12 17-1 12 23-6 13-9 16-14-10-11 4-16 0 0 6 17 13-29 13 4-50 16-11-14-19-8 4-15-15-3-9 90-9 13-9-4-18 34 13-9 13 9 16 10-8 4-2-1 28 14-4-10 22-23-13-8-15-11 36 23 33 54-51 9-14-4-20 14 5 15 4-8-21 7-14 17-11 20 6 7 13 9 15-26-2 8-48-11-10-20-18 1-7-13 16 66-2-7-15 26 1 12-12 10 4 2 7 6-6-16-25-2-7-7 12-13 3-5-7 2-32 19 4-1-22-2-10 18-11-1-10 19-9 13-25 10-5 21 7 12-8-14-24-29 0-3 1 27-29 1-6 0-3 23-4 42-1-12-34-42-1-24-28-4-33-1-8 8-9 19 3 1 6 9 24 18-11-73 8-11-16 9-22 2-4-13-10 0-12-9-9 20-2 19-3 4-4 10 5-18 18-40 8-13-5-18-7 7-18-9-15 22 0-8-19-5-24-4-10 2-16-9-25-12-4 10-22-30 6-16 21-6-4 7 22-20-3-8 7 9 18 10 18 21-18-74-5 2 21 6-50 6-26 0-15-1-4 8-13-12-17-62 4 4 7-2 19-14-7-1 23-23 3 10 17-2 16 22-13 19-11-1-15 14 26-49 44-2-114-19 4-1-11 7 18-17-1-3 16-35-8-28-15-8 8-13 21-5 19 11 1 4 6 16 6 12 6-57 5-4-25 3-10-11-2-7-8-4 15-7-24 4-5-5-5-14 11-12-15 45-22-13-18 92-8 1-4-6-2 21 13 13 2-5 12 17-23 46 12 190 87 9 15 5 5 27 39-10 47-52 61 24 78 15 12-3 7 15-20-6-19-26 68-3 15-12 15-13 54-11 11-16-9 38 16-9 32 71-8 5 29-4 18 36 8 1-37 9-41-45 131-65 15 4 15-86 16-24-84-411-139 14-21-32 0 2-7-6-8-2-18-21 0-1 3-19 7 10 45 22-8 27-36-22-30-3 0-40-84 83-138 17-3 21 4 2-17 12-15 0-6 2-22 18 31-12 34-10 6 3 10 70-16 11 27 27-11 6 55 23-19-67 8 12-108"/>
<path class="k26" d="M661 690l20 24-5 9 32 3 12 0-3-15 0-12-8 1 0-23 38 7 13 1 13 10-7 8-30-1-3 0 14 30 3-2 30 8 6-11 14-3 2-20-3-14-9 0 3 3 21-3 9-9-6-12-11-7 2-23 9 4 20-9 4 23-9 35 35-1 9 3 0 9 23 0 8 7 6-2 9 9 0 24-8-1-2 11-18-2-22-2 2-16-6 0-5-3-22-6-4 12-10-5-3-6-14 13 0 44-39 24-43-1-34 1 2 5 1-21-18-2-10 1-5 7-21 2-13 8 2-24-14 2 4-17 4-9 20 8-6 6 20-18 23 6 9 14 17-15 0-11 7-4 10 24-90-41 15 97-24 7-10-10-10 2-7 11-8 1 18 15-8 14-9 8-8-3-5-8-16 5 2-13-2 32-17 11-1 15 3 21-19 4-1-17-9 7-2 18 22 5 23 0 0 21-8 10-22 22-7-1 3-39 54-1 12-6-5-18-15-1 1-26 12 5 19 0-1 20 21-8 0 32 28 3 7-40 26 1-16-29-18 9-14-41-27 10-76-9 2-25 21-36 7-5 3 12 13-8 18 175 5 8-17 14 4 5-28 16-2 10 18 22 0 3 20 8 7 0 11-2 7-9-12-8 8-21 11-29 14 63-9 23-11 3-6 19 7 9 2 21-5-1-16 8-12-1 2-5-5 13 1 32 29-21 24-1 4-13 10-16-2-13-4 1-3-16 19-10 10 45 9 11-6 18 3 5-9 10-12-13-11 8-16 41 42 3 22-7-3-8 17-15-2-11 3-18 11-4 30-8 13 10 5 0 31-1 9 23-8 23 26 9 5 7 10-4 22 5 26 3 19 0 5-16 4-18 3-14 0-7-5-1-13 14-15-12-2-9-23 5 4 23 9 11 18 4 42-12 4 21 12-12 19 3-3 22-43 13-7 3-77 9-37-6-23-1-8 3-1-20 0-6 13 3 2 43-15-76-26 0-9-11-12 16 7 16 3 7 20-12-14-75-36 1 10-24 68-33 55 95 1 15 7 5 54-51 25-8-3-8 18 0 20 2 16 12 7 5-3 7 17 9 8 5 10-19 12 9 16-6-13-22-16-1-14-7 26-7-11-21-6-20 3-6-19 7 4 5-8-36-6 0-7 1 8-17 38 4 17 0-5-7 21-4-7-9 16-13-3-5 12-6 18 0-5-20 4-15 13 12 7 44-18 10-14 23-26 6 5 29-13-1 44-1 4 5-79-77 18-29-2-20-5-18-3-10-9-16 7-18-6-16-2-14-18-5 27-16 14 12 25 3 0 6 2 5 3-13-10 31-13 0 6 30-5 6 4 12 10 25-53-22-25 13-1 24-21-8 10-45-17-36-9 7 7-55 16-1 7-29 5-8 15-9-2-23 18 0 16-4-1-9 0-9-8 36 1 31-19 5 35-14 6-5-83-16-4-2 12-11 12-15 3-8 1-17 7-3 12-17-47 38-5 10-23 10-3 13-13 2 26 7 9 23-43-4-24-23 1-6 5-45 19-39 8-27-138-5 116 348 25-9 15 1 26 101-6 6 2 43 10 6 0 11-9 4-250 87-100-153-31-11-7 24 2 9-23 9-36-68 13-15 555-161 17-22 37 32 1 21"/>
<path class="k27" d="M621 841l-3 21 6 11-5 21-1 22 26-1 4 15 9 10 5-1 18-1 3-17 16-13-4-13 20 4 0-9 4-16-2-12-2-3-10 13-24-6-2 17-10-6-18 10 5-27-6-26 14-7 9 2 0 11 10 0 16-8 11-8 6-6 1 15 13 3 15-12 1-6-5-23 21-1 9-4 10 0 9 4 6 5 6 22-4 13-6 9 2 8-14 5 1-22 4 3-7-13-16 6-13 26-6 10 15 20 17-6 5 3 21-1 10-1 4-14-7-10 16-7 9 6 12 14 8 12 12 6 18 5 4 5 3 0 4-3 9 1-9-14 0-13 25 2 7 2 10-6 18-3 8-9-17-5-16-6 8-13-4-25 0-3-26 1-3-2-5 0 8 14-1 13-15 1-15-8-1-9-4-9-7-15-2-8-5 1 14-1 1-18-15-8-16 0-17 1-17-4-1 16-21-11-2-4-21-17-2 33-13-5-13-4-9 50-46 0 142 1 3 4 5 18-9 5 28 1 5-14 12 11 9 12-5 16 39-10 9 8 11 41 3 5-9 9-2 20-25 0-2-5-2-23-10 9-15 9-13-8-8-7-15-4 5-13-32 0 5 13-12 20-7-1-7 7 3 7-12 4-7-11 6-20 3-4-10-5-22 13-6-20-14 27 16 19 8 5 13 24 16-3 1 9 17 8-1 17-17 5-11-8-10-1-1 6 10 22-19 2-16-5-6-12-10 1-17-2-4-8 2-11-8-9-20-5 8-9-4 27-18 8 2 2 2 2-19 10-3 5-9 11-11-7 36 14 20 12 10 16 0 27 16 7 3 5-12 10 35 7-1-33-16 0 4-11-9-3 30-3 4-20 5-5-9-3-20 3-12-8 1-8-21-1 9-15 19-20 7-9 4-24 17 8 6 14-34-41-16 8-41 21-14 20-28-38 48 116 103 2 4 20 6 6-3 10-13-1-5-9 11 24 32 1 15-8 3-5 5 4 11 12-2 26 27 4 2 6 0-12 0-4 18-5 30 8-13-29 5-23 12 3 17 7 0-19-4-3 10-15-5-15 1-13 11-3 7 7-2 15 0 33 12-12 21-17 9 7 10 18-18 24-13-70-2-19 0-9 0-6 16-14 2-22-9-4 14-10 28-1 5-20-20-19-2-18-6-9-6-10 8-13 15 8 4 21 13-4-2-49-17-27-4-4-13 19-16-39-2-17 5-1-64-10-73 3 6 18 7 2 3 8-34-63 1 193 5 6 4-12 21 7 13 14-4 12-12 1-2 10 6 2 8 19 12 2-7 19 6 6 3 21 21-6 3-16 5-10 5-19-1-13 7-10-21 5-19-5 7-19 57 7-1 8 7-3-1 12-2 18 12 1-10 14-13 26-12-5-7 24-21 13-10 6 18 6-12 13-9 9-13-7-3-8 2-22-20-22-1-6-8 13-22 2-1-13-17 8-11 3-8 1 0 20 13 18 4 7 2 15 30-17 4-7 4-10-14 3-2-10 19 31 12 17 8 6 15-6-50 75-21-5-10-19 35-144 8-4 2-26-13-2 2-9 2-2-19-6 10-17-5-9 150-5-10-18 9-9 2-10 42 88 22 2-10 18-21 39"/>
</g></g>
<path d="M330.4 672.8C332.8 671.9 335.2 670.7 337.6 670.1C340.0 669.5 342.4 669.0 344.8 669.1C347.2 669.2 349.7 670.0 352.0 670.7C354.3 671.5 356.3 672.7 358.4 673.6C360.5 674.5 362.7 675.3 364.8 676.0C366.9 676.7 369.1 677.3 371.2 678.1C373.3 678.9 375.6 679.7 377.6 680.8C379.6 681.9 381.5 683.2 383.2 684.8C384.9 686.4 386.5 688.4 388.0 690.4C389.5 692.4 391.0 694.5 392.0 696.8C393.0 699.1 393.0 701.7 393.9 704.0C394.9 706.3 396.5 708.3 397.6 710.4C398.7 712.5 400.2 714.5 400.8 716.8C401.4 719.1 401.5 721.6 401.3 724.0C401.1 726.4 400.2 728.9 399.7 731.2C399.2 733.5 399.0 735.3 398.4 737.6C397.8 739.9 396.9 742.5 396.0 744.8C395.1 747.1 393.9 748.9 392.8 751.2C391.7 753.5 391.1 756.1 389.6 758.4C388.1 760.7 386.0 762.9 384.0 764.8C382.0 766.7 379.7 768.1 377.6 769.6C375.5 771.1 373.3 772.1 371.2 773.6C369.1 775.1 367.1 777.0 364.8 778.4C362.5 779.8 360.0 781.2 357.6 782.1C355.2 783.0 352.8 783.5 350.4 783.7C348.0 783.9 345.6 783.4 343.2 783.2C340.8 783.0 338.4 782.7 336.0 782.4C333.6 782.1 331.1 781.9 328.8 781.1C326.5 780.3 324.4 778.9 322.4 777.6C320.4 776.3 318.5 775.1 316.8 773.6C315.1 772.1 313.7 770.4 312.0 768.8C310.3 767.2 308.3 765.7 306.4 764.0C304.5 762.3 302.5 760.4 300.8 758.4C299.1 756.4 297.3 754.3 296.0 752.0C294.7 749.7 293.7 747.2 293.1 744.8C292.5 742.4 292.6 740.0 292.5 737.6C292.4 735.2 292.6 732.8 292.5 730.4C292.4 728.0 292.0 725.6 292.0 723.2C292.0 720.8 292.2 718.4 292.5 716.0C292.7 713.6 292.9 711.2 293.6 708.8C294.3 706.4 295.7 704.0 296.8 701.6" fill="none" stroke="#000" stroke-width="2.8" stroke-linejoin="round"/>
<text transform="translate(311.2,686.4) rotate(-37.0)" y="6.1" text-anchor="middle" font-size="16.67">90%</text>
<path d="M374.7 721.6C374.6 719.2 374.7 716.8 374.4 714.4C374.1 712.0 373.7 709.3 372.8 707.2C371.9 705.1 370.4 703.1 368.8 701.6C367.2 700.1 365.2 699.2 363.2 698.4C361.2 697.6 358.9 697.3 356.8 696.8C354.7 696.3 352.5 695.6 350.4 695.2C348.3 694.8 346.1 694.5 344.0 694.4C341.9 694.3 339.7 694.3 337.6 694.7C335.5 695.1 333.2 695.8 331.2 696.8C329.2 697.8 327.3 699.0 325.6 700.5C323.9 701.9 322.1 703.7 320.8 705.6C319.5 707.5 318.2 709.7 317.6 712.0C317.0 714.3 317.1 716.8 317.1 719.2C317.1 721.6 317.3 724.0 317.6 726.4C317.9 728.8 318.1 731.3 318.7 733.6C319.4 735.9 320.5 738.0 321.6 740.0C322.7 742.0 324.3 743.7 325.6 745.6C326.9 747.5 328.1 749.3 329.6 751.2C331.1 753.1 332.5 755.3 334.4 756.8C336.3 758.3 338.7 759.5 340.8 760.0C342.9 760.5 345.2 760.3 347.2 760.0C349.2 759.7 350.9 758.9 352.8 758.4" fill="none" stroke="#000" stroke-width="2.8" stroke-linejoin="round"/>
<text transform="translate(367.2,743.2) rotate(-46.0)" y="6.1" text-anchor="middle" font-size="16.67">50%</text>
<rect x="264.37" y="631.05" width="194" height="187.4" fill="none" stroke="#000" stroke-width="1.1"/>
<text x="296.7" y="839.9" text-anchor="middle" font-size="13.9">−2</text>
<text x="393.5" y="839.9" text-anchor="middle" font-size="13.9">2</text>
<path d="M296.7 818.45v4.9M393.5 818.45v4.9M264.37 674.9h-4.9M264.37 726.5h-4.9M264.37 778.1h-4.9" stroke="#000" stroke-width="1.1" fill="none"/>
<text x="361.37" y="868" text-anchor="middle" font-size="24.3">p1</text>
<clipPath id="c132"><rect x="468.14" y="631.05" width="194" height="187.4"/></clipPath>
<g clip-path="url(#c132)">
<radialGradient id="u132"><stop offset="0" stop-color="#f0f724"/><stop offset="0.17" stop-color="#f0f724"/><stop offset="0.33" stop-color="#f1f426"/><stop offset="0.5" stop-color="#f3ee27"/><stop offset="0.67" stop-color="#f5e926"/><stop offset="0.83" stop-color="#f8df25"/><stop offset="1" stop-color="#fbd524"/></radialGradient>
<ellipse cx="564.4" cy="728" rx="28.86" ry="33.09" fill="url(#u132)"/>
<g transform="translate(468.14,631.05) scale(.1)" fill="none" stroke="none">
<path class="k0" d="M1940 1495z"/>
<path class="k3" d="M1357 696z"/>
<path class="k4" d="M993 1667z"/>
<path class="k5" d="M925 445l-925 150"/>
<path class="k6" d="M1820 945z"/>
<path class="k8" d="M665 45l-197 385-350 384"/>
<path class="k9" d="M731 0l255 274-600 586 1282 356"/>
<path class="k10" d="M166 640l809-584-183 1668 892-386"/>
<path class="k11" d="M939 387l164-52 303 481 66 345-25 369 102 15"/>
<path class="k12" d="M224 913l96 279 682 196-212 486 279-1798 97 24 93-36 185 126 228 489"/>
<path class="k13" d="M322 679l110-20-198 348 292 278-145 162 380 237 517 49 92-479 183-657-339-316-399 68"/>
<path class="k14" d="M811 130l77 150-77 158 463 26 65 1-57 274 186 174-106 500 0 141 3 152-378-290-295 64 22 54-162-11-121-135 78-167-175-308-163-42 173-191 788-544"/>
<path class="k15" d="M635 164l-7 39 236 108 11 96-315 147-206 107-57 45-9 189 160 57-73 410-12 11 214 45-59 206 822 44 117-465-9-237 176 51 34 78 20-150-51-112-50-124-6-35-259 194 122-623"/>
<path class="k16" d="M324 634l48 79 180-135 222-138 220-60 104 131 151 53 104-7 43 205 98 126-33 103-20 8 174 0 10 88 16 121-56 67-98 233-53-2-656-16-24-24-52 161-32-8-79-52-97-204-10-66 57-10-25-151-120 206 1194-647-114-263-191-181"/>
<path class="k17" d="M637 268l121-7-17 145-84-17-50 110-182-1-93 171 2 145 12 193 29-25 1 49-90 43 114 75 59 4 124 62 36 128 89 32-35 80-21-6 144 193 71-52 87 10-13 18 54 65 83-69-15-67 359 23 6-193 41 31 0-227 4-40-64-2 129-75 54-13-31 161-83-278-21-77-36-2-75 7 102-94 86 17-21-196-303-12 33-96 0-89 8-19 57 37 45-4-276 48-91 72-154 29 58-249-405 452-92 557"/>
<path class="k18" d="M428 529l24 10 95-94 127-40 33 5 22-69 94 6 18-52-15-17 192 14 10-20 100 33-63 76 202-13 94 67-21 69-76 32-71-17 314 19 5 174 37 12 51 129-1 148-51 36-35-14 18-52 12 145 57-24-14 88-34 79-40-35-38 75-15 53-57-4 66 67 46 3-162 35-10 85-46 32-5-2-92 9-95 3-38 24-27-2-73 19-62-25-4-113-29 13-44-33 112-1 153 35-334 55-37 9-89 5 11-172-66-25-20-5-98-2-30-16 42-58-108-164 51-57-19-114-61 52-20 8 157-225 94-54 99-203 61 25 2 8 66 28-27-117 106-14 589 372-25 231 12 29-45-56-558 617"/>
<path class="k19" d="M589 408l-26 57-14 35-5-5-14 23 14 37-2 54 124-29 20-28 85-133 1-4 43-28 19 44 54-32 37-67-101-14-69 17 271 29 85-16 7-66 142 74 56 30 77 35 24 63-23 48-8 1-9 17-72-23 4-27-98-35-76 35-32 40 337 65 52 121 22 46 29 31-57 88-51 31 16 30-52-78-4-38 26 281 37-10 15 0 19-42 48 14-27 49-141 86-17 7-36 13 29 36 28 32 2 31 33-20 48 59-240 34 29 86-56 58-104-12 15-30-65-38-59 40-2 36 29 7-64-18-46 17 4 30-57-7 27 63 214-13-50-307-155 101-65-42-63-7-30-6-31-5 36 52 45 31-53 38-76 4-25 17 112 51-153-189-5-59-11 6-63 3-35 21 5 9 49 31 5-125-17-17-47-38 89-24 35-46-24-51 95 64-276-33 23-48-4-68-5-49-34-25-9 0 13-15 39-40 14-6 15-1-43-15 12-91 13-30-4-32-5-25 54 98 65-7-41 110 1 85-23 37 114-126 36 11 278-85"/>
<path class="k20" d="M580 429l26 25 34-5 32-45 34-14 40 16 55 51 28-88 13-16 47 14 23 3 74-12 6 28 0 25 3 15 25-13 84 15 43-12 32 43 50-29 79-17 20 65-6 17-65 25 12 27-19 64-73 0 8-65-70 7-127-58 74-154-349 145-7 31-3 6-13 77-29 4-81 19-10 69-3 43 58 41-115 19-49-39 45-85 6-83-90 260 49 58 27 29-31 86-41-23-15-21-3-6-44-36 11-13 7 122 108 82 13-10 9 55-17 3 41 21 37 46 16 11 2-21 33 35 40-10-1-25-53 76-62 4 13 41 10 61 19-12 65 77 85 51 44-15 37 47 131-1-11-57-7-26-36 19 5-44-39-19 122-5-15-25-1-42 57-49 44 100 42 26 28 10 77-32-6 98 40 6-79 34-95-6-12-53 354-144 6 6-31-56-35-82 3-15 78-15 33-45 34-3-29-77-39-19 59-31 7-78-43 28-21-35-60 17-27-33 29 96-79-190 67-92 64 13 27 67 37 17-21-143-7-32 3-86-41 35-76-45-37 33-8 72-624 365-67 20-52 17 37 83-156 53 3 47 2 29 24 0 17 1-4 13 20-25 241 38"/>
<path class="k21" d="M582 487l28 1 38-10 0-3-6 34 20 52 43 3-6-26-4-81-7-9-2-1-19 1 95 55 9 9 51-2-10 29-33 41 39-112 3-31-10-29-46-26 140 24 21-5 6-42-31 71 7 54-45 4-20-5 8-12 81 39 10 1 32-18 11-24-1-30 50-32 3-5 20 69 40-17 53 39-4 37-27-2 2 27 60 23-2 62 147 14-7 10 41 4 9-51-27 3-36-29 58-74-89-35 13-30-61-21 35 353 31-5 22 14 3 54-22-3 11 54 28 7 62 39 20 6-6 28-13 8 54 7-15 64-51 15 27 28-70-10-19 16 18-62 18-20 20 139-1 10 8 0-90 27 29 53 18 2 8 59 5 19-4 24-26 34 19 31-46-56-2-63 19-1-92 3 14 15-19 116-15 15-35 53-8 24-41 15-35-22-16 2-17-18-18 3-4 0 0-16-4-19-24 12 4 7 2 7-11 31-44-5 6 24-50-33-11 10-6-4-12 7 20-55-63-18-57 22-11 4 25 29-62-84-25-21-24 11 14 28 10 6-47-79-42-56-36 21-14-37-10-91 10-16 13-43-39-23-38-36-37-2-22 27 2-73-26-61 93-4-13-30-3-36-33 17-10-31-5 0-3 2 14-46 77 7 32 15 22 26 31 4-30-84-14-64-91 5-20-25-13 11 54-25-8-35 20-2 3 6-18-31 0-31 20 15 2-42 60-75 351 134 505-19-1 83-32-2-1 81 42-31 2 102-13 31 43-47-81 481-214-125-96 162-72-2-6-66-63 27 17 81 32 30 74 22 74 110-297-245-90 15-12 8-101-152-143-8 10 48 32-214"/>
<path class="k22" d="M622 531l6 42 4 12 12 24-26 0-2 43-15 21-43-5-9 22-9-39-6-4-10 90 14 14 3 22 12 10-16 17-12-2-1 34-44-10-1 34 3 44 39-5 3 46-20-8-35 9-18 20 8 14-3 27 32 5 16 4 20 22 1 24 13 18-2 25-4 18-31 10 20 22 5 46-22 5 105 7 8-16-19 43 12 24 6 21 17-10 13 15-5 25-16 6 14 18 11-2 43 2 31 13 22-4-2 43 9 13 28-2 12 18 9 6 33 9-1 31-34 3-10-11 76 2 13 4 4-19 38 1-7-19 30-1 6 19 55-6-18 55-99 13-46-97 1-21-29 5-32-24-53-94-22-3-14 3 0-79-107-115-27-50-22-47 53-9-20-42 3-51-2-37-1-38 6-43 15-22 0-18 81-93 24-9-18-33 68 0 2-70-9-18-11 5 35-15 58 3 17-25 4-18 4-11 9 0 9 17 0 62 80 4 20-10 42 9 6-12 7 6-6-25-11-21 24-13 12-4 7 8 8 16-18-42 16-19-65 18-25 4-1-15-8 27-22-14 2 48-9-1 24 74 48-16 73 20 21-1 20 39 45-35 6-15 8-13 13 8 28 0 20 16-12 25 28 15-5 39 65-4 3-23 11-1 16-7 38 1-5 44-9 65-12 27 55-2 18 5 2 11-37 5 0 51-2 16-15 50 25 5-33 18-26-15-11 28-6 37 14 14 12 20 6 26 32-4 8 32 16 35-22 18 6 8-34-12-18-22 7 69 20 4 21 18-33 9 2 15-30-27-23-17-17 27-34 82-46-12-90 45-21 81 54 3-4 18 44-9-11 39-20 39-38 2-30-19 28 81-6 10 26-29 19 16 5 1 88-69-4-58 24-4 15-8 28 14 17-43 16-22-64-1-2-22-21 40 57-75 53-38 25 7 17-57 30-89 10-80-29-31-19-47 30-26-6-40-84-60-70 24-13-59-22-29-24-31 74 15 22-13-5-27 22 7-29-86-10 1 15-37 6-12-24-2-10 5-4-42-20-9-18 9 0 3-26-7-18-37-33 5 12 16-7-40 12-10-34-1-5-9-24 10 171 50-95 123-18 6-93 21-256-84-29-24 13-89-109 41 58 175-31 174-215 235-19 16-31-40 805-18 31-78 145-238"/>
<path class="k23" d="M644 574l36-13-5 41 1 32 13 0-9 14 9 33 13 25 23-16 1-24 26-25 21 43 2-103 8-18 13-9-43 4-17-23 33-4 42-14 11-20 50 5 16 7 0 27-3 7 14 7 29-3 38 10 2-32-13-31 0-4 20-7 48-2 23 16 21-1 0 15 14 12-11 25-24-18-15-3-23-15-7 27 9 25-18 17 101-13 45-8 55-20 13 5 26 25-5 21 20-1 11 8 29 18-3 10-3 21-10-9-36 3-15-10-11-4 2-11-9-13-6 3 1 29-34 6 40 43 7 38 35 26 39-30 34 16 22-7-8-20 11-29-2-51-46 44 72 52 4 24-4 30-13 2 28 5-6 13-11 24-7 20 12 9 16 10 10 8-12 31-12 8 15 10 2 16-20 9-5 18-15-21-10-8-10-37 0-10-10 3-3-11 16-36 23 51-42 83-8 25 22 6-14 31 24 37 30-9 2-7-9 58-23 2-15 11-5 14-14 10-25-3-1-29-14-16-7-13-6 40 61-17 2 59-2 10 10 3-25 3-16 14-1 7 5 37-13 16-11 16 24-2 12 17 31-16 12-33 12-3 11-97-158 57 10 42 20 26 9-7 32 57-30 36-18-8-25-7-46-3 16 28 16 28 6 18 6 26-42-13-23 8-9-14 6-8-27-8-4 13-17-11-1-9-24-1-10-6-12-13 30-2 45 16 0-60-98 3-11 6-4 5-20 2 1-15-40 52-14 13-7-21-6 1-21 8-8-6-9-2-17 8-8-18-22-11-9-16-31 7-23-19-17 1-30-1 5-9 7 25 5 18-5 9 76 12-26 28 8 10 10 10 11 6 77-16 6-8 17 7 49-2 2 21 0 30 31-31 22-14 21-10 16 6-6 22-11 4 88 9 91-64-26-92-68-91 74-145 27 10-92-329-63-74 46-157-27-35 110 18-275 1-28-26-25 61-5 8-2 21-12 19-9-7-22 32-16 0-75-28-81 56-13 1 4 25-8 30-5 16-16-5-36 1 10-38 22-37 10 112 4 23 33-5-7-15 10 47-27 12-9 25-21-30-14-17-6 0-21 44-11 21-5 43 2 9 10 11 3 36 9 0 37 2 17-2-15-22-5-7-2-39 3-3-85 10-13 23 20 35 27 28 5 19 7 3-18 14-14 17 11 28 43-12 6 22-15 24-13 13-3 22 16 13-8 19 24 8-6 13-3 11 13 4 10 2 13-5 20-6-29-14-15 42 82 5-2 6 8 2 13-1 15-5 0 33-23 2-10 14 4 16-1 11-8 24 103-31 36 9-9-28-67-34-77-121 7-9-53-9-13 8-21 10 44-98 43 0 48 33 174 269"/>
<path class="k24" d="M666 641l-4 26-12 19-15-9-2 23-8 2 11 15 26-3 1-1 3 7 4 7 14 9 30-2-17-21-21-27 11-13 16-8 35-5 41-7 31-10 25-17-6-19 7-7-10-21-6-15 22-29 17 44 23-8 14-11 1-2-3 30 23-3 6-5 16-9 18 15 28-4 13 9 17 11 23-7 19 2 6-15 26-1 1 16-4 3 7 8 29-14 7 5 7-20-11-9 29 5 5 18-10-46-5 88 9 17 1 25 2 10 7 11 22-6 0 18-15 22 52-23 13-1 11-11 2 21 21-12 4-6 5 11 15-29-27-6-15-20-16-3-22-9 2 22 11 10-5 8-31-12-95-13-41-37-14 5-13-43 5-21 22-3-9-23-37 9-26 7-21-17-3-8-23 2-15 4-25 81-34-5 63 35 2 14-11 24 39-37 5-18 17 1-217 2 2-21-14-5 0-11 0 23-30-7-6 9 0 8 53-56-87 207-8 9-32 30 9 16-2 10-10-1-5 32-13 1-14 2 2 4 19 14 12-9 15-16 12-11-73-2-4 2 3-19-4-46-7-4 34-17 9-30 11 3-15 204-10 4 3 17 16 10 11 10 11-15 16 1-12 31 1 25-6 24-19 2 5 7 0-21-9-23-23-9-17-11-28 1 11-43 2-16 2-34 106 22 38 92 15 88 26 22-82-5-6 18-19-1-6-1 3 13-1 25 0 4 6 6 15-2 44 1 5-6 5 15-20 9-2 1-4-42-71-15 10-32-19-12 32-22 20 2-68-47-19 6 133 200 11 0 2 12-2 5 26 4-4-22 12-3 1-12 14 15 12 1-1 3-18 29-9 12-22 9 53-4 11 1 17-13 7-19 16-27-7 69 9 12-23 2-16 26 14 32 42-18 1-23 13-3-11-31 47-7 21 15 9-4-11 22 1 15-11-7-9 27-3-2-22 4 49 6 11-6-19 34 60-11 0-8-7-37-14-19 56 36 42-1-7-11-4-8 20-20 28 15 34 1-1-24 26-3 4 8 14-5 20 13-3 7 14-11 10-27 1-16 28-2 12-8-5 31-5-76-14-4-2-11 26-8 9 5 3 17 19-5 13 36-92-1-24 5-2-20-3-9-36 7-10-6-6 10-12-2-1 50 33-2 37-1-22-27 59-24-19-40-2-26 41-2 29 11 67 3-27-101 1-9 0-10-12 30-21-2-5-1-13 12-16 13-26-27-5-34 79-32 29-5 17 19 0 6 3-42 15-8-28-9 0-4-3-1-45-5-11 6 39-41 8-22 5-32-37-1-1-28-10-12 37 6-17-29 34-6-7-11-15-13-4-42-2-5-31 5-35 6-13 49-24 2-28 26 40 45-2 9 18 16 28-84 103-3 1 20-1 114 6 3-175 412-5 16-9 1-37-4-27-7 10-13 28-6 13 59-100-23-28-98-251 28"/>
<path class="k25" d="M733 644l-3 36 18 9 1 21-24-3 11 18 13 15 4 18-29-15-27 13-15-2-10 10-21 1 49 6 11 14-4 5-18 12-12 6 19 9-12 23-2 8 0 14 12-4 37 2 6-5 32-14-49 58-14 10-21-4-24-5-7 20-12-1-6 21-4 15 20-6 14 21 13-8 13-17-1-11 29 9-14 16-24 39 2 9-6 28-20 3 12 14-3 23-3 6 30-1 8 9 7 5-11 9 5 26 1 6 12 12 23-8 11-19 20-32-2 66-2 6 4 8-28 2 2 12-14 10-6-5 0-11 7 39 6 1 19-17 11 2 13-10 0 27 7-1-11 7 5 11 29-11-3-13 5-37 38-7-5 55-5 4 7 5 17 7-1-16 18-2 16 6-14 22 8 28-11 6-7 2-11-9-12-16-23 10-18-13-4 41 0 2 34-4 74-3-4-22 12 4 27 7 4-18-6-5 21 14-6 21-16 12 1 10 4 17-15-34-29 28-15 10 88-25 18-11-1-5-8-12 27-11 8-2 15-9 17-5-2 29-9-2 5 20 14 1 18 7 8 4-1-18 29-1 4-13 15-15 30-10 6 26-19 42-19-14-20 0-18-50-13 6-17 8-15 46 6 8 21 23-54 2-15-35 0-78-11 7-22-50 83 0 18 6 25 21 35 0 28-4 1-27-18-4-19 9 48-19 1-45 14-6 18-7 23 3 13 0-1 18-19-7 4-27-11-14 18-31 7 1 4 6-4-27-1-26 11 5-5-18 17-3 0 9-36 0-1-24-3 0 22-5 2-22 7-11-13-8-1-9-15-11 3-21 24-3-2 11-5-20 11-13 16 0 1 25-1 28 11 11-1 11 1 43 5 47 12 4-29 9 8 16-7 8-5 79-34 8 1 15-12-6-6 1-4-10 8 25 0 15-4 3-1-167-18-36 4-58-6-24-10 7-12 6 5-19-2-25 23-28 13-3 6 18 13-5 7-5 11-23-16-8 8-13-30 3-12-4-7 13-19-36 14-20 21-3 8-14 6 2 16-2-6 20 18 11-25 12 57 6-10-44-7-19-56-8-19 15-7-26-28 6 5 17-33-3 4 11-6-52 23 3-10-21 3-33-8-5 2-6 3-11-19 2-1-16 16-13-54 7-8 15-7 0-10 4 0 19 0 31 9-4 22-8 25-1 3-8-4-11-16-22-29-29-59-2 6 21-10 18 30-7-2 31 7 21-21 21-18-27-22-5 5-8-7-14-23 24 9 21-48 3-3-12-6 5-8-12-13-11-8-15-11-6 18-11 25-6 4 24 23-31-5-9-5-22-7-2 27-2 17 13 25-12 3 24-126 0-21 13 2 4-8 4-25 16-11 7-18 2 4 11 14 19 21-1 3-10 14 30-31 6 6 9 18 27-2 11 23 18-84-60 8-10-7-19 17-61-2-19-10-6 27 9 73-31 287 82 28 0 24 15 31 9 54 225-68 50-443 22-40 28-23 17-13 27-3 3-40 61 5 44 14-7-58-55-5-96 11-16 17 7 19-119-21-36 4-13 3-12 92 433"/>
<path class="k26" d="M724 769l11 13 9 0 16-15 16-1 7-24-11-13-10 6-10 8 47 10 10-5 1 25 11-8 4 14-22 14 4 15 23 7 14 18 12 0-27 24-42-1-5 15-27 0 2-9-15 14 1 24-5 8-9 2-5 19-7-5 34 7-7 14 9 20 22 5 10-26-7-49 1-63 7-8-8-8-13 4 4 5-15-6-10 9-12-17-15 5-5 0-1-18 53 2 20-8 12-63 6-5 39 4 15 9-1 5-1 11 10-5 0 13 20 2 7-10 19-13-5-27-23-3-5-6 13-5-7 24-25-6-6-14-10-11-1-12 3-15 23 13 27-26 41 41-11 12 8 14 8 10 1 14-5 16 31 0 11 19 20 11 20-6 3-13 10 3-2-27-1-13 22 7 12-6-1-5 0 29 9 1 6-2 2-14 17 4 9-9-2-23-17 1 2-11-13-5-1-6-17 6-13 4-38-10-5 26-3 26-5 3-24-21-14-6-5-4 26-12 6 2 3-30 11-13 28-1 74 30 12-2 15 3-2 23-7 43-19 3-6 3 2 4 25 18-4 10 26 0 13-15-3-5 14 5-1 25-7 5-2 11 13-2 8-3-5 37-12 7-4-14-17 3-6-16-8-15 3 65 3 14 16-7 15 7 1 5 14-10-8-10 26-13-5-14 23-22-14 76-4 49 7 17 14-2 2-3 6-24 3 48-34-4-14-4-12 3 0 15-1 5 16-1-8 28 0 15 2 12 10 4 6-13 6-17 5 3 8-11 6 16-13 44-18-2-14 0 4 21-16 7 6 15-2 25-17-11-7-8-16-7-2 18-23-2-11 7-1-14-12-2-9-9 4 26-5 9 25 16 17-3-9 18 2 9-4 29-17 3-14-15-12 8-5-21-17-5-5-4 1 26 2 23-4 2-38 4-3-19 8-18 16-6-32-3-1-7-17-1 7-9-29-8-15-8-11 8-3 5-9-4-7-2-18-10-7 0 7-18 12 1 8-9 15 7 17-22 21-2 31 23 19 4-7 16 10 6 6-4 16-25 84-24 9-16 20 11 6-18-5-17 9-4 2-9-26 3-2-65 24-2 2-39 25-2-8-14-6-12-15-16-6-5 13-53-87 74-21-144-82-1-30 36-33 42-24 8-17 56-3 18 17 40 13 34 18 44-70 10-5 13 6 12-5 9-7 14-9 0-11 3 2 7-5 8 1-26 1-20-15 1-4 15-22-7-14-23-11-3-3 14-1-27-14 5-3-31-26-1 7-49 3-18-8-2 13-17 18 3-2 12 11-3 14 1 4 18 4-4 12 3 10 11 27 2 3 3-7 20-14 2-2 8-11-7-15 15-2 19 8 4 6-6 9 8 5 2 3 5 3-22 23-10-3 36 27-20 17 43-3 40-16 11 6 7 5 20 3 15 7 0-6 17 23-1 7-11 31 6 2 17-1 20-4-3 26-1 4-23-5-9 29 9-7 15 19 13 170-33 18-15-21-15 3-20 61-7 3-3 4-20 0-7-3-14 55-95-390 115-56 55-12-4-10-7-52-150-8-19 5-11-20 13-39-92 32-33 5-6 13-32 99-162"/>
<path class="k27" d="M851 775l39-1 2 11 4-2 0 29-4 2 4 12-17 0-12-3 1-21-8 6-3 31-1 13 19-12 19 3-10 14 1 7 15 6 9 11-6 16-5 13 17 5 11-8 3-11 19 8 3 12 0 7-17 11-1 19-7-5-4 15-11-8-4-13-12 21 0 21-13 4-4-17-4-17 4-20 5-1-8-7 1-17-2-10-25-4-4-9 11 0-18-9-23 16-7 4 3 21 1 9-12 1-18-10-12-10 16-20-3-9 12-16 17-2 2-15-15-3 14-21 11 11 10-34 84 11 20-2 9-13 9-10-5-11-8 0-4 4-14 8-6-14-20-22 67 13 50 0-6 7 8 5 34 7 14 18 3 5 6-5 24 1-5 25-6 1 3 12 14-7 8 6-8 17 4 10-11 3-19 7 6 16-20-2-2 6-10 2 1 14-13 0-11 9-6 21 1 4-9-2 13 10 13-2 4 7-7 7-20 4-5 17 6 5 10 4 3-5 27 1-2 14-8 16-16 5 2 21-7 5-13 0 16 14 18-6-4 19 10-2 7 20-17 6-7 17 15 13-10 14-18 6-13-8-5-17-11 2-5 2-7-6-14-7-7 4-10-8-13 2 6-16 3-14 18 2-3-20 4-17 15 6 11 12 3 8 16 4-7 21 1 11-23-9 46-11 52 10 17 0-7-18 8-20-2-6 3-4 1-16 23 0-4-5-4 25 23-11 8-23-1-27-10-12-21 1-12-2 1 6-27 2 3 5-9-14-2-17 1-11-11-13 21-6 3-8 18-4-2-9-30-1 32 30 8 0-9 9-8 5 26-3 15-10 12-18 21 27-18-97-36 35-42-41-6-7-12 11-13 11-16 0 6 11-9 14-21 0-12 2 16 13-8 11-22-2-6-6 3 19 6 17 5-4 8 19-19 13-15 10 10 13 12 6 22 1-2-17 2 40-9-2-6-3 2 15-16-12-24-2 0 14 5-5-19 10-13-1 11 13 1 12-12 9-1 10-9-14-10-13-18-3 10-18 12-20 4-16 20 8 5-18 3-12-17 1 25 21 10-44-3-78 0-5 8 4-10-17-20 3 1-20 4 1 8-1-24 2-1 3-8-16 51-2-1-12 9 6 12-10 8-16 0-8 9 14 17 12 10 5 4 2-7 6-12 0-25 7-9 9 2 20 4 3 19-7-4-10 33-1 8-8 13-10 10-10-23-22 47-23-12-18-1 274 10-4 14-14-30 32 12 13-8 57 56 7-1-20-78 74-15 4-71 1-15-4 4-25 9 4-29 3-7 6-1-16 29-23-45-13 7-8-8-11-23 1-15 0 4 18 9 6 12 2-35-6-11-2-3 18 7-46 0-24 5-10 7-11-18 0-9 1 3-6-22 1 6-18-1-17-7 2-1 4-2-13-8-9 8-13 0-17 14 3 10 20 6 0 7-12 8 1-2 38 7 0 20 1 0 4-35 2 22 57 7 8-49 1-26-16-8-91-11-8 0-13-13-8 67-10 4-4 6-10-4-6-7-2 118 147 69-46"/>
</g></g>
<path d="M518.8 750.4C518.0 748.0 517.1 745.6 516.4 743.2C515.7 740.8 515.2 738.4 514.8 736.0C514.4 733.6 514.1 731.2 514.0 728.8C513.9 726.4 514.2 724.0 514.5 721.6C514.7 719.2 515.1 716.8 515.6 714.4C516.1 712.0 516.5 709.6 517.2 707.2C517.9 704.8 518.7 702.4 519.6 700.0C520.5 697.6 521.5 695.1 522.8 692.8C524.1 690.5 525.9 688.4 527.6 686.4C529.3 684.4 531.2 682.4 533.2 680.8C535.2 679.2 537.3 677.9 539.6 676.8C541.9 675.7 544.4 675.0 546.8 674.4C549.2 673.8 551.6 673.5 554.0 673.3C556.4 673.0 558.8 672.9 561.2 672.8C563.6 672.7 566.0 672.7 568.4 672.8C570.8 672.9 573.2 673.1 575.6 673.3C578.0 673.4 580.5 673.3 582.8 673.6C585.1 673.9 587.2 674.3 589.2 675.2C591.2 676.1 593.2 677.6 594.8 679.2C596.4 680.8 597.3 683.1 598.8 684.8C600.3 686.5 602.0 687.9 603.6 689.6C605.2 691.3 607.2 693.1 608.4 695.2C609.6 697.3 610.3 700.0 610.8 702.4C611.3 704.8 611.3 707.2 611.6 709.6C611.9 712.0 612.3 714.4 612.7 716.8C613.1 719.2 613.7 721.6 614.0 724.0C614.3 726.4 614.9 728.8 614.8 731.2C614.7 733.6 614.2 736.1 613.7 738.4C613.1 740.7 612.3 742.7 611.6 744.8C610.9 746.9 609.9 748.9 609.2 751.2C608.5 753.5 608.5 756.1 607.6 758.4C606.7 760.7 605.2 762.9 603.6 764.8C602.0 766.7 599.7 768.0 598.0 769.6C596.3 771.2 594.7 772.7 593.2 774.4C591.7 776.1 590.8 778.5 589.2 780.0C587.6 781.5 585.6 782.8 583.6 783.2C581.6 783.6 579.3 782.8 577.2 782.4C575.1 782.0 573.1 781.1 570.8 780.8C568.5 780.5 565.9 780.8 563.6 780.8C561.3 780.8 559.2 780.9 557.2 780.8C555.2 780.7 553.5 780.3 551.6 780.0" fill="none" stroke="#000" stroke-width="2.8" stroke-linejoin="round"/>
<text transform="translate(533.2,767.7) rotate(40.0)" y="6.1" text-anchor="middle" font-size="16.67">90%</text>
<path d="M589.7 712.0C588.5 709.6 587.5 706.9 586.0 704.8C584.5 702.7 582.4 700.8 580.4 699.2C578.4 697.6 576.1 696.3 574.0 695.2C571.9 694.1 569.7 693.1 567.6 692.8C565.5 692.5 563.3 693.0 561.2 693.6C559.1 694.2 556.9 695.3 554.8 696.3C552.7 697.4 550.4 698.5 548.4 700.0C546.4 701.5 544.4 703.6 542.8 705.6C541.2 707.6 539.9 709.7 538.8 712.0C537.7 714.3 536.9 716.8 536.4 719.2C535.9 721.6 535.5 724.0 535.6 726.4C535.7 728.8 536.2 731.2 536.9 733.6C537.5 736.0 538.5 738.5 539.6 740.8C540.7 743.1 542.3 745.2 543.6 747.2C544.9 749.2 546.0 751.3 547.6 752.8C549.2 754.3 551.2 755.2 553.2 756.0C555.2 756.8 557.3 757.3 559.6 757.6C561.9 757.9 564.7 757.7 566.8 757.6C568.9 757.5 570.8 757.2 572.4 756.8C574.0 756.4 575.1 755.7 576.4 755.2" fill="none" stroke="#000" stroke-width="2.8" stroke-linejoin="round"/>
<text transform="translate(587.6,738.4) rotate(-66.0)" y="6.1" text-anchor="middle" font-size="16.67">50%</text>
<rect x="468.14" y="631.05" width="194" height="187.4" fill="none" stroke="#000" stroke-width="1.1"/>
<text x="507.35" y="839.9" text-anchor="middle" font-size="13.9">−2.5</text>
<text x="563.6" y="839.9" text-anchor="middle" font-size="13.9">0.0</text>
<text x="619.85" y="839.9" text-anchor="middle" font-size="13.9">2.5</text>
<path d="M507.35 818.45v4.9M563.6 818.45v4.9M619.85 818.45v4.9M468.14 674.9h-4.9M468.14 726.5h-4.9M468.14 778.1h-4.9" stroke="#000" stroke-width="1.1" fill="none"/>
<text x="565.14" y="868" text-anchor="middle" font-size="24.3">p2</text>
<clipPath id="c133"><rect x="671.91" y="631.05" width="194" height="187.4"/></clipPath>
<g clip-path="url(#c133)">
<path d="M671.91 818.45V817.92H675.79V818.45H679.67V818.45H683.55V818.45H687.43V818.45H691.31V814.37H695.19V814.37H699.07V810.07H702.95V810.07H706.83V804.06H710.71V796.54H714.59V789.02H718.47V791.17H722.35V777.2H726.23V756.37H730.11V737.89H733.99V722.86H737.87V713.4H741.75V696.22H745.63V694.5H749.51V696.22H753.39V660.56H757.27V652.61H761.15V646.17H765.03V640.79H768.91V660.13H772.79V657.55H776.67V640.79H780.55V673.02H784.43V668.29H788.31V704.17H792.19V705.24H796.07V721.35H799.95V733.17H803.83V755.72H807.71V765.82H811.59V785.8H815.47V793.32H819.35V801.91H823.23V802.98H827.11V804.06H830.99V810.5H834.87V816.52H838.75V818.45H842.63V818.45H846.51V818.45H850.39V818.45H854.27V818.45H858.15V818.45H862.03V817.92H865.91V818.45Z" fill="#808080" stroke="#000" stroke-width="2.6" stroke-linejoin="miter"/>
<path d="M724.6 818.45V631.05M767.96 818.45V631.05M809.95 818.45V631.05" stroke="#000" stroke-width="2.78" stroke-dasharray="10 4.8" stroke-dashoffset="-0.9" fill="none"/>
</g>
<rect x="671.91" y="631.05" width="194" height="187.4" fill="none" stroke="#000" stroke-width="1.1"/>
<text x="714.5" y="839.9" text-anchor="middle" font-size="13.9">−2</text>
<text x="767.5" y="839.9" text-anchor="middle" font-size="13.9">0</text>
<text x="820.5" y="839.9" text-anchor="middle" font-size="13.9">2</text>
<path d="M714.5 818.45v4.9M767.5 818.45v4.9M820.5 818.45v4.9" stroke="#000" stroke-width="1.1" fill="none"/>
<text x="672.81" y="617.45" font-size="20.83">p3 = 0.0173</text>
<text x="803.87" y="608.49" font-size="14.58">+1.5847</text>
<text x="803.87" y="623.19" font-size="14.58">−1.6362</text>
<text x="768.91" y="868" text-anchor="middle" font-size="24.3">p3</text>
<linearGradient id="g1" x1="0" y1="0" x2="0" y2="1"><stop offset="0" stop-color="#f0f921"/><stop offset="0.03" stop-color="#f4ed27"/><stop offset="0.06" stop-color="#f8df25"/><stop offset="0.09" stop-color="#fcd225"/><stop offset="0.12" stop-color="#fdc527"/><stop offset="0.16" stop-color="#feb82c"/><stop offset="0.19" stop-color="#fdac33"/><stop offset="0.22" stop-color="#fba139"/><stop offset="0.25" stop-color="#f89540"/><stop offset="0.28" stop-color="#f58b47"/><stop offset="0.31" stop-color="#f0804e"/><stop offset="0.34" stop-color="#eb7655"/><stop offset="0.38" stop-color="#e66c5c"/><stop offset="0.41" stop-color="#e06363"/><stop offset="0.44" stop-color="#da5a6a"/><stop offset="0.47" stop-color="#d35171"/><stop offset="0.5" stop-color="#cc4778"/><stop offset="0.53" stop-color="#c43e7f"/><stop offset="0.56" stop-color="#bc3587"/><stop offset="0.59" stop-color="#b32c8e"/><stop offset="0.62" stop-color="#aa2395"/><stop offset="0.66" stop-color="#a01a9c"/><stop offset="0.69" stop-color="#9511a1"/><stop offset="0.72" stop-color="#8a09a5"/><stop offset="0.75" stop-color="#7e03a8"/><stop offset="0.78" stop-color="#7201a8"/><stop offset="0.81" stop-color="#6600a7"/><stop offset="0.84" stop-color="#5901a5"/><stop offset="0.88" stop-color="#4c02a1"/><stop offset="0.91" stop-color="#3f049c"/><stop offset="0.94" stop-color="#310597"/><stop offset="0.97" stop-color="#220690"/><stop offset="1" stop-color="#0d0887"/></linearGradient>
<rect x="921.2" y="19.9" width="33.5" height="808.8" fill="url(#g1)" stroke="#000" stroke-width="1.1"/>
<text x="964.7" y="44.99" font-size="15.3">−4</text>
<text x="964.7" y="173.24" font-size="15.3">−6</text>
<text x="964.7" y="301.49" font-size="15.3">−8</text>
<text x="964.7" y="429.73" font-size="15.3">−10</text>
<text x="964.7" y="557.98" font-size="15.3">−12</text>
<text x="964.7" y="686.23" font-size="15.3">−14</text>
<text x="964.7" y="814.48" font-size="15.3">−16</text>
<path d="M954.7 38.69h4.9M954.7 166.94h4.9M954.7 295.19h4.9M954.7 423.43h4.9M954.7 551.68h4.9M954.7 679.93h4.9M954.7 808.18h4.9" stroke="#000" stroke-width="1.1" fill="none"/>
<g transform="translate(1028.7,466.6) rotate(-90)">
<text font-size="22.2"><tspan x="0" y="0">log</tspan><tspan x="36" y="0" font-family='"DejaVu Math TeX Gyre","DejaVu Sans",sans-serif'>ℒ</tspan><tspan x="52.2" y="0">(</tspan><tspan x="61.6" y="0" font-style="italic">ϑ</tspan><tspan x="76.2" y="0">)</tspan></text>
<text x="75.6" y="-8.8" font-size="22.2">⃗</text>
</g>
</g>
</g></svg></body></html>
